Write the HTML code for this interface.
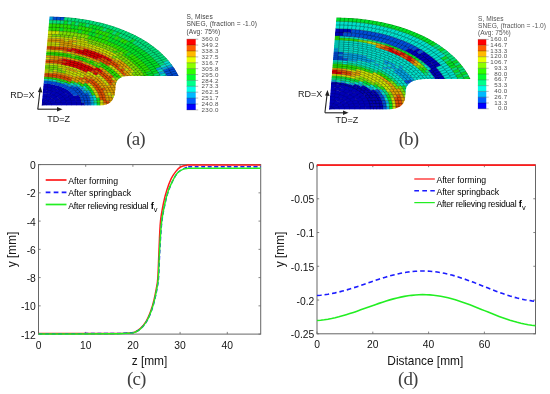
<!DOCTYPE html>
<html><head><meta charset="utf-8">
<style>
html,body{margin:0;padding:0;background:#fff;}
body{width:550px;height:394px;overflow:hidden;}
svg{display:block;}
text{font-family:"Liberation Sans",sans-serif;fill:#222;}
.lg{font-size:6.2px;fill:#505050;letter-spacing:0.35px;}
.hd{font-size:6.6px;fill:#444;letter-spacing:0.15px;}
.hd2{font-size:6.6px;fill:#555;letter-spacing:0.03px;}
.ax{font-size:10.3px;fill:#141414;}
.al{font-size:11.9px;fill:#141414;}
.le{font-size:8.7px;fill:#000;}
.cap{font-family:"Liberation Serif",serif;font-size:19px;fill:#404040;letter-spacing:-0.9px;}
.rd{font-size:9px;fill:#1a1a1a;}
</style></head><body>
<svg width="550" height="394" viewBox="0 0 550 394">
<defs>
<clipPath id="clA"><path d="M49.4 16.6L52.3 16.6L55.2 16.7L58.2 16.8L61.1 16.9L64.0 17.1L66.9 17.3L69.8 17.5L72.6 17.8L75.5 18.1L78.3 18.5L81.1 18.9L84.0 19.3L86.7 19.8L89.5 20.3L92.3 20.8L95.0 21.4L97.7 22.0L100.4 22.6L103.1 23.3L105.7 24.0L108.3 24.7L110.9 25.5L113.4 26.3L116.0 27.2L118.4 28.1L120.9 29.0L123.3 29.9L125.7 30.9L128.1 31.9L130.4 32.9L132.7 34.0L134.9 35.1L137.1 36.3L139.3 37.4L141.4 38.6L143.5 39.8L145.5 41.1L147.5 42.3L149.4 43.6L151.3 45.0L153.2 46.3L155.0 47.7L156.7 49.1L158.5 50.5L160.1 51.9L161.7 53.4L163.3 54.9L164.8 56.4L166.3 57.9L167.7 59.5L169.0 61.1L170.3 62.7L171.6 64.3L172.7 65.9L173.9 67.5L175.0 69.2L176.0 70.9L176.9 72.6L177.9 74.3L178.7 76.0L128.3 76.0Q116.5 76.0 115.6 85.9L115.1 91.3Q113.9 105.5 100.1 105.5L41.6 105.5Z"/></clipPath>
<clipPath id="clB"><path d="M336.3 17.6L339.3 17.6L342.4 17.7L345.4 17.8L348.4 17.9L351.4 18.1L354.4 18.3L357.4 18.5L360.3 18.8L363.3 19.2L366.2 19.5L369.2 19.9L372.1 20.4L375.0 20.9L377.8 21.4L380.7 21.9L383.5 22.5L386.3 23.2L389.1 23.8L391.9 24.5L394.6 25.3L397.3 26.0L400.0 26.8L402.6 27.7L405.2 28.6L407.8 29.5L410.4 30.4L412.9 31.4L415.4 32.4L417.8 33.5L420.2 34.5L422.6 35.6L424.9 36.8L427.2 37.9L429.4 39.1L431.6 40.4L433.8 41.6L435.9 42.9L438.0 44.2L440.0 45.6L442.0 47.0L443.9 48.4L445.8 49.8L447.6 51.2L449.4 52.7L451.1 54.2L452.8 55.7L454.4 57.3L456.0 58.8L457.5 60.4L459.0 62.0L460.4 63.6L461.7 65.3L463.0 67.0L464.3 68.6L465.5 70.3L466.6 72.1L467.7 73.8L468.7 75.5L469.6 77.3L470.5 79.1L425.8 79.1Q406.6 79.1 405.6 91.1L405.1 97.6Q404.2 109.5 386.5 109.5L329.0 109.5Z"/></clipPath>
<filter id="bl" x="-5%" y="-5%" width="110%" height="110%"><feGaussianBlur stdDeviation="0.5"/></filter>
<filter id="gb" x="0" y="0" width="100%" height="100%"><feGaussianBlur stdDeviation="0.3"/></filter>
</defs>
<rect width="550" height="394" fill="#fff"/>
<g filter="url(#gb)">
<!-- (a) -->
<g filter="url(#bl)"><g clip-path="url(#clA)"><path fill="#0000B7" stroke="#0000B7" stroke-width="0.25" d="M46.6 105.5L46.5 104.9L46.3 104.3L41.6 105.5L41.6 105.5L41.6 105.5ZM46.3 104.3L45.9 103.8L45.3 103.3L41.6 105.5L41.6 105.5L41.6 105.5ZM45.3 103.3L44.6 102.9L43.8 102.6L41.6 105.5L41.6 105.5L41.6 105.5ZM43.8 102.6L42.8 102.4L41.9 102.4L41.6 105.5L41.6 105.5L41.6 105.5ZM51.6 105.5L51.5 104.3L51.0 103.1L46.3 104.3L46.5 104.9L46.6 105.5ZM51.0 103.1L50.2 102.0L49.0 101.1L45.3 103.3L45.9 103.8L46.3 104.3ZM49.0 101.1L47.6 100.3L45.9 99.8L43.8 102.6L44.6 102.9L45.3 103.3ZM45.9 99.8L44.1 99.4L42.1 99.3L41.9 102.4L42.8 102.4L43.8 102.6ZM56.6 105.5L56.5 104.0L56.1 102.6L51.3 103.6L51.5 104.5L51.6 105.5ZM56.1 102.6L55.3 101.3L54.2 100.0L50.0 101.8L50.7 102.7L51.3 103.6ZM54.2 100.0L52.8 98.9L51.1 97.9L47.9 100.5L49.0 101.1L50.0 101.8ZM51.1 97.9L49.1 97.2L47.0 96.6L45.2 99.6L46.6 100.0L47.9 100.5ZM47.0 96.6L44.8 96.3L42.4 96.2L42.1 99.3L43.7 99.4L45.2 99.6ZM61.6 105.5L61.5 103.9L61.2 102.3L56.3 103.1L56.6 104.3L56.6 105.5ZM61.2 102.3L60.5 100.7L59.4 99.3L55.0 100.8L55.7 101.9L56.3 103.1ZM59.4 99.3L58.1 97.9L56.5 96.7L52.8 98.9L54.0 99.8L55.0 100.8ZM56.5 96.7L54.6 95.6L52.5 94.7L49.8 97.4L51.4 98.1L52.8 98.9ZM52.5 94.7L50.2 94.0L47.8 93.5L46.3 96.5L48.1 96.9L49.8 97.4ZM47.8 93.5L45.3 93.2L42.7 93.1L42.4 96.2L44.4 96.2L46.3 96.5ZM66.6 105.5L66.6 104.0L66.3 102.5L61.4 103.1L61.6 104.3L61.6 105.5ZM66.3 102.5L65.9 101.0L65.2 99.5L60.5 100.7L61.0 101.9L61.4 103.1ZM65.2 99.5L64.3 98.2L63.1 96.9L58.8 98.6L59.7 99.6L60.5 100.7ZM63.1 96.9L61.8 95.6L60.2 94.5L56.5 96.7L57.7 97.6L58.8 98.6ZM60.2 94.5L58.5 93.5L56.6 92.6L53.6 95.2L55.1 95.9L56.5 96.7ZM56.6 92.6L54.6 91.8L52.4 91.1L50.2 94.0L52.0 94.5L53.6 95.2ZM52.4 91.1L50.2 90.6L47.8 90.2L46.6 93.3L48.4 93.6L50.2 94.0ZM47.8 90.2L45.4 90.0L43.0 89.9L42.7 93.1L44.6 93.1L46.6 93.3ZM71.5 105.5L71.6 104.0L71.4 102.6L66.5 103.1L66.6 104.3L66.6 105.5ZM71.4 102.6L71.1 101.1L70.6 99.7L65.8 100.7L66.2 101.9L66.5 103.1ZM70.6 99.7L69.9 98.4L69.0 97.0L64.5 98.4L65.2 99.5L65.8 100.7ZM69.0 97.0L68.0 95.7L66.8 94.5L62.6 96.4L63.6 97.4L64.5 98.4ZM66.8 94.5L65.4 93.4L63.9 92.3L60.2 94.5L61.5 95.4L62.6 96.4ZM63.9 92.3L62.3 91.3L60.5 90.4L57.4 92.9L58.8 93.7L60.2 94.5ZM60.5 90.4L58.6 89.6L56.7 88.9L54.1 91.6L55.8 92.2L57.4 92.9ZM56.7 88.9L54.6 88.3L52.4 87.7L50.6 90.7L52.4 91.1L54.1 91.6ZM52.4 87.7L50.2 87.3L47.9 87.1L46.9 90.1L48.8 90.4L50.6 90.7ZM47.9 87.1L45.6 86.9L43.2 86.8L43.0 89.9L44.9 90.0L46.9 90.1ZM76.5 105.5L76.6 104.1L76.5 102.7L71.5 103.1L71.6 104.3L71.5 105.5ZM76.5 102.7L76.2 101.3L75.8 99.9L70.9 100.7L71.3 101.9L71.5 103.1ZM75.8 99.9L75.3 98.5L74.6 97.2L69.9 98.4L70.5 99.5L70.9 100.7ZM74.6 97.2L73.8 95.9L72.8 94.6L68.4 96.2L69.2 97.2L69.9 98.4ZM72.8 94.6L71.7 93.4L70.5 92.2L66.4 94.1L67.4 95.1L68.4 96.2ZM70.5 92.2L69.1 91.1L67.7 90.1L63.9 92.3L65.2 93.2L66.4 94.1ZM67.7 90.1L66.1 89.1L64.4 88.2L61.1 90.7L62.6 91.5L63.9 92.3ZM64.4 88.2L62.6 87.4L60.7 86.6L58.0 89.3L59.6 90.0L61.1 90.7ZM60.7 86.6L58.8 86.0L56.7 85.4L54.6 88.3L56.3 88.8L58.0 89.3ZM56.7 85.4L54.6 84.9L52.5 84.5L50.9 87.5L52.8 87.8L54.6 88.3ZM52.5 84.5L50.3 84.1L48.1 83.9L47.1 87.0L49.0 87.2L50.9 87.5ZM48.1 83.9L45.8 83.8L43.5 83.7L43.2 86.8L45.2 86.9L47.1 87.0ZM81.5 105.5L81.6 104.1L81.5 102.7L76.5 103.1L76.6 104.3L76.5 105.5ZM81.5 102.7L81.3 101.3L81.0 100.0L76.1 100.7L76.4 101.9L76.5 103.1ZM81.0 100.0L80.6 98.6L80.0 97.3L75.2 98.3L75.7 99.5L76.1 100.7ZM80.0 97.3L79.3 96.0L78.5 94.7L73.9 96.0L74.6 97.2L75.2 98.3ZM84.6 105.5L84.7 104.1L84.6 102.7L81.5 102.9L81.6 104.2L81.5 105.5Z"/><path fill="#004ED6" stroke="#004ED6" stroke-width="0.25" d="M78.5 94.7L77.6 93.5L76.6 92.3L72.2 93.9L73.1 95.0L73.9 96.0ZM76.6 92.3L75.4 91.1L74.2 90.0L70.1 91.9L71.2 92.9L72.2 93.9ZM74.2 90.0L72.8 88.9L71.4 87.9L67.7 90.1L68.9 91.0L70.1 91.9ZM71.4 87.9L69.8 86.9L68.2 86.0L64.9 88.5L66.3 89.3L67.7 90.1ZM68.2 86.0L66.5 85.2L64.7 84.4L61.8 87.1L63.4 87.7L64.9 88.5ZM64.7 84.4L62.8 83.7L60.9 83.1L58.5 85.9L60.2 86.4L61.8 87.1ZM60.9 83.1L58.9 82.5L56.8 82.0L54.9 84.9L56.7 85.4L58.5 85.9ZM56.8 82.0L54.8 81.6L52.6 81.2L51.2 84.3L53.1 84.6L54.9 84.9ZM52.6 81.2L50.4 81.0L48.2 80.8L47.4 83.9L49.3 84.0L51.2 84.3ZM48.2 80.8L46.0 80.6L43.8 80.6L43.5 83.7L45.5 83.8L47.4 83.9ZM84.6 102.7L84.5 101.3L84.2 99.9L81.1 100.3L81.4 101.6L81.5 102.9ZM84.2 99.9L83.8 98.6L83.2 97.2L80.2 97.8L80.7 99.1L81.1 100.3ZM83.2 97.2L82.6 95.9L81.9 94.6L79.0 95.4L79.7 96.6L80.2 97.8ZM81.9 94.6L81.0 93.3L80.0 92.1L77.3 93.1L78.2 94.2L79.0 95.4ZM80.0 92.1L79.0 90.9L77.8 89.7L75.2 90.9L76.3 91.9L77.3 93.1ZM77.8 89.7L76.5 88.6L75.1 87.6L72.7 88.8L74.0 89.8L75.2 90.9ZM75.1 87.6L73.7 86.5L72.1 85.6L69.9 87.0L71.4 87.9L72.7 88.8ZM87.7 105.5L87.8 104.2L87.7 102.8L84.7 103.0L84.7 104.3L84.6 105.5ZM87.7 102.8L87.6 101.5L87.4 100.2L84.3 100.6L84.5 101.8L84.7 103.0ZM87.4 100.2L87.1 98.9L86.6 97.6L83.6 98.2L84.0 99.4L84.3 100.6ZM86.6 97.6L86.1 96.4L85.5 95.1L82.6 95.8L83.1 97.0L83.6 98.2ZM85.5 95.1L84.8 93.9L84.0 92.7L81.2 93.5L81.9 94.7L82.6 95.8ZM84.0 92.7L83.1 91.5L82.1 90.4L79.4 91.4L80.3 92.5L81.2 93.5ZM82.1 90.4L81.1 89.3L79.9 88.2L77.3 89.3L78.4 90.3L79.4 91.4ZM79.9 88.2L78.7 87.1L77.4 86.1L75.0 87.4L76.2 88.4L77.3 89.3ZM90.8 105.5L90.9 104.2L90.8 102.8L87.8 103.0L87.8 104.2L87.7 105.5ZM90.8 102.8L90.7 101.5L90.5 100.2L87.4 100.5L87.6 101.7L87.8 103.0ZM90.5 100.2L90.2 98.9L89.8 97.6L86.8 98.1L87.2 99.3L87.4 100.5ZM89.8 97.6L89.3 96.3L88.8 95.0L85.8 95.7L86.3 96.9L86.8 98.1ZM88.8 95.0L88.1 93.8L87.3 92.5L84.5 93.4L85.2 94.5L85.8 95.7ZM178.5 105.5L178.6 104.3L178.7 103.1L172.9 103.2L172.9 104.4L172.8 105.5ZM178.7 103.1L178.7 101.9L178.7 100.7L173.0 100.9L173.0 102.1L172.9 103.2ZM178.7 100.7L178.7 99.5L178.6 98.3L172.9 98.6L173.0 99.8L173.0 100.9ZM178.6 98.3L178.6 97.1L178.5 95.9L172.8 96.3L172.9 97.5L172.9 98.6ZM178.5 95.9L178.3 94.8L178.2 93.6L172.5 94.1L172.7 95.2L172.8 96.3ZM178.2 93.6L178.0 92.4L177.8 91.2L172.1 91.8L172.3 92.9L172.5 94.1ZM177.8 91.2L177.6 90.0L177.3 88.9L171.7 89.5L171.9 90.7L172.1 91.8ZM177.3 88.9L177.0 87.7L176.7 86.5L171.1 87.3L171.4 88.4L171.7 89.5ZM176.7 86.5L176.4 85.3L176.0 84.2L170.4 85.1L170.8 86.2L171.1 87.3ZM176.0 84.2L175.6 83.0L175.2 81.9L169.7 82.9L170.1 84.0L170.4 85.1ZM175.2 81.9L174.8 80.7L174.3 79.6L168.8 80.7L169.2 81.8L169.7 82.9ZM174.3 79.6L173.8 78.4L173.3 77.3L167.8 78.5L168.3 79.6L168.8 80.7ZM173.3 77.3L172.7 76.2L172.2 75.1L166.7 76.3L167.3 77.4L167.8 78.5ZM172.2 75.1L171.6 73.9L170.9 72.8L165.6 74.2L166.2 75.3L166.7 76.3ZM170.9 72.8L170.3 71.7L169.6 70.6L164.3 72.1L164.9 73.1L165.6 74.2ZM169.6 70.6L168.9 69.6L168.2 68.5L162.9 70.0L163.6 71.1L164.3 72.1ZM184.2 105.5L184.3 104.3L184.4 103.1L178.6 103.2L178.6 104.4L178.5 105.5ZM184.4 103.1L184.4 102.0L184.4 100.8L178.7 101.0L178.7 102.1L178.6 103.2ZM184.4 100.8L184.4 99.6L184.4 98.4L178.7 98.7L178.7 99.8L178.7 101.0ZM184.4 98.4L184.3 97.2L184.2 96.1L178.5 96.4L178.6 97.6L178.7 98.7ZM184.2 96.1L184.1 94.9L184.0 93.7L178.3 94.2L178.4 95.3L178.5 96.4ZM184.0 93.7L183.8 92.5L183.6 91.4L177.9 91.9L178.1 93.0L178.3 94.2ZM183.6 91.4L183.4 90.2L183.2 89.0L177.5 89.7L177.7 90.8L177.9 91.9ZM183.2 89.0L182.9 87.9L182.6 86.7L177.0 87.5L177.3 88.6L177.5 89.7ZM182.6 86.7L182.3 85.6L182.0 84.4L176.4 85.2L176.7 86.4L177.0 87.5ZM182.0 84.4L181.6 83.3L181.2 82.1L175.6 83.0L176.0 84.1L176.4 85.2ZM181.2 82.1L180.8 81.0L180.4 79.8L174.8 80.9L175.2 82.0L175.6 83.0ZM180.4 79.8L179.9 78.7L179.4 77.6L173.9 78.7L174.4 79.8L174.8 80.9ZM179.4 77.6L178.9 76.5L178.4 75.3L172.9 76.5L173.4 77.6L173.9 78.7ZM178.4 75.3L177.8 74.2L177.2 73.1L171.8 74.4L172.4 75.5L172.9 76.5ZM177.2 73.1L176.6 72.0L176.0 70.9L170.6 72.3L171.2 73.4L171.8 74.4ZM176.0 70.9L175.4 69.8L174.7 68.8L169.4 70.2L170.0 71.3L170.6 72.3ZM174.7 68.8L174.0 67.7L173.3 66.6L168.0 68.2L168.7 69.2L169.4 70.2ZM64.5 17.1L62.6 17.0L60.8 16.9L60.0 20.4L61.8 20.5L63.6 20.6ZM60.8 16.9L58.9 16.8L57.0 16.7L56.4 20.3L58.2 20.3L60.0 20.4ZM57.0 16.7L55.1 16.7L53.2 16.6L52.7 20.2L54.5 20.2L56.4 20.3Z"/><path fill="#00A2E0" stroke="#00A2E0" stroke-width="0.25" d="M72.1 85.6L70.5 84.7L68.8 83.8L66.8 85.4L68.4 86.2L69.9 87.0ZM68.8 83.8L67.0 83.0L65.1 82.3L63.5 83.9L65.2 84.6L66.8 85.4ZM77.4 86.1L76.0 85.2L74.5 84.3L72.3 85.7L73.7 86.5L75.0 87.4ZM87.3 92.5L86.5 91.3L85.6 90.2L82.8 91.1L83.7 92.2L84.5 93.4ZM85.6 90.2L84.5 89.0L83.4 87.9L80.8 89.0L81.8 90.1L82.8 91.1ZM83.4 87.9L82.3 86.8L81.0 85.8L78.5 87.0L79.7 88.0L80.8 89.0ZM93.9 105.5L94.0 104.2L93.9 102.8L90.9 103.0L90.9 104.2L90.8 105.5ZM93.9 102.8L93.8 101.5L93.6 100.1L90.6 100.5L90.8 101.7L90.9 103.0ZM93.6 100.1L93.4 98.8L93.0 97.5L90.0 98.0L90.3 99.2L90.6 100.5ZM93.0 97.5L92.5 96.2L92.0 94.9L89.0 95.5L89.5 96.7L90.0 98.0ZM92.0 94.9L91.3 93.7L90.6 92.4L87.7 93.2L88.4 94.4L89.0 95.5ZM90.6 92.4L89.8 91.2L88.9 90.0L86.1 90.9L87.0 92.0L87.7 93.2ZM172.7 96.0L172.6 94.8L172.4 93.6L166.8 94.2L166.9 95.3L167.0 96.4ZM172.4 93.6L172.3 92.5L172.0 91.3L166.4 91.9L166.6 93.0L166.8 94.2ZM170.2 84.3L169.8 83.2L169.3 82.0L163.8 83.1L164.2 84.2L164.6 85.3ZM169.3 82.0L168.9 80.9L168.4 79.8L162.9 80.9L163.3 82.0L163.8 83.1ZM164.9 73.1L164.2 72.0L163.5 70.9L158.2 72.4L158.9 73.5L159.5 74.5ZM162.1 68.8L161.3 67.7L160.5 66.7L155.3 68.4L156.1 69.4L156.8 70.4ZM168.2 68.5L167.4 67.4L166.7 66.3L161.5 68.0L162.2 69.0L162.9 70.0ZM173.3 66.6L172.5 65.6L171.7 64.5L166.5 66.1L167.3 67.2L168.0 68.2ZM53.2 16.6L51.3 16.6L49.4 16.6L49.1 20.2L50.9 20.2L52.7 20.2Z"/><path fill="#00E07A" stroke="#00E07A" stroke-width="0.25" d="M65.1 82.3L63.2 81.6L61.2 81.0L59.8 82.8L61.7 83.3L63.5 83.9ZM61.2 81.0L59.2 80.5L57.1 80.0L56.0 81.8L57.9 82.3L59.8 82.8ZM78.3 83.8L76.8 82.9L75.3 82.0L73.2 83.5L74.6 84.3L76.0 85.2ZM88.9 90.0L88.0 88.8L86.9 87.7L84.3 88.7L85.2 89.8L86.1 90.9ZM97.0 102.8L96.9 101.4L96.8 100.1L93.7 100.4L93.9 101.7L93.9 102.9ZM167.1 105.5L167.2 104.3L167.2 103.1L161.5 103.2L161.5 104.4L161.4 105.5ZM167.2 103.1L167.3 101.9L167.3 100.7L161.6 100.9L161.6 102.1L161.5 103.2ZM167.3 100.7L167.2 99.5L167.2 98.3L161.5 98.6L161.5 99.8L161.6 100.9ZM167.2 98.3L167.1 97.1L167.0 95.9L161.3 96.3L161.4 97.5L161.5 98.6ZM167.0 95.9L166.8 94.7L166.7 93.5L161.0 94.0L161.1 95.2L161.3 96.3ZM166.7 93.5L166.4 92.3L166.2 91.1L160.5 91.8L160.8 92.9L161.0 94.0ZM166.2 91.1L165.9 89.9L165.7 88.8L160.0 89.5L160.3 90.6L160.5 91.8ZM165.7 88.8L165.3 87.6L165.0 86.4L159.4 87.3L159.7 88.4L160.0 89.5ZM165.0 86.4L164.6 85.3L164.2 84.1L158.6 85.1L159.0 86.2L159.4 87.3ZM164.2 84.1L163.7 82.9L163.3 81.8L157.7 82.9L158.2 84.0L158.6 85.1ZM163.3 81.8L162.8 80.6L162.2 79.5L156.8 80.7L157.3 81.8L157.7 82.9ZM162.2 79.5L161.7 78.4L161.1 77.2L155.7 78.5L156.2 79.6L156.8 80.7ZM161.1 77.2L160.5 76.1L159.8 75.0L154.5 76.4L155.1 77.5L155.7 78.5ZM159.8 75.0L159.2 73.9L158.5 72.8L153.2 74.3L153.8 75.3L154.5 76.4ZM165.0 64.2L164.2 63.2L163.3 62.1L158.2 63.9L159.1 64.9L159.9 65.9ZM163.3 62.1L162.4 61.1L161.5 60.1L156.5 62.0L157.4 63.0L158.2 63.9ZM161.5 60.1L160.6 59.1L159.6 58.1L154.7 60.1L155.6 61.0L156.5 62.0ZM159.6 58.1L158.6 57.1L157.6 56.1L152.7 58.2L153.7 59.1L154.7 60.1ZM157.6 56.1L156.5 55.1L155.5 54.2L150.7 56.3L151.8 57.2L152.7 58.2ZM155.5 54.2L154.4 53.2L153.3 52.3L148.6 54.5L149.7 55.4L150.7 56.3ZM153.3 52.3L152.2 51.4L151.0 50.4L146.5 52.7L147.6 53.6L148.6 54.5ZM151.0 50.4L149.9 49.5L148.7 48.6L144.2 51.0L145.3 51.9L146.5 52.7ZM148.7 48.6L147.5 47.7L146.2 46.9L141.9 49.3L143.0 50.2L144.2 51.0ZM146.2 46.9L145.0 46.0L143.7 45.2L139.4 47.7L140.7 48.5L141.9 49.3ZM143.7 45.2L142.4 44.3L141.1 43.5L136.9 46.1L138.2 46.9L139.4 47.7ZM141.1 43.5L139.8 42.7L138.4 41.9L134.4 44.5L135.7 45.3L136.9 46.1ZM138.4 41.9L137.0 41.1L135.6 40.3L131.7 43.0L133.1 43.8L134.4 44.5ZM132.8 38.8L131.4 38.0L129.9 37.3L126.2 40.2L127.6 40.8L129.0 41.6ZM129.9 37.3L128.4 36.6L126.9 35.9L123.4 38.8L124.8 39.5L126.2 40.2ZM126.9 35.9L125.4 35.2L123.9 34.5L120.5 37.5L121.9 38.1L123.4 38.8ZM123.9 34.5L122.3 33.9L120.8 33.2L117.5 36.2L119.0 36.9L120.5 37.5ZM117.6 32.0L116.0 31.4L114.4 30.8L111.3 33.9L112.9 34.5L114.4 35.1ZM107.7 28.6L106.1 28.1L104.3 27.6L101.7 30.8L103.4 31.3L105.0 31.8ZM90.3 24.2L88.5 23.8L86.7 23.5L84.8 26.9L86.6 27.2L88.3 27.6ZM79.4 22.3L77.5 22.0L75.7 21.8L74.2 25.3L76.0 25.5L77.8 25.8ZM71.9 21.4L70.0 21.2L68.2 21.0L67.0 24.5L68.9 24.7L70.7 24.9ZM64.4 20.7L62.5 20.6L60.6 20.5L59.8 24.0L61.6 24.1L63.4 24.2ZM60.6 20.5L58.7 20.4L56.8 20.3L56.1 23.8L58.0 23.9L59.8 24.0ZM56.8 20.3L54.8 20.2L52.9 20.2L52.5 23.7L54.3 23.8L56.1 23.8ZM52.9 20.2L51.0 20.2L49.1 20.2L48.8 23.7L50.6 23.7L52.5 23.7ZM168.4 60.4L167.5 59.4L166.6 58.3L161.6 60.2L162.5 61.2L163.3 62.2ZM166.6 58.3L165.7 57.3L164.7 56.4L159.8 58.3L160.7 59.3L161.6 60.2ZM164.7 56.4L163.8 55.4L162.8 54.4L157.9 56.4L158.9 57.4L159.8 58.3ZM162.8 54.4L161.8 53.4L160.7 52.5L156.0 54.6L157.0 55.5L157.9 56.4ZM160.7 52.5L159.7 51.5L158.6 50.6L153.9 52.8L154.9 53.7L156.0 54.6ZM158.6 50.6L157.5 49.7L156.4 48.8L151.8 51.0L152.8 51.9L153.9 52.8ZM156.4 48.8L155.2 47.9L154.1 47.0L149.6 49.3L150.7 50.2L151.8 51.0ZM154.1 47.0L152.9 46.1L151.7 45.2L147.3 47.6L148.4 48.5L149.6 49.3ZM151.7 45.2L150.4 44.3L149.2 43.5L144.9 46.0L146.1 46.8L147.3 47.6ZM149.2 43.5L147.9 42.6L146.7 41.8L142.5 44.4L143.7 45.2L144.9 46.0ZM146.7 41.8L145.4 41.0L144.1 40.2L140.0 42.8L141.2 43.6L142.5 44.4ZM144.1 40.2L142.7 39.4L141.4 38.6L137.4 41.3L138.7 42.0L140.0 42.8ZM141.4 38.6L140.0 37.8L138.6 37.1L134.7 39.8L136.1 40.5L137.4 41.3ZM138.6 37.1L137.2 36.3L135.8 35.6L132.0 38.4L133.4 39.1L134.7 39.8ZM135.8 35.6L134.4 34.9L132.9 34.1L129.3 37.0L130.6 37.7L132.0 38.4ZM132.9 34.1L131.4 33.4L129.9 32.8L126.4 35.7L127.8 36.3L129.3 37.0ZM129.9 32.8L128.4 32.1L126.9 31.4L123.5 34.4L125.0 35.0L126.4 35.7ZM126.9 31.4L125.4 30.8L123.9 30.1L120.6 33.2L122.0 33.8L123.5 34.4ZM123.9 30.1L122.3 29.5L120.7 28.9L117.5 32.0L119.1 32.6L120.6 33.2ZM120.7 28.9L119.1 28.3L117.5 27.7L114.5 30.8L116.0 31.4L117.5 32.0ZM117.5 27.7L115.9 27.2L114.3 26.6L111.4 29.8L112.9 30.3L114.5 30.8ZM114.3 26.6L112.6 26.1L111.0 25.6L108.2 28.7L109.8 29.3L111.4 29.8ZM111.0 25.6L109.3 25.0L107.6 24.5L105.0 27.8L106.6 28.3L108.2 28.7ZM107.6 24.5L105.9 24.1L104.2 23.6L101.7 26.9L103.4 27.3L105.0 27.8ZM104.2 23.6L102.5 23.1L100.8 22.7L98.4 26.0L100.1 26.4L101.7 26.9ZM100.8 22.7L99.1 22.3L97.3 21.9L95.1 25.2L96.8 25.6L98.4 26.0ZM97.3 21.9L95.6 21.5L93.8 21.1L91.7 24.5L93.4 24.8L95.1 25.2ZM93.8 21.1L92.0 20.7L90.2 20.4L88.3 23.8L90.0 24.1L91.7 24.5ZM90.2 20.4L88.4 20.1L86.6 19.7L84.8 23.2L86.6 23.5L88.3 23.8ZM86.6 19.7L84.8 19.4L83.0 19.1L81.4 22.6L83.1 22.9L84.8 23.2ZM83.0 19.1L81.2 18.9L79.4 18.6L77.9 22.1L79.6 22.3L81.4 22.6ZM79.4 18.6L77.5 18.4L75.7 18.1L74.3 21.6L76.1 21.9L77.9 22.1ZM75.7 18.1L73.8 17.9L72.0 17.7L70.8 21.2L72.5 21.4L74.3 21.6ZM72.0 17.7L70.1 17.6L68.3 17.4L67.2 20.9L69.0 21.1L70.8 21.2ZM68.3 17.4L66.4 17.2L64.5 17.1L63.6 20.6L65.4 20.8L67.2 20.9Z"/><path fill="#00E0CC" stroke="#00E0CC" stroke-width="0.25" d="M57.1 80.0L55.0 79.6L52.8 79.3L52.0 81.2L54.0 81.5L56.0 81.8ZM52.8 79.3L50.7 79.0L48.4 78.8L47.9 80.7L50.0 80.9L52.0 81.2ZM48.4 78.8L46.2 78.7L44.0 78.7L43.8 80.6L45.9 80.6L47.9 80.7ZM74.5 84.3L73.0 83.4L71.4 82.6L69.4 84.1L70.9 84.9L72.3 85.7ZM81.0 85.8L79.7 84.8L78.3 83.8L76.0 85.2L77.3 86.1L78.5 87.0ZM86.9 87.7L85.8 86.6L84.6 85.5L82.1 86.7L83.2 87.7L84.3 88.7ZM97.0 105.5L97.1 104.1L97.0 102.8L93.9 102.9L94.0 104.2L93.9 105.5ZM96.8 100.1L96.5 98.8L96.2 97.4L93.1 97.9L93.4 99.1L93.7 100.4ZM96.2 97.4L95.7 96.1L95.2 94.8L92.2 95.4L92.7 96.7L93.1 97.9ZM172.8 105.5L172.9 104.3L172.9 103.1L167.2 103.2L167.2 104.4L167.1 105.5ZM172.9 103.1L173.0 101.9L173.0 100.7L167.3 101.0L167.3 102.1L167.2 103.2ZM173.0 100.7L173.0 99.6L172.9 98.4L167.2 98.7L167.3 99.8L167.3 101.0ZM172.9 98.4L172.8 97.2L172.7 96.0L167.0 96.4L167.1 97.5L167.2 98.7ZM172.0 91.3L171.8 90.1L171.5 89.0L165.9 89.7L166.1 90.8L166.4 91.9ZM171.5 89.0L171.2 87.8L170.9 86.6L165.3 87.5L165.6 88.6L165.9 89.7ZM170.9 86.6L170.6 85.5L170.2 84.3L164.6 85.3L165.0 86.4L165.3 87.5ZM168.4 79.8L167.9 78.6L167.3 77.5L161.9 78.7L162.4 79.8L162.9 80.9ZM167.3 77.5L166.8 76.4L166.2 75.3L160.8 76.6L161.3 77.7L161.9 78.7ZM166.2 75.3L165.6 74.2L164.9 73.1L159.5 74.5L160.2 75.6L160.8 76.6ZM163.5 70.9L162.8 69.9L162.1 68.8L156.8 70.4L157.5 71.4L158.2 72.4ZM166.7 66.3L165.9 65.3L165.0 64.2L159.9 65.9L160.7 66.9L161.5 68.0ZM171.7 64.5L170.9 63.5L170.1 62.4L165.0 64.1L165.8 65.1L166.5 66.1ZM170.1 62.4L169.3 61.4L168.4 60.4L163.3 62.2L164.2 63.2L165.0 64.1Z"/><path fill="#28E000" stroke="#28E000" stroke-width="0.25" d="M71.4 82.6L69.7 81.8L68.0 81.1L66.2 82.7L67.9 83.4L69.4 84.1ZM68.0 81.1L66.2 80.4L64.4 79.8L62.9 81.5L64.6 82.1L66.2 82.7ZM64.4 79.8L62.5 79.2L60.6 78.7L59.3 80.5L61.1 81.0L62.9 81.5ZM60.6 78.7L58.6 78.2L56.6 77.9L55.6 79.7L57.5 80.1L59.3 80.5ZM56.6 77.9L54.6 77.5L52.6 77.2L51.8 79.1L53.7 79.4L55.6 79.7ZM52.6 77.2L50.5 77.0L48.4 76.9L47.9 78.8L49.9 78.9L51.8 79.1ZM48.4 76.9L46.2 76.8L44.1 76.8L44.0 78.7L45.9 78.7L47.9 78.8ZM75.3 82.0L73.7 81.2L72.0 80.4L70.1 82.0L71.7 82.7L73.2 83.5ZM84.6 85.5L83.3 84.4L82.0 83.4L79.6 84.7L80.9 85.7L82.1 86.7ZM82.0 83.4L80.6 82.5L79.1 81.5L76.9 82.9L78.3 83.8L79.6 84.7ZM95.2 94.8L94.6 93.6L93.9 92.3L91.0 93.0L91.6 94.2L92.2 95.4ZM100.1 102.8L100.1 101.4L99.9 100.1L96.8 100.4L97.0 101.6L97.0 102.9ZM100.6 67.0L99.1 66.1L97.5 65.2L95.4 66.7L96.9 67.5L98.4 68.4ZM97.5 65.2L95.8 64.4L94.2 63.5L92.2 65.1L93.8 65.9L95.4 66.7ZM94.2 63.5L92.5 62.8L90.7 62.0L88.9 63.6L90.6 64.3L92.2 65.1ZM90.7 62.0L88.9 61.3L87.1 60.6L85.4 62.3L87.2 62.9L88.9 63.6ZM87.1 60.6L85.3 59.9L83.4 59.3L81.9 61.0L83.7 61.6L85.4 62.3ZM83.4 59.3L81.5 58.7L79.6 58.1L78.2 59.9L80.0 60.4L81.9 61.0ZM79.6 58.1L77.6 57.6L75.7 57.1L74.4 58.9L76.3 59.4L78.2 59.9ZM75.7 57.1L73.7 56.6L71.6 56.2L70.5 58.0L72.5 58.4L74.4 58.9ZM71.6 56.2L69.6 55.8L67.5 55.4L66.6 57.3L68.5 57.6L70.5 58.0ZM67.5 55.4L65.4 55.1L63.3 54.8L62.5 56.7L64.6 56.9L66.6 57.3ZM63.3 54.8L61.2 54.5L59.1 54.3L58.5 56.2L60.5 56.4L62.5 56.7ZM59.1 54.3L57.0 54.1L54.8 53.9L54.3 55.8L56.4 56.0L58.5 56.2ZM54.8 53.9L52.7 53.8L50.5 53.7L50.2 55.6L52.3 55.7L54.3 55.8ZM50.5 53.7L48.3 53.7L46.2 53.6L46.0 55.6L48.1 55.6L50.2 55.6ZM117.3 77.0L116.2 75.9L115.1 74.8L112.5 75.9L113.6 77.0L114.6 78.1ZM115.1 74.8L113.9 73.7L112.7 72.6L110.2 73.8L111.3 74.8L112.5 75.9ZM112.7 72.6L111.4 71.5L110.1 70.5L107.7 71.7L108.9 72.7L110.2 73.8ZM110.1 70.5L108.8 69.4L107.4 68.4L105.0 69.8L106.4 70.7L107.7 71.7ZM107.4 68.4L105.9 67.5L104.5 66.5L102.2 67.9L103.6 68.8L105.0 69.8ZM104.5 66.5L102.9 65.6L101.4 64.7L99.2 66.2L100.7 67.0L102.2 67.9ZM94.8 61.4L93.0 60.6L91.2 59.9L89.5 61.5L91.2 62.2L92.9 62.9ZM87.6 58.5L85.7 57.8L83.8 57.2L82.3 58.9L84.1 59.5L85.9 60.2ZM83.8 57.2L81.9 56.6L80.0 56.1L78.6 57.8L80.5 58.4L82.3 58.9ZM80.0 56.1L78.0 55.6L76.0 55.1L74.8 56.9L76.7 57.3L78.6 57.8ZM71.9 54.2L69.9 53.8L67.8 53.4L66.9 55.3L68.9 55.6L70.8 56.0ZM67.8 53.4L65.7 53.1L63.6 52.8L62.8 54.7L64.8 55.0L66.9 55.3ZM63.6 52.8L61.5 52.6L59.3 52.3L58.7 54.2L60.8 54.5L62.8 54.7ZM59.3 52.3L57.2 52.1L55.0 52.0L54.5 53.9L56.6 54.1L58.7 54.2ZM55.0 52.0L52.9 51.9L50.7 51.8L50.4 53.7L52.5 53.8L54.5 53.9ZM50.7 51.8L48.5 51.7L46.3 51.7L46.2 53.6L48.3 53.7L50.4 53.7ZM123.3 80.0L122.4 78.8L121.4 77.6L118.7 78.6L119.6 79.7L120.4 80.9ZM121.4 77.6L120.4 76.5L119.4 75.4L116.7 76.4L117.7 77.5L118.7 78.6ZM119.4 75.4L118.3 74.3L117.2 73.2L114.6 74.3L115.7 75.4L116.7 76.4ZM117.2 73.2L116.1 72.1L114.9 71.1L112.3 72.3L113.5 73.3L114.6 74.3ZM114.9 71.1L113.6 70.0L112.3 69.0L109.9 70.3L111.1 71.3L112.3 72.3ZM112.3 69.0L111.0 68.0L109.6 67.1L107.3 68.4L108.6 69.3L109.9 70.3ZM109.6 67.1L108.2 66.1L106.8 65.2L104.6 66.6L105.9 67.5L107.3 68.4ZM106.8 65.2L105.3 64.3L103.8 63.4L101.7 64.9L103.1 65.7L104.6 66.6ZM103.8 63.4L102.3 62.5L100.7 61.7L98.6 63.2L100.2 64.0L101.7 64.9ZM152.6 105.5L152.7 104.2L152.7 102.8L149.6 102.9L149.6 104.2L149.5 105.5ZM152.7 102.8L152.8 101.5L152.7 100.2L149.6 100.4L149.7 101.6L149.6 102.9ZM152.7 100.2L152.7 98.9L152.6 97.6L149.5 97.8L149.6 99.1L149.6 100.4ZM152.6 97.6L152.4 96.2L152.2 94.9L149.1 95.2L149.3 96.5L149.5 97.8ZM152.2 94.9L152.0 93.6L151.7 92.3L148.7 92.7L148.9 94.0L149.1 95.2ZM151.7 92.3L151.4 91.0L151.1 89.7L148.0 90.2L148.3 91.4L148.7 92.7ZM151.1 89.7L150.7 88.4L150.2 87.2L147.2 87.7L147.6 88.9L148.0 90.2ZM150.2 87.2L149.8 85.9L149.2 84.6L146.3 85.2L146.7 86.4L147.2 87.7ZM149.2 84.6L148.7 83.4L148.1 82.1L145.1 82.8L145.7 84.0L146.3 85.2ZM148.1 82.1L147.5 80.9L146.8 79.6L143.9 80.4L144.5 81.6L145.1 82.8ZM146.8 79.6L146.1 78.4L145.4 77.2L142.5 78.0L143.2 79.2L143.9 80.4ZM145.4 77.2L144.6 76.0L143.8 74.8L140.9 75.7L141.7 76.8L142.5 78.0ZM116.9 52.1L115.3 51.3L113.7 50.5L111.7 52.0L113.3 52.8L114.8 53.6ZM155.7 105.5L155.8 104.2L155.8 102.8L152.7 102.9L152.7 104.2L152.6 105.5ZM155.8 102.8L155.9 101.5L155.8 100.2L152.7 100.3L152.8 101.6L152.7 102.9ZM155.8 100.2L155.8 98.9L155.7 97.5L152.6 97.8L152.7 99.0L152.7 100.3ZM155.7 97.5L155.5 96.2L155.3 94.9L152.3 95.2L152.4 96.5L152.6 97.8ZM155.3 94.9L155.1 93.6L154.9 92.3L151.8 92.6L152.0 93.9L152.3 95.2ZM154.9 92.3L154.5 91.0L154.2 89.7L151.2 90.1L151.5 91.4L151.8 92.6ZM154.2 89.7L153.8 88.4L153.4 87.1L150.4 87.6L150.8 88.8L151.2 90.1ZM153.4 87.1L152.9 85.8L152.5 84.5L149.4 85.1L149.9 86.3L150.4 87.6ZM152.5 84.5L151.9 83.3L151.3 82.0L148.4 82.6L148.9 83.9L149.4 85.1ZM151.3 82.0L150.7 80.8L150.1 79.5L147.1 80.2L147.8 81.4L148.4 82.6ZM150.1 79.5L149.4 78.3L148.7 77.1L145.8 77.8L146.5 79.0L147.1 80.2ZM148.7 77.1L147.9 75.8L147.1 74.6L144.2 75.5L145.0 76.6L145.8 77.8ZM147.1 74.6L146.3 73.4L145.4 72.3L142.6 73.2L143.4 74.3L144.2 75.5ZM145.4 72.3L144.5 71.1L143.5 69.9L140.8 70.9L141.7 72.0L142.6 73.2ZM143.5 69.9L142.5 68.8L141.5 67.7L138.8 68.7L139.8 69.8L140.8 70.9ZM141.5 67.7L140.5 66.5L139.4 65.4L136.7 66.5L137.8 67.6L138.8 68.7ZM139.4 65.4L138.3 64.3L137.1 63.3L134.5 64.4L135.6 65.5L136.7 66.5ZM137.1 63.3L135.9 62.2L134.7 61.2L132.2 62.4L133.4 63.4L134.5 64.4ZM134.7 61.2L133.4 60.1L132.1 59.1L129.7 60.4L130.9 61.4L132.2 62.4ZM132.1 59.1L130.8 58.1L129.5 57.1L127.1 58.4L128.4 59.4L129.7 60.4ZM129.5 57.1L128.1 56.2L126.7 55.2L124.4 56.6L125.7 57.5L127.1 58.4ZM126.7 55.2L125.2 54.3L123.8 53.4L121.5 54.8L123.0 55.7L124.4 56.6ZM120.7 51.6L119.2 50.7L117.6 49.9L115.5 51.4L117.1 52.2L118.6 53.1ZM150.8 71.0L150.0 69.9L149.2 68.9L144.1 70.6L144.9 71.6L145.6 72.6ZM149.2 68.9L148.3 67.8L147.4 66.8L142.4 68.6L143.2 69.6L144.1 70.6ZM147.4 66.8L146.5 65.8L145.6 64.8L140.6 66.7L141.5 67.7L142.4 68.6ZM145.6 64.8L144.6 63.8L143.6 62.8L138.7 64.8L139.7 65.8L140.6 66.7ZM143.6 62.8L142.6 61.8L141.5 60.8L136.8 63.0L137.8 63.9L138.7 64.8ZM141.5 60.8L140.4 59.9L139.3 58.9L134.7 61.2L135.7 62.1L136.8 63.0ZM139.3 58.9L138.2 58.0L137.1 57.1L132.5 59.4L133.6 60.3L134.7 61.2ZM137.1 57.1L135.9 56.2L134.7 55.3L130.2 57.7L131.4 58.5L132.5 59.4ZM134.7 55.3L133.5 54.4L132.2 53.5L127.9 56.0L129.1 56.8L130.2 57.7ZM129.6 51.9L128.3 51.0L127.0 50.2L122.9 52.9L124.2 53.6L125.4 54.4ZM127.0 50.2L125.6 49.4L124.2 48.6L120.3 51.3L121.6 52.1L122.9 52.9ZM124.2 48.6L122.8 47.9L121.4 47.1L117.6 49.9L119.0 50.6L120.3 51.3ZM121.4 47.1L120.0 46.4L118.5 45.7L114.8 48.5L116.2 49.2L117.6 49.9ZM118.5 45.7L117.0 44.9L115.5 44.3L112.0 47.2L113.4 47.8L114.8 48.5ZM115.5 44.3L114.0 43.6L112.4 42.9L109.1 45.9L110.5 46.5L112.0 47.2ZM112.4 42.9L110.9 42.3L109.3 41.6L106.1 44.7L107.6 45.3L109.1 45.9ZM109.3 41.6L107.7 41.0L106.1 40.4L103.0 43.5L104.6 44.1L106.1 44.7ZM106.1 40.4L104.5 39.9L102.8 39.3L99.9 42.4L101.5 43.0L103.0 43.5ZM102.8 39.3L101.2 38.7L99.5 38.2L96.7 41.4L98.3 41.9L99.9 42.4ZM99.5 38.2L97.8 37.7L96.1 37.2L93.5 40.5L95.1 40.9L96.7 41.4ZM96.1 37.2L94.4 36.7L92.6 36.3L90.2 39.6L91.8 40.0L93.5 40.5ZM92.6 36.3L90.9 35.8L89.1 35.4L86.9 38.8L88.5 39.2L90.2 39.6ZM110.3 37.7L108.7 37.2L107.0 36.6L104.0 39.7L105.6 40.3L107.2 40.8ZM107.0 36.6L105.4 36.0L103.7 35.5L100.9 38.7L102.5 39.2L104.0 39.7ZM100.3 34.4L98.6 33.9L96.8 33.5L94.3 36.7L96.0 37.2L97.6 37.7ZM89.8 31.7L88.0 31.3L86.2 30.9L84.2 34.3L85.9 34.7L87.6 35.1ZM86.2 30.9L84.4 30.6L82.5 30.3L80.7 33.7L82.4 34.0L84.2 34.3ZM78.9 29.6L77.0 29.3L75.2 29.1L73.6 32.6L75.4 32.8L77.2 33.1ZM75.2 29.1L73.3 28.8L71.4 28.6L70.1 32.1L71.8 32.3L73.6 32.6ZM71.4 28.6L69.5 28.4L67.6 28.2L66.4 31.7L68.3 31.9L70.1 32.1ZM67.6 28.2L65.7 28.0L63.8 27.9L62.8 31.4L64.6 31.5L66.4 31.7ZM60.0 27.6L58.1 27.5L56.2 27.4L55.5 31.0L57.3 31.0L59.2 31.1ZM56.2 27.4L54.3 27.4L52.3 27.3L51.8 30.9L53.7 30.9L55.5 31.0ZM52.3 27.3L50.4 27.3L48.5 27.3L48.2 30.8L50.0 30.8L51.8 30.9ZM128.6 41.3L127.2 40.6L125.7 39.9L122.0 42.7L123.4 43.4L124.8 44.1ZM125.7 39.9L124.2 39.2L122.7 38.5L119.2 41.4L120.6 42.1L122.0 42.7ZM119.7 37.2L118.1 36.5L116.6 35.9L113.3 38.9L114.8 39.5L116.3 40.1ZM110.2 33.5L108.5 33.0L106.9 32.4L104.1 35.6L105.6 36.1L107.2 36.6ZM106.9 32.4L105.2 31.9L103.5 31.4L100.9 34.6L102.5 35.1L104.1 35.6ZM103.5 31.4L101.9 30.9L100.2 30.4L97.6 33.7L99.2 34.1L100.9 34.6ZM100.2 30.4L98.4 29.9L96.7 29.5L94.3 32.8L96.0 33.2L97.6 33.7ZM93.2 28.6L91.5 28.2L89.7 27.9L87.6 31.2L89.3 31.6L91.0 32.0ZM89.7 27.9L87.9 27.5L86.1 27.1L84.2 30.6L85.9 30.9L87.6 31.2ZM86.1 27.1L84.3 26.8L82.5 26.5L80.7 29.9L82.4 30.2L84.2 30.6ZM82.5 26.5L80.7 26.2L78.8 25.9L77.2 29.4L79.0 29.6L80.7 29.9ZM71.4 25.0L69.6 24.8L67.7 24.6L66.6 28.1L68.4 28.3L70.2 28.5ZM67.7 24.6L65.8 24.4L64.0 24.3L63.0 27.8L64.8 27.9L66.6 28.1ZM64.0 24.3L62.1 24.1L60.2 24.0L59.4 27.6L61.2 27.7L63.0 27.8ZM60.2 24.0L58.3 23.9L56.4 23.9L55.7 27.4L57.6 27.5L59.4 27.6ZM56.4 23.9L54.5 23.8L52.6 23.7L52.1 27.3L53.9 27.3L55.7 27.4ZM52.6 23.7L50.7 23.7L48.8 23.7L48.5 27.3L50.3 27.3L52.1 27.3Z"/><path fill="#E05100" stroke="#E05100" stroke-width="0.25" d="M72.0 80.4L70.3 79.6L68.5 78.9L66.8 80.6L68.5 81.3L70.1 82.0ZM68.5 78.9L66.7 78.3L64.8 77.7L63.4 79.4L65.1 80.0L66.8 80.6ZM64.8 77.7L62.9 77.2L61.0 76.7L59.7 78.5L61.6 78.9L63.4 79.4ZM61.0 76.7L59.0 76.2L56.9 75.9L56.0 77.7L57.9 78.1L59.7 78.5ZM56.9 75.9L54.9 75.6L52.8 75.3L52.1 77.2L54.0 77.4L56.0 77.7ZM52.8 75.3L50.7 75.1L48.6 74.9L48.1 76.9L50.1 77.0L52.1 77.2ZM48.6 74.9L46.4 74.9L44.3 74.8L44.1 76.8L46.1 76.8L48.1 76.9ZM72.6 78.2L70.8 77.5L69.0 76.8L67.4 78.5L69.1 79.2L70.8 79.8ZM69.0 76.8L67.1 76.2L65.2 75.6L63.8 77.4L65.6 77.9L67.4 78.5ZM65.2 75.6L63.3 75.1L61.3 74.7L60.1 76.5L62.0 76.9L63.8 77.4ZM61.3 74.7L59.3 74.3L57.2 73.9L56.3 75.8L58.2 76.1L60.1 76.5ZM57.2 73.9L55.1 73.6L53.0 73.3L52.4 75.2L54.3 75.5L56.3 75.8ZM53.0 73.3L50.9 73.2L48.8 73.0L48.3 74.9L50.4 75.1L52.4 75.2ZM48.8 73.0L46.6 72.9L44.5 72.9L44.3 74.8L46.3 74.9L48.3 74.9ZM89.3 82.8L88.0 81.7L86.6 80.7L84.3 82.0L85.5 83.0L86.8 84.0ZM83.7 78.8L82.2 77.9L80.6 77.0L78.5 78.5L80.0 79.3L81.5 80.2ZM103.0 100.0L102.8 98.7L102.5 97.3L99.4 97.8L99.7 99.0L99.9 100.3ZM102.5 97.3L102.1 96.0L101.6 94.7L98.6 95.2L99.0 96.5L99.4 97.8ZM101.6 94.7L101.1 93.4L100.5 92.1L97.5 92.8L98.1 94.0L98.6 95.2ZM100.5 92.1L99.8 90.8L99.0 89.6L96.1 90.4L96.8 91.6L97.5 92.8ZM99.0 89.6L98.2 88.3L97.2 87.1L94.4 88.0L95.3 89.2L96.1 90.4ZM97.2 87.1L96.3 85.9L95.2 84.8L92.5 85.8L93.5 86.9L94.4 88.0ZM95.2 84.8L94.1 83.6L92.9 82.5L90.3 83.7L91.4 84.7L92.5 85.8ZM92.9 82.5L91.6 81.4L90.3 80.4L87.9 81.6L89.1 82.6L90.3 83.7ZM90.3 80.4L88.9 79.4L87.5 78.4L85.2 79.7L86.6 80.7L87.9 81.6ZM87.5 78.4L86.0 77.4L84.5 76.5L82.3 78.0L83.8 78.8L85.2 79.7ZM106.3 102.7L106.3 101.4L106.1 100.0L103.0 100.3L103.2 101.6L103.2 102.9ZM106.1 100.0L105.9 98.7L105.6 97.3L102.6 97.7L102.8 99.0L103.0 100.3ZM105.6 97.3L105.2 96.0L104.8 94.6L101.8 95.1L102.2 96.4L102.6 97.7ZM104.8 94.6L104.3 93.3L103.7 92.0L100.7 92.6L101.3 93.9L101.8 95.1ZM103.7 92.0L103.0 90.7L102.3 89.4L99.4 90.2L100.1 91.4L100.7 92.6ZM102.3 89.4L101.5 88.2L100.6 87.0L97.8 87.8L98.6 89.0L99.4 90.2ZM100.6 87.0L99.7 85.7L98.7 84.6L95.9 85.6L96.9 86.7L97.8 87.8ZM98.7 84.6L97.6 83.4L96.5 82.3L93.8 83.4L94.9 84.5L95.9 85.6ZM96.5 82.3L95.2 81.1L94.0 80.1L91.5 81.3L92.7 82.3L93.8 83.4ZM94.0 80.1L92.6 79.0L91.3 78.0L88.9 79.3L90.2 80.3L91.5 81.3ZM109.3 105.5L109.4 104.2L109.4 102.8L106.3 103.0L106.3 104.2L106.2 105.5ZM109.4 102.8L109.4 101.5L109.3 100.2L106.2 100.4L106.3 101.7L106.3 103.0ZM105.9 90.0L105.2 88.7L104.5 87.5L101.6 88.3L102.3 89.5L103.0 90.7ZM62.3 62.6L60.3 62.3L58.2 62.1L57.5 64.0L59.4 64.2L61.4 64.5ZM58.2 62.1L56.1 61.8L54.0 61.7L53.4 63.6L55.5 63.8L57.5 64.0ZM54.0 61.7L51.9 61.5L49.7 61.4L49.4 63.3L51.4 63.4L53.4 63.6ZM49.7 61.4L47.6 61.4L45.5 61.3L45.3 63.3L47.3 63.3L49.4 63.3ZM95.3 72.0L93.8 71.1L92.2 70.2L90.1 71.7L91.6 72.5L93.0 73.4ZM66.7 61.4L64.6 61.0L62.6 60.7L61.7 62.5L63.7 62.9L65.6 63.2ZM62.6 60.7L60.5 60.4L58.4 60.1L57.7 62.0L59.7 62.3L61.7 62.5ZM58.4 60.1L56.3 59.9L54.2 59.7L53.7 61.6L55.7 61.8L57.7 62.0ZM54.2 59.7L52.1 59.6L49.9 59.5L49.6 61.4L51.6 61.5L53.7 61.6ZM49.9 59.5L47.8 59.4L45.6 59.4L45.5 61.3L47.5 61.4L49.6 61.4ZM112.8 84.7L111.9 83.5L111.0 82.3L108.2 83.2L109.1 84.4L109.9 85.5ZM111.0 82.3L110.1 81.1L109.0 80.0L106.3 81.0L107.3 82.1L108.2 83.2ZM109.0 80.0L108.0 78.8L106.8 77.7L104.2 78.8L105.3 79.9L106.3 81.0ZM106.8 77.7L105.7 76.6L104.4 75.6L101.9 76.8L103.1 77.8L104.2 78.8ZM104.4 75.6L103.2 74.5L101.8 73.5L99.4 74.8L100.7 75.8L101.9 76.8ZM101.8 73.5L100.4 72.5L99.0 71.6L96.7 72.9L98.1 73.8L99.4 74.8ZM99.0 71.6L97.6 70.6L96.1 69.7L93.9 71.1L95.3 72.0L96.7 72.9ZM62.8 58.7L60.8 58.4L58.7 58.2L58.0 60.1L60.0 60.3L62.0 60.6ZM114.4 82.1L113.5 80.9L112.5 79.8L109.8 80.8L110.7 81.9L111.6 83.0ZM112.5 79.8L111.4 78.6L110.4 77.5L107.7 78.6L108.8 79.6L109.8 80.8ZM110.4 77.5L109.2 76.4L108.0 75.3L105.5 76.4L106.6 77.5L107.7 78.6ZM108.0 75.3L106.8 74.2L105.5 73.2L103.0 74.4L104.3 75.4L105.5 76.4ZM105.5 73.2L104.1 72.2L102.8 71.2L100.4 72.5L101.7 73.4L103.0 74.4ZM83.0 61.4L81.1 60.8L79.2 60.2L77.8 61.9L79.6 62.5L81.4 63.1ZM113.8 77.3L112.7 76.1L111.6 75.0L109.0 76.2L110.1 77.2L111.2 78.3ZM110.5 64.7L109.1 63.8L107.6 62.9L105.4 64.3L106.8 65.2L108.2 66.1ZM107.6 62.9L106.1 62.0L104.6 61.2L102.4 62.6L103.9 63.5L105.4 64.3ZM104.6 61.2L103.0 60.3L101.4 59.5L99.4 61.0L100.9 61.8L102.4 62.6ZM101.4 59.5L99.7 58.7L98.0 57.9L96.1 59.5L97.8 60.3L99.4 61.0ZM75.8 50.9L73.8 50.4L71.8 50.1L70.8 51.9L72.7 52.3L74.6 52.7ZM67.7 49.4L65.6 49.1L63.6 48.8L62.8 50.7L64.8 51.0L66.8 51.3ZM63.6 48.8L61.5 48.6L59.4 48.4L58.8 50.3L60.8 50.5L62.8 50.7ZM59.4 48.4L57.3 48.2L55.2 48.1L54.7 50.0L56.8 50.2L58.8 50.3ZM55.2 48.1L53.0 48.0L50.9 47.9L50.6 49.8L52.7 49.9L54.7 50.0ZM50.9 47.9L48.8 47.9L46.7 47.9L46.5 49.8L48.6 49.8L50.6 49.8ZM126.3 75.0L125.3 73.8L124.2 72.7L121.5 73.7L122.6 74.8L123.6 75.9ZM124.2 72.7L123.1 71.6L122.0 70.5L119.4 71.6L120.5 72.7L121.5 73.7ZM122.0 70.5L120.8 69.4L119.6 68.4L117.0 69.6L118.2 70.6L119.4 71.6ZM119.6 68.4L118.3 67.3L117.0 66.3L114.6 67.6L115.8 68.6L117.0 69.6ZM117.0 66.3L115.6 65.3L114.3 64.3L111.9 65.7L113.3 66.6L114.6 67.6ZM114.3 64.3L112.9 63.4L111.4 62.4L109.1 63.8L110.5 64.7L111.9 65.7ZM111.4 62.4L109.9 61.5L108.4 60.6L106.2 62.1L107.7 63.0L109.1 63.8ZM108.4 60.6L106.8 59.8L105.3 58.9L103.2 60.4L104.7 61.3L106.2 62.1ZM105.3 58.9L103.6 58.1L102.0 57.3L100.0 58.9L101.6 59.6L103.2 60.4ZM72.1 48.1L70.0 47.7L68.0 47.4L67.1 49.3L69.1 49.6L71.1 49.9ZM68.0 47.4L65.9 47.1L63.8 46.9L63.1 48.8L65.1 49.0L67.1 49.3ZM63.8 46.9L61.7 46.7L59.6 46.5L59.0 48.4L61.1 48.6L63.1 48.8ZM59.6 46.5L57.5 46.3L55.4 46.2L54.9 48.1L57.0 48.2L59.0 48.4ZM55.4 46.2L53.2 46.1L51.1 46.0L50.8 47.9L52.9 48.0L54.9 48.1ZM51.1 46.0L49.0 46.0L46.8 45.9L46.7 47.9L48.7 47.9L50.8 47.9ZM125.5 70.2L124.3 69.1L123.1 68.1L120.6 69.2L121.7 70.3L122.9 71.3ZM120.6 66.0L119.3 65.0L118.0 64.0L115.6 65.3L116.9 66.2L118.1 67.2ZM118.0 64.0L116.6 63.0L115.2 62.0L112.9 63.4L114.2 64.3L115.6 65.3ZM115.2 62.0L113.7 61.1L112.2 60.2L110.0 61.6L111.4 62.5L112.9 63.4Z"/><path fill="#E0A200" stroke="#E0A200" stroke-width="0.25" d="M79.1 81.5L77.6 80.6L76.0 79.8L73.9 81.3L75.4 82.1L76.9 82.9ZM76.0 79.8L74.3 79.0L72.6 78.2L70.8 79.8L72.4 80.5L73.9 81.3ZM85.7 83.1L84.3 82.1L82.9 81.1L80.6 82.5L81.9 83.4L83.2 84.3ZM82.9 81.1L81.4 80.1L79.9 79.2L77.7 80.7L79.2 81.6L80.6 82.5ZM79.9 79.2L78.3 78.4L76.6 77.6L74.6 79.1L76.2 79.9L77.7 80.7ZM76.6 77.6L74.9 76.8L73.1 76.1L71.4 77.7L73.0 78.4L74.6 79.1ZM73.1 76.1L71.3 75.4L69.4 74.7L67.9 76.5L69.6 77.1L71.4 77.7ZM69.4 74.7L67.5 74.1L65.6 73.6L64.3 75.4L66.1 75.9L67.9 76.5ZM65.6 73.6L63.6 73.1L61.6 72.7L60.5 74.5L62.4 74.9L64.3 75.4ZM61.6 72.7L59.5 72.3L57.5 71.9L56.6 73.8L58.5 74.1L60.5 74.5ZM57.5 71.9L55.4 71.6L53.3 71.4L52.6 73.3L54.6 73.5L56.6 73.8ZM86.6 80.7L85.2 79.7L83.7 78.8L81.5 80.2L82.9 81.1L84.3 82.0ZM80.6 77.0L78.9 76.2L77.2 75.4L75.3 77.0L76.9 77.7L78.5 78.5ZM106.2 105.5L106.3 104.1L106.3 102.7L103.2 102.9L103.2 104.2L103.2 105.5ZM91.3 78.0L89.8 77.0L88.3 76.0L86.1 77.5L87.5 78.4L88.9 79.3ZM88.3 76.0L86.8 75.1L85.1 74.2L83.1 75.7L84.6 76.6L86.1 77.5ZM78.2 71.1L76.4 70.4L74.5 69.7L72.9 71.4L74.7 72.0L76.5 72.7ZM74.5 69.7L72.6 69.1L70.6 68.5L69.2 70.3L71.1 70.8L72.9 71.4ZM70.6 68.5L68.6 68.0L66.6 67.5L65.4 69.3L67.3 69.8L69.2 70.3ZM109.3 100.2L109.1 98.9L108.8 97.6L105.8 97.9L106.0 99.2L106.2 100.4ZM108.8 97.6L108.5 96.3L108.1 95.0L105.1 95.5L105.5 96.7L105.8 97.9ZM108.1 95.0L107.7 93.7L107.2 92.5L104.2 93.0L104.7 94.3L105.1 95.5ZM107.2 92.5L106.6 91.2L105.9 90.0L103.0 90.7L103.6 91.8L104.2 93.0ZM104.5 87.5L103.6 86.3L102.7 85.2L100.0 86.1L100.8 87.2L101.6 88.3ZM102.7 85.2L101.8 84.0L100.8 82.9L98.1 83.9L99.0 85.0L100.0 86.1ZM100.8 82.9L99.7 81.8L98.6 80.7L96.0 81.8L97.1 82.8L98.1 83.9ZM98.6 80.7L97.4 79.6L96.2 78.6L93.7 79.8L94.8 80.8L96.0 81.8ZM96.2 78.6L94.9 77.6L93.5 76.6L91.1 77.9L92.4 78.8L93.7 79.8ZM93.5 76.6L92.1 75.6L90.7 74.7L88.4 76.1L89.8 77.0L91.1 77.9ZM87.6 73.0L86.0 72.1L84.4 71.3L82.5 72.9L84.0 73.7L85.5 74.4ZM84.4 71.3L82.7 70.6L81.0 69.8L79.2 71.5L80.9 72.2L82.5 72.9ZM112.4 105.5L112.5 104.2L112.5 102.8L109.4 103.0L109.4 104.2L109.3 105.5ZM112.5 102.8L112.5 101.5L112.4 100.2L109.3 100.4L109.4 101.7L109.4 103.0ZM112.4 100.2L112.2 98.9L112.0 97.5L108.9 97.9L109.1 99.1L109.3 100.4ZM112.0 97.5L111.7 96.2L111.3 94.9L108.3 95.4L108.6 96.6L108.9 97.9ZM110.4 92.4L109.8 91.1L109.2 89.8L106.2 90.5L106.8 91.7L107.4 92.9ZM109.2 89.8L108.5 88.6L107.8 87.4L104.9 88.2L105.6 89.3L106.2 90.5ZM107.8 87.4L107.0 86.2L106.1 85.0L103.3 85.9L104.1 87.0L104.9 88.2ZM106.1 85.0L105.2 83.8L104.2 82.7L101.5 83.7L102.4 84.8L103.3 85.9ZM104.2 82.7L103.2 81.5L102.1 80.4L99.4 81.5L100.5 82.6L101.5 83.7ZM102.1 80.4L100.9 79.3L99.7 78.3L97.2 79.5L98.4 80.5L99.4 81.5ZM99.7 78.3L98.5 77.2L97.2 76.2L94.8 77.5L96.0 78.5L97.2 79.5ZM115.5 105.5L115.6 104.2L115.6 102.8L112.5 102.9L112.5 104.2L112.4 105.5ZM115.5 100.2L115.3 98.8L115.1 97.5L112.0 97.8L112.2 99.1L112.4 100.4ZM114.5 94.9L114.0 93.6L113.6 92.3L110.6 92.8L111.0 94.1L111.4 95.3ZM113.6 92.3L113.0 91.0L112.4 89.7L109.5 90.4L110.0 91.6L110.6 92.8ZM112.4 89.7L111.8 88.5L111.1 87.2L108.2 88.0L108.9 89.2L109.5 90.4ZM111.1 87.2L110.3 86.0L109.5 84.8L106.6 85.7L107.4 86.8L108.2 88.0ZM118.6 105.5L118.7 104.2L118.7 102.8L115.6 102.9L115.6 104.2L115.5 105.5ZM118.7 102.8L118.7 101.5L118.6 100.1L115.5 100.3L115.6 101.6L115.6 102.9ZM118.6 100.1L118.4 98.8L118.2 97.5L115.1 97.8L115.4 99.1L115.5 100.3ZM118.2 97.5L117.9 96.1L117.6 94.8L114.6 95.2L114.9 96.5L115.1 97.8ZM117.6 94.8L117.2 93.5L116.8 92.2L113.7 92.7L114.2 94.0L114.6 95.2ZM116.8 92.2L116.2 90.9L115.7 89.6L112.7 90.3L113.3 91.5L113.7 92.7ZM115.7 89.6L115.0 88.4L114.4 87.1L111.4 87.9L112.1 89.1L112.7 90.3ZM114.4 87.1L113.6 85.9L112.8 84.7L109.9 85.5L110.7 86.7L111.4 87.9ZM58.7 58.2L56.5 58.0L54.4 57.8L53.9 59.7L55.9 59.9L58.0 60.1ZM54.4 57.8L52.3 57.7L50.1 57.6L49.8 59.5L51.8 59.6L53.9 59.7ZM121.7 105.5L121.8 104.1L121.8 102.8L118.7 102.9L118.7 104.2L118.6 105.5ZM121.8 102.8L121.8 101.4L121.7 100.1L118.6 100.3L118.7 101.6L118.7 102.9ZM121.7 100.1L121.6 98.8L121.3 97.4L118.3 97.7L118.5 99.0L118.6 100.3ZM118.9 89.6L118.3 88.3L117.6 87.0L114.7 87.7L115.3 88.9L115.9 90.2ZM117.6 87.0L116.9 85.8L116.1 84.5L113.3 85.3L114.0 86.5L114.7 87.7ZM116.1 84.5L115.3 83.3L114.4 82.1L111.6 83.0L112.5 84.2L113.3 85.3ZM96.8 67.4L95.2 66.6L93.6 65.7L91.6 67.3L93.1 68.1L94.7 68.9ZM93.6 65.7L91.9 64.9L90.2 64.2L88.3 65.8L89.9 66.5L91.6 67.3ZM90.2 64.2L88.4 63.4L86.6 62.7L84.9 64.4L86.6 65.1L88.3 65.8ZM86.6 62.7L84.8 62.0L83.0 61.4L81.4 63.1L83.2 63.7L84.9 64.4ZM79.2 60.2L77.3 59.6L75.3 59.1L74.0 60.9L75.9 61.4L77.8 61.9ZM75.3 59.1L73.3 58.6L71.3 58.2L70.2 60.0L72.1 60.4L74.0 60.9ZM71.3 58.2L69.3 57.8L67.2 57.4L66.3 59.2L68.2 59.6L70.2 60.0ZM67.2 57.4L65.2 57.0L63.1 56.7L62.3 58.6L64.3 58.9L66.3 59.2ZM63.1 56.7L61.0 56.5L58.9 56.2L58.2 58.1L60.2 58.4L62.3 58.6ZM58.9 56.2L56.8 56.0L54.6 55.9L54.1 57.8L56.2 57.9L58.2 58.1ZM54.6 55.9L52.5 55.7L50.3 55.6L50.0 57.6L52.0 57.7L54.1 57.8ZM50.3 55.6L48.1 55.6L46.0 55.6L45.8 57.5L47.9 57.5L50.0 57.6ZM117.8 82.0L116.9 80.8L115.9 79.6L113.2 80.5L114.1 81.7L115.0 82.8ZM111.6 75.0L110.4 73.9L109.1 72.9L106.6 74.1L107.8 75.1L109.0 76.2ZM109.1 72.9L107.8 71.8L106.5 70.8L104.1 72.1L105.3 73.1L106.6 74.1ZM106.5 70.8L105.1 69.8L103.6 68.8L101.3 70.2L102.7 71.1L104.1 72.1ZM103.6 68.8L102.2 67.9L100.6 67.0L98.4 68.4L99.9 69.3L101.3 70.2ZM100.7 61.7L99.1 60.9L97.4 60.1L95.5 61.7L97.1 62.4L98.6 63.2ZM97.4 60.1L95.7 59.4L94.0 58.6L92.2 60.3L93.9 61.0L95.5 61.7ZM94.0 58.6L92.3 57.9L90.5 57.3L88.8 58.9L90.5 59.6L92.2 60.3ZM90.5 57.3L88.7 56.6L86.9 56.0L85.3 57.7L87.1 58.3L88.8 58.9ZM86.9 56.0L85.0 55.4L83.2 54.8L81.7 56.6L83.5 57.1L85.3 57.7ZM83.2 54.8L81.3 54.3L79.4 53.8L78.0 55.6L79.9 56.1L81.7 56.6ZM79.4 53.8L77.4 53.3L75.4 52.9L74.3 54.7L76.2 55.1L78.0 55.6ZM75.4 52.9L73.5 52.4L71.5 52.0L70.4 53.9L72.4 54.3L74.3 54.7ZM67.4 51.4L65.4 51.1L63.3 50.8L62.6 52.7L64.5 52.9L66.5 53.2ZM137.1 105.5L137.2 104.2L137.3 102.8L134.2 102.9L134.1 104.2L134.1 105.5ZM137.2 100.2L137.1 98.8L137.0 97.5L133.9 97.8L134.0 99.0L134.1 100.3ZM137.0 97.5L136.8 96.2L136.5 94.9L133.5 95.2L133.7 96.5L133.9 97.8ZM136.5 94.9L136.2 93.6L135.9 92.2L132.9 92.7L133.2 93.9L133.5 95.2ZM134.1 87.1L133.5 85.8L132.9 84.6L129.9 85.2L130.5 86.5L131.1 87.7ZM132.9 84.6L132.2 83.3L131.5 82.1L128.6 82.8L129.3 84.0L129.9 85.2ZM131.5 82.1L130.8 80.9L129.9 79.7L127.1 80.5L127.9 81.7L128.6 82.8ZM129.9 79.7L129.1 78.5L128.2 77.3L125.4 78.2L126.3 79.3L127.1 80.5ZM128.2 77.3L127.3 76.1L126.3 75.0L123.6 75.9L124.5 77.1L125.4 78.2ZM134.8 82.0L134.1 80.7L133.3 79.5L130.4 80.3L131.2 81.5L131.9 82.7ZM133.3 79.5L132.4 78.3L131.6 77.1L128.8 78.0L129.6 79.2L130.4 80.3ZM131.6 77.1L130.7 75.9L129.7 74.8L127.0 75.7L127.9 76.9L128.8 78.0ZM129.7 74.8L128.7 73.6L127.7 72.5L125.0 73.5L126.0 74.6L127.0 75.7ZM127.7 72.5L126.6 71.3L125.5 70.2L122.9 71.3L123.9 72.4L125.0 73.5ZM123.1 68.1L121.9 67.0L120.6 66.0L118.1 67.2L119.4 68.2L120.6 69.2ZM84.3 48.7L82.4 48.2L80.4 47.7L79.2 49.5L81.1 50.0L83.0 50.5ZM80.4 47.7L78.4 47.3L76.4 46.9L75.3 48.7L77.3 49.1L79.2 49.5ZM76.4 46.9L74.4 46.5L72.3 46.1L71.4 48.0L73.4 48.3L75.3 48.7ZM72.3 46.1L70.3 45.8L68.2 45.5L67.4 47.3L69.4 47.6L71.4 48.0ZM68.2 45.5L66.1 45.2L64.0 44.9L63.3 46.8L65.4 47.1L67.4 47.3ZM64.0 44.9L61.9 44.7L59.8 44.5L59.3 46.4L61.3 46.6L63.3 46.8ZM131.1 72.3L130.1 71.1L129.0 70.0L126.3 71.1L127.4 72.2L128.4 73.3ZM126.7 67.8L125.5 66.7L124.2 65.7L121.7 66.9L122.9 67.9L124.1 68.9ZM124.2 65.7L123.0 64.6L121.6 63.6L119.2 64.9L120.5 65.9L121.7 66.9ZM121.6 63.6L120.3 62.6L118.9 61.6L116.5 63.0L117.9 63.9L119.2 64.9ZM118.9 61.6L117.5 60.7L116.0 59.7L113.7 61.1L115.2 62.0L116.5 63.0ZM116.0 59.7L114.5 58.8L113.0 57.9L110.8 59.3L112.3 60.2L113.7 61.1ZM113.0 57.9L111.4 57.0L109.8 56.2L107.8 57.7L109.3 58.5L110.8 59.3ZM109.8 56.2L108.2 55.3L106.6 54.5L104.6 56.1L106.2 56.9L107.8 57.7ZM106.6 54.5L104.9 53.7L103.2 53.0L101.3 54.6L103.0 55.3L104.6 56.1ZM103.2 53.0L101.4 52.2L99.7 51.5L97.9 53.1L99.6 53.8L101.3 54.6ZM99.7 51.5L97.9 50.8L96.1 50.1L94.4 51.8L96.2 52.5L97.9 53.1ZM96.1 50.1L94.2 49.5L92.4 48.9L90.8 50.6L92.6 51.2L94.4 51.8ZM92.4 48.9L90.5 48.3L88.6 47.7L87.1 49.5L89.0 50.0L90.8 50.6ZM88.6 47.7L86.6 47.2L84.7 46.7L83.4 48.4L85.3 48.9L87.1 49.5ZM84.7 46.7L82.7 46.2L80.7 45.7L79.5 47.5L81.5 48.0L83.4 48.4ZM80.7 45.7L78.7 45.3L76.7 44.9L75.6 46.7L77.6 47.1L79.5 47.5ZM76.7 44.9L74.7 44.5L72.6 44.1L71.7 46.0L73.7 46.3L75.6 46.7ZM72.6 44.1L70.5 43.8L68.5 43.5L67.7 45.4L69.7 45.7L71.7 46.0ZM68.5 43.5L66.4 43.2L64.3 43.0L63.6 44.9L65.6 45.1L67.7 45.4ZM64.3 43.0L62.2 42.8L60.0 42.6L59.5 44.5L61.5 44.7L63.6 44.9ZM132.5 69.8L131.4 68.6L130.2 67.5L127.6 68.7L128.7 69.7L129.8 70.8ZM130.2 67.5L129.1 66.4L127.8 65.4L125.3 66.5L126.5 67.6L127.6 68.7ZM127.8 65.4L126.6 64.3L125.3 63.3L122.8 64.5L124.1 65.5L125.3 66.5ZM125.3 63.3L124.0 62.2L122.6 61.2L120.2 62.5L121.5 63.5L122.8 64.5ZM122.6 61.2L121.2 60.3L119.8 59.3L117.5 60.7L118.9 61.6L120.2 62.5ZM72.9 42.2L70.8 41.8L68.7 41.5L67.9 43.4L69.9 43.7L72.0 44.0ZM68.7 41.5L66.6 41.3L64.5 41.0L63.8 42.9L65.9 43.2L67.9 43.4ZM64.5 41.0L62.4 40.8L60.3 40.7L59.7 42.6L61.8 42.7L63.8 42.9ZM60.3 40.7L58.1 40.5L56.0 40.4L55.5 42.3L57.6 42.4L59.7 42.6ZM56.0 40.4L53.8 40.3L51.7 40.2L51.4 42.1L53.5 42.2L55.5 42.3ZM51.7 40.2L49.5 40.2L47.3 40.2L47.2 42.1L49.3 42.1L51.4 42.1ZM77.3 40.9L75.2 40.5L73.2 40.2L72.2 42.1L74.3 42.4L76.3 42.7ZM73.2 40.2L71.1 39.9L69.0 39.6L68.2 41.5L70.2 41.8L72.2 42.1ZM64.7 39.1L62.6 38.9L60.5 38.7L59.9 40.6L62.0 40.8L64.1 41.0ZM60.5 38.7L58.3 38.6L56.2 38.5L55.7 40.4L57.8 40.5L59.9 40.6ZM56.2 38.5L54.0 38.4L51.8 38.3L51.5 40.2L53.7 40.3L55.7 40.4ZM51.8 38.3L49.7 38.2L47.5 38.2L47.3 40.2L49.4 40.2L51.5 40.2Z"/><path fill="#00E028" stroke="#00E028" stroke-width="0.25" d="M93.9 92.3L93.2 91.0L92.3 89.8L89.5 90.7L90.3 91.9L91.0 93.0ZM92.3 89.8L91.4 88.6L90.4 87.5L87.7 88.5L88.6 89.6L89.5 90.7ZM90.4 87.5L89.3 86.3L88.2 85.2L85.6 86.3L86.7 87.4L87.7 88.5ZM88.2 85.2L87.0 84.1L85.7 83.1L83.2 84.3L84.4 85.3L85.6 86.3ZM100.1 105.5L100.1 104.1L100.1 102.8L97.0 102.9L97.1 104.2L97.0 105.5ZM99.9 100.1L99.6 98.7L99.3 97.4L96.3 97.8L96.6 99.1L96.8 100.4ZM161.4 105.5L161.5 104.3L161.5 103.1L155.8 103.2L155.8 104.4L155.7 105.5ZM161.5 103.1L161.6 101.9L161.6 100.7L155.8 100.9L155.8 102.1L155.8 103.2ZM161.6 100.7L161.5 99.5L161.5 98.3L155.8 98.7L155.8 99.8L155.8 100.9ZM161.5 98.3L161.4 97.1L161.2 96.0L155.5 96.4L155.7 97.5L155.8 98.7ZM161.2 96.0L161.1 94.8L160.9 93.6L155.2 94.1L155.4 95.3L155.5 96.4ZM160.9 93.6L160.7 92.4L160.4 91.2L154.8 91.9L155.0 93.0L155.2 94.1ZM160.4 91.2L160.1 90.1L159.8 88.9L154.2 89.7L154.5 90.8L154.8 91.9ZM159.8 88.9L159.5 87.7L159.1 86.6L153.5 87.5L153.9 88.6L154.2 89.7ZM159.1 86.6L158.7 85.4L158.3 84.3L152.7 85.3L153.2 86.4L153.5 87.5ZM158.3 84.3L157.8 83.1L157.3 82.0L151.8 83.1L152.3 84.2L152.7 85.3ZM157.3 82.0L156.8 80.8L156.3 79.7L150.8 80.9L151.3 82.0L151.8 83.1ZM156.3 79.7L155.7 78.6L155.1 77.5L149.7 78.8L150.3 79.9L150.8 80.9ZM155.1 77.5L154.5 76.4L153.8 75.3L148.4 76.7L149.1 77.8L149.7 78.8ZM153.8 75.3L153.1 74.2L152.4 73.1L147.1 74.6L147.8 75.7L148.4 76.7ZM152.4 73.1L151.6 72.0L150.8 71.0L145.6 72.6L146.4 73.6L147.1 74.6ZM132.2 53.5L130.9 52.7L129.6 51.9L125.4 54.4L126.7 55.2L127.9 56.0ZM158.5 72.8L157.7 71.7L157.0 70.6L151.7 72.2L152.5 73.2L153.2 74.3ZM157.0 70.6L156.2 69.6L155.4 68.5L150.2 70.2L151.0 71.2L151.7 72.2ZM155.4 68.5L154.6 67.4L153.7 66.4L148.6 68.2L149.4 69.2L150.2 70.2ZM153.7 66.4L152.8 65.3L151.9 64.3L146.9 66.2L147.8 67.2L148.6 68.2ZM151.9 64.3L151.0 63.3L150.0 62.3L145.1 64.3L146.0 65.2L146.9 66.2ZM150.0 62.3L149.0 61.3L148.0 60.3L143.2 62.4L144.1 63.3L145.1 64.3ZM148.0 60.3L146.9 59.3L145.9 58.4L141.1 60.5L142.2 61.4L143.2 62.4ZM145.9 58.4L144.8 57.4L143.7 56.5L139.0 58.7L140.1 59.6L141.1 60.5ZM143.7 56.5L142.5 55.5L141.4 54.6L136.8 56.9L137.9 57.8L139.0 58.7ZM141.4 54.6L140.2 53.7L139.0 52.8L134.5 55.2L135.7 56.0L136.8 56.9ZM139.0 52.8L137.7 51.9L136.5 51.0L132.2 53.5L133.4 54.3L134.5 55.2ZM136.5 51.0L135.2 50.2L133.9 49.3L129.7 51.9L130.9 52.7L132.2 53.5ZM133.9 49.3L132.6 48.5L131.2 47.7L127.1 50.3L128.4 51.1L129.7 51.9ZM131.2 47.7L129.8 46.9L128.5 46.1L124.5 48.8L125.8 49.5L127.1 50.3ZM128.5 46.1L127.0 45.3L125.6 44.6L121.8 47.3L123.2 48.0L124.5 48.8ZM125.6 44.6L124.2 43.8L122.7 43.1L119.0 45.9L120.4 46.6L121.8 47.3ZM122.7 43.1L121.2 42.4L119.7 41.6L116.2 44.5L117.6 45.2L119.0 45.9ZM119.7 41.6L118.2 41.0L116.6 40.3L113.2 43.2L114.7 43.9L116.2 44.5ZM116.6 40.3L115.1 39.6L113.5 39.0L110.2 42.0L111.7 42.6L113.2 43.2ZM113.5 39.0L111.9 38.4L110.3 37.7L107.2 40.8L108.7 41.4L110.2 42.0ZM103.7 35.5L102.0 34.9L100.3 34.4L97.6 37.7L99.2 38.1L100.9 38.7ZM96.8 33.5L95.1 33.0L93.3 32.6L91.0 35.9L92.7 36.3L94.3 36.7ZM93.3 32.6L91.6 32.1L89.8 31.7L87.6 35.1L89.3 35.5L91.0 35.9ZM82.5 30.3L80.7 29.9L78.9 29.6L77.2 33.1L78.9 33.4L80.7 33.7ZM63.8 27.9L61.9 27.7L60.0 27.6L59.2 31.1L61.0 31.3L62.8 31.4ZM160.5 66.7L159.7 65.6L158.8 64.6L153.7 66.4L154.5 67.4L155.3 68.4ZM158.8 64.6L157.9 63.6L157.0 62.6L152.0 64.4L152.9 65.4L153.7 66.4ZM157.0 62.6L156.1 61.6L155.2 60.6L150.2 62.5L151.1 63.5L152.0 64.4ZM155.2 60.6L154.2 59.6L153.2 58.6L148.3 60.6L149.3 61.6L150.2 62.5ZM153.2 58.6L152.2 57.6L151.1 56.7L146.4 58.8L147.4 59.7L148.3 60.6ZM151.1 56.7L150.1 55.7L149.0 54.8L144.3 57.0L145.3 57.9L146.4 58.8ZM149.0 54.8L147.8 53.8L146.7 52.9L142.1 55.2L143.2 56.1L144.3 57.0ZM146.7 52.9L145.6 52.0L144.4 51.1L139.9 53.5L141.0 54.3L142.1 55.2ZM144.4 51.1L143.2 50.2L142.0 49.4L137.6 51.8L138.8 52.6L139.9 53.5ZM142.0 49.4L140.7 48.5L139.4 47.7L135.2 50.2L136.4 51.0L137.6 51.8ZM139.4 47.7L138.2 46.8L136.8 46.0L132.7 48.6L134.0 49.4L135.2 50.2ZM136.8 46.0L135.5 45.2L134.2 44.4L130.2 47.1L131.4 47.8L132.7 48.6ZM134.2 44.4L132.8 43.6L131.4 42.8L127.5 45.6L128.8 46.3L130.2 47.1ZM131.4 42.8L130.0 42.1L128.6 41.3L124.8 44.1L126.2 44.8L127.5 45.6ZM122.7 38.5L121.2 37.8L119.7 37.2L116.3 40.1L117.8 40.8L119.2 41.4ZM116.6 35.9L115.0 35.3L113.4 34.7L110.3 37.7L111.8 38.3L113.3 38.9ZM113.4 34.7L111.8 34.1L110.2 33.5L107.2 36.6L108.8 37.2L110.3 37.7ZM96.7 29.5L95.0 29.1L93.2 28.6L91.0 32.0L92.6 32.4L94.3 32.8ZM78.8 25.9L77.0 25.7L75.2 25.4L73.7 28.9L75.5 29.1L77.2 29.4ZM75.2 25.4L73.3 25.2L71.4 25.0L70.2 28.5L71.9 28.7L73.7 28.9ZM135.6 40.3L134.2 39.5L132.8 38.8L129.0 41.6L130.4 42.3L131.7 43.0ZM120.8 33.2L119.2 32.6L117.6 32.0L114.4 35.1L116.0 35.6L117.5 36.2ZM114.4 30.8L112.7 30.2L111.1 29.7L108.2 32.8L109.8 33.4L111.3 33.9ZM111.1 29.7L109.4 29.1L107.7 28.6L105.0 31.8L106.6 32.3L108.2 32.8ZM104.3 27.6L102.6 27.1L100.9 26.7L98.4 29.9L100.1 30.4L101.7 30.8ZM100.9 26.7L99.2 26.2L97.4 25.8L95.1 29.1L96.8 29.5L98.4 29.9ZM97.4 25.8L95.7 25.3L93.9 24.9L91.7 28.3L93.4 28.7L95.1 29.1ZM93.9 24.9L92.1 24.6L90.3 24.2L88.3 27.6L90.0 27.9L91.7 28.3ZM86.7 23.5L84.9 23.2L83.0 22.9L81.3 26.3L83.1 26.6L84.8 26.9ZM83.0 22.9L81.2 22.6L79.4 22.3L77.8 25.8L79.6 26.0L81.3 26.3ZM75.7 21.8L73.8 21.6L71.9 21.4L70.7 24.9L72.4 25.1L74.2 25.3ZM68.2 21.0L66.3 20.8L64.4 20.7L63.4 24.2L65.2 24.4L67.0 24.5Z"/><path fill="#CCE000" stroke="#CCE000" stroke-width="0.25" d="M53.3 71.4L51.1 71.2L49.0 71.1L48.6 73.0L50.6 73.1L52.6 73.3ZM49.0 71.1L46.8 71.0L44.6 71.0L44.5 72.9L46.5 72.9L48.6 73.0ZM99.3 97.4L98.9 96.1L98.4 94.8L95.4 95.3L95.9 96.6L96.3 97.8ZM98.4 94.8L97.8 93.5L97.2 92.2L94.3 92.9L94.9 94.1L95.4 95.3ZM97.2 92.2L96.5 90.9L95.7 89.7L92.8 90.5L93.6 91.7L94.3 92.9ZM95.7 89.7L94.8 88.5L93.8 87.3L91.1 88.2L92.0 89.4L92.8 90.5ZM93.8 87.3L92.8 86.1L91.7 85.0L89.1 86.1L90.1 87.1L91.1 88.2ZM91.7 85.0L90.5 83.9L89.3 82.8L86.8 84.0L88.0 85.0L89.1 86.1ZM77.2 75.4L75.4 74.6L73.6 73.9L71.9 75.6L73.6 76.3L75.3 77.0ZM73.6 73.9L71.7 73.3L69.8 72.7L68.4 74.4L70.2 75.0L71.9 75.6ZM69.8 72.7L67.9 72.1L65.9 71.6L64.7 73.4L66.5 73.9L68.4 74.4ZM57.7 70.0L55.6 69.7L53.5 69.5L52.8 71.4L54.9 71.6L56.9 71.8ZM49.2 69.2L47.0 69.1L44.8 69.1L44.6 71.0L46.7 71.0L48.8 71.1ZM103.2 105.5L103.2 104.1L103.2 102.8L100.1 102.9L100.1 104.2L100.1 105.5ZM103.2 102.8L103.2 101.4L103.0 100.0L99.9 100.3L100.1 101.6L100.1 102.9ZM84.5 76.5L82.8 75.6L81.2 74.8L79.2 76.3L80.8 77.1L82.3 78.0ZM81.2 74.8L79.5 74.0L77.7 73.2L75.9 74.8L77.6 75.6L79.2 76.3ZM77.7 73.2L75.9 72.5L74.1 71.8L72.4 73.5L74.2 74.2L75.9 74.8ZM74.1 71.8L72.2 71.2L70.2 70.6L68.8 72.3L70.6 72.9L72.4 73.5ZM70.2 70.6L68.3 70.0L66.3 69.5L65.0 71.3L66.9 71.8L68.8 72.3ZM66.3 69.5L64.2 69.1L62.2 68.7L61.1 70.5L63.1 70.9L65.0 71.3ZM85.1 74.2L83.5 73.4L81.8 72.6L79.8 74.1L81.5 74.9L83.1 75.7ZM81.8 72.6L80.0 71.8L78.2 71.1L76.5 72.7L78.2 73.4L79.8 74.1ZM66.6 67.5L64.5 67.1L62.4 66.7L61.4 68.5L63.4 68.9L65.4 69.3ZM62.4 66.7L60.3 66.3L58.2 66.0L57.4 67.9L59.4 68.2L61.4 68.5ZM90.7 74.7L89.2 73.8L87.6 73.0L85.5 74.4L87.0 75.3L88.4 76.1ZM81.0 69.8L79.3 69.2L77.5 68.5L75.8 70.2L77.6 70.8L79.2 71.5ZM77.5 68.5L75.7 67.9L73.8 67.3L72.3 69.0L74.1 69.6L75.8 70.2ZM73.8 67.3L71.9 66.7L70.0 66.2L68.7 68.0L70.5 68.5L72.3 69.0ZM70.0 66.2L68.0 65.8L66.1 65.3L64.9 67.2L66.8 67.6L68.7 68.0ZM66.1 65.3L64.1 64.9L62.0 64.6L61.1 66.5L63.0 66.8L64.9 67.2ZM62.0 64.6L60.0 64.3L57.9 64.0L57.2 65.9L59.2 66.2L61.1 66.5ZM57.9 64.0L55.9 63.8L53.8 63.6L53.2 65.5L55.2 65.7L57.2 65.9ZM53.8 63.6L51.7 63.5L49.6 63.4L49.2 65.3L51.2 65.4L53.2 65.5ZM49.6 63.4L47.4 63.3L45.3 63.3L45.1 65.2L47.2 65.2L49.2 65.3ZM111.3 94.9L110.9 93.6L110.4 92.4L107.4 92.9L107.8 94.2L108.3 95.4ZM97.2 76.2L95.8 75.2L94.4 74.3L92.1 75.6L93.5 76.6L94.8 77.5ZM94.4 74.3L93.0 73.3L91.5 72.5L89.3 73.9L90.7 74.8L92.1 75.6ZM91.5 72.5L89.9 71.6L88.3 70.7L86.3 72.3L87.8 73.1L89.3 73.9ZM115.6 102.8L115.6 101.5L115.5 100.2L112.4 100.4L112.5 101.7L112.5 102.9ZM115.1 97.5L114.8 96.2L114.5 94.9L111.4 95.3L111.7 96.6L112.0 97.8ZM109.5 84.8L108.6 83.6L107.6 82.5L104.9 83.4L105.8 84.5L106.6 85.7ZM107.6 82.5L106.6 81.3L105.6 80.2L102.9 81.2L103.9 82.3L104.9 83.4ZM105.6 80.2L104.5 79.1L103.3 78.0L100.7 79.1L101.8 80.2L102.9 81.2ZM103.3 78.0L102.1 76.9L100.8 75.9L98.3 77.1L99.6 78.1L100.7 79.1ZM100.8 75.9L99.5 74.9L98.1 73.9L95.8 75.2L97.1 76.1L98.3 77.1ZM50.1 57.6L48.0 57.5L45.8 57.5L45.6 59.4L47.7 59.4L49.8 59.5ZM121.3 97.4L121.1 96.1L120.8 94.8L117.7 95.2L118.0 96.5L118.3 97.7ZM120.8 94.8L120.4 93.4L119.9 92.1L116.9 92.7L117.3 93.9L117.7 95.2ZM119.9 92.1L119.5 90.8L118.9 89.6L115.9 90.2L116.4 91.4L116.9 92.7ZM124.8 105.5L124.9 104.1L124.9 102.8L121.8 102.9L121.8 104.2L121.7 105.5ZM124.9 102.8L124.9 101.4L124.8 100.1L121.7 100.3L121.8 101.6L121.8 102.9ZM124.8 100.1L124.7 98.7L124.5 97.4L121.4 97.7L121.6 99.0L121.7 100.3ZM124.5 97.4L124.2 96.0L123.9 94.7L120.9 95.1L121.2 96.4L121.4 97.7ZM123.9 94.7L123.5 93.4L123.1 92.1L120.1 92.6L120.5 93.8L120.9 95.1ZM123.1 92.1L122.7 90.8L122.1 89.5L119.1 90.1L119.6 91.3L120.1 92.6ZM115.9 79.6L114.9 78.4L113.8 77.3L111.2 78.3L112.2 79.4L113.2 80.5ZM127.9 105.5L128.0 104.1L128.0 102.8L124.9 102.9L124.9 104.2L124.8 105.5ZM128.0 102.8L128.0 101.4L127.9 100.1L124.8 100.3L124.9 101.6L124.9 102.9ZM127.9 100.1L127.8 98.7L127.6 97.4L124.5 97.6L124.7 98.9L124.8 100.3ZM127.6 97.4L127.4 96.0L127.1 94.7L124.0 95.1L124.3 96.4L124.5 97.6ZM127.1 94.7L126.7 93.3L126.3 92.0L123.3 92.5L123.7 93.8L124.0 95.1ZM126.3 92.0L125.8 90.7L125.3 89.4L122.3 90.0L122.8 91.2L123.3 92.5ZM125.3 89.4L124.8 88.1L124.1 86.8L121.2 87.5L121.8 88.7L122.3 90.0ZM131.0 105.5L131.1 104.2L131.1 102.8L128.0 102.9L128.0 104.2L127.9 105.5ZM131.1 102.8L131.1 101.5L131.0 100.2L127.9 100.4L128.0 101.7L128.0 102.9ZM131.0 100.2L130.9 98.9L130.7 97.6L127.7 97.8L127.8 99.1L127.9 100.4ZM130.7 97.6L130.5 96.3L130.3 95.0L127.2 95.3L127.5 96.6L127.7 97.8ZM130.3 95.0L130.0 93.7L129.6 92.4L126.6 92.8L126.9 94.1L127.2 95.3ZM129.6 92.4L129.2 91.1L128.7 89.8L125.7 90.3L126.2 91.6L126.6 92.8ZM128.7 89.8L128.2 88.5L127.6 87.3L124.7 87.9L125.2 89.1L125.7 90.3ZM127.6 87.3L127.0 86.0L126.4 84.8L123.4 85.5L124.1 86.7L124.7 87.9ZM126.4 84.8L125.7 83.6L124.9 82.4L122.0 83.2L122.8 84.3L123.4 85.5ZM71.5 52.0L69.5 51.7L67.4 51.4L66.5 53.2L68.5 53.5L70.4 53.9ZM63.3 50.8L61.2 50.6L59.2 50.4L58.5 52.3L60.6 52.5L62.6 52.7ZM59.2 50.4L57.1 50.2L55.0 50.0L54.5 52.0L56.5 52.1L58.5 52.3ZM55.0 50.0L52.9 49.9L50.7 49.9L50.4 51.8L52.5 51.9L54.5 52.0ZM50.7 49.9L48.6 49.8L46.5 49.8L46.3 51.7L48.4 51.7L50.4 51.8ZM134.1 105.5L134.1 104.2L134.2 102.8L131.1 102.9L131.1 104.2L131.0 105.5ZM134.2 102.8L134.2 101.5L134.1 100.2L131.0 100.4L131.1 101.6L131.1 102.9ZM134.1 100.2L134.0 98.9L133.9 97.5L130.8 97.8L130.9 99.1L131.0 100.4ZM133.9 97.5L133.7 96.2L133.4 94.9L130.3 95.3L130.6 96.5L130.8 97.8ZM133.4 94.9L133.1 93.6L132.8 92.3L129.7 92.7L130.0 94.0L130.3 95.3ZM132.8 92.3L132.4 91.0L131.9 89.7L128.9 90.3L129.3 91.5L129.7 92.7ZM131.9 89.7L131.4 88.5L130.9 87.2L127.9 87.8L128.4 89.0L128.9 90.3ZM130.9 87.2L130.3 85.9L129.6 84.7L126.7 85.4L127.3 86.6L127.9 87.8ZM129.6 84.7L129.0 83.4L128.2 82.2L125.3 83.0L126.0 84.2L126.7 85.4ZM128.2 82.2L127.4 81.0L126.6 79.8L123.8 80.7L124.6 81.8L125.3 83.0ZM126.6 79.8L125.7 78.6L124.8 77.5L122.0 78.4L122.9 79.5L123.8 80.7ZM124.8 77.5L123.9 76.3L122.9 75.2L120.2 76.2L121.1 77.3L122.0 78.4ZM122.9 75.2L121.8 74.0L120.7 72.9L118.1 74.0L119.1 75.1L120.2 76.2ZM120.7 72.9L119.6 71.8L118.4 70.8L115.9 71.9L117.0 73.0L118.1 74.0ZM118.4 70.8L117.2 69.7L116.0 68.7L113.5 69.9L114.7 70.9L115.9 71.9ZM116.0 68.7L114.7 67.7L113.3 66.7L110.9 68.0L112.2 68.9L113.5 69.9ZM113.3 66.7L112.0 65.7L110.5 64.7L108.2 66.1L109.6 67.0L110.9 68.0ZM137.3 102.8L137.3 101.5L137.2 100.2L134.1 100.3L134.2 101.6L134.2 102.9ZM135.9 92.2L135.5 90.9L135.1 89.7L132.1 90.2L132.5 91.4L132.9 92.7ZM135.1 89.7L134.6 88.4L134.1 87.1L131.1 87.7L131.6 88.9L132.1 90.2ZM140.2 105.5L140.3 104.2L140.4 102.8L137.3 102.9L137.2 104.2L137.1 105.5ZM140.4 102.8L140.4 101.5L140.3 100.1L137.2 100.3L137.3 101.6L137.3 102.9ZM140.3 100.1L140.2 98.8L140.1 97.5L137.0 97.7L137.1 99.0L137.2 100.3ZM140.1 97.5L139.9 96.1L139.7 94.8L136.6 95.2L136.8 96.4L137.0 97.7ZM139.7 94.8L139.4 93.5L139.1 92.2L136.0 92.6L136.3 93.9L136.6 95.2ZM139.1 92.2L138.7 90.9L138.3 89.6L135.2 90.1L135.6 91.3L136.0 92.6ZM138.3 89.6L137.8 88.3L137.3 87.0L134.3 87.6L134.8 88.8L135.2 90.1ZM137.3 87.0L136.7 85.7L136.1 84.5L133.2 85.1L133.8 86.4L134.3 87.6ZM136.1 84.5L135.5 83.2L134.8 82.0L131.9 82.7L132.5 83.9L133.2 85.1ZM59.8 44.5L57.7 44.4L55.6 44.2L55.1 46.2L57.2 46.3L59.3 46.4ZM55.6 44.2L53.4 44.1L51.3 44.1L51.0 46.0L53.1 46.1L55.1 46.2ZM51.3 44.1L49.1 44.0L47.0 44.0L46.8 45.9L48.9 46.0L51.0 46.0ZM140.5 86.9L140.0 85.6L139.4 84.4L136.4 85.0L137.0 86.3L137.5 87.5ZM139.4 84.4L138.7 83.1L138.1 81.9L135.1 82.6L135.8 83.8L136.4 85.0ZM138.1 81.9L137.3 80.6L136.6 79.4L133.7 80.2L134.4 81.4L135.1 82.6ZM136.6 79.4L135.8 78.2L134.9 77.0L132.1 77.8L132.9 79.0L133.7 80.2ZM134.9 77.0L134.0 75.8L133.1 74.6L130.3 75.5L131.2 76.7L132.1 77.8ZM133.1 74.6L132.1 73.4L131.1 72.3L128.4 73.3L129.4 74.4L130.3 75.5ZM129.0 70.0L127.9 68.9L126.7 67.8L124.1 68.9L125.2 70.0L126.3 71.1ZM60.0 42.6L57.9 42.4L55.8 42.3L55.3 44.2L57.4 44.4L59.5 44.5ZM55.8 42.3L53.6 42.2L51.5 42.1L51.2 44.1L53.3 44.1L55.3 44.2ZM51.5 42.1L49.3 42.1L47.2 42.1L47.0 44.0L49.1 44.0L51.2 44.1ZM134.6 72.1L133.5 70.9L132.5 69.8L129.8 70.8L130.8 71.9L131.8 73.0ZM119.8 59.3L118.3 58.4L116.8 57.4L114.6 58.8L116.0 59.7L117.5 60.7ZM113.7 55.6L112.1 54.8L110.5 53.9L108.5 55.5L110.0 56.3L111.6 57.1ZM110.5 53.9L108.8 53.1L107.2 52.3L105.2 53.9L106.9 54.7L108.5 55.5ZM107.2 52.3L105.5 51.5L103.7 50.8L101.9 52.4L103.6 53.1L105.2 53.9ZM103.7 50.8L102.0 50.1L100.2 49.4L98.4 51.0L100.2 51.7L101.9 52.4ZM100.2 49.4L98.4 48.7L96.5 48.0L94.9 49.7L96.7 50.4L98.4 51.0ZM96.5 48.0L94.7 47.4L92.8 46.8L91.3 48.5L93.1 49.1L94.9 49.7ZM92.8 46.8L90.9 46.2L89.0 45.7L87.6 47.4L89.4 48.0L91.3 48.5ZM89.0 45.7L87.0 45.1L85.0 44.6L83.8 46.4L85.7 46.9L87.6 47.4ZM85.0 44.6L83.1 44.2L81.1 43.7L79.9 45.5L81.8 46.0L83.8 46.4ZM81.1 43.7L79.0 43.3L77.0 42.9L76.0 44.7L77.9 45.1L79.9 45.5ZM77.0 42.9L75.0 42.5L72.9 42.2L72.0 44.0L74.0 44.4L76.0 44.7ZM117.6 55.1L116.0 54.3L114.4 53.4L112.3 54.9L113.9 55.7L115.4 56.6ZM114.4 53.4L112.8 52.5L111.1 51.7L109.1 53.3L110.8 54.1L112.3 54.9ZM111.1 51.7L109.5 50.9L107.8 50.1L105.9 51.7L107.5 52.5L109.1 53.3ZM107.8 50.1L106.0 49.4L104.3 48.6L102.5 50.3L104.2 51.0L105.9 51.7ZM104.3 48.6L102.5 47.9L100.7 47.2L99.0 48.9L100.7 49.6L102.5 50.3ZM100.7 47.2L98.8 46.6L97.0 45.9L95.4 47.6L97.2 48.3L99.0 48.9ZM97.0 45.9L95.1 45.3L93.2 44.7L91.7 46.5L93.6 47.0L95.4 47.6ZM93.2 44.7L91.3 44.2L89.3 43.6L88.0 45.4L89.8 45.9L91.7 46.5ZM89.3 43.6L87.4 43.1L85.4 42.6L84.1 44.4L86.1 44.9L88.0 45.4ZM85.4 42.6L83.4 42.1L81.4 41.7L80.2 43.5L82.2 44.0L84.1 44.4ZM81.4 41.7L79.3 41.3L77.3 40.9L76.3 42.7L78.3 43.1L80.2 43.5ZM69.0 39.6L66.9 39.3L64.7 39.1L64.1 41.0L66.1 41.2L68.2 41.5ZM88.7 41.3L86.8 40.8L84.8 40.4L83.6 42.2L85.5 42.6L87.4 43.1ZM84.8 40.4L82.9 39.9L80.9 39.5L79.8 41.4L81.7 41.8L83.6 42.2ZM80.9 39.5L78.9 39.1L76.9 38.8L75.9 40.6L77.8 41.0L79.8 41.4ZM76.9 38.8L74.8 38.4L72.8 38.1L71.9 40.0L73.9 40.3L75.9 40.6ZM72.8 38.1L70.8 37.8L68.7 37.6L67.9 39.5L69.9 39.7L71.9 40.0ZM68.7 37.6L66.6 37.3L64.5 37.1L63.9 39.0L65.9 39.2L67.9 39.5ZM64.5 37.1L62.5 36.9L60.4 36.8L59.8 38.7L61.9 38.8L63.9 39.0ZM60.4 36.8L58.3 36.6L56.1 36.5L55.7 38.4L57.8 38.5L59.8 38.7ZM56.1 36.5L54.0 36.4L51.9 36.4L51.6 38.3L53.7 38.3L55.7 38.4ZM51.9 36.4L49.8 36.3L47.7 36.3L47.5 38.2L49.6 38.2L51.6 38.3ZM85.2 38.4L83.2 37.9L81.2 37.5L80.1 39.4L82.1 39.8L84.0 40.2ZM77.2 36.8L75.1 36.5L73.1 36.2L72.2 38.0L74.2 38.3L76.2 38.7ZM52.1 34.4L50.0 34.4L47.8 34.4L47.7 36.3L49.7 36.3L51.8 36.4ZM59.6 31.2L57.7 31.1L55.8 31.0L55.1 34.5L57.0 34.6L58.8 34.7ZM55.8 31.0L53.9 30.9L52.0 30.9L51.5 34.4L53.3 34.5L55.1 34.5ZM52.0 30.9L50.1 30.8L48.2 30.8L47.8 34.4L49.7 34.4L51.5 34.4Z"/><path fill="#7AE000" stroke="#7AE000" stroke-width="0.25" d="M65.9 71.6L63.9 71.1L61.9 70.7L60.8 72.5L62.7 72.9L64.7 73.4ZM61.9 70.7L59.8 70.3L57.7 70.0L56.9 71.8L58.9 72.2L60.8 72.5ZM53.5 69.5L51.3 69.3L49.2 69.2L48.8 71.1L50.8 71.2L52.8 71.4ZM62.2 68.7L60.1 68.3L58.0 68.0L57.2 69.9L59.2 70.2L61.1 70.5ZM58.0 68.0L55.8 67.7L53.7 67.5L53.1 69.4L55.1 69.6L57.2 69.9ZM53.7 67.5L51.5 67.3L49.3 67.2L49.0 69.1L51.0 69.3L53.1 69.4ZM49.3 67.2L47.2 67.1L45.0 67.1L44.8 69.1L46.9 69.1L49.0 69.1ZM58.2 66.0L56.1 65.8L53.9 65.6L53.3 67.5L55.4 67.7L57.4 67.9ZM53.9 65.6L51.7 65.4L49.5 65.3L49.2 67.2L51.2 67.3L53.3 67.5ZM49.5 65.3L47.3 65.2L45.1 65.2L45.0 67.1L47.1 67.1L49.2 67.2ZM122.1 89.5L121.5 88.2L120.9 86.9L117.9 87.6L118.6 88.8L119.1 90.1ZM120.9 86.9L120.2 85.7L119.4 84.4L116.6 85.2L117.3 86.4L117.9 87.6ZM119.4 84.4L118.6 83.2L117.8 82.0L115.0 82.8L115.8 84.0L116.6 85.2ZM124.1 86.8L123.5 85.5L122.7 84.3L119.8 85.0L120.5 86.3L121.2 87.5ZM122.7 84.3L122.0 83.0L121.1 81.8L118.3 82.7L119.1 83.8L119.8 85.0ZM121.1 81.8L120.3 80.6L119.3 79.4L116.5 80.3L117.4 81.5L118.3 82.7ZM119.3 79.4L118.3 78.2L117.3 77.0L114.6 78.1L115.6 79.2L116.5 80.3ZM101.4 64.7L99.8 63.8L98.1 63.0L96.1 64.5L97.7 65.3L99.2 66.2ZM98.1 63.0L96.5 62.1L94.8 61.4L92.9 62.9L94.5 63.7L96.1 64.5ZM91.2 59.9L89.4 59.2L87.6 58.5L85.9 60.2L87.7 60.8L89.5 61.5ZM76.0 55.1L74.0 54.6L71.9 54.2L70.8 56.0L72.8 56.4L74.8 56.9ZM124.9 82.4L124.1 81.2L123.3 80.0L120.4 80.9L121.3 82.0L122.0 83.2ZM143.3 105.5L143.4 104.2L143.5 102.8L140.4 102.9L140.3 104.2L140.2 105.5ZM143.5 102.8L143.5 101.5L143.4 100.1L140.3 100.3L140.4 101.6L140.4 102.9ZM143.4 100.1L143.3 98.8L143.2 97.4L140.1 97.7L140.2 99.0L140.3 100.3ZM143.2 97.4L143.0 96.1L142.8 94.8L139.7 95.1L139.9 96.4L140.1 97.7ZM142.8 94.8L142.5 93.5L142.2 92.1L139.2 92.5L139.5 93.8L139.7 95.1ZM142.2 92.1L141.8 90.8L141.4 89.5L138.4 90.0L138.8 91.3L139.2 92.5ZM141.4 89.5L141.0 88.2L140.5 86.9L137.5 87.5L138.0 88.7L138.4 90.0ZM146.4 105.5L146.5 104.1L146.6 102.8L143.5 102.9L143.4 104.2L143.3 105.5ZM146.6 102.8L146.6 101.5L146.5 100.1L143.4 100.3L143.5 101.6L143.5 102.9ZM146.5 100.1L146.4 98.8L146.3 97.4L143.2 97.7L143.4 99.0L143.4 100.3ZM146.3 97.4L146.1 96.1L145.9 94.7L142.8 95.1L143.1 96.4L143.2 97.7ZM145.9 94.7L145.7 93.4L145.4 92.1L142.3 92.5L142.6 93.8L142.8 95.1ZM145.4 92.1L145.0 90.8L144.6 89.5L141.6 89.9L142.0 91.2L142.3 92.5ZM144.6 89.5L144.2 88.2L143.7 86.9L140.7 87.4L141.1 88.7L141.6 89.9ZM143.7 86.9L143.2 85.6L142.6 84.3L139.6 84.9L140.2 86.2L140.7 87.4ZM142.6 84.3L142.0 83.0L141.3 81.7L138.4 82.4L139.0 83.7L139.6 84.9ZM141.3 81.7L140.6 80.5L139.9 79.3L137.0 80.0L137.7 81.2L138.4 82.4ZM139.9 79.3L139.1 78.0L138.3 76.8L135.4 77.6L136.2 78.8L137.0 80.0ZM138.3 76.8L137.4 75.6L136.5 74.4L133.7 75.3L134.6 76.5L135.4 77.6ZM136.5 74.4L135.6 73.2L134.6 72.1L131.8 73.0L132.8 74.2L133.7 75.3ZM116.8 57.4L115.3 56.5L113.7 55.6L111.6 57.1L113.1 58.0L114.6 58.8ZM149.5 105.5L149.6 104.1L149.7 102.8L146.6 102.9L146.5 104.2L146.4 105.5ZM149.7 102.8L149.7 101.4L149.6 100.1L146.5 100.2L146.6 101.6L146.6 102.9ZM149.6 100.1L149.5 98.7L149.4 97.4L146.3 97.6L146.5 98.9L146.5 100.2ZM149.4 97.4L149.3 96.0L149.1 94.7L146.0 95.0L146.2 96.3L146.3 97.6ZM149.1 94.7L148.8 93.4L148.5 92.0L145.4 92.4L145.7 93.7L146.0 95.0ZM148.5 92.0L148.2 90.7L147.8 89.4L144.7 89.9L145.1 91.1L145.4 92.4ZM147.8 89.4L147.4 88.1L146.9 86.8L143.9 87.3L144.3 88.6L144.7 89.9ZM146.9 86.8L146.4 85.5L145.8 84.2L142.8 84.8L143.4 86.1L143.9 87.3ZM145.8 84.2L145.2 82.9L144.6 81.6L141.6 82.3L142.3 83.6L142.8 84.8ZM144.6 81.6L143.9 80.4L143.2 79.1L140.3 79.9L141.0 81.1L141.6 82.3ZM143.2 79.1L142.4 77.9L141.6 76.7L138.7 77.5L139.5 78.7L140.3 79.9ZM141.6 76.7L140.8 75.4L139.9 74.2L137.1 75.1L137.9 76.3L138.7 77.5ZM139.9 74.2L139.0 73.0L138.0 71.9L135.2 72.8L136.2 74.0L137.1 75.1ZM138.0 71.9L137.0 70.7L136.0 69.5L133.2 70.6L134.3 71.7L135.2 72.8ZM136.0 69.5L134.9 68.4L133.8 67.3L131.1 68.4L132.2 69.5L133.2 70.6ZM133.8 67.3L132.6 66.2L131.4 65.1L128.8 66.2L130.0 67.3L131.1 68.4ZM131.4 65.1L130.2 64.0L128.9 63.0L126.4 64.2L127.6 65.2L128.8 66.2ZM128.9 63.0L127.6 61.9L126.3 60.9L123.9 62.2L125.2 63.2L126.4 64.2ZM126.3 60.9L124.9 59.9L123.5 58.9L121.2 60.2L122.5 61.2L123.9 62.2ZM123.5 58.9L122.1 57.9L120.6 57.0L118.3 58.4L119.8 59.3L121.2 60.2ZM120.6 57.0L119.1 56.1L117.6 55.1L115.4 56.6L116.9 57.5L118.3 58.4ZM143.8 74.8L142.9 73.6L142.0 72.4L139.2 73.4L140.1 74.5L140.9 75.7ZM142.0 72.4L141.1 71.3L140.1 70.1L137.4 71.1L138.3 72.2L139.2 73.4ZM140.1 70.1L139.1 69.0L138.1 67.9L135.4 68.9L136.4 70.0L137.4 71.1ZM138.1 67.9L137.0 66.8L135.9 65.7L133.3 66.8L134.3 67.9L135.4 68.9ZM135.9 65.7L134.7 64.6L133.6 63.6L131.0 64.7L132.1 65.8L133.3 66.8ZM133.6 63.6L132.3 62.5L131.1 61.5L128.6 62.7L129.8 63.7L131.0 64.7ZM131.1 61.5L129.8 60.5L128.5 59.5L126.1 60.7L127.4 61.7L128.6 62.7ZM128.5 59.5L127.2 58.5L125.8 57.5L123.4 58.9L124.8 59.8L126.1 60.7ZM125.8 57.5L124.4 56.6L122.9 55.6L120.7 57.0L122.1 57.9L123.4 58.9ZM122.9 55.6L121.5 54.7L120.0 53.8L117.8 55.3L119.2 56.1L120.7 57.0ZM120.0 53.8L118.5 53.0L116.9 52.1L114.8 53.6L116.3 54.4L117.8 55.3ZM113.7 50.5L112.1 49.7L110.4 48.9L108.5 50.5L110.1 51.2L111.7 52.0ZM110.4 48.9L108.7 48.2L107.0 47.4L105.2 49.0L106.9 49.7L108.5 50.5ZM107.0 47.4L105.3 46.7L103.5 46.0L101.8 47.7L103.5 48.3L105.2 49.0ZM103.5 46.0L101.8 45.4L100.0 44.7L98.3 46.4L100.1 47.0L101.8 47.7ZM100.0 44.7L98.1 44.1L96.3 43.5L94.8 45.2L96.6 45.8L98.3 46.4ZM96.3 43.5L94.4 42.9L92.5 42.4L91.1 44.1L93.0 44.7L94.8 45.2ZM92.5 42.4L90.6 41.8L88.7 41.3L87.4 43.1L89.3 43.6L91.1 44.1ZM123.8 53.4L122.3 52.5L120.7 51.6L118.6 53.1L120.1 53.9L121.5 54.8ZM117.6 49.9L116.0 49.1L114.4 48.3L112.4 49.8L114.0 50.6L115.5 51.4ZM114.4 48.3L112.7 47.5L111.0 46.7L109.1 48.3L110.8 49.1L112.4 49.8ZM111.0 46.7L109.3 46.0L107.6 45.3L105.8 46.9L107.5 47.6L109.1 48.3ZM107.6 45.3L105.8 44.6L104.0 43.9L102.4 45.6L104.1 46.2L105.8 46.9ZM104.0 43.9L102.2 43.3L100.4 42.6L98.8 44.3L100.6 44.9L102.4 45.6ZM100.4 42.6L98.6 42.0L96.7 41.4L95.2 43.2L97.0 43.7L98.8 44.3ZM96.7 41.4L94.8 40.9L92.9 40.3L91.5 42.1L93.4 42.6L95.2 43.2ZM92.9 40.3L91.0 39.8L89.1 39.3L87.8 41.1L89.7 41.6L91.5 42.1ZM89.1 39.3L87.1 38.8L85.2 38.4L84.0 40.2L85.9 40.6L87.8 41.1ZM81.2 37.5L79.2 37.2L77.2 36.8L76.2 38.7L78.2 39.0L80.1 39.4ZM73.1 36.2L71.0 35.9L68.9 35.6L68.2 37.5L70.2 37.8L72.2 38.0ZM68.9 35.6L66.9 35.4L64.8 35.2L64.1 37.1L66.2 37.3L68.2 37.5ZM64.8 35.2L62.7 35.0L60.6 34.8L60.1 36.7L62.1 36.9L64.1 37.1ZM60.6 34.8L58.5 34.7L56.3 34.6L55.9 36.5L58.0 36.6L60.1 36.7ZM56.3 34.6L54.2 34.5L52.1 34.4L51.8 36.4L53.9 36.4L55.9 36.5ZM89.1 35.4L87.3 35.0L85.6 34.6L83.5 38.0L85.2 38.4L86.9 38.8ZM85.6 34.6L83.8 34.3L82.0 33.9L80.0 37.3L81.8 37.7L83.5 38.0ZM82.0 33.9L80.1 33.6L78.3 33.3L76.6 36.7L78.3 37.0L80.0 37.3ZM78.3 33.3L76.5 33.0L74.6 32.7L73.1 36.2L74.8 36.4L76.6 36.7ZM74.6 32.7L72.8 32.4L70.9 32.2L69.5 35.7L71.3 35.9L73.1 36.2ZM70.9 32.2L69.1 32.0L67.2 31.8L66.0 35.3L67.8 35.5L69.5 35.7ZM67.2 31.8L65.3 31.6L63.4 31.4L62.4 35.0L64.2 35.1L66.0 35.3ZM63.4 31.4L61.5 31.3L59.6 31.2L58.8 34.7L60.6 34.8L62.4 35.0Z"/><path fill="#E00000" stroke="#E00000" stroke-width="0.25" d="M88.3 70.7L86.7 69.9L85.0 69.2L83.1 70.7L84.7 71.5L86.3 72.3ZM85.0 69.2L83.3 68.4L81.6 67.7L79.8 69.4L81.5 70.0L83.1 70.7ZM81.6 67.7L79.8 67.0L77.9 66.4L76.4 68.1L78.1 68.7L79.8 69.4ZM77.9 66.4L76.1 65.8L74.2 65.2L72.8 67.0L74.6 67.5L76.4 68.1ZM74.2 65.2L72.3 64.7L70.3 64.2L69.1 66.0L70.9 66.5L72.8 67.0ZM70.3 64.2L68.4 63.8L66.4 63.3L65.3 65.2L67.2 65.6L69.1 66.0ZM66.4 63.3L64.4 63.0L62.3 62.6L61.4 64.5L63.4 64.8L65.3 65.2ZM98.1 73.9L96.7 72.9L95.3 72.0L93.0 73.4L94.4 74.3L95.8 75.2ZM92.2 70.2L90.6 69.4L89.0 68.5L87.0 70.1L88.6 70.9L90.1 71.7ZM89.0 68.5L87.3 67.8L85.6 67.0L83.8 68.6L85.4 69.3L87.0 70.1ZM85.6 67.0L83.8 66.3L82.1 65.6L80.4 67.3L82.1 67.9L83.8 68.6ZM82.1 65.6L80.2 64.9L78.4 64.3L76.8 66.0L78.6 66.6L80.4 67.3ZM78.4 64.3L76.5 63.7L74.6 63.2L73.2 65.0L75.0 65.5L76.8 66.0ZM74.6 63.2L72.6 62.7L70.7 62.2L69.5 64.0L71.3 64.5L73.2 65.0ZM70.7 62.2L68.7 61.8L66.7 61.4L65.6 63.2L67.6 63.6L69.5 64.0ZM96.1 69.7L94.5 68.8L92.9 68.0L90.8 69.5L92.4 70.3L93.9 71.1ZM92.9 68.0L91.3 67.1L89.6 66.3L87.7 67.9L89.3 68.7L90.8 69.5ZM89.6 66.3L87.9 65.6L86.1 64.9L84.3 66.5L86.0 67.2L87.7 67.9ZM86.1 64.9L84.4 64.2L82.5 63.5L80.9 65.2L82.6 65.8L84.3 66.5ZM82.5 63.5L80.7 62.8L78.8 62.2L77.3 64.0L79.1 64.6L80.9 65.2ZM78.8 62.2L76.9 61.7L75.0 61.1L73.6 62.9L75.5 63.4L77.3 64.0ZM75.0 61.1L73.0 60.7L71.0 60.2L69.8 62.0L71.7 62.4L73.6 62.9ZM71.0 60.2L69.0 59.8L67.0 59.4L65.9 61.2L67.9 61.6L69.8 62.0ZM67.0 59.4L64.9 59.0L62.8 58.7L62.0 60.6L64.0 60.9L65.9 61.2ZM102.8 71.2L101.3 70.2L99.9 69.2L97.6 70.6L99.0 71.6L100.4 72.5ZM99.9 69.2L98.3 68.3L96.8 67.4L94.7 68.9L96.2 69.8L97.6 70.6ZM98.0 57.9L96.3 57.2L94.6 56.5L92.8 58.1L94.5 58.8L96.1 59.5ZM94.6 56.5L92.8 55.8L91.0 55.1L89.4 56.8L91.1 57.5L92.8 58.1ZM91.0 55.1L89.2 54.5L87.3 53.9L85.8 55.6L87.6 56.2L89.4 56.8ZM87.3 53.9L85.5 53.3L83.6 52.8L82.2 54.5L84.0 55.1L85.8 55.6ZM83.6 52.8L81.7 52.3L79.7 51.8L78.4 53.6L80.3 54.0L82.2 54.5ZM79.7 51.8L77.8 51.3L75.8 50.9L74.6 52.7L76.5 53.1L78.4 53.6ZM71.8 50.1L69.7 49.7L67.7 49.4L66.8 51.3L68.8 51.6L70.8 51.9ZM102.0 57.3L100.3 56.5L98.6 55.8L96.8 57.4L98.4 58.1L100.0 58.9ZM98.6 55.8L96.9 55.1L95.1 54.4L93.4 56.0L95.1 56.7L96.8 57.4ZM95.1 54.4L93.3 53.7L91.5 53.0L89.9 54.7L91.6 55.4L93.4 56.0ZM91.5 53.0L89.6 52.4L87.8 51.8L86.3 53.6L88.1 54.1L89.9 54.7ZM87.8 51.8L85.9 51.3L84.0 50.7L82.6 52.5L84.4 53.0L86.3 53.6ZM84.0 50.7L82.0 50.2L80.1 49.7L78.8 51.5L80.7 52.0L82.6 52.5ZM80.1 49.7L78.1 49.3L76.1 48.9L75.0 50.7L76.9 51.1L78.8 51.5ZM76.1 48.9L74.1 48.5L72.1 48.1L71.1 49.9L73.0 50.3L75.0 50.7ZM112.2 60.2L110.7 59.3L109.1 58.4L107.0 59.9L108.5 60.7L110.0 61.6ZM109.1 58.4L107.5 57.5L105.9 56.7L103.9 58.2L105.5 59.0L107.0 59.9ZM105.9 56.7L104.3 55.9L102.6 55.1L100.7 56.7L102.3 57.5L103.9 58.2ZM102.6 55.1L100.9 54.4L99.1 53.6L97.3 55.3L99.0 56.0L100.7 56.7ZM99.1 53.6L97.4 52.9L95.6 52.2L93.9 53.9L95.6 54.6L97.3 55.3ZM95.6 52.2L93.8 51.6L91.9 51.0L90.4 52.7L92.1 53.3L93.9 53.9ZM91.9 51.0L90.1 50.4L88.2 49.8L86.7 51.5L88.5 52.1L90.4 52.7ZM88.2 49.8L86.3 49.2L84.3 48.7L83.0 50.5L84.9 51.0L86.7 51.5Z"/><path fill="none" stroke="#000" stroke-opacity="0.55" stroke-width="0.55" d="M81.5 102.9L84.6 102.7M81.1 100.3L84.2 99.9M80.2 97.8L83.2 97.2M79.0 95.4L81.9 94.6M77.3 93.1L80.0 92.1M75.2 90.9L77.8 89.7M72.7 88.8L75.1 87.6M69.9 87.0L72.1 85.6M66.8 85.4L68.8 83.8M63.5 83.9L65.1 82.3M59.8 82.8L61.2 81.0M56.0 81.8L57.1 80.0M52.0 81.2L52.8 79.3M47.9 80.7L48.4 78.8M84.7 103.0L87.7 102.8M84.3 100.6L87.4 100.2M83.6 98.2L86.6 97.6M82.6 95.8L85.5 95.1M81.2 93.5L84.0 92.7M79.4 91.4L82.1 90.4M77.3 89.3L79.9 88.2M75.0 87.4L77.4 86.1M72.3 85.7L74.5 84.3M69.4 84.1L71.4 82.6M66.2 82.7L68.0 81.1M62.9 81.5L64.4 79.8M59.3 80.5L60.6 78.7M55.6 79.7L56.6 77.9M51.8 79.1L52.6 77.2M47.9 78.8L48.4 76.9M87.8 103.0L90.8 102.8M87.4 100.5L90.5 100.2M86.8 98.1L89.8 97.6M85.8 95.7L88.8 95.0M84.5 93.4L87.3 92.5M82.8 91.1L85.6 90.2M80.8 89.0L83.4 87.9M78.5 87.0L81.0 85.8M76.0 85.2L78.3 83.8M73.2 83.5L75.3 82.0M70.1 82.0L72.0 80.4M66.8 80.6L68.5 78.9M63.4 79.4L64.8 77.7M59.7 78.5L61.0 76.7M56.0 77.7L56.9 75.9M52.1 77.2L52.8 75.3M48.1 76.9L48.6 74.9M90.9 103.0L93.9 102.8M90.6 100.5L93.6 100.1M90.0 98.0L93.0 97.5M89.0 95.5L92.0 94.9M87.7 93.2L90.6 92.4M86.1 90.9L88.9 90.0M84.3 88.7L86.9 87.7M82.1 86.7L84.6 85.5M79.6 84.7L82.0 83.4M76.9 82.9L79.1 81.5M73.9 81.3L76.0 79.8M70.8 79.8L72.6 78.2M67.4 78.5L69.0 76.8M63.8 77.4L65.2 75.6M60.1 76.5L61.3 74.7M56.3 75.8L57.2 73.9M52.4 75.2L53.0 73.3M48.3 74.9L48.8 73.0M93.9 102.9L97.0 102.8M93.7 100.4L96.8 100.1M93.1 97.9L96.2 97.4M92.2 95.4L95.2 94.8M91.0 93.0L93.9 92.3M89.5 90.7L92.3 89.8M87.7 88.5L90.4 87.5M85.6 86.3L88.2 85.2M83.2 84.3L85.7 83.1M80.6 82.5L82.9 81.1M77.7 80.7L79.9 79.2M74.6 79.1L76.6 77.6M71.4 77.7L73.1 76.1M67.9 76.5L69.4 74.7M64.3 75.4L65.6 73.6M60.5 74.5L61.6 72.7M56.6 73.8L57.5 71.9M52.6 73.3L53.3 71.4M48.6 73.0L49.0 71.1M97.0 102.9L100.1 102.8M96.8 100.4L99.9 100.1M96.3 97.8L99.3 97.4M95.4 95.3L98.4 94.8M94.3 92.9L97.2 92.2M92.8 90.5L95.7 89.7M91.1 88.2L93.8 87.3M89.1 86.1L91.7 85.0M86.8 84.0L89.3 82.8M84.3 82.0L86.6 80.7M81.5 80.2L83.7 78.8M78.5 78.5L80.6 77.0M75.3 77.0L77.2 75.4M71.9 75.6L73.6 73.9M68.4 74.4L69.8 72.7M64.7 73.4L65.9 71.6M60.8 72.5L61.9 70.7M56.9 71.8L57.7 70.0M52.8 71.4L53.5 69.5M48.8 71.1L49.2 69.2M100.1 102.9L103.2 102.8M99.9 100.3L103.0 100.0M99.4 97.8L102.5 97.3M98.6 95.2L101.6 94.7M97.5 92.8L100.5 92.1M96.1 90.4L99.0 89.6M94.4 88.0L97.2 87.1M92.5 85.8L95.2 84.8M90.3 83.7L92.9 82.5M87.9 81.6L90.3 80.4M85.2 79.7L87.5 78.4M82.3 78.0L84.5 76.5M79.2 76.3L81.2 74.8M75.9 74.8L77.7 73.2M72.4 73.5L74.1 71.8M68.8 72.3L70.2 70.6M65.0 71.3L66.3 69.5M61.1 70.5L62.2 68.7M57.2 69.9L58.0 68.0M53.1 69.4L53.7 67.5M49.0 69.1L49.3 67.2M103.2 102.9L106.3 102.7M103.0 100.3L106.1 100.0M102.6 97.7L105.6 97.3M101.8 95.1L104.8 94.6M100.7 92.6L103.7 92.0M99.4 90.2L102.3 89.4M97.8 87.8L100.6 87.0M95.9 85.6L98.7 84.6M93.8 83.4L96.5 82.3M91.5 81.3L94.0 80.1M88.9 79.3L91.3 78.0M86.1 77.5L88.3 76.0M83.1 75.7L85.1 74.2M79.8 74.1L81.8 72.6M76.5 72.7L78.2 71.1M72.9 71.4L74.5 69.7M69.2 70.3L70.6 68.5M65.4 69.3L66.6 67.5M61.4 68.5L62.4 66.7M57.4 67.9L58.2 66.0M53.3 67.5L53.9 65.6M49.2 67.2L49.5 65.3M106.3 103.0L109.4 102.8M106.2 100.4L109.3 100.2M105.8 97.9L108.8 97.6M105.1 95.5L108.1 95.0M104.2 93.0L107.2 92.5M103.0 90.7L105.9 90.0M101.6 88.3L104.5 87.5M100.0 86.1L102.7 85.2M98.1 83.9L100.8 82.9M96.0 81.8L98.6 80.7M93.7 79.8L96.2 78.6M91.1 77.9L93.5 76.6M88.4 76.1L90.7 74.7M85.5 74.4L87.6 73.0M82.5 72.9L84.4 71.3M79.2 71.5L81.0 69.8M75.8 70.2L77.5 68.5M72.3 69.0L73.8 67.3M68.7 68.0L70.0 66.2M64.9 67.2L66.1 65.3M61.1 66.5L62.0 64.6M57.2 65.9L57.9 64.0M53.2 65.5L53.8 63.6M49.2 65.3L49.6 63.4M109.4 103.0L112.5 102.8M109.3 100.4L112.4 100.2M108.9 97.9L112.0 97.5M108.3 95.4L111.3 94.9M107.4 92.9L110.4 92.4M106.2 90.5L109.2 89.8M104.9 88.2L107.8 87.4M103.3 85.9L106.1 85.0M101.5 83.7L104.2 82.7M99.4 81.5L102.1 80.4M97.2 79.5L99.7 78.3M94.8 77.5L97.2 76.2M92.1 75.6L94.4 74.3M89.3 73.9L91.5 72.5M86.3 72.3L88.3 70.7M83.1 70.7L85.0 69.2M79.8 69.4L81.6 67.7M76.4 68.1L77.9 66.4M72.8 67.0L74.2 65.2M69.1 66.0L70.3 64.2M65.3 65.2L66.4 63.3M61.4 64.5L62.3 62.6M57.5 64.0L58.2 62.1M53.4 63.6L54.0 61.7M49.4 63.3L49.7 61.4M112.5 102.9L115.6 102.8M112.4 100.4L115.5 100.2M112.0 97.8L115.1 97.5M111.4 95.3L114.5 94.9M110.6 92.8L113.6 92.3M109.5 90.4L112.4 89.7M108.2 88.0L111.1 87.2M106.6 85.7L109.5 84.8M104.9 83.4L107.6 82.5M102.9 81.2L105.6 80.2M100.7 79.1L103.3 78.0M98.3 77.1L100.8 75.9M95.8 75.2L98.1 73.9M93.0 73.4L95.3 72.0M90.1 71.7L92.2 70.2M87.0 70.1L89.0 68.5M83.8 68.6L85.6 67.0M80.4 67.3L82.1 65.6M76.8 66.0L78.4 64.3M73.2 65.0L74.6 63.2M69.5 64.0L70.7 62.2M65.6 63.2L66.7 61.4M61.7 62.5L62.6 60.7M57.7 62.0L58.4 60.1M53.7 61.6L54.2 59.7M49.6 61.4L49.9 59.5M115.6 102.9L118.7 102.8M115.5 100.3L118.6 100.1M115.1 97.8L118.2 97.5M114.6 95.2L117.6 94.8M113.7 92.7L116.8 92.2M112.7 90.3L115.7 89.6M111.4 87.9L114.4 87.1M109.9 85.5L112.8 84.7M108.2 83.2L111.0 82.3M106.3 81.0L109.0 80.0M104.2 78.8L106.8 77.7M101.9 76.8L104.4 75.6M99.4 74.8L101.8 73.5M96.7 72.9L99.0 71.6M93.9 71.1L96.1 69.7M90.8 69.5L92.9 68.0M87.7 67.9L89.6 66.3M84.3 66.5L86.1 64.9M80.9 65.2L82.5 63.5M77.3 64.0L78.8 62.2M73.6 62.9L75.0 61.1M69.8 62.0L71.0 60.2M65.9 61.2L67.0 59.4M62.0 60.6L62.8 58.7M58.0 60.1L58.7 58.2M53.9 59.7L54.4 57.8M49.8 59.5L50.1 57.6M118.7 102.9L121.8 102.8M118.6 100.3L121.7 100.1M118.3 97.7L121.3 97.4M117.7 95.2L120.8 94.8M116.9 92.7L119.9 92.1M115.9 90.2L118.9 89.6M114.7 87.7L117.6 87.0M113.3 85.3L116.1 84.5M111.6 83.0L114.4 82.1M109.8 80.8L112.5 79.8M107.7 78.6L110.4 77.5M105.5 76.4L108.0 75.3M103.0 74.4L105.5 73.2M100.4 72.5L102.8 71.2M97.6 70.6L99.9 69.2M94.7 68.9L96.8 67.4M91.6 67.3L93.6 65.7M88.3 65.8L90.2 64.2M84.9 64.4L86.6 62.7M81.4 63.1L83.0 61.4M77.8 61.9L79.2 60.2M74.0 60.9L75.3 59.1M70.2 60.0L71.3 58.2M66.3 59.2L67.2 57.4M62.3 58.6L63.1 56.7M58.2 58.1L58.9 56.2M54.1 57.8L54.6 55.9M50.0 57.6L50.3 55.6M121.8 102.9L124.9 102.8M121.7 100.3L124.8 100.1M121.4 97.7L124.5 97.4M120.9 95.1L123.9 94.7M120.1 92.6L123.1 92.1M119.1 90.1L122.1 89.5M117.9 87.6L120.9 86.9M116.6 85.2L119.4 84.4M115.0 82.8L117.8 82.0M113.2 80.5L115.9 79.6M111.2 78.3L113.8 77.3M109.0 76.2L111.6 75.0M106.6 74.1L109.1 72.9M104.1 72.1L106.5 70.8M101.3 70.2L103.6 68.8M98.4 68.4L100.6 67.0M95.4 66.7L97.5 65.2M92.2 65.1L94.2 63.5M88.9 63.6L90.7 62.0M85.4 62.3L87.1 60.6M81.9 61.0L83.4 59.3M78.2 59.9L79.6 58.1M74.4 58.9L75.7 57.1M70.5 58.0L71.6 56.2M66.6 57.3L67.5 55.4M62.5 56.7L63.3 54.8M58.5 56.2L59.1 54.3M54.3 55.8L54.8 53.9M50.2 55.6L50.5 53.7M124.9 102.9L128.0 102.8M124.8 100.3L127.9 100.1M124.5 97.6L127.6 97.4M124.0 95.1L127.1 94.7M123.3 92.5L126.3 92.0M122.3 90.0L125.3 89.4M121.2 87.5L124.1 86.8M119.8 85.0L122.7 84.3M118.3 82.7L121.1 81.8M116.5 80.3L119.3 79.4M114.6 78.1L117.3 77.0M112.5 75.9L115.1 74.8M110.2 73.8L112.7 72.6M107.7 71.7L110.1 70.5M105.0 69.8L107.4 68.4M102.2 67.9L104.5 66.5M99.2 66.2L101.4 64.7M96.1 64.5L98.1 63.0M92.9 62.9L94.8 61.4M89.5 61.5L91.2 59.9M85.9 60.2L87.6 58.5M82.3 58.9L83.8 57.2M78.6 57.8L80.0 56.1M74.8 56.9L76.0 55.1M70.8 56.0L71.9 54.2M66.9 55.3L67.8 53.4M62.8 54.7L63.6 52.8M58.7 54.2L59.3 52.3M54.5 53.9L55.0 52.0M50.4 53.7L50.7 51.8M128.0 102.9L131.1 102.8M127.9 100.4L131.0 100.2M127.7 97.8L130.7 97.6M127.2 95.3L130.3 95.0M126.6 92.8L129.6 92.4M125.7 90.3L128.7 89.8M124.7 87.9L127.6 87.3M123.4 85.5L126.4 84.8M122.0 83.2L124.9 82.4M120.4 80.9L123.3 80.0M118.7 78.6L121.4 77.6M116.7 76.4L119.4 75.4M114.6 74.3L117.2 73.2M112.3 72.3L114.9 71.1M109.9 70.3L112.3 69.0M107.3 68.4L109.6 67.1M104.6 66.6L106.8 65.2M101.7 64.9L103.8 63.4M98.6 63.2L100.7 61.7M95.5 61.7L97.4 60.1M92.2 60.3L94.0 58.6M88.8 58.9L90.5 57.3M85.3 57.7L86.9 56.0M81.7 56.6L83.2 54.8M78.0 55.6L79.4 53.8M74.3 54.7L75.4 52.9M70.4 53.9L71.5 52.0M66.5 53.2L67.4 51.4M62.6 52.7L63.3 50.8M58.5 52.3L59.2 50.4M54.5 52.0L55.0 50.0M50.4 51.8L50.7 49.9M131.1 102.9L134.2 102.8M131.0 100.4L134.1 100.2M130.8 97.8L133.9 97.5M130.3 95.3L133.4 94.9M129.7 92.7L132.8 92.3M128.9 90.3L131.9 89.7M127.9 87.8L130.9 87.2M126.7 85.4L129.6 84.7M125.3 83.0L128.2 82.2M123.8 80.7L126.6 79.8M122.0 78.4L124.8 77.5M120.2 76.2L122.9 75.2M118.1 74.0L120.7 72.9M115.9 71.9L118.4 70.8M113.5 69.9L116.0 68.7M110.9 68.0L113.3 66.7M108.2 66.1L110.5 64.7M105.4 64.3L107.6 62.9M102.4 62.6L104.6 61.2M99.4 61.0L101.4 59.5M96.1 59.5L98.0 57.9M92.8 58.1L94.6 56.5M89.4 56.8L91.0 55.1M85.8 55.6L87.3 53.9M82.2 54.5L83.6 52.8M78.4 53.6L79.7 51.8M74.6 52.7L75.8 50.9M70.8 51.9L71.8 50.1M66.8 51.3L67.7 49.4M62.8 50.7L63.6 48.8M58.8 50.3L59.4 48.4M54.7 50.0L55.2 48.1M50.6 49.8L50.9 47.9M134.2 102.9L137.3 102.8M134.1 100.3L137.2 100.2M133.9 97.8L137.0 97.5M133.5 95.2L136.5 94.9M132.9 92.7L135.9 92.2M132.1 90.2L135.1 89.7M131.1 87.7L134.1 87.1M129.9 85.2L132.9 84.6M128.6 82.8L131.5 82.1M127.1 80.5L129.9 79.7M125.4 78.2L128.2 77.3M123.6 75.9L126.3 75.0M121.5 73.7L124.2 72.7M119.4 71.6L122.0 70.5M117.0 69.6L119.6 68.4M114.6 67.6L117.0 66.3M111.9 65.7L114.3 64.3M109.1 63.8L111.4 62.4M106.2 62.1L108.4 60.6M103.2 60.4L105.3 58.9M100.0 58.9L102.0 57.3M96.8 57.4L98.6 55.8M93.4 56.0L95.1 54.4M89.9 54.7L91.5 53.0M86.3 53.6L87.8 51.8M82.6 52.5L84.0 50.7M78.8 51.5L80.1 49.7M75.0 50.7L76.1 48.9M71.1 49.9L72.1 48.1M67.1 49.3L68.0 47.4M63.1 48.8L63.8 46.9M59.0 48.4L59.6 46.5M54.9 48.1L55.4 46.2M50.8 47.9L51.1 46.0M137.3 102.9L140.4 102.8M137.2 100.3L140.3 100.1M137.0 97.7L140.1 97.5M136.6 95.2L139.7 94.8M136.0 92.6L139.1 92.2M135.2 90.1L138.3 89.6M134.3 87.6L137.3 87.0M133.2 85.1L136.1 84.5M131.9 82.7L134.8 82.0M130.4 80.3L133.3 79.5M128.8 78.0L131.6 77.1M127.0 75.7L129.7 74.8M125.0 73.5L127.7 72.5M122.9 71.3L125.5 70.2M120.6 69.2L123.1 68.1M118.1 67.2L120.6 66.0M115.6 65.3L118.0 64.0M112.9 63.4L115.2 62.0M110.0 61.6L112.2 60.2M107.0 59.9L109.1 58.4M103.9 58.2L105.9 56.7M100.7 56.7L102.6 55.1M97.3 55.3L99.1 53.6M93.9 53.9L95.6 52.2M90.4 52.7L91.9 51.0M86.7 51.5L88.2 49.8M83.0 50.5L84.3 48.7M79.2 49.5L80.4 47.7M75.3 48.7L76.4 46.9M71.4 48.0L72.3 46.1M67.4 47.3L68.2 45.5M63.3 46.8L64.0 44.9M59.3 46.4L59.8 44.5M55.1 46.2L55.6 44.2M51.0 46.0L51.3 44.1M140.4 102.9L143.5 102.8M140.3 100.3L143.4 100.1M140.1 97.7L143.2 97.4M139.7 95.1L142.8 94.8M139.2 92.5L142.2 92.1M138.4 90.0L141.4 89.5M137.5 87.5L140.5 86.9M136.4 85.0L139.4 84.4M135.1 82.6L138.1 81.9M133.7 80.2L136.6 79.4M132.1 77.8L134.9 77.0M130.3 75.5L133.1 74.6M128.4 73.3L131.1 72.3M126.3 71.1L129.0 70.0M124.1 68.9L126.7 67.8M121.7 66.9L124.2 65.7M119.2 64.9L121.6 63.6M116.5 63.0L118.9 61.6M113.7 61.1L116.0 59.7M110.8 59.3L113.0 57.9M107.8 57.7L109.8 56.2M104.6 56.1L106.6 54.5M101.3 54.6L103.2 53.0M97.9 53.1L99.7 51.5M94.4 51.8L96.1 50.1M90.8 50.6L92.4 48.9M87.1 49.5L88.6 47.7M83.4 48.4L84.7 46.7M79.5 47.5L80.7 45.7M75.6 46.7L76.7 44.9M71.7 46.0L72.6 44.1M67.7 45.4L68.5 43.5M63.6 44.9L64.3 43.0M59.5 44.5L60.0 42.6M55.3 44.2L55.8 42.3M51.2 44.1L51.5 42.1M143.5 102.9L146.6 102.8M143.4 100.3L146.5 100.1M143.2 97.7L146.3 97.4M142.8 95.1L145.9 94.7M142.3 92.5L145.4 92.1M141.6 89.9L144.6 89.5M140.7 87.4L143.7 86.9M139.6 84.9L142.6 84.3M138.4 82.4L141.3 81.7M137.0 80.0L139.9 79.3M135.4 77.6L138.3 76.8M133.7 75.3L136.5 74.4M131.8 73.0L134.6 72.1M129.8 70.8L132.5 69.8M127.6 68.7L130.2 67.5M125.3 66.5L127.8 65.4M122.8 64.5L125.3 63.3M120.2 62.5L122.6 61.2M117.5 60.7L119.8 59.3M114.6 58.8L116.8 57.4M111.6 57.1L113.7 55.6M108.5 55.5L110.5 53.9M105.2 53.9L107.2 52.3M101.9 52.4L103.7 50.8M98.4 51.0L100.2 49.4M94.9 49.7L96.5 48.0M91.3 48.5L92.8 46.8M87.6 47.4L89.0 45.7M83.8 46.4L85.0 44.6M79.9 45.5L81.1 43.7M76.0 44.7L77.0 42.9M72.0 44.0L72.9 42.2M67.9 43.4L68.7 41.5M63.8 42.9L64.5 41.0M59.7 42.6L60.3 40.7M55.5 42.3L56.0 40.4M51.4 42.1L51.7 40.2M146.6 102.9L149.7 102.8M146.5 100.2L149.6 100.1M146.3 97.6L149.4 97.4M146.0 95.0L149.1 94.7M145.4 92.4L148.5 92.0M144.7 89.9L147.8 89.4M143.9 87.3L146.9 86.8M142.8 84.8L145.8 84.2M141.6 82.3L144.6 81.6M140.3 79.9L143.2 79.1M138.7 77.5L141.6 76.7M137.1 75.1L139.9 74.2M135.2 72.8L138.0 71.9M133.2 70.6L136.0 69.5M131.1 68.4L133.8 67.3M128.8 66.2L131.4 65.1M126.4 64.2L128.9 63.0M123.9 62.2L126.3 60.9M121.2 60.2L123.5 58.9M118.3 58.4L120.6 57.0M115.4 56.6L117.6 55.1M112.3 54.9L114.4 53.4M109.1 53.3L111.1 51.7M105.9 51.7L107.8 50.1M102.5 50.3L104.3 48.6M99.0 48.9L100.7 47.2M95.4 47.6L97.0 45.9M91.7 46.5L93.2 44.7M88.0 45.4L89.3 43.6M84.1 44.4L85.4 42.6M80.2 43.5L81.4 41.7M76.3 42.7L77.3 40.9M72.2 42.1L73.2 40.2M68.2 41.5L69.0 39.6M64.1 41.0L64.7 39.1M59.9 40.6L60.5 38.7M55.7 40.4L56.2 38.5M51.5 40.2L51.8 38.3M149.6 102.9L152.7 102.8M149.6 100.4L152.7 100.2M149.5 97.8L152.6 97.6M149.1 95.2L152.2 94.9M148.7 92.7L151.7 92.3M148.0 90.2L151.1 89.7M147.2 87.7L150.2 87.2M146.3 85.2L149.2 84.6M145.1 82.8L148.1 82.1M143.9 80.4L146.8 79.6M142.5 78.0L145.4 77.2M140.9 75.7L143.8 74.8M139.2 73.4L142.0 72.4M137.4 71.1L140.1 70.1M135.4 68.9L138.1 67.9M133.3 66.8L135.9 65.7M131.0 64.7L133.6 63.6M128.6 62.7L131.1 61.5M126.1 60.7L128.5 59.5M123.4 58.9L125.8 57.5M120.7 57.0L122.9 55.6M117.8 55.3L120.0 53.8M114.8 53.6L116.9 52.1M111.7 52.0L113.7 50.5M108.5 50.5L110.4 48.9M105.2 49.0L107.0 47.4M101.8 47.7L103.5 46.0M98.3 46.4L100.0 44.7M94.8 45.2L96.3 43.5M91.1 44.1L92.5 42.4M87.4 43.1L88.7 41.3M83.6 42.2L84.8 40.4M79.8 41.4L80.9 39.5M75.9 40.6L76.9 38.8M71.9 40.0L72.8 38.1M67.9 39.5L68.7 37.6M63.9 39.0L64.5 37.1M59.8 38.7L60.4 36.8M55.7 38.4L56.1 36.5M51.6 38.3L51.9 36.4M152.7 102.9L155.8 102.8M152.7 100.3L155.8 100.2M152.6 97.8L155.7 97.5M152.3 95.2L155.3 94.9M151.8 92.6L154.9 92.3M151.2 90.1L154.2 89.7M150.4 87.6L153.4 87.1M149.4 85.1L152.5 84.5M148.4 82.6L151.3 82.0M147.1 80.2L150.1 79.5M145.8 77.8L148.7 77.1M144.2 75.5L147.1 74.6M142.6 73.2L145.4 72.3M140.8 70.9L143.5 69.9M138.8 68.7L141.5 67.7M136.7 66.5L139.4 65.4M134.5 64.4L137.1 63.3M132.2 62.4L134.7 61.2M129.7 60.4L132.1 59.1M127.1 58.4L129.5 57.1M124.4 56.6L126.7 55.2M121.5 54.8L123.8 53.4M118.6 53.1L120.7 51.6M115.5 51.4L117.6 49.9M112.4 49.8L114.4 48.3M109.1 48.3L111.0 46.7M105.8 46.9L107.6 45.3M102.4 45.6L104.0 43.9M98.8 44.3L100.4 42.6M95.2 43.2L96.7 41.4M91.5 42.1L92.9 40.3M87.8 41.1L89.1 39.3M84.0 40.2L85.2 38.4M80.1 39.4L81.2 37.5M76.2 38.7L77.2 36.8M72.2 38.0L73.1 36.2M68.2 37.5L68.9 35.6M64.1 37.1L64.8 35.2M60.1 36.7L60.6 34.8M55.9 36.5L56.3 34.6M51.8 36.4L52.1 34.4M155.8 103.2L161.5 103.1M155.8 100.9L161.6 100.7M155.8 98.7L161.5 98.3M155.5 96.4L161.2 96.0M155.2 94.1L160.9 93.6M154.8 91.9L160.4 91.2M154.2 89.7L159.8 88.9M153.5 87.5L159.1 86.6M152.7 85.3L158.3 84.3M151.8 83.1L157.3 82.0M150.8 80.9L156.3 79.7M149.7 78.8L155.1 77.5M148.4 76.7L153.8 75.3M147.1 74.6L152.4 73.1M145.6 72.6L150.8 71.0M144.1 70.6L149.2 68.9M142.4 68.6L147.4 66.8M140.6 66.7L145.6 64.8M138.7 64.8L143.6 62.8M136.8 63.0L141.5 60.8M134.7 61.2L139.3 58.9M132.5 59.4L137.1 57.1M130.2 57.7L134.7 55.3M127.9 56.0L132.2 53.5M125.4 54.4L129.6 51.9M122.9 52.9L127.0 50.2M120.3 51.3L124.2 48.6M117.6 49.9L121.4 47.1M114.8 48.5L118.5 45.7M112.0 47.2L115.5 44.3M109.1 45.9L112.4 42.9M106.1 44.7L109.3 41.6M103.0 43.5L106.1 40.4M99.9 42.4L102.8 39.3M96.7 41.4L99.5 38.2M93.5 40.5L96.1 37.2M90.2 39.6L92.6 36.3M86.9 38.8L89.1 35.4M83.5 38.0L85.6 34.6M80.0 37.3L82.0 33.9M76.6 36.7L78.3 33.3M73.1 36.2L74.6 32.7M69.5 35.7L70.9 32.2M66.0 35.3L67.2 31.8M62.4 35.0L63.4 31.4M58.8 34.7L59.6 31.2M55.1 34.5L55.8 31.0M51.5 34.4L52.0 30.9M161.5 103.2L167.2 103.1M161.6 100.9L167.3 100.7M161.5 98.6L167.2 98.3M161.3 96.3L167.0 95.9M161.0 94.0L166.7 93.5M160.5 91.8L166.2 91.1M160.0 89.5L165.7 88.8M159.4 87.3L165.0 86.4M158.6 85.1L164.2 84.1M157.7 82.9L163.3 81.8M156.8 80.7L162.2 79.5M155.7 78.5L161.1 77.2M154.5 76.4L159.8 75.0M153.2 74.3L158.5 72.8M151.7 72.2L157.0 70.6M150.2 70.2L155.4 68.5M148.6 68.2L153.7 66.4M146.9 66.2L151.9 64.3M145.1 64.3L150.0 62.3M143.2 62.4L148.0 60.3M141.1 60.5L145.9 58.4M139.0 58.7L143.7 56.5M136.8 56.9L141.4 54.6M134.5 55.2L139.0 52.8M132.2 53.5L136.5 51.0M129.7 51.9L133.9 49.3M127.1 50.3L131.2 47.7M124.5 48.8L128.5 46.1M121.8 47.3L125.6 44.6M119.0 45.9L122.7 43.1M116.2 44.5L119.7 41.6M113.2 43.2L116.6 40.3M110.2 42.0L113.5 39.0M107.2 40.8L110.3 37.7M104.0 39.7L107.0 36.6M100.9 38.7L103.7 35.5M97.6 37.7L100.3 34.4M94.3 36.7L96.8 33.5M91.0 35.9L93.3 32.6M87.6 35.1L89.8 31.7M84.2 34.3L86.2 30.9M80.7 33.7L82.5 30.3M77.2 33.1L78.9 29.6M73.6 32.6L75.2 29.1M70.1 32.1L71.4 28.6M66.4 31.7L67.6 28.2M62.8 31.4L63.8 27.9M59.2 31.1L60.0 27.6M55.5 31.0L56.2 27.4M51.8 30.9L52.3 27.3M167.2 103.2L172.9 103.1M167.3 101.0L173.0 100.7M167.2 98.7L172.9 98.4M167.0 96.4L172.7 96.0M166.8 94.2L172.4 93.6M166.4 91.9L172.0 91.3M165.9 89.7L171.5 89.0M165.3 87.5L170.9 86.6M164.6 85.3L170.2 84.3M163.8 83.1L169.3 82.0M162.9 80.9L168.4 79.8M161.9 78.7L167.3 77.5M160.8 76.6L166.2 75.3M159.5 74.5L164.9 73.1M158.2 72.4L163.5 70.9M156.8 70.4L162.1 68.8M155.3 68.4L160.5 66.7M153.7 66.4L158.8 64.6M152.0 64.4L157.0 62.6M150.2 62.5L155.2 60.6M148.3 60.6L153.2 58.6M146.4 58.8L151.1 56.7M144.3 57.0L149.0 54.8M142.1 55.2L146.7 52.9M139.9 53.5L144.4 51.1M137.6 51.8L142.0 49.4M135.2 50.2L139.4 47.7M132.7 48.6L136.8 46.0M130.2 47.1L134.2 44.4M127.5 45.6L131.4 42.8M124.8 44.1L128.6 41.3M122.0 42.7L125.7 39.9M119.2 41.4L122.7 38.5M116.3 40.1L119.7 37.2M113.3 38.9L116.6 35.9M110.3 37.7L113.4 34.7M107.2 36.6L110.2 33.5M104.1 35.6L106.9 32.4M100.9 34.6L103.5 31.4M97.6 33.7L100.2 30.4M94.3 32.8L96.7 29.5M91.0 32.0L93.2 28.6M87.6 31.2L89.7 27.9M84.2 30.6L86.1 27.1M80.7 29.9L82.5 26.5M77.2 29.4L78.8 25.9M73.7 28.9L75.2 25.4M70.2 28.5L71.4 25.0M66.6 28.1L67.7 24.6M63.0 27.8L64.0 24.3M59.4 27.6L60.2 24.0M55.7 27.4L56.4 23.9M52.1 27.3L52.6 23.7M172.9 103.2L178.7 103.1M173.0 100.9L178.7 100.7M172.9 98.6L178.6 98.3M172.8 96.3L178.5 95.9M172.5 94.1L178.2 93.6M172.1 91.8L177.8 91.2M171.7 89.5L177.3 88.9M171.1 87.3L176.7 86.5M170.4 85.1L176.0 84.2M169.7 82.9L175.2 81.9M168.8 80.7L174.3 79.6M167.8 78.5L173.3 77.3M166.7 76.3L172.2 75.1M165.6 74.2L170.9 72.8M164.3 72.1L169.6 70.6M162.9 70.0L168.2 68.5M161.5 68.0L166.7 66.3M159.9 65.9L165.0 64.2M158.2 63.9L163.3 62.1M156.5 62.0L161.5 60.1M154.7 60.1L159.6 58.1M152.7 58.2L157.6 56.1M150.7 56.3L155.5 54.2M148.6 54.5L153.3 52.3M146.5 52.7L151.0 50.4M144.2 51.0L148.7 48.6M141.9 49.3L146.2 46.9M139.4 47.7L143.7 45.2M136.9 46.1L141.1 43.5M134.4 44.5L138.4 41.9M131.7 43.0L135.6 40.3M129.0 41.6L132.8 38.8M126.2 40.2L129.9 37.3M123.4 38.8L126.9 35.9M120.5 37.5L123.9 34.5M117.5 36.2L120.8 33.2M114.4 35.1L117.6 32.0M111.3 33.9L114.4 30.8M108.2 32.8L111.1 29.7M105.0 31.8L107.7 28.6M101.7 30.8L104.3 27.6M98.4 29.9L100.9 26.7M95.1 29.1L97.4 25.8M91.7 28.3L93.9 24.9M88.3 27.6L90.3 24.2M84.8 26.9L86.7 23.5M81.3 26.3L83.0 22.9M77.8 25.8L79.4 22.3M74.2 25.3L75.7 21.8M70.7 24.9L71.9 21.4M67.0 24.5L68.2 21.0M63.4 24.2L64.4 20.7M59.8 24.0L60.6 20.5M56.1 23.8L56.8 20.3M52.5 23.7L52.9 20.2M178.6 103.2L184.4 103.1M178.7 101.0L184.4 100.8M178.7 98.7L184.4 98.4M178.5 96.4L184.2 96.1M178.3 94.2L184.0 93.7M177.9 91.9L183.6 91.4M177.5 89.7L183.2 89.0M177.0 87.5L182.6 86.7M176.4 85.2L182.0 84.4M175.6 83.0L181.2 82.1M174.8 80.9L180.4 79.8M173.9 78.7L179.4 77.6M172.9 76.5L178.4 75.3M171.8 74.4L177.2 73.1M170.6 72.3L176.0 70.9M169.4 70.2L174.7 68.8M168.0 68.2L173.3 66.6M166.5 66.1L171.7 64.5M165.0 64.1L170.1 62.4M163.3 62.2L168.4 60.4M161.6 60.2L166.6 58.3M159.8 58.3L164.7 56.4M157.9 56.4L162.8 54.4M156.0 54.6L160.7 52.5M153.9 52.8L158.6 50.6M151.8 51.0L156.4 48.8M149.6 49.3L154.1 47.0M147.3 47.6L151.7 45.2M144.9 46.0L149.2 43.5M142.5 44.4L146.7 41.8M140.0 42.8L144.1 40.2M137.4 41.3L141.4 38.6M134.7 39.8L138.6 37.1M132.0 38.4L135.8 35.6M129.3 37.0L132.9 34.1M126.4 35.7L129.9 32.8M123.5 34.4L126.9 31.4M120.6 33.2L123.9 30.1M117.5 32.0L120.7 28.9M114.5 30.8L117.5 27.7M111.4 29.8L114.3 26.6M108.2 28.7L111.0 25.6M105.0 27.8L107.6 24.5M101.7 26.9L104.2 23.6M98.4 26.0L100.8 22.7M95.1 25.2L97.3 21.9M91.7 24.5L93.8 21.1M88.3 23.8L90.2 20.4M84.8 23.2L86.6 19.7M81.4 22.6L83.0 19.1M77.9 22.1L79.4 18.6M74.3 21.6L75.7 18.1M70.8 21.2L72.0 17.7M67.2 20.9L68.3 17.4M63.6 20.6L64.5 17.1M60.0 20.4L60.8 16.9M56.4 20.3L57.0 16.7M52.7 20.2L53.2 16.6M81.5 105.5L81.6 104.2L81.5 102.9L81.4 101.6L81.1 100.3L80.7 99.1L80.2 97.8L79.7 96.6L79.0 95.4L78.2 94.2L77.3 93.1L76.3 91.9L75.2 90.9L74.0 89.8L72.7 88.8L71.4 87.9L69.9 87.0L68.4 86.2L66.8 85.4L65.2 84.6L63.5 83.9L61.7 83.3L59.8 82.8L57.9 82.3L56.0 81.8L54.0 81.5L52.0 81.2L50.0 80.9L47.9 80.7L45.9 80.6L43.8 80.6M84.6 105.5L84.7 104.3L84.7 103.0L84.5 101.8L84.3 100.6L84.0 99.4L83.6 98.2L83.1 97.0L82.6 95.8L81.9 94.7L81.2 93.5L80.3 92.5L79.4 91.4L78.4 90.3L77.3 89.3L76.2 88.4L75.0 87.4L73.7 86.5L72.3 85.7L70.9 84.9L69.4 84.1L67.9 83.4L66.2 82.7L64.6 82.1L62.9 81.5L61.1 81.0L59.3 80.5L57.5 80.1L55.6 79.7L53.7 79.4L51.8 79.1L49.9 78.9L47.9 78.8L45.9 78.7L44.0 78.7M87.7 105.5L87.8 104.2L87.8 103.0L87.6 101.7L87.4 100.5L87.2 99.3L86.8 98.1L86.3 96.9L85.8 95.7L85.2 94.5L84.5 93.4L83.7 92.2L82.8 91.1L81.8 90.1L80.8 89.0L79.7 88.0L78.5 87.0L77.3 86.1L76.0 85.2L74.6 84.3L73.2 83.5L71.7 82.7L70.1 82.0L68.5 81.3L66.8 80.6L65.1 80.0L63.4 79.4L61.6 78.9L59.7 78.5L57.9 78.1L56.0 77.7L54.0 77.4L52.1 77.2L50.1 77.0L48.1 76.9L46.1 76.8L44.1 76.8M90.8 105.5L90.9 104.2L90.9 103.0L90.8 101.7L90.6 100.5L90.3 99.2L90.0 98.0L89.5 96.7L89.0 95.5L88.4 94.4L87.7 93.2L87.0 92.0L86.1 90.9L85.2 89.8L84.3 88.7L83.2 87.7L82.1 86.7L80.9 85.7L79.6 84.7L78.3 83.8L76.9 82.9L75.4 82.1L73.9 81.3L72.4 80.5L70.8 79.8L69.1 79.2L67.4 78.5L65.6 77.9L63.8 77.4L62.0 76.9L60.1 76.5L58.2 76.1L56.3 75.8L54.3 75.5L52.4 75.2L50.4 75.1L48.3 74.9L46.3 74.9L44.3 74.8M93.9 105.5L94.0 104.2L93.9 102.9L93.9 101.7L93.7 100.4L93.4 99.1L93.1 97.9L92.7 96.7L92.2 95.4L91.6 94.2L91.0 93.0L90.3 91.9L89.5 90.7L88.6 89.6L87.7 88.5L86.7 87.4L85.6 86.3L84.4 85.3L83.2 84.3L81.9 83.4L80.6 82.5L79.2 81.6L77.7 80.7L76.2 79.9L74.6 79.1L73.0 78.4L71.4 77.7L69.6 77.1L67.9 76.5L66.1 75.9L64.3 75.4L62.4 74.9L60.5 74.5L58.5 74.1L56.6 73.8L54.6 73.5L52.6 73.3L50.6 73.1L48.6 73.0L46.5 72.9L44.5 72.9M97.0 105.5L97.1 104.2L97.0 102.9L97.0 101.6L96.8 100.4L96.6 99.1L96.3 97.8L95.9 96.6L95.4 95.3L94.9 94.1L94.3 92.9L93.6 91.7L92.8 90.5L92.0 89.4L91.1 88.2L90.1 87.1L89.1 86.1L88.0 85.0L86.8 84.0L85.5 83.0L84.3 82.0L82.9 81.1L81.5 80.2L80.0 79.3L78.5 78.5L76.9 77.7L75.3 77.0L73.6 76.3L71.9 75.6L70.2 75.0L68.4 74.4L66.5 73.9L64.7 73.4L62.7 72.9L60.8 72.5L58.9 72.2L56.9 71.8L54.9 71.6L52.8 71.4L50.8 71.2L48.8 71.1L46.7 71.0L44.6 71.0M100.1 105.5L100.1 104.2L100.1 102.9L100.1 101.6L99.9 100.3L99.7 99.0L99.4 97.8L99.0 96.5L98.6 95.2L98.1 94.0L97.5 92.8L96.8 91.6L96.1 90.4L95.3 89.2L94.4 88.0L93.5 86.9L92.5 85.8L91.4 84.7L90.3 83.7L89.1 82.6L87.9 81.6L86.6 80.7L85.2 79.7L83.8 78.8L82.3 78.0L80.8 77.1L79.2 76.3L77.6 75.6L75.9 74.8L74.2 74.2L72.4 73.5L70.6 72.9L68.8 72.3L66.9 71.8L65.0 71.3L63.1 70.9L61.1 70.5L59.2 70.2L57.2 69.9L55.1 69.6L53.1 69.4L51.0 69.3L49.0 69.1L46.9 69.1L44.8 69.1M103.2 105.5L103.2 104.2L103.2 102.9L103.2 101.6L103.0 100.3L102.8 99.0L102.6 97.7L102.2 96.4L101.8 95.1L101.3 93.9L100.7 92.6L100.1 91.4L99.4 90.2L98.6 89.0L97.8 87.8L96.9 86.7L95.9 85.6L94.9 84.5L93.8 83.4L92.7 82.3L91.5 81.3L90.2 80.3L88.9 79.3L87.5 78.4L86.1 77.5L84.6 76.6L83.1 75.7L81.5 74.9L79.8 74.1L78.2 73.4L76.5 72.7L74.7 72.0L72.9 71.4L71.1 70.8L69.2 70.3L67.3 69.8L65.4 69.3L63.4 68.9L61.4 68.5L59.4 68.2L57.4 67.9L55.4 67.7L53.3 67.5L51.2 67.3L49.2 67.2L47.1 67.1L45.0 67.1M106.2 105.5L106.3 104.2L106.3 103.0L106.3 101.7L106.2 100.4L106.0 99.2L105.8 97.9L105.5 96.7L105.1 95.5L104.7 94.3L104.2 93.0L103.6 91.8L103.0 90.7L102.3 89.5L101.6 88.3L100.8 87.2L100.0 86.1L99.0 85.0L98.1 83.9L97.1 82.8L96.0 81.8L94.8 80.8L93.7 79.8L92.4 78.8L91.1 77.9L89.8 77.0L88.4 76.1L87.0 75.3L85.5 74.4L84.0 73.7L82.5 72.9L80.9 72.2L79.2 71.5L77.6 70.8L75.8 70.2L74.1 69.6L72.3 69.0L70.5 68.5L68.7 68.0L66.8 67.6L64.9 67.2L63.0 66.8L61.1 66.5L59.2 66.2L57.2 65.9L55.2 65.7L53.2 65.5L51.2 65.4L49.2 65.3L47.2 65.2L45.1 65.2M109.3 105.5L109.4 104.2L109.4 103.0L109.4 101.7L109.3 100.4L109.1 99.1L108.9 97.9L108.6 96.6L108.3 95.4L107.8 94.2L107.4 92.9L106.8 91.7L106.2 90.5L105.6 89.3L104.9 88.2L104.1 87.0L103.3 85.9L102.4 84.8L101.5 83.7L100.5 82.6L99.4 81.5L98.4 80.5L97.2 79.5L96.0 78.5L94.8 77.5L93.5 76.6L92.1 75.6L90.7 74.8L89.3 73.9L87.8 73.1L86.3 72.3L84.7 71.5L83.1 70.7L81.5 70.0L79.8 69.4L78.1 68.7L76.4 68.1L74.6 67.5L72.8 67.0L70.9 66.5L69.1 66.0L67.2 65.6L65.3 65.2L63.4 64.8L61.4 64.5L59.4 64.2L57.5 64.0L55.5 63.8L53.4 63.6L51.4 63.4L49.4 63.3L47.3 63.3L45.3 63.3M112.4 105.5L112.5 104.2L112.5 102.9L112.5 101.7L112.4 100.4L112.2 99.1L112.0 97.8L111.7 96.6L111.4 95.3L111.0 94.1L110.6 92.8L110.0 91.6L109.5 90.4L108.9 89.2L108.2 88.0L107.4 86.8L106.6 85.7L105.8 84.5L104.9 83.4L103.9 82.3L102.9 81.2L101.8 80.2L100.7 79.1L99.6 78.1L98.3 77.1L97.1 76.1L95.8 75.2L94.4 74.3L93.0 73.4L91.6 72.5L90.1 71.7L88.6 70.9L87.0 70.1L85.4 69.3L83.8 68.6L82.1 67.9L80.4 67.3L78.6 66.6L76.8 66.0L75.0 65.5L73.2 65.0L71.3 64.5L69.5 64.0L67.6 63.6L65.6 63.2L63.7 62.9L61.7 62.5L59.7 62.3L57.7 62.0L55.7 61.8L53.7 61.6L51.6 61.5L49.6 61.4L47.5 61.4L45.5 61.3M115.5 105.5L115.6 104.2L115.6 102.9L115.6 101.6L115.5 100.3L115.4 99.1L115.1 97.8L114.9 96.5L114.6 95.2L114.2 94.0L113.7 92.7L113.3 91.5L112.7 90.3L112.1 89.1L111.4 87.9L110.7 86.7L109.9 85.5L109.1 84.4L108.2 83.2L107.3 82.1L106.3 81.0L105.3 79.9L104.2 78.8L103.1 77.8L101.9 76.8L100.7 75.8L99.4 74.8L98.1 73.8L96.7 72.9L95.3 72.0L93.9 71.1L92.4 70.3L90.8 69.5L89.3 68.7L87.7 67.9L86.0 67.2L84.3 66.5L82.6 65.8L80.9 65.2L79.1 64.6L77.3 64.0L75.5 63.4L73.6 62.9L71.7 62.4L69.8 62.0L67.9 61.6L65.9 61.2L64.0 60.9L62.0 60.6L60.0 60.3L58.0 60.1L55.9 59.9L53.9 59.7L51.8 59.6L49.8 59.5L47.7 59.4L45.6 59.4M118.6 105.5L118.7 104.2L118.7 102.9L118.7 101.6L118.6 100.3L118.5 99.0L118.3 97.7L118.0 96.5L117.7 95.2L117.3 93.9L116.9 92.7L116.4 91.4L115.9 90.2L115.3 88.9L114.7 87.7L114.0 86.5L113.3 85.3L112.5 84.2L111.6 83.0L110.7 81.9L109.8 80.8L108.8 79.6L107.7 78.6L106.6 77.5L105.5 76.4L104.3 75.4L103.0 74.4L101.7 73.4L100.4 72.5L99.0 71.6L97.6 70.6L96.2 69.8L94.7 68.9L93.1 68.1L91.6 67.3L89.9 66.5L88.3 65.8L86.6 65.1L84.9 64.4L83.2 63.7L81.4 63.1L79.6 62.5L77.8 61.9L75.9 61.4L74.0 60.9L72.1 60.4L70.2 60.0L68.2 59.6L66.3 59.2L64.3 58.9L62.3 58.6L60.2 58.4L58.2 58.1L56.2 57.9L54.1 57.8L52.0 57.7L50.0 57.6L47.9 57.5L45.8 57.5M121.7 105.5L121.8 104.2L121.8 102.9L121.8 101.6L121.7 100.3L121.6 99.0L121.4 97.7L121.2 96.4L120.9 95.1L120.5 93.8L120.1 92.6L119.6 91.3L119.1 90.1L118.6 88.8L117.9 87.6L117.3 86.4L116.6 85.2L115.8 84.0L115.0 82.8L114.1 81.7L113.2 80.5L112.2 79.4L111.2 78.3L110.1 77.2L109.0 76.2L107.8 75.1L106.6 74.1L105.3 73.1L104.1 72.1L102.7 71.1L101.3 70.2L99.9 69.3L98.4 68.4L96.9 67.5L95.4 66.7L93.8 65.9L92.2 65.1L90.6 64.3L88.9 63.6L87.2 62.9L85.4 62.3L83.7 61.6L81.9 61.0L80.0 60.4L78.2 59.9L76.3 59.4L74.4 58.9L72.5 58.4L70.5 58.0L68.5 57.6L66.6 57.3L64.6 56.9L62.5 56.7L60.5 56.4L58.5 56.2L56.4 56.0L54.3 55.8L52.3 55.7L50.2 55.6L48.1 55.6L46.0 55.6M124.8 105.5L124.9 104.2L124.9 102.9L124.9 101.6L124.8 100.3L124.7 98.9L124.5 97.6L124.3 96.4L124.0 95.1L123.7 93.8L123.3 92.5L122.8 91.2L122.3 90.0L121.8 88.7L121.2 87.5L120.5 86.3L119.8 85.0L119.1 83.8L118.3 82.7L117.4 81.5L116.5 80.3L115.6 79.2L114.6 78.1L113.6 77.0L112.5 75.9L111.3 74.8L110.2 73.8L108.9 72.7L107.7 71.7L106.4 70.7L105.0 69.8L103.6 68.8L102.2 67.9L100.7 67.0L99.2 66.2L97.7 65.3L96.1 64.5L94.5 63.7L92.9 62.9L91.2 62.2L89.5 61.5L87.7 60.8L85.9 60.2L84.1 59.5L82.3 58.9L80.5 58.4L78.6 57.8L76.7 57.3L74.8 56.9L72.8 56.4L70.8 56.0L68.9 55.6L66.9 55.3L64.8 55.0L62.8 54.7L60.8 54.5L58.7 54.2L56.6 54.1L54.5 53.9L52.5 53.8L50.4 53.7L48.3 53.7L46.2 53.6M127.9 105.5L128.0 104.2L128.0 102.9L128.0 101.7L127.9 100.4L127.8 99.1L127.7 97.8L127.5 96.6L127.2 95.3L126.9 94.1L126.6 92.8L126.2 91.6L125.7 90.3L125.2 89.1L124.7 87.9L124.1 86.7L123.4 85.5L122.8 84.3L122.0 83.2L121.3 82.0L120.4 80.9L119.6 79.7L118.7 78.6L117.7 77.5L116.7 76.4L115.7 75.4L114.6 74.3L113.5 73.3L112.3 72.3L111.1 71.3L109.9 70.3L108.6 69.3L107.3 68.4L105.9 67.5L104.6 66.6L103.1 65.7L101.7 64.9L100.2 64.0L98.6 63.2L97.1 62.4L95.5 61.7L93.9 61.0L92.2 60.3L90.5 59.6L88.8 58.9L87.1 58.3L85.3 57.7L83.5 57.1L81.7 56.6L79.9 56.1L78.0 55.6L76.2 55.1L74.3 54.7L72.4 54.3L70.4 53.9L68.5 53.5L66.5 53.2L64.5 52.9L62.6 52.7L60.6 52.5L58.5 52.3L56.5 52.1L54.5 52.0L52.5 51.9L50.4 51.8L48.4 51.7L46.3 51.7M131.0 105.5L131.1 104.2L131.1 102.9L131.1 101.6L131.0 100.4L130.9 99.1L130.8 97.8L130.6 96.5L130.3 95.3L130.0 94.0L129.7 92.7L129.3 91.5L128.9 90.3L128.4 89.0L127.9 87.8L127.3 86.6L126.7 85.4L126.0 84.2L125.3 83.0L124.6 81.8L123.8 80.7L122.9 79.5L122.0 78.4L121.1 77.3L120.2 76.2L119.1 75.1L118.1 74.0L117.0 73.0L115.9 71.9L114.7 70.9L113.5 69.9L112.2 68.9L110.9 68.0L109.6 67.0L108.2 66.1L106.8 65.2L105.4 64.3L103.9 63.5L102.4 62.6L100.9 61.8L99.4 61.0L97.8 60.3L96.1 59.5L94.5 58.8L92.8 58.1L91.1 57.5L89.4 56.8L87.6 56.2L85.8 55.6L84.0 55.1L82.2 54.5L80.3 54.0L78.4 53.6L76.5 53.1L74.6 52.7L72.7 52.3L70.8 51.9L68.8 51.6L66.8 51.3L64.8 51.0L62.8 50.7L60.8 50.5L58.8 50.3L56.8 50.2L54.7 50.0L52.7 49.9L50.6 49.8L48.6 49.8L46.5 49.8M134.1 105.5L134.1 104.2L134.2 102.9L134.2 101.6L134.1 100.3L134.0 99.0L133.9 97.8L133.7 96.5L133.5 95.2L133.2 93.9L132.9 92.7L132.5 91.4L132.1 90.2L131.6 88.9L131.1 87.7L130.5 86.5L129.9 85.2L129.3 84.0L128.6 82.8L127.9 81.7L127.1 80.5L126.3 79.3L125.4 78.2L124.5 77.1L123.6 75.9L122.6 74.8L121.5 73.7L120.5 72.7L119.4 71.6L118.2 70.6L117.0 69.6L115.8 68.6L114.6 67.6L113.3 66.6L111.9 65.7L110.5 64.7L109.1 63.8L107.7 63.0L106.2 62.1L104.7 61.3L103.2 60.4L101.6 59.6L100.0 58.9L98.4 58.1L96.8 57.4L95.1 56.7L93.4 56.0L91.6 55.4L89.9 54.7L88.1 54.1L86.3 53.6L84.4 53.0L82.6 52.5L80.7 52.0L78.8 51.5L76.9 51.1L75.0 50.7L73.0 50.3L71.1 49.9L69.1 49.6L67.1 49.3L65.1 49.0L63.1 48.8L61.1 48.6L59.0 48.4L57.0 48.2L54.9 48.1L52.9 48.0L50.8 47.9L48.7 47.9L46.7 47.9M137.1 105.5L137.2 104.2L137.3 102.9L137.3 101.6L137.2 100.3L137.1 99.0L137.0 97.7L136.8 96.4L136.6 95.2L136.3 93.9L136.0 92.6L135.6 91.3L135.2 90.1L134.8 88.8L134.3 87.6L133.8 86.4L133.2 85.1L132.5 83.9L131.9 82.7L131.2 81.5L130.4 80.3L129.6 79.2L128.8 78.0L127.9 76.9L127.0 75.7L126.0 74.6L125.0 73.5L123.9 72.4L122.9 71.3L121.7 70.3L120.6 69.2L119.4 68.2L118.1 67.2L116.9 66.2L115.6 65.3L114.2 64.3L112.9 63.4L111.4 62.5L110.0 61.6L108.5 60.7L107.0 59.9L105.5 59.0L103.9 58.2L102.3 57.5L100.7 56.7L99.0 56.0L97.3 55.3L95.6 54.6L93.9 53.9L92.1 53.3L90.4 52.7L88.5 52.1L86.7 51.5L84.9 51.0L83.0 50.5L81.1 50.0L79.2 49.5L77.3 49.1L75.3 48.7L73.4 48.3L71.4 48.0L69.4 47.6L67.4 47.3L65.4 47.1L63.3 46.8L61.3 46.6L59.3 46.4L57.2 46.3L55.1 46.2L53.1 46.1L51.0 46.0L48.9 46.0L46.8 45.9M140.2 105.5L140.3 104.2L140.4 102.9L140.4 101.6L140.3 100.3L140.2 99.0L140.1 97.7L139.9 96.4L139.7 95.1L139.5 93.8L139.2 92.5L138.8 91.3L138.4 90.0L138.0 88.7L137.5 87.5L137.0 86.3L136.4 85.0L135.8 83.8L135.1 82.6L134.4 81.4L133.7 80.2L132.9 79.0L132.1 77.8L131.2 76.7L130.3 75.5L129.4 74.4L128.4 73.3L127.4 72.2L126.3 71.1L125.2 70.0L124.1 68.9L122.9 67.9L121.7 66.9L120.5 65.9L119.2 64.9L117.9 63.9L116.5 63.0L115.2 62.0L113.7 61.1L112.3 60.2L110.8 59.3L109.3 58.5L107.8 57.7L106.2 56.9L104.6 56.1L103.0 55.3L101.3 54.6L99.6 53.8L97.9 53.1L96.2 52.5L94.4 51.8L92.6 51.2L90.8 50.6L89.0 50.0L87.1 49.5L85.3 48.9L83.4 48.4L81.5 48.0L79.5 47.5L77.6 47.1L75.6 46.7L73.7 46.3L71.7 46.0L69.7 45.7L67.7 45.4L65.6 45.1L63.6 44.9L61.5 44.7L59.5 44.5L57.4 44.4L55.3 44.2L53.3 44.1L51.2 44.1L49.1 44.0L47.0 44.0M143.3 105.5L143.4 104.2L143.5 102.9L143.5 101.6L143.4 100.3L143.4 99.0L143.2 97.7L143.1 96.4L142.8 95.1L142.6 93.8L142.3 92.5L142.0 91.2L141.6 89.9L141.1 88.7L140.7 87.4L140.2 86.2L139.6 84.9L139.0 83.7L138.4 82.4L137.7 81.2L137.0 80.0L136.2 78.8L135.4 77.6L134.6 76.5L133.7 75.3L132.8 74.2L131.8 73.0L130.8 71.9L129.8 70.8L128.7 69.7L127.6 68.7L126.5 67.6L125.3 66.5L124.1 65.5L122.8 64.5L121.5 63.5L120.2 62.5L118.9 61.6L117.5 60.7L116.0 59.7L114.6 58.8L113.1 58.0L111.6 57.1L110.0 56.3L108.5 55.5L106.9 54.7L105.2 53.9L103.6 53.1L101.9 52.4L100.2 51.7L98.4 51.0L96.7 50.4L94.9 49.7L93.1 49.1L91.3 48.5L89.4 48.0L87.6 47.4L85.7 46.9L83.8 46.4L81.8 46.0L79.9 45.5L77.9 45.1L76.0 44.7L74.0 44.4L72.0 44.0L69.9 43.7L67.9 43.4L65.9 43.2L63.8 42.9L61.8 42.7L59.7 42.6L57.6 42.4L55.5 42.3L53.5 42.2L51.4 42.1L49.3 42.1L47.2 42.1M146.4 105.5L146.5 104.2L146.6 102.9L146.6 101.6L146.5 100.2L146.5 98.9L146.3 97.6L146.2 96.3L146.0 95.0L145.7 93.7L145.4 92.4L145.1 91.1L144.7 89.9L144.3 88.6L143.9 87.3L143.4 86.1L142.8 84.8L142.3 83.6L141.6 82.3L141.0 81.1L140.3 79.9L139.5 78.7L138.7 77.5L137.9 76.3L137.1 75.1L136.2 74.0L135.2 72.8L134.3 71.7L133.2 70.6L132.2 69.5L131.1 68.4L130.0 67.3L128.8 66.2L127.6 65.2L126.4 64.2L125.2 63.2L123.9 62.2L122.5 61.2L121.2 60.2L119.8 59.3L118.3 58.4L116.9 57.5L115.4 56.6L113.9 55.7L112.3 54.9L110.8 54.1L109.1 53.3L107.5 52.5L105.9 51.7L104.2 51.0L102.5 50.3L100.7 49.6L99.0 48.9L97.2 48.3L95.4 47.6L93.6 47.0L91.7 46.5L89.8 45.9L88.0 45.4L86.1 44.9L84.1 44.4L82.2 44.0L80.2 43.5L78.3 43.1L76.3 42.7L74.3 42.4L72.2 42.1L70.2 41.8L68.2 41.5L66.1 41.2L64.1 41.0L62.0 40.8L59.9 40.6L57.8 40.5L55.7 40.4L53.7 40.3L51.5 40.2L49.4 40.2L47.3 40.2M149.5 105.5L149.6 104.2L149.6 102.9L149.7 101.6L149.6 100.4L149.6 99.1L149.5 97.8L149.3 96.5L149.1 95.2L148.9 94.0L148.7 92.7L148.3 91.4L148.0 90.2L147.6 88.9L147.2 87.7L146.7 86.4L146.3 85.2L145.7 84.0L145.1 82.8L144.5 81.6L143.9 80.4L143.2 79.2L142.5 78.0L141.7 76.8L140.9 75.7L140.1 74.5L139.2 73.4L138.3 72.2L137.4 71.1L136.4 70.0L135.4 68.9L134.3 67.9L133.3 66.8L132.1 65.8L131.0 64.7L129.8 63.7L128.6 62.7L127.4 61.7L126.1 60.7L124.8 59.8L123.4 58.9L122.1 57.9L120.7 57.0L119.2 56.1L117.8 55.3L116.3 54.4L114.8 53.6L113.3 52.8L111.7 52.0L110.1 51.2L108.5 50.5L106.9 49.7L105.2 49.0L103.5 48.3L101.8 47.7L100.1 47.0L98.3 46.4L96.6 45.8L94.8 45.2L93.0 44.7L91.1 44.1L89.3 43.6L87.4 43.1L85.5 42.6L83.6 42.2L81.7 41.8L79.8 41.4L77.8 41.0L75.9 40.6L73.9 40.3L71.9 40.0L69.9 39.7L67.9 39.5L65.9 39.2L63.9 39.0L61.9 38.8L59.8 38.7L57.8 38.5L55.7 38.4L53.7 38.3L51.6 38.3L49.6 38.2L47.5 38.2M152.6 105.5L152.7 104.2L152.7 102.9L152.8 101.6L152.7 100.3L152.7 99.0L152.6 97.8L152.4 96.5L152.3 95.2L152.0 93.9L151.8 92.6L151.5 91.4L151.2 90.1L150.8 88.8L150.4 87.6L149.9 86.3L149.4 85.1L148.9 83.9L148.4 82.6L147.8 81.4L147.1 80.2L146.5 79.0L145.8 77.8L145.0 76.6L144.2 75.5L143.4 74.3L142.6 73.2L141.7 72.0L140.8 70.9L139.8 69.8L138.8 68.7L137.8 67.6L136.7 66.5L135.6 65.5L134.5 64.4L133.4 63.4L132.2 62.4L130.9 61.4L129.7 60.4L128.4 59.4L127.1 58.4L125.7 57.5L124.4 56.6L123.0 55.7L121.5 54.8L120.1 53.9L118.6 53.1L117.1 52.2L115.5 51.4L114.0 50.6L112.4 49.8L110.8 49.1L109.1 48.3L107.5 47.6L105.8 46.9L104.1 46.2L102.4 45.6L100.6 44.9L98.8 44.3L97.0 43.7L95.2 43.2L93.4 42.6L91.5 42.1L89.7 41.6L87.8 41.1L85.9 40.6L84.0 40.2L82.1 39.8L80.1 39.4L78.2 39.0L76.2 38.7L74.2 38.3L72.2 38.0L70.2 37.8L68.2 37.5L66.2 37.3L64.1 37.1L62.1 36.9L60.1 36.7L58.0 36.6L55.9 36.5L53.9 36.4L51.8 36.4L49.7 36.3L47.7 36.3M155.7 105.5L155.8 104.4L155.8 103.2L155.8 102.1L155.8 100.9L155.8 99.8L155.8 98.7L155.7 97.5L155.5 96.4L155.4 95.3L155.2 94.1L155.0 93.0L154.8 91.9L154.5 90.8L154.2 89.7L153.9 88.6L153.5 87.5L153.2 86.4L152.7 85.3L152.3 84.2L151.8 83.1L151.3 82.0L150.8 80.9L150.3 79.9L149.7 78.8L149.1 77.8L148.4 76.7L147.8 75.7L147.1 74.6L146.4 73.6L145.6 72.6L144.9 71.6L144.1 70.6L143.2 69.6L142.4 68.6L141.5 67.7L140.6 66.7L139.7 65.8L138.7 64.8L137.8 63.9L136.8 63.0L135.7 62.1L134.7 61.2L133.6 60.3L132.5 59.4L131.4 58.5L130.2 57.7L129.1 56.8L127.9 56.0L126.7 55.2L125.4 54.4L124.2 53.6L122.9 52.9L121.6 52.1L120.3 51.3L119.0 50.6L117.6 49.9L116.2 49.2L114.8 48.5L113.4 47.8L112.0 47.2L110.5 46.5L109.1 45.9L107.6 45.3L106.1 44.7L104.6 44.1L103.0 43.5L101.5 43.0L99.9 42.4L98.3 41.9L96.7 41.4L95.1 40.9L93.5 40.5L91.8 40.0L90.2 39.6L88.5 39.2L86.9 38.8L85.2 38.4L83.5 38.0L81.8 37.7L80.0 37.3L78.3 37.0L76.6 36.7L74.8 36.4L73.1 36.2L71.3 35.9L69.5 35.7L67.8 35.5L66.0 35.3L64.2 35.1L62.4 35.0L60.6 34.8L58.8 34.7L57.0 34.6L55.1 34.5L53.3 34.5L51.5 34.4L49.7 34.4L47.8 34.4M161.4 105.5L161.5 104.4L161.5 103.2L161.6 102.1L161.6 100.9L161.5 99.8L161.5 98.6L161.4 97.5L161.3 96.3L161.1 95.2L161.0 94.0L160.8 92.9L160.5 91.8L160.3 90.6L160.0 89.5L159.7 88.4L159.4 87.3L159.0 86.2L158.6 85.1L158.2 84.0L157.7 82.9L157.3 81.8L156.8 80.7L156.2 79.6L155.7 78.5L155.1 77.5L154.5 76.4L153.8 75.3L153.2 74.3L152.5 73.2L151.7 72.2L151.0 71.2L150.2 70.2L149.4 69.2L148.6 68.2L147.8 67.2L146.9 66.2L146.0 65.2L145.1 64.3L144.1 63.3L143.2 62.4L142.2 61.4L141.1 60.5L140.1 59.6L139.0 58.7L137.9 57.8L136.8 56.9L135.7 56.0L134.5 55.2L133.4 54.3L132.2 53.5L130.9 52.7L129.7 51.9L128.4 51.1L127.1 50.3L125.8 49.5L124.5 48.8L123.2 48.0L121.8 47.3L120.4 46.6L119.0 45.9L117.6 45.2L116.2 44.5L114.7 43.9L113.2 43.2L111.7 42.6L110.2 42.0L108.7 41.4L107.2 40.8L105.6 40.3L104.0 39.7L102.5 39.2L100.9 38.7L99.2 38.1L97.6 37.7L96.0 37.2L94.3 36.7L92.7 36.3L91.0 35.9L89.3 35.5L87.6 35.1L85.9 34.7L84.2 34.3L82.4 34.0L80.7 33.7L78.9 33.4L77.2 33.1L75.4 32.8L73.6 32.6L71.8 32.3L70.1 32.1L68.3 31.9L66.4 31.7L64.6 31.5L62.8 31.4L61.0 31.3L59.2 31.1L57.3 31.0L55.5 31.0L53.7 30.9L51.8 30.9L50.0 30.8L48.2 30.8M167.1 105.5L167.2 104.4L167.2 103.2L167.3 102.1L167.3 101.0L167.3 99.8L167.2 98.7L167.1 97.5L167.0 96.4L166.9 95.3L166.8 94.2L166.6 93.0L166.4 91.9L166.1 90.8L165.9 89.7L165.6 88.6L165.3 87.5L165.0 86.4L164.6 85.3L164.2 84.2L163.8 83.1L163.3 82.0L162.9 80.9L162.4 79.8L161.9 78.7L161.3 77.7L160.8 76.6L160.2 75.6L159.5 74.5L158.9 73.5L158.2 72.4L157.5 71.4L156.8 70.4L156.1 69.4L155.3 68.4L154.5 67.4L153.7 66.4L152.9 65.4L152.0 64.4L151.1 63.5L150.2 62.5L149.3 61.6L148.3 60.6L147.4 59.7L146.4 58.8L145.3 57.9L144.3 57.0L143.2 56.1L142.1 55.2L141.0 54.3L139.9 53.5L138.8 52.6L137.6 51.8L136.4 51.0L135.2 50.2L134.0 49.4L132.7 48.6L131.4 47.8L130.2 47.1L128.8 46.3L127.5 45.6L126.2 44.8L124.8 44.1L123.4 43.4L122.0 42.7L120.6 42.1L119.2 41.4L117.8 40.8L116.3 40.1L114.8 39.5L113.3 38.9L111.8 38.3L110.3 37.7L108.8 37.2L107.2 36.6L105.6 36.1L104.1 35.6L102.5 35.1L100.9 34.6L99.2 34.1L97.6 33.7L96.0 33.2L94.3 32.8L92.6 32.4L91.0 32.0L89.3 31.6L87.6 31.2L85.9 30.9L84.2 30.6L82.4 30.2L80.7 29.9L79.0 29.6L77.2 29.4L75.5 29.1L73.7 28.9L71.9 28.7L70.2 28.5L68.4 28.3L66.6 28.1L64.8 27.9L63.0 27.8L61.2 27.7L59.4 27.6L57.6 27.5L55.7 27.4L53.9 27.3L52.1 27.3L50.3 27.3L48.5 27.3M172.8 105.5L172.9 104.4L172.9 103.2L173.0 102.1L173.0 100.9L173.0 99.8L172.9 98.6L172.9 97.5L172.8 96.3L172.7 95.2L172.5 94.1L172.3 92.9L172.1 91.8L171.9 90.7L171.7 89.5L171.4 88.4L171.1 87.3L170.8 86.2L170.4 85.1L170.1 84.0L169.7 82.9L169.2 81.8L168.8 80.7L168.3 79.6L167.8 78.5L167.3 77.4L166.7 76.3L166.2 75.3L165.6 74.2L164.9 73.1L164.3 72.1L163.6 71.1L162.9 70.0L162.2 69.0L161.5 68.0L160.7 66.9L159.9 65.9L159.1 64.9L158.2 63.9L157.4 63.0L156.5 62.0L155.6 61.0L154.7 60.1L153.7 59.1L152.7 58.2L151.8 57.2L150.7 56.3L149.7 55.4L148.6 54.5L147.6 53.6L146.5 52.7L145.3 51.9L144.2 51.0L143.0 50.2L141.9 49.3L140.7 48.5L139.4 47.7L138.2 46.9L136.9 46.1L135.7 45.3L134.4 44.5L133.1 43.8L131.7 43.0L130.4 42.3L129.0 41.6L127.6 40.8L126.2 40.2L124.8 39.5L123.4 38.8L121.9 38.1L120.5 37.5L119.0 36.9L117.5 36.2L116.0 35.6L114.4 35.1L112.9 34.5L111.3 33.9L109.8 33.4L108.2 32.8L106.6 32.3L105.0 31.8L103.4 31.3L101.7 30.8L100.1 30.4L98.4 29.9L96.8 29.5L95.1 29.1L93.4 28.7L91.7 28.3L90.0 27.9L88.3 27.6L86.6 27.2L84.8 26.9L83.1 26.6L81.3 26.3L79.6 26.0L77.8 25.8L76.0 25.5L74.2 25.3L72.4 25.1L70.7 24.9L68.9 24.7L67.0 24.5L65.2 24.4L63.4 24.2L61.6 24.1L59.8 24.0L58.0 23.9L56.1 23.8L54.3 23.8L52.5 23.7L50.6 23.7L48.8 23.7M178.5 105.5L178.6 104.4L178.6 103.2L178.7 102.1L178.7 101.0L178.7 99.8L178.7 98.7L178.6 97.6L178.5 96.4L178.4 95.3L178.3 94.2L178.1 93.0L177.9 91.9L177.7 90.8L177.5 89.7L177.3 88.6L177.0 87.5L176.7 86.4L176.4 85.2L176.0 84.1L175.6 83.0L175.2 82.0L174.8 80.9L174.4 79.8L173.9 78.7L173.4 77.6L172.9 76.5L172.4 75.5L171.8 74.4L171.2 73.4L170.6 72.3L170.0 71.3L169.4 70.2L168.7 69.2L168.0 68.2L167.3 67.2L166.5 66.1L165.8 65.1L165.0 64.1L164.2 63.2L163.3 62.2L162.5 61.2L161.6 60.2L160.7 59.3L159.8 58.3L158.9 57.4L157.9 56.4L157.0 55.5L156.0 54.6L154.9 53.7L153.9 52.8L152.8 51.9L151.8 51.0L150.7 50.2L149.6 49.3L148.4 48.5L147.3 47.6L146.1 46.8L144.9 46.0L143.7 45.2L142.5 44.4L141.2 43.6L140.0 42.8L138.7 42.0L137.4 41.3L136.1 40.5L134.7 39.8L133.4 39.1L132.0 38.4L130.6 37.7L129.3 37.0L127.8 36.3L126.4 35.7L125.0 35.0L123.5 34.4L122.0 33.8L120.6 33.2L119.1 32.6L117.5 32.0L116.0 31.4L114.5 30.8L112.9 30.3L111.4 29.8L109.8 29.3L108.2 28.7L106.6 28.3L105.0 27.8L103.4 27.3L101.7 26.9L100.1 26.4L98.4 26.0L96.8 25.6L95.1 25.2L93.4 24.8L91.7 24.5L90.0 24.1L88.3 23.8L86.6 23.5L84.8 23.2L83.1 22.9L81.4 22.6L79.6 22.3L77.9 22.1L76.1 21.9L74.3 21.6L72.5 21.4L70.8 21.2L69.0 21.1L67.2 20.9L65.4 20.8L63.6 20.6L61.8 20.5L60.0 20.4L58.2 20.3L56.4 20.3L54.5 20.2L52.7 20.2L50.9 20.2L49.1 20.2M184.2 105.5L184.3 104.3L184.4 103.1L184.4 102.0L184.4 100.8L184.4 99.6L184.4 98.4L184.3 97.2L184.2 96.1L184.1 94.9L184.0 93.7L183.8 92.5L183.6 91.4L183.4 90.2L183.2 89.0L182.9 87.9L182.6 86.7L182.3 85.6L182.0 84.4L181.6 83.3L181.2 82.1L180.8 81.0L180.4 79.8L179.9 78.7L179.4 77.6L178.9 76.5L178.4 75.3L177.8 74.2L177.2 73.1L176.6 72.0L176.0 70.9L175.4 69.8L174.7 68.8L174.0 67.7L173.3 66.6L172.5 65.6L171.7 64.5L170.9 63.5L170.1 62.4L169.3 61.4L168.4 60.4L167.5 59.4L166.6 58.3L165.7 57.3L164.7 56.4L163.8 55.4L162.8 54.4L161.8 53.4L160.7 52.5L159.7 51.5L158.6 50.6L157.5 49.7L156.4 48.8L155.2 47.9L154.1 47.0L152.9 46.1L151.7 45.2L150.4 44.3L149.2 43.5L147.9 42.6L146.7 41.8L145.4 41.0L144.1 40.2L142.7 39.4L141.4 38.6L140.0 37.8L138.6 37.1L137.2 36.3L135.8 35.6L134.4 34.9L132.9 34.1L131.4 33.4L129.9 32.8L128.4 32.1L126.9 31.4L125.4 30.8L123.9 30.1L122.3 29.5L120.7 28.9L119.1 28.3L117.5 27.7L115.9 27.2L114.3 26.6L112.6 26.1L111.0 25.6L109.3 25.0L107.6 24.5L105.9 24.1L104.2 23.6L102.5 23.1L100.8 22.7L99.1 22.3L97.3 21.9L95.6 21.5L93.8 21.1L92.0 20.7L90.2 20.4L88.4 20.1L86.6 19.7L84.8 19.4L83.0 19.1L81.2 18.9L79.4 18.6L77.5 18.4L75.7 18.1L73.8 17.9L72.0 17.7L70.1 17.6L68.3 17.4L66.4 17.2L64.5 17.1L62.6 17.0L60.8 16.9L58.9 16.8L57.0 16.7L55.1 16.7L53.2 16.6L51.3 16.6L49.4 16.6"/><path fill="none" stroke="#000" stroke-opacity="0.25" stroke-width="0.55" d="M41.6 105.5L46.3 104.3M41.6 105.5L45.3 103.3M41.6 105.5L43.8 102.6M46.3 104.3L51.0 103.1M45.3 103.3L49.0 101.1M43.8 102.6L45.9 99.8M51.3 103.6L56.1 102.6M50.0 101.8L54.2 100.0M47.9 100.5L51.1 97.9M45.2 99.6L47.0 96.6M56.3 103.1L61.2 102.3M55.0 100.8L59.4 99.3M52.8 98.9L56.5 96.7M49.8 97.4L52.5 94.7M46.3 96.5L47.8 93.5M61.4 103.1L66.3 102.5M60.5 100.7L65.2 99.5M58.8 98.6L63.1 96.9M56.5 96.7L60.2 94.5M53.6 95.2L56.6 92.6M50.2 94.0L52.4 91.1M46.6 93.3L47.8 90.2M66.5 103.1L71.4 102.6M65.8 100.7L70.6 99.7M64.5 98.4L69.0 97.0M62.6 96.4L66.8 94.5M60.2 94.5L63.9 92.3M57.4 92.9L60.5 90.4M54.1 91.6L56.7 88.9M50.6 90.7L52.4 87.7M46.9 90.1L47.9 87.1M71.5 103.1L76.5 102.7M70.9 100.7L75.8 99.9M69.9 98.4L74.6 97.2M68.4 96.2L72.8 94.6M66.4 94.1L70.5 92.2M63.9 92.3L67.7 90.1M61.1 90.7L64.4 88.2M58.0 89.3L60.7 86.6M54.6 88.3L56.7 85.4M50.9 87.5L52.5 84.5M47.1 87.0L48.1 83.9M76.5 103.1L81.5 102.7M76.1 100.7L81.0 100.0M75.2 98.3L80.0 97.3M73.9 96.0L78.5 94.7M72.2 93.9L76.6 92.3M70.1 91.9L74.2 90.0M67.7 90.1L71.4 87.9M64.9 88.5L68.2 86.0M61.8 87.1L64.7 84.4M58.5 85.9L60.9 83.1M54.9 84.9L56.8 82.0M51.2 84.3L52.6 81.2M47.4 83.9L48.2 80.8M46.6 105.5L46.5 104.9L46.3 104.3L45.9 103.8L45.3 103.3L44.6 102.9L43.8 102.6L42.8 102.4L41.9 102.4M51.6 105.5L51.5 104.5L51.3 103.6L50.7 102.7L50.0 101.8L49.0 101.1L47.9 100.5L46.6 100.0L45.2 99.6L43.7 99.4L42.1 99.3M56.6 105.5L56.6 104.3L56.3 103.1L55.7 101.9L55.0 100.8L54.0 99.8L52.8 98.9L51.4 98.1L49.8 97.4L48.1 96.9L46.3 96.5L44.4 96.2L42.4 96.2M61.6 105.5L61.6 104.3L61.4 103.1L61.0 101.9L60.5 100.7L59.7 99.6L58.8 98.6L57.7 97.6L56.5 96.7L55.1 95.9L53.6 95.2L52.0 94.5L50.2 94.0L48.4 93.6L46.6 93.3L44.6 93.1L42.7 93.1M66.6 105.5L66.6 104.3L66.5 103.1L66.2 101.9L65.8 100.7L65.2 99.5L64.5 98.4L63.6 97.4L62.6 96.4L61.5 95.4L60.2 94.5L58.8 93.7L57.4 92.9L55.8 92.2L54.1 91.6L52.4 91.1L50.6 90.7L48.8 90.4L46.9 90.1L44.9 90.0L43.0 89.9M71.5 105.5L71.6 104.3L71.5 103.1L71.3 101.9L70.9 100.7L70.5 99.5L69.9 98.4L69.2 97.2L68.4 96.2L67.4 95.1L66.4 94.1L65.2 93.2L63.9 92.3L62.6 91.5L61.1 90.7L59.6 90.0L58.0 89.3L56.3 88.8L54.6 88.3L52.8 87.8L50.9 87.5L49.0 87.2L47.1 87.0L45.2 86.9L43.2 86.8M76.5 105.5L76.6 104.3L76.5 103.1L76.4 101.9L76.1 100.7L75.7 99.5L75.2 98.3L74.6 97.2L73.9 96.0L73.1 95.0L72.2 93.9L71.2 92.9L70.1 91.9L68.9 91.0L67.7 90.1L66.3 89.3L64.9 88.5L63.4 87.7L61.8 87.1L60.2 86.4L58.5 85.9L56.7 85.4L54.9 84.9L53.1 84.6L51.2 84.3L49.3 84.0L47.4 83.9L45.5 83.8L43.5 83.7"/></g></g>
<text class="hd" x="186.4" y="19">S, Mises</text>
<text class="hd" x="186.4" y="26.1">SNEG, (fraction = -1.0)</text>
<text class="hd" x="186.4" y="33.8">(Avg: 75%)</text>
<rect x="186.70" y="39.20" width="9.00" height="5.94" fill="#FF0000"/><rect x="186.70" y="45.09" width="9.00" height="5.94" fill="#FF5D00"/><rect x="186.70" y="50.98" width="9.00" height="5.94" fill="#FFB900"/><rect x="186.70" y="56.87" width="9.00" height="5.94" fill="#E8FF00"/><rect x="186.70" y="62.76" width="9.00" height="5.94" fill="#8BFF00"/><rect x="186.70" y="68.65" width="9.00" height="5.94" fill="#2EFF00"/><rect x="186.70" y="74.54" width="9.00" height="5.94" fill="#00FF2E"/><rect x="186.70" y="80.43" width="9.00" height="5.94" fill="#00FF8B"/><rect x="186.70" y="86.32" width="9.00" height="5.94" fill="#00FFE8"/><rect x="186.70" y="92.21" width="9.00" height="5.94" fill="#00B9FF"/><rect x="186.70" y="98.10" width="9.00" height="5.94" fill="#005DFF"/><rect x="186.70" y="103.99" width="9.00" height="5.94" fill="#0000FF"/><line x1="186.70" y1="39.20" x2="198.20" y2="39.20" stroke="#222" stroke-opacity="0.5" stroke-width="0.6"/><text x="218.80" y="41.30" class="lg" text-anchor="end">360.0</text><line x1="186.70" y1="45.09" x2="198.20" y2="45.09" stroke="#222" stroke-opacity="0.5" stroke-width="0.6"/><text x="218.80" y="47.19" class="lg" text-anchor="end">349.2</text><line x1="186.70" y1="50.98" x2="198.20" y2="50.98" stroke="#222" stroke-opacity="0.5" stroke-width="0.6"/><text x="218.80" y="53.08" class="lg" text-anchor="end">338.3</text><line x1="186.70" y1="56.87" x2="198.20" y2="56.87" stroke="#222" stroke-opacity="0.5" stroke-width="0.6"/><text x="218.80" y="58.97" class="lg" text-anchor="end">327.5</text><line x1="186.70" y1="62.76" x2="198.20" y2="62.76" stroke="#222" stroke-opacity="0.5" stroke-width="0.6"/><text x="218.80" y="64.86" class="lg" text-anchor="end">316.7</text><line x1="186.70" y1="68.65" x2="198.20" y2="68.65" stroke="#222" stroke-opacity="0.5" stroke-width="0.6"/><text x="218.80" y="70.75" class="lg" text-anchor="end">305.8</text><line x1="186.70" y1="74.54" x2="198.20" y2="74.54" stroke="#222" stroke-opacity="0.5" stroke-width="0.6"/><text x="218.80" y="76.64" class="lg" text-anchor="end">295.0</text><line x1="186.70" y1="80.43" x2="198.20" y2="80.43" stroke="#222" stroke-opacity="0.5" stroke-width="0.6"/><text x="218.80" y="82.53" class="lg" text-anchor="end">284.2</text><line x1="186.70" y1="86.32" x2="198.20" y2="86.32" stroke="#222" stroke-opacity="0.5" stroke-width="0.6"/><text x="218.80" y="88.42" class="lg" text-anchor="end">273.3</text><line x1="186.70" y1="92.21" x2="198.20" y2="92.21" stroke="#222" stroke-opacity="0.5" stroke-width="0.6"/><text x="218.80" y="94.31" class="lg" text-anchor="end">262.5</text><line x1="186.70" y1="98.10" x2="198.20" y2="98.10" stroke="#222" stroke-opacity="0.5" stroke-width="0.6"/><text x="218.80" y="100.20" class="lg" text-anchor="end">251.7</text><line x1="186.70" y1="103.99" x2="198.20" y2="103.99" stroke="#222" stroke-opacity="0.5" stroke-width="0.6"/><text x="218.80" y="106.09" class="lg" text-anchor="end">240.8</text><line x1="186.70" y1="109.88" x2="198.20" y2="109.88" stroke="#222" stroke-opacity="0.5" stroke-width="0.6"/><text x="218.80" y="111.98" class="lg" text-anchor="end">230.0</text>
<text class="rd" x="10.2" y="97.5">RD=X</text>
<text class="rd" x="47.3" y="122.2">TD=Z</text>
<path d="M37.8 109.2L40.0 90.5" stroke="#222" stroke-width="1.1" fill="none"/>
<path d="M40.4 86.6L42.4 92.4L37.9 92.0Z" fill="#222"/>
<path d="M37.6 109.2L58.5 109.2" stroke="#222" stroke-width="1.1" fill="none"/>
<path d="M62.5 109.2L57 111.5L57 106.9Z" fill="#222"/>
<text class="cap" x="126.3" y="145.3">(a)</text>
<!-- (b) -->
<g filter="url(#bl)"><g clip-path="url(#clB)"><path fill="#0000B7" stroke="#0000B7" stroke-width="0.25" d="M334.2 109.5L334.1 108.9L333.9 108.3L329.0 109.5L329.0 109.5L329.0 109.5ZM333.9 108.3L333.4 107.7L332.8 107.2L329.0 109.5L329.0 109.5L329.0 109.5ZM332.8 107.2L332.1 106.8L331.2 106.5L329.0 109.5L329.0 109.5L329.0 109.5ZM331.2 106.5L330.3 106.3L329.3 106.3L329.0 109.5L329.0 109.5L329.0 109.5ZM339.3 109.5L339.2 108.2L338.7 107.0L333.9 108.3L334.1 108.9L334.2 109.5ZM338.7 107.0L337.9 105.9L336.7 105.0L332.8 107.2L333.4 107.7L333.9 108.3ZM336.7 105.0L335.2 104.2L333.4 103.6L331.2 106.5L332.1 106.8L332.8 107.2ZM333.4 103.6L331.5 103.2L329.5 103.1L329.3 106.3L330.3 106.3L331.2 106.5ZM344.5 109.5L344.3 107.6L343.6 105.8L338.7 107.0L339.2 108.2L339.3 109.5ZM343.6 105.8L342.3 104.1L340.5 102.7L336.7 105.0L337.9 105.9L338.7 107.0ZM340.5 102.7L338.2 101.5L335.6 100.6L333.4 103.6L335.2 104.2L336.7 105.0ZM335.6 100.6L332.8 100.0L329.8 99.9L329.5 103.1L331.5 103.2L333.4 103.6ZM349.6 109.5L349.6 107.8L349.2 106.2L344.1 107.0L344.4 108.2L344.5 109.5ZM349.2 106.2L348.5 104.6L347.4 103.1L342.8 104.7L343.6 105.8L344.1 107.0ZM347.4 103.1L346.0 101.7L344.3 100.4L340.5 102.7L341.7 103.6L342.8 104.7ZM344.3 100.4L342.4 99.3L340.2 98.4L337.4 101.1L339.0 101.8L340.5 102.7ZM340.2 98.4L337.8 97.6L335.3 97.1L333.7 100.2L335.6 100.6L337.4 101.1ZM335.3 97.1L332.7 96.7L330.0 96.6L329.8 99.9L331.8 99.9L333.7 100.2ZM354.8 109.5L354.8 107.9L354.5 106.4L349.4 107.0L349.6 108.2L349.6 109.5ZM354.5 106.4L354.1 104.8L353.3 103.3L348.5 104.6L349.0 105.8L349.4 107.0ZM353.3 103.3L352.4 101.9L351.2 100.6L346.7 102.4L347.7 103.4L348.5 104.6ZM351.2 100.6L349.8 99.3L348.1 98.1L344.3 100.4L345.6 101.3L346.7 102.4ZM348.1 98.1L346.4 97.1L344.4 96.1L341.3 98.8L342.9 99.6L344.3 100.4ZM344.4 96.1L342.3 95.3L340.1 94.6L337.8 97.6L339.6 98.2L341.3 98.8ZM340.1 94.6L337.7 94.1L335.3 93.7L334.0 96.9L336.0 97.2L337.8 97.6ZM335.3 93.7L332.8 93.5L330.3 93.4L330.0 96.6L332.0 96.7L334.0 96.9ZM360.0 109.5L360.0 107.8L359.7 106.1L354.6 106.7L354.8 108.1L354.8 109.5ZM359.7 106.1L359.3 104.5L358.6 102.9L353.7 104.0L354.2 105.3L354.6 106.7ZM358.6 102.9L357.7 101.3L356.6 99.9L352.0 101.5L352.9 102.7L353.7 104.0ZM356.6 99.9L355.2 98.4L353.7 97.1L349.6 99.2L350.9 100.3L352.0 101.5ZM353.7 97.1L352.0 95.9L350.1 94.7L346.6 97.2L348.1 98.1L349.6 99.2ZM350.1 94.7L348.0 93.7L345.8 92.8L343.0 95.6L344.8 96.3L346.6 97.2ZM345.8 92.8L343.5 92.0L341.0 91.4L339.0 94.4L341.1 94.9L343.0 95.6ZM341.0 91.4L338.5 90.9L335.9 90.5L334.7 93.7L336.9 94.0L339.0 94.4ZM335.9 90.5L333.2 90.3L330.5 90.2L330.3 93.4L332.5 93.5L334.7 93.7ZM365.1 109.5L365.1 107.9L365.0 106.3L359.9 106.8L360.0 108.1L360.0 109.5ZM365.0 106.3L364.7 104.7L364.2 103.2L359.1 104.1L359.6 105.4L359.9 106.8ZM364.2 103.2L363.5 101.6L362.6 100.1L357.8 101.5L358.5 102.8L359.1 104.1ZM362.6 100.1L361.6 98.7L360.3 97.3L355.9 99.1L356.9 100.3L357.8 101.5ZM360.3 97.3L359.0 96.0L357.5 94.8L353.4 96.9L354.7 97.9L355.9 99.1ZM357.5 94.8L355.8 93.6L354.0 92.5L350.4 94.9L352.0 95.9L353.4 96.9ZM354.0 92.5L352.1 91.5L350.0 90.6L347.0 93.3L348.8 94.1L350.4 94.9ZM350.0 90.6L347.9 89.7L345.6 89.0L343.3 91.9L345.2 92.6L347.0 93.3ZM345.6 89.0L343.3 88.4L340.9 87.9L339.2 91.0L341.3 91.4L343.3 91.9ZM340.9 87.9L338.4 87.5L335.9 87.2L334.9 90.4L337.1 90.6L339.2 91.0ZM335.9 87.2L333.4 87.0L330.8 87.0L330.5 90.2L332.7 90.3L334.9 90.4ZM370.3 109.5L370.3 107.9L370.2 106.4L365.1 106.8L365.2 108.1L365.1 109.5ZM370.2 106.4L370.0 104.9L369.6 103.3L364.5 104.1L364.8 105.4L365.1 106.8ZM369.6 103.3L369.0 101.8L368.3 100.4L363.4 101.5L364.0 102.8L364.5 104.1ZM368.3 100.4L367.5 98.9L366.5 97.5L361.8 99.0L362.7 100.3L363.4 101.5ZM366.5 97.5L365.4 96.2L364.1 94.9L359.7 96.7L360.8 97.9L361.8 99.0ZM364.1 94.9L362.7 93.6L361.2 92.4L357.2 94.6L358.5 95.6L359.7 96.7ZM361.2 92.4L359.6 91.3L357.9 90.2L354.3 92.6L355.8 93.6L357.2 94.6ZM357.9 90.2L356.1 89.2L354.1 88.3L351.0 91.0L352.7 91.8L354.3 92.6ZM354.1 88.3L352.1 87.5L350.0 86.7L347.4 89.6L349.2 90.2L351.0 91.0ZM350.0 86.7L347.8 86.0L345.5 85.4L343.5 88.4L345.5 89.0L347.4 89.6ZM345.5 85.4L343.2 84.9L340.9 84.5L339.4 87.6L341.5 88.0L343.5 88.4ZM340.9 84.5L338.5 84.2L336.0 84.0L335.1 87.1L337.3 87.4L339.4 87.6ZM336.0 84.0L333.5 83.8L331.0 83.8L330.8 87.0L333.0 87.0L335.1 87.1ZM373.5 109.5L373.5 107.9L373.4 106.4L370.2 106.6L370.3 108.1L370.3 109.5ZM373.4 106.4L373.2 104.9L372.8 103.3L369.7 103.8L370.0 105.2L370.2 106.6ZM372.8 103.3L372.3 101.8L371.7 100.3L368.6 101.0L369.2 102.4L369.7 103.8ZM371.7 100.3L370.9 98.9L370.0 97.5L367.1 98.3L367.9 99.7L368.6 101.0ZM370.0 97.5L369.0 96.1L367.8 94.8L365.0 95.8L366.1 97.1L367.1 98.3ZM367.8 94.8L366.5 93.5L365.1 92.2L362.5 93.5L363.8 94.6L365.0 95.8ZM365.1 92.2L363.6 91.0L362.0 89.9L359.6 91.3L361.1 92.4L362.5 93.5ZM362.0 89.9L360.3 88.8L358.4 87.8L356.3 89.4L358.0 90.3L359.6 91.3ZM358.4 87.8L356.5 86.9L354.5 86.0L352.7 87.7L354.5 88.5L356.3 89.4ZM354.5 86.0L352.4 85.2L350.3 84.5L348.7 86.3L350.8 87.0L352.7 87.7ZM350.3 84.5L348.1 83.9L345.8 83.3L344.6 85.2L346.7 85.7L348.7 86.3ZM345.8 83.3L343.4 82.9L341.0 82.5L340.2 84.4L342.4 84.8L344.6 85.2ZM341.0 82.5L338.6 82.2L336.2 82.0L335.7 83.9L337.9 84.1L340.2 84.4ZM336.2 82.0L333.7 81.8L331.2 81.8L331.0 83.8L333.4 83.8L335.7 83.9ZM376.7 109.5L376.7 107.9L376.6 106.4L373.5 106.6L373.5 108.0L373.5 109.5ZM376.6 106.4L376.4 104.9L376.1 103.3L373.0 103.7L373.3 105.2L373.5 106.6ZM376.1 103.3L375.6 101.8L375.1 100.3L372.0 100.9L372.5 102.3L373.0 103.7ZM375.1 100.3L374.3 98.9L373.5 97.4L370.5 98.2L371.3 99.6L372.0 100.9ZM373.5 97.4L372.5 96.0L371.5 94.6L368.6 95.6L369.6 96.9L370.5 98.2ZM371.5 94.6L370.3 93.3L368.9 92.0L366.3 93.2L367.5 94.4L368.6 95.6ZM368.9 92.0L367.5 90.8L366.0 89.6L363.5 90.9L364.9 92.1L366.3 93.2ZM366.0 89.6L364.4 88.5L362.6 87.4L360.4 88.9L362.0 89.9L363.5 90.9ZM362.6 87.4L360.8 86.4L358.9 85.5L356.9 87.1L358.7 88.0L360.4 88.9ZM358.9 85.5L356.9 84.6L354.9 83.8L353.1 85.5L355.1 86.2L356.9 87.1ZM379.9 109.5L379.9 107.9L379.9 106.4L376.7 106.6L376.7 108.0L376.7 109.5ZM379.9 106.4L379.7 104.8L379.4 103.3L376.2 103.7L376.5 105.1L376.7 106.6ZM379.4 103.3L378.9 101.8L378.4 100.3L375.3 100.9L375.8 102.3L376.2 103.7ZM378.4 100.3L377.7 98.8L376.9 97.4L373.9 98.1L374.7 99.5L375.3 100.9ZM376.9 97.4L376.0 95.9L375.0 94.6L372.1 95.5L373.1 96.8L373.9 98.1ZM375.0 94.6L373.9 93.2L372.7 91.9L369.9 93.0L371.1 94.2L372.1 95.5ZM372.7 91.9L371.3 90.6L369.9 89.4L367.3 90.6L368.7 91.8L369.9 93.0ZM369.9 89.4L368.4 88.2L366.7 87.1L364.4 88.5L365.9 89.5L367.3 90.6ZM366.7 87.1L365.0 86.0L363.2 85.0L361.1 86.5L362.8 87.5L364.4 88.5ZM383.0 109.5L383.1 107.9L383.1 106.4L379.9 106.6L379.9 108.0L379.9 109.5ZM383.1 106.4L382.9 104.8L382.6 103.3L379.4 103.7L379.7 105.1L379.9 106.6ZM382.6 103.3L382.2 101.8L381.7 100.3L378.6 100.8L379.1 102.2L379.4 103.7ZM381.7 100.3L381.1 98.8L380.4 97.3L377.3 98.0L378.0 99.4L378.6 100.8ZM380.4 97.3L379.5 95.9L378.6 94.5L375.6 95.4L376.5 96.7L377.3 98.0ZM378.6 94.5L377.5 93.1L376.4 91.8L373.6 92.8L374.7 94.1L375.6 95.4ZM376.4 91.8L375.1 90.5L373.7 89.2L371.1 90.4L372.4 91.6L373.6 92.8ZM446.9 109.5L447.0 108.0L447.1 106.5L443.9 106.5L443.8 108.0L443.7 109.5ZM447.1 106.5L447.1 104.9L447.0 103.4L443.8 103.6L443.9 105.1L443.9 106.5ZM447.0 103.4L446.9 101.9L446.7 100.4L443.5 100.7L443.7 102.1L443.8 103.6ZM446.7 100.4L446.5 98.9L446.3 97.4L443.1 97.7L443.3 99.2L443.5 100.7ZM446.3 97.4L446.0 95.9L445.6 94.4L442.5 94.8L442.8 96.3L443.1 97.7ZM445.6 94.4L445.2 92.9L444.7 91.5L441.6 91.9L442.1 93.4L442.5 94.8ZM444.7 91.5L444.2 90.0L443.7 88.5L440.6 89.1L441.1 90.5L441.6 91.9ZM443.7 88.5L443.1 87.1L442.4 85.6L439.4 86.3L440.0 87.7L440.6 89.1ZM442.4 85.6L441.7 84.2L441.0 82.8L437.9 83.5L438.7 84.9L439.4 86.3ZM441.0 82.8L440.2 81.4L439.3 80.0L436.3 80.8L437.2 82.1L437.9 83.5ZM439.3 80.0L438.4 78.6L437.5 77.2L434.6 78.1L435.5 79.4L436.3 80.8ZM437.5 77.2L436.5 75.9L435.5 74.5L432.6 75.5L433.6 76.8L434.6 78.1ZM435.5 74.5L434.4 73.2L433.3 71.9L430.5 72.9L431.6 74.2L432.6 75.5ZM433.3 71.9L432.1 70.6L430.9 69.3L428.2 70.4L429.3 71.6L430.5 72.9ZM452.8 109.5L452.9 108.2L453.0 106.9L447.1 107.0L447.0 108.2L446.9 109.5ZM453.0 106.9L453.0 105.5L452.9 104.2L447.0 104.5L447.1 105.7L447.1 107.0ZM452.9 104.2L452.9 102.9L452.8 101.6L446.9 102.0L447.0 103.2L447.0 104.5ZM452.8 101.6L452.7 100.3L452.5 99.0L446.6 99.5L446.8 100.7L446.9 102.0ZM452.5 99.0L452.3 97.7L452.1 96.4L446.2 97.0L446.4 98.2L446.6 99.5ZM452.1 96.4L451.8 95.1L451.5 93.8L445.6 94.5L445.9 95.8L446.2 97.0ZM451.5 93.8L451.1 92.5L450.7 91.2L444.9 92.1L445.3 93.3L445.6 94.5ZM450.7 91.2L450.3 89.9L449.9 88.7L444.1 89.7L444.6 90.9L444.9 92.1ZM449.9 88.7L449.4 87.4L448.9 86.1L443.2 87.3L443.7 88.5L444.1 89.7ZM448.9 86.1L448.3 84.9L447.7 83.6L442.1 84.9L442.6 86.1L443.2 87.3ZM447.7 83.6L447.1 82.4L446.4 81.2L440.8 82.5L441.5 83.7L442.1 84.9ZM446.4 81.2L445.7 80.0L445.0 78.7L439.5 80.2L440.2 81.4L440.8 82.5ZM445.0 78.7L444.2 77.5L443.4 76.3L438.0 77.9L438.8 79.1L439.5 80.2ZM443.4 76.3L442.6 75.2L441.8 74.0L436.4 75.7L437.2 76.8L438.0 77.9ZM441.8 74.0L440.9 72.8L439.9 71.7L434.6 73.5L435.5 74.6L436.4 75.7ZM439.9 71.7L439.0 70.5L438.0 69.4L432.8 71.3L433.7 72.4L434.6 73.5ZM438.0 69.4L437.0 68.3L435.9 67.2L430.8 69.2L431.8 70.2L432.8 71.3ZM435.9 67.2L434.8 66.1L433.7 65.0L428.7 67.1L429.8 68.1L430.8 69.2ZM433.7 65.0L432.5 63.9L431.4 62.9L426.5 65.1L427.6 66.1L428.7 67.1ZM431.4 62.9L430.2 61.8L428.9 60.8L424.2 63.1L425.3 64.1L426.5 65.1ZM428.9 60.8L427.6 59.8L426.4 58.8L421.7 61.2L423.0 62.1L424.2 63.1ZM426.4 58.8L425.0 57.8L423.7 56.8L419.2 59.3L420.5 60.2L421.7 61.2ZM423.7 56.8L422.3 55.9L420.9 54.9L416.5 57.5L417.9 58.4L419.2 59.3ZM420.9 54.9L419.5 54.0L418.0 53.1L413.8 55.8L415.1 56.6L416.5 57.5ZM418.0 53.1L416.5 52.2L415.0 51.3L410.9 54.1L412.3 54.9L413.8 55.8ZM415.0 51.3L413.5 50.5L411.9 49.6L407.9 52.5L409.4 53.3L410.9 54.1ZM411.9 49.6L410.3 48.8L408.7 48.0L404.9 50.9L406.4 51.7L407.9 52.5ZM343.6 32.5L341.5 32.4L339.4 32.3L338.9 36.0L340.9 36.1L342.9 36.2ZM339.4 32.3L337.2 32.3L335.1 32.3L334.8 36.0L336.9 36.0L338.9 36.0ZM441.2 65.4L440.2 64.3L439.1 63.2L434.1 65.3L435.1 66.4L436.1 67.4ZM439.1 63.2L437.9 62.2L436.8 61.1L431.9 63.3L433.0 64.3L434.1 65.3ZM436.8 61.1L435.6 60.1L434.4 59.1L429.6 61.4L430.8 62.3L431.9 63.3ZM434.4 59.1L433.2 58.1L431.9 57.1L427.3 59.5L428.5 60.4L429.6 61.4ZM431.9 57.1L430.7 56.1L429.3 55.1L424.8 57.6L426.0 58.5L427.3 59.5ZM429.3 55.1L428.0 54.2L426.6 53.2L422.2 55.8L423.5 56.7L424.8 57.6ZM426.6 53.2L425.3 52.3L423.9 51.4L419.5 54.0L420.9 54.9L422.2 55.8ZM421.0 49.6L419.5 48.8L418.0 47.9L413.9 50.7L415.4 51.5L416.8 52.4ZM352.0 29.3L349.9 29.1L347.8 29.0L347.0 32.7L349.0 32.8L350.9 32.9ZM347.8 29.0L345.8 28.9L343.7 28.8L343.1 32.5L345.0 32.6L347.0 32.7ZM343.7 28.8L341.7 28.7L339.6 28.7L339.1 32.3L341.1 32.4L343.1 32.5ZM339.6 28.7L337.5 28.6L335.4 28.6L335.1 32.3L337.1 32.3L339.1 32.3Z"/><path fill="#00A2E0" stroke="#00A2E0" stroke-width="0.25" d="M354.9 83.8L352.7 83.0L350.5 82.4L349.1 84.2L351.1 84.8L353.1 85.5ZM346.0 81.2L343.6 80.8L341.2 80.4L340.4 82.4L342.6 82.7L344.8 83.1ZM336.3 79.9L333.9 79.8L331.4 79.8L331.2 81.8L333.5 81.8L335.8 81.9ZM363.2 85.0L361.3 84.0L359.3 83.1L357.4 84.8L359.3 85.6L361.1 86.5ZM373.7 89.2L372.3 88.0L370.7 86.8L368.3 88.1L369.7 89.2L371.1 90.4ZM389.4 109.5L389.5 107.9L389.5 106.4L386.3 106.6L386.3 108.0L386.2 109.5ZM389.1 103.3L388.8 101.8L388.3 100.3L385.2 100.7L385.6 102.2L385.9 103.6ZM387.1 97.3L386.4 95.8L385.5 94.4L382.6 95.2L383.4 96.5L384.1 97.9ZM383.6 91.6L382.4 90.2L381.2 88.9L378.5 90.0L379.6 91.2L380.7 92.5ZM357.5 60.2L355.2 59.8L352.8 59.4L351.9 61.3L354.2 61.7L356.4 62.1ZM352.8 59.4L350.4 59.0L348.0 58.7L347.2 60.7L349.6 61.0L351.9 61.3ZM387.5 68.4L385.7 67.4L383.8 66.5L381.7 68.1L383.6 69.0L385.4 70.0ZM379.8 64.7L377.8 63.9L375.7 63.1L373.9 64.8L376.0 65.6L377.9 66.4ZM371.4 61.6L369.2 60.9L367.0 60.3L365.6 62.1L367.7 62.7L369.8 63.4ZM367.0 60.3L364.7 59.7L362.4 59.1L361.2 61.0L363.4 61.5L365.6 62.1ZM362.4 59.1L360.1 58.6L357.7 58.1L356.7 60.1L358.9 60.5L361.2 61.0ZM357.7 58.1L355.4 57.7L353.0 57.3L352.1 59.3L354.4 59.6L356.7 60.1ZM353.0 57.3L350.6 57.0L348.1 56.7L347.4 58.7L349.8 58.9L352.1 59.3ZM348.1 56.7L345.7 56.5L343.2 56.3L342.7 58.2L345.1 58.4L347.4 58.7ZM418.2 109.5L418.3 107.9L418.3 106.4L415.1 106.5L415.1 108.0L415.0 109.5ZM418.3 106.4L418.2 104.8L418.1 103.3L414.9 103.5L415.0 105.0L415.1 106.5ZM418.1 103.3L417.9 101.7L417.7 100.2L414.5 100.5L414.7 102.0L414.9 103.5ZM417.7 100.2L417.3 98.7L416.9 97.1L413.8 97.6L414.2 99.0L414.5 100.5ZM416.9 97.1L416.5 95.6L415.9 94.1L412.8 94.7L413.3 96.1L413.8 97.6ZM415.9 94.1L415.3 92.6L414.6 91.1L411.6 91.8L412.2 93.2L412.8 94.7ZM414.6 91.1L413.9 89.7L413.1 88.2L410.1 89.0L410.8 90.4L411.6 91.8ZM411.3 85.4L410.3 84.0L409.2 82.6L406.3 83.6L407.3 84.9L408.3 86.2ZM406.9 79.9L405.6 78.6L404.3 77.3L401.6 78.5L402.9 79.7L404.1 81.0ZM404.3 77.3L402.9 76.1L401.5 74.8L398.9 76.1L400.3 77.3L401.6 78.5ZM401.5 74.8L400.0 73.6L398.4 72.5L396.0 73.8L397.4 74.9L398.9 76.1ZM398.4 72.5L396.8 71.3L395.2 70.2L392.8 71.6L394.4 72.7L396.0 73.8ZM391.7 68.0L389.9 67.0L388.1 66.0L385.9 67.6L387.7 68.5L389.5 69.5ZM376.0 60.8L373.9 60.1L371.7 59.4L370.1 61.2L372.2 61.9L374.3 62.6ZM371.7 59.4L369.5 58.7L367.2 58.1L365.8 60.0L368.0 60.6L370.1 61.2ZM367.2 58.1L364.9 57.6L362.6 57.0L361.4 58.9L363.6 59.4L365.8 60.0ZM362.6 57.0L360.3 56.5L357.9 56.1L356.9 58.0L359.2 58.4L361.4 58.9ZM357.9 56.1L355.6 55.7L353.1 55.3L352.3 57.2L354.6 57.6L356.9 58.0ZM353.1 55.3L350.7 55.0L348.3 54.7L347.6 56.6L350.0 56.9L352.3 57.2ZM348.3 54.7L345.8 54.4L343.4 54.3L342.9 56.2L345.2 56.4L347.6 56.6ZM343.4 54.3L340.9 54.1L338.4 54.0L338.1 56.0L340.5 56.1L342.9 56.2ZM421.4 109.5L421.5 107.9L421.5 106.4L418.3 106.5L418.3 108.0L418.2 109.5ZM421.5 106.4L421.4 104.8L421.3 103.3L418.1 103.5L418.2 105.0L418.3 106.5ZM421.3 103.3L421.1 101.7L420.9 100.2L417.7 100.5L418.0 102.0L418.1 103.5ZM420.9 100.2L420.6 98.6L420.2 97.1L417.0 97.5L417.4 99.0L417.7 100.5ZM420.2 97.1L419.7 95.6L419.2 94.1L416.1 94.6L416.6 96.1L417.0 97.5ZM419.2 94.1L418.6 92.6L418.0 91.1L414.9 91.7L415.5 93.2L416.1 94.6ZM418.0 91.1L417.3 89.6L416.5 88.2L413.5 88.9L414.2 90.3L414.9 91.7ZM416.5 88.2L415.7 86.7L414.8 85.3L411.8 86.2L412.7 87.5L413.5 88.9ZM414.8 85.3L413.8 83.9L412.8 82.5L409.9 83.5L410.9 84.8L411.8 86.2ZM410.5 79.8L409.3 78.5L408.0 77.2L405.3 78.3L406.5 79.6L407.7 80.8ZM408.0 77.2L406.7 75.9L405.3 74.6L402.7 75.9L404.0 77.1L405.3 78.3ZM405.3 74.6L403.9 73.4L402.4 72.2L399.8 73.5L401.3 74.7L402.7 75.9ZM402.4 72.2L400.8 71.0L399.2 69.9L396.8 71.3L398.3 72.4L399.8 73.5ZM399.2 69.9L397.6 68.8L395.8 67.7L393.5 69.1L395.2 70.2L396.8 71.3ZM395.8 67.7L394.1 66.6L392.3 65.6L390.1 67.1L391.8 68.1L393.5 69.1ZM388.5 63.7L386.6 62.7L384.6 61.8L382.7 63.5L384.6 64.3L386.5 65.2ZM367.4 56.0L365.1 55.4L362.8 54.9L361.7 56.8L363.9 57.3L366.1 57.8ZM362.8 54.9L360.5 54.4L358.1 54.0L357.1 55.9L359.4 56.3L361.7 56.8ZM358.1 54.0L355.7 53.6L353.3 53.3L352.5 55.2L354.8 55.5L357.1 55.9ZM353.3 53.3L350.9 52.9L348.5 52.7L347.8 54.6L350.1 54.9L352.5 55.2ZM348.5 52.7L346.0 52.4L343.5 52.2L343.0 54.2L345.4 54.4L347.8 54.6ZM424.6 109.5L424.7 107.9L424.7 106.4L421.5 106.5L421.5 108.0L421.4 109.5ZM424.5 103.3L424.4 101.7L424.1 100.2L420.9 100.5L421.2 102.0L421.3 103.5ZM424.1 100.2L423.8 98.6L423.5 97.1L420.3 97.5L420.7 99.0L420.9 100.5ZM423.5 97.1L423.0 95.6L422.5 94.1L419.4 94.6L419.9 96.1L420.3 97.5ZM422.5 94.1L422.0 92.6L421.3 91.1L418.3 91.7L418.9 93.1L419.4 94.6ZM419.9 88.1L419.1 86.7L418.2 85.3L415.2 86.1L416.1 87.5L416.9 88.9ZM416.3 82.5L415.2 81.1L414.1 79.7L411.3 80.7L412.4 82.0L413.4 83.4ZM414.1 79.7L413.0 78.4L411.7 77.0L409.0 78.1L410.1 79.4L411.3 80.7ZM411.7 77.0L410.4 75.8L409.1 74.5L406.4 75.6L407.7 76.9L409.0 78.1ZM409.1 74.5L407.7 73.2L406.2 72.0L403.7 73.3L405.1 74.4L406.4 75.6ZM406.2 72.0L404.7 70.8L403.2 69.6L400.7 71.0L402.2 72.1L403.7 73.3ZM403.2 69.6L401.6 68.5L399.9 67.4L397.6 68.8L399.2 69.9L400.7 71.0ZM396.5 65.2L394.7 64.2L392.8 63.2L390.7 64.7L392.5 65.7L394.2 66.7ZM392.8 63.2L390.9 62.2L389.0 61.3L387.0 62.9L388.9 63.8L390.7 64.7ZM389.0 61.3L387.0 60.4L385.0 59.5L383.1 61.2L385.1 62.0L387.0 62.9ZM338.7 50.0L336.2 49.9L333.7 49.9L333.6 51.9L336.0 51.9L338.4 52.0ZM403.9 67.1L402.3 66.0L400.6 64.9L398.3 66.3L399.9 67.4L401.5 68.5ZM338.9 48.0L336.4 47.9L333.9 47.9L333.7 49.9L336.2 49.9L338.6 50.0ZM443.9 106.5L443.9 104.9L443.8 103.4L440.6 103.6L440.7 105.1L440.7 106.5ZM442.3 94.4L441.9 92.9L441.5 91.5L438.3 92.0L438.8 93.4L439.2 94.8ZM441.5 91.5L440.9 90.0L440.4 88.6L437.3 89.1L437.8 90.6L438.3 92.0ZM440.4 88.6L439.7 87.1L439.1 85.7L436.0 86.3L436.7 87.7L437.3 89.1ZM435.9 80.0L435.0 78.7L434.0 77.3L431.1 78.2L432.0 79.5L432.9 80.9Z"/><path fill="#00E0CC" stroke="#00E0CC" stroke-width="0.25" d="M350.5 82.4L348.3 81.8L346.0 81.2L344.8 83.1L347.0 83.6L349.1 84.2ZM341.2 80.4L338.8 80.2L336.3 79.9L335.8 81.9L338.1 82.1L340.4 82.4ZM359.3 83.1L357.3 82.3L355.2 81.5L353.5 83.3L355.5 84.0L357.4 84.8ZM370.7 86.8L369.1 85.7L367.4 84.6L365.1 86.1L366.7 87.1L368.3 88.1ZM363.7 82.6L361.8 81.7L359.7 80.9L357.9 82.5L359.8 83.3L361.7 84.2ZM377.5 89.0L376.1 87.8L374.7 86.6L372.1 87.8L373.5 89.0L374.8 90.2ZM374.7 86.6L373.1 85.4L371.5 84.3L369.1 85.7L370.7 86.7L372.1 87.8ZM389.5 106.4L389.3 104.8L389.1 103.3L385.9 103.6L386.2 105.1L386.3 106.6ZM388.3 100.3L387.8 98.7L387.1 97.3L384.1 97.9L384.7 99.3L385.2 100.7ZM385.5 94.4L384.6 93.0L383.6 91.6L380.7 92.5L381.7 93.8L382.6 95.2ZM347.6 62.8L345.2 62.5L342.7 62.3L342.2 64.2L344.5 64.5L346.8 64.7ZM379.0 69.4L377.0 68.5L375.0 67.6L373.1 69.3L375.1 70.1L377.0 71.0ZM375.0 67.6L372.9 66.8L370.8 66.0L369.1 67.8L371.1 68.5L373.1 69.3ZM370.8 66.0L368.6 65.3L366.5 64.6L365.0 66.4L367.1 67.1L369.1 67.8ZM366.5 64.6L364.2 64.0L362.0 63.4L360.6 65.2L362.8 65.8L365.0 66.4ZM362.0 63.4L359.7 62.8L357.3 62.3L356.2 64.2L358.4 64.7L360.6 65.2ZM357.3 62.3L355.0 61.8L352.6 61.4L351.7 63.4L353.9 63.8L356.2 64.2ZM352.6 61.4L350.2 61.1L347.8 60.8L347.0 62.7L349.4 63.0L351.7 63.4ZM347.8 60.8L345.3 60.5L342.9 60.3L342.3 62.2L344.7 62.5L347.0 62.7ZM342.9 60.3L340.4 60.1L337.9 60.0L337.6 62.0L340.0 62.1L342.3 62.2ZM337.9 60.0L335.4 59.9L332.9 59.9L332.8 61.9L335.2 61.9L337.6 62.0ZM404.2 85.5L403.1 84.1L402.0 82.8L399.2 83.8L400.3 85.1L401.3 86.4ZM402.0 82.8L400.8 81.5L399.5 80.2L396.7 81.3L398.0 82.6L399.2 83.8ZM399.5 80.2L398.1 78.9L396.7 77.7L394.1 78.9L395.4 80.1L396.7 81.3ZM396.7 77.7L395.2 76.5L393.7 75.3L391.2 76.6L392.7 77.7L394.1 78.9ZM393.7 75.3L392.1 74.1L390.4 73.0L388.1 74.4L389.7 75.5L391.2 76.6ZM390.4 73.0L388.7 71.9L387.0 70.9L384.7 72.4L386.4 73.4L388.1 74.4ZM387.0 70.9L385.2 69.8L383.3 68.9L381.2 70.4L383.0 71.4L384.7 72.4ZM383.3 68.9L381.4 67.9L379.4 67.0L377.5 68.7L379.3 69.5L381.2 70.4ZM379.4 67.0L377.4 66.2L375.3 65.3L373.6 67.0L375.5 67.8L377.5 68.7ZM375.3 65.3L373.2 64.5L371.1 63.8L369.5 65.6L371.5 66.3L373.6 67.0ZM371.1 63.8L368.9 63.1L366.7 62.4L365.3 64.2L367.4 64.9L369.5 65.6ZM366.7 62.4L364.5 61.8L362.2 61.2L360.9 63.1L363.1 63.7L365.3 64.2ZM362.2 61.2L359.9 60.7L357.5 60.2L356.4 62.1L358.7 62.6L360.9 63.1ZM415.0 109.5L415.1 107.9L415.1 106.4L411.9 106.5L411.9 108.0L411.8 109.5ZM415.1 106.4L415.0 104.8L414.9 103.3L411.7 103.5L411.8 105.0L411.9 106.5ZM414.9 103.3L414.7 101.7L414.4 100.2L411.2 100.5L411.5 102.0L411.7 103.5ZM414.4 100.2L414.1 98.7L413.6 97.1L410.5 97.6L410.9 99.1L411.2 100.5ZM413.6 97.1L413.2 95.6L412.6 94.1L409.5 94.7L410.0 96.1L410.5 97.6ZM412.6 94.1L412.0 92.6L411.3 91.2L408.2 91.8L408.9 93.3L409.5 94.7ZM411.3 91.2L410.5 89.7L409.6 88.3L406.6 89.1L407.5 90.4L408.2 91.8ZM409.6 88.3L408.7 86.8L407.7 85.4L404.8 86.3L405.8 87.7L406.6 89.1ZM407.7 85.4L406.7 84.1L405.6 82.7L402.7 83.7L403.8 85.0L404.8 86.3ZM405.6 82.7L404.4 81.4L403.2 80.0L400.4 81.1L401.6 82.4L402.7 83.7ZM403.2 80.0L401.9 78.8L400.5 77.5L397.9 78.7L399.2 79.9L400.4 81.1ZM400.5 77.5L399.1 76.3L397.6 75.0L395.1 76.3L396.5 77.5L397.9 78.7ZM397.6 75.0L396.1 73.9L394.5 72.7L392.0 74.1L393.6 75.2L395.1 76.3ZM394.5 72.7L392.8 71.6L391.1 70.5L388.8 72.0L390.4 73.0L392.0 74.1ZM391.1 70.5L389.3 69.5L387.5 68.4L385.4 70.0L387.1 70.9L388.8 72.0ZM383.8 66.5L381.8 65.6L379.8 64.7L377.9 66.4L379.8 67.2L381.7 68.1ZM375.7 63.1L373.6 62.3L371.4 61.6L369.8 63.4L371.9 64.1L373.9 64.8ZM395.2 70.2L393.5 69.1L391.7 68.0L389.5 69.5L391.2 70.5L392.8 71.6ZM388.1 66.0L386.2 65.1L384.2 64.2L382.2 65.8L384.1 66.7L385.9 67.6ZM384.2 64.2L382.2 63.3L380.2 62.4L378.4 64.1L380.3 64.9L382.2 65.8ZM380.2 62.4L378.1 61.6L376.0 60.8L374.3 62.6L376.4 63.3L378.4 64.1ZM392.3 65.6L390.4 64.6L388.5 63.7L386.5 65.2L388.3 66.2L390.1 67.1ZM384.6 61.8L382.6 61.0L380.5 60.2L378.8 61.9L380.7 62.7L382.7 63.5ZM380.5 60.2L378.4 59.4L376.3 58.6L374.7 60.4L376.7 61.1L378.8 61.9ZM376.3 58.6L374.1 57.9L371.9 57.2L370.5 59.0L372.6 59.7L374.7 60.4ZM371.9 57.2L369.7 56.6L367.4 56.0L366.1 57.8L368.3 58.4L370.5 59.0ZM399.9 67.4L398.2 66.3L396.5 65.2L394.2 66.7L395.9 67.7L397.6 68.8ZM385.0 59.5L383.0 58.7L380.9 57.9L379.1 59.6L381.2 60.4L383.1 61.2ZM380.9 57.9L378.8 57.1L376.6 56.4L375.0 58.2L377.1 58.9L379.1 59.6ZM376.6 56.4L374.4 55.7L372.2 55.1L370.7 56.9L372.9 57.5L375.0 58.2ZM372.2 55.1L369.9 54.5L367.7 53.9L366.4 55.7L368.6 56.3L370.7 56.9ZM367.7 53.9L365.4 53.3L363.0 52.8L361.9 54.7L364.1 55.2L366.4 55.7ZM363.0 52.8L360.7 52.4L358.3 51.9L357.3 53.9L359.6 54.3L361.9 54.7ZM358.3 51.9L355.9 51.6L353.5 51.2L352.7 53.2L355.0 53.5L357.3 53.9ZM353.5 51.2L351.1 50.9L348.6 50.7L348.0 52.6L350.3 52.9L352.7 53.2ZM348.6 50.7L346.2 50.4L343.7 50.2L343.2 52.2L345.6 52.4L348.0 52.6ZM343.7 50.2L341.2 50.1L338.7 50.0L338.4 52.0L340.8 52.1L343.2 52.2ZM427.8 109.5L427.9 107.9L427.9 106.4L424.7 106.5L424.7 108.0L424.6 109.5ZM427.9 106.4L427.8 104.8L427.7 103.3L424.6 103.5L424.6 105.0L424.7 106.5ZM427.7 103.3L427.6 101.7L427.4 100.2L424.2 100.5L424.4 102.0L424.6 103.5ZM427.4 100.2L427.1 98.6L426.7 97.1L423.6 97.5L423.9 99.0L424.2 100.5ZM426.7 97.1L426.3 95.6L425.8 94.1L422.7 94.6L423.2 96.0L423.6 97.5ZM425.8 94.1L425.3 92.6L424.7 91.1L421.6 91.7L422.2 93.1L422.7 94.6ZM424.7 91.1L424.0 89.6L423.3 88.1L420.3 88.8L421.0 90.2L421.6 91.7ZM423.3 88.1L422.5 86.7L421.7 85.2L418.7 86.0L419.5 87.4L420.3 88.8ZM421.7 85.2L420.8 83.8L419.8 82.4L416.9 83.3L417.8 84.6L418.7 86.0ZM419.8 82.4L418.8 81.0L417.7 79.6L414.9 80.6L415.9 81.9L416.9 83.3ZM417.7 79.6L416.6 78.3L415.4 76.9L412.6 78.0L413.8 79.3L414.9 80.6ZM415.4 76.9L414.2 75.6L412.9 74.3L410.1 75.5L411.4 76.7L412.6 78.0ZM412.9 74.3L411.5 73.1L410.1 71.8L407.5 73.0L408.8 74.2L410.1 75.5ZM410.1 71.8L408.6 70.6L407.1 69.4L404.6 70.7L406.1 71.8L407.5 73.0ZM407.1 69.4L405.6 68.2L403.9 67.1L401.5 68.5L403.1 69.6L404.6 70.7ZM400.6 64.9L398.8 63.8L397.0 62.8L394.8 64.3L396.6 65.3L398.3 66.3ZM397.0 62.8L395.2 61.8L393.3 60.8L391.2 62.4L393.1 63.3L394.8 64.3ZM393.3 60.8L391.4 59.9L389.4 59.0L387.5 60.6L389.4 61.5L391.2 62.4ZM389.4 59.0L387.4 58.1L385.4 57.2L383.6 58.9L385.5 59.8L387.5 60.6ZM385.4 57.2L383.3 56.4L381.2 55.7L379.5 57.4L381.6 58.2L383.6 58.9ZM381.2 55.7L379.1 54.9L376.9 54.2L375.3 56.0L377.4 56.7L379.5 57.4ZM376.9 54.2L374.7 53.6L372.4 52.9L371.0 54.7L373.2 55.4L375.3 56.0ZM372.4 52.9L370.2 52.3L367.9 51.8L366.6 53.6L368.8 54.2L371.0 54.7ZM367.9 51.8L365.6 51.2L363.2 50.8L362.1 52.7L364.4 53.1L366.6 53.6ZM363.2 50.8L360.9 50.3L358.5 49.9L357.5 51.8L359.8 52.2L362.1 52.7ZM358.5 49.9L356.1 49.5L353.7 49.2L352.9 51.1L355.2 51.5L357.5 51.8ZM353.7 49.2L351.2 48.9L348.8 48.6L348.1 50.6L350.5 50.9L352.9 51.1ZM348.8 48.6L346.3 48.4L343.9 48.2L343.4 50.2L345.8 50.4L348.1 50.6ZM343.9 48.2L341.4 48.1L338.9 48.0L338.6 50.0L341.0 50.1L343.4 50.2ZM431.0 109.5L431.0 107.9L431.1 106.4L427.9 106.5L427.8 108.0L427.8 109.5ZM431.1 106.4L431.0 104.8L431.0 103.3L427.8 103.5L427.9 105.0L427.9 106.5ZM431.0 103.3L430.8 101.7L430.6 100.2L427.4 100.5L427.6 102.0L427.8 103.5ZM430.6 100.2L430.3 98.6L430.0 97.1L426.8 97.5L427.1 99.0L427.4 100.5ZM430.0 97.1L429.6 95.6L429.1 94.1L426.0 94.5L426.4 96.0L426.8 97.5ZM429.1 94.1L428.6 92.5L428.0 91.0L424.9 91.6L425.5 93.1L426.0 94.5ZM428.0 91.0L427.4 89.6L426.7 88.1L423.6 88.8L424.3 90.2L424.9 91.6ZM426.7 88.1L425.9 86.6L425.1 85.2L422.1 85.9L422.9 87.3L423.6 88.8ZM425.1 85.2L424.3 83.7L423.3 82.3L420.4 83.2L421.3 84.5L422.1 85.9ZM423.3 82.3L422.3 80.9L421.3 79.5L418.4 80.5L419.4 81.8L420.4 83.2ZM421.3 79.5L420.2 78.2L419.0 76.8L416.2 77.8L417.3 79.2L418.4 80.5ZM419.0 76.8L417.8 75.5L416.6 74.2L413.8 75.3L415.1 76.6L416.2 77.8ZM416.6 74.2L415.3 72.9L413.9 71.6L411.2 72.8L412.6 74.0L413.8 75.3ZM413.9 71.6L412.5 70.4L411.0 69.2L408.4 70.4L409.9 71.6L411.2 72.8ZM411.0 69.2L409.5 68.0L407.9 66.8L405.5 68.2L407.0 69.3L408.4 70.4ZM407.9 66.8L406.3 65.7L404.7 64.6L402.3 66.0L403.9 67.0L405.5 68.2ZM404.7 64.6L403.0 63.5L401.2 62.4L398.9 63.9L400.6 64.9L402.3 66.0ZM401.2 62.4L399.4 61.4L397.6 60.4L395.4 61.9L397.2 62.9L398.9 63.9ZM397.6 60.4L395.7 59.4L393.8 58.4L391.8 60.0L393.6 61.0L395.4 61.9ZM393.8 58.4L391.8 57.5L389.8 56.6L387.9 58.3L389.9 59.2L391.8 60.0ZM389.8 56.6L387.8 55.8L385.7 55.0L384.0 56.7L386.0 57.5L387.9 58.3ZM385.7 55.0L383.6 54.2L381.5 53.4L379.9 55.2L381.9 55.9L384.0 56.7ZM381.5 53.4L379.3 52.7L377.2 52.0L375.6 53.8L377.8 54.5L379.9 55.2ZM377.2 52.0L374.9 51.4L372.7 50.8L371.3 52.6L373.5 53.2L375.6 53.8ZM372.7 50.8L370.4 50.2L368.1 49.7L366.9 51.5L369.1 52.1L371.3 52.6ZM368.1 49.7L365.8 49.1L363.4 48.7L362.3 50.6L364.6 51.0L366.9 51.5ZM363.4 48.7L361.1 48.2L358.7 47.8L357.7 49.8L360.1 50.2L362.3 50.6ZM358.7 47.8L356.3 47.5L353.8 47.2L353.1 49.1L355.4 49.4L357.7 49.8ZM353.8 47.2L351.4 46.9L349.0 46.6L348.3 48.6L350.7 48.8L353.1 49.1ZM349.0 46.6L346.5 46.4L344.0 46.2L343.5 48.2L345.9 48.4L348.3 48.6ZM344.0 46.2L341.5 46.1L339.0 46.0L338.7 48.0L341.1 48.1L343.5 48.2ZM339.0 46.0L336.5 46.0L334.0 45.9L333.9 47.9L336.3 47.9L338.7 48.0ZM434.1 109.5L434.2 108.0L434.3 106.5L431.1 106.6L431.0 108.0L431.0 109.5ZM434.3 106.5L434.3 105.0L434.2 103.5L431.0 103.6L431.1 105.1L431.1 106.6ZM434.2 103.5L434.0 101.9L433.9 100.4L430.7 100.7L430.9 102.2L431.0 103.6ZM433.9 100.4L433.6 98.9L433.3 97.5L430.1 97.8L430.4 99.3L430.7 100.7ZM433.3 97.5L433.0 96.0L432.5 94.5L429.4 94.9L429.8 96.4L430.1 97.8ZM432.5 94.5L432.1 93.0L431.6 91.6L428.4 92.1L428.9 93.5L429.4 94.9ZM431.6 91.6L431.0 90.1L430.3 88.7L427.3 89.3L427.9 90.7L428.4 92.1ZM430.3 88.7L429.7 87.2L428.9 85.8L425.9 86.5L426.6 87.9L427.3 89.3ZM428.9 85.8L428.1 84.4L427.3 83.0L424.3 83.8L425.1 85.2L425.9 86.5ZM427.3 83.0L426.4 81.6L425.4 80.3L422.5 81.2L423.4 82.5L424.3 83.8ZM425.4 80.3L424.4 78.9L423.4 77.6L420.5 78.6L421.5 79.9L422.5 81.2ZM423.4 77.6L422.3 76.3L421.1 75.0L418.3 76.0L419.5 77.3L420.5 78.6ZM421.1 75.0L419.9 73.7L418.7 72.5L416.0 73.6L417.2 74.8L418.3 76.0ZM418.7 72.5L417.4 71.2L416.0 70.0L413.4 71.2L414.7 72.4L416.0 73.6ZM416.0 70.0L414.7 68.8L413.2 67.6L410.7 68.9L412.1 70.0L413.4 71.2ZM413.2 67.6L411.7 66.5L410.2 65.3L407.7 66.7L409.2 67.8L410.7 68.9ZM410.2 65.3L408.6 64.2L407.0 63.1L404.7 64.6L406.2 65.6L407.7 66.7ZM407.0 63.1L405.4 62.1L403.7 61.1L401.4 62.5L403.1 63.5L404.7 64.6ZM403.7 61.1L402.0 60.0L400.2 59.1L398.0 60.6L399.7 61.5L401.4 62.5ZM400.2 59.1L398.4 58.1L396.5 57.2L394.5 58.8L396.3 59.7L398.0 60.6ZM396.5 57.2L394.6 56.3L392.7 55.4L390.8 57.1L392.6 57.9L394.5 58.8ZM392.7 55.4L390.8 54.6L388.8 53.8L387.0 55.5L388.9 56.2L390.8 57.1ZM388.8 53.8L386.8 53.0L384.7 52.2L383.0 54.0L385.0 54.7L387.0 55.5ZM384.7 52.2L382.6 51.5L380.5 50.8L379.0 52.6L381.0 53.3L383.0 54.0ZM380.5 50.8L378.4 50.2L376.2 49.5L374.8 51.4L376.9 52.0L379.0 52.6ZM376.2 49.5L374.0 48.9L371.8 48.4L370.5 50.2L372.7 50.8L374.8 51.4ZM371.8 48.4L369.6 47.8L367.4 47.3L366.2 49.2L368.4 49.7L370.5 50.2ZM367.4 47.3L365.1 46.9L362.8 46.4L361.8 48.4L364.0 48.8L366.2 49.2ZM362.8 46.4L360.5 46.0L358.1 45.7L357.3 47.6L359.5 48.0L361.8 48.4ZM358.1 45.7L355.8 45.4L353.4 45.1L352.7 47.0L355.0 47.3L357.3 47.6ZM353.4 45.1L351.1 44.8L348.7 44.6L348.1 46.5L350.4 46.8L352.7 47.0ZM348.7 44.6L346.3 44.4L343.9 44.2L343.4 46.2L345.8 46.4L348.1 46.5ZM343.9 44.2L341.5 44.1L339.1 44.0L338.8 46.0L341.1 46.1L343.4 46.2ZM339.1 44.0L336.6 44.0L334.2 43.9L334.0 45.9L336.4 46.0L338.8 46.0ZM437.3 109.5L437.4 108.0L437.5 106.5L434.3 106.6L434.2 108.0L434.1 109.5ZM437.5 106.5L437.5 105.0L437.4 103.4L434.2 103.6L434.3 105.1L434.3 106.6ZM437.4 103.4L437.3 101.9L437.1 100.4L433.9 100.7L434.1 102.2L434.2 103.6ZM437.1 100.4L436.8 98.9L436.6 97.4L433.4 97.8L433.7 99.2L433.9 100.7ZM436.6 97.4L436.2 96.0L435.8 94.5L432.7 94.9L433.1 96.4L433.4 97.8ZM435.8 94.5L435.4 93.0L434.9 91.5L431.7 92.1L432.2 93.5L432.7 94.9ZM434.9 91.5L434.3 90.1L433.7 88.6L430.6 89.2L431.2 90.6L431.7 92.1ZM433.7 88.6L433.0 87.2L432.3 85.8L429.3 86.5L430.0 87.8L430.6 89.2ZM432.3 85.8L431.5 84.4L430.7 83.0L427.7 83.7L428.5 85.1L429.3 86.5ZM430.7 83.0L429.9 81.6L428.9 80.2L426.0 81.1L426.9 82.4L427.7 83.7ZM428.9 80.2L428.0 78.8L426.9 77.5L424.1 78.4L425.0 79.7L426.0 81.1ZM426.9 77.5L425.9 76.2L424.8 74.9L421.9 75.9L423.0 77.1L424.1 78.4ZM424.8 74.9L423.6 73.6L422.4 72.3L419.6 73.4L420.8 74.6L421.9 75.9ZM422.4 72.3L421.1 71.0L419.8 69.8L417.1 71.0L418.4 72.2L419.6 73.4ZM419.8 69.8L418.4 68.6L417.0 67.4L414.5 68.6L415.8 69.8L417.1 71.0ZM417.0 67.4L415.6 66.2L414.1 65.1L411.6 66.4L413.1 67.5L414.5 68.6ZM414.1 65.1L412.6 63.9L411.0 62.8L408.6 64.2L410.1 65.3L411.6 66.4ZM411.0 62.8L409.4 61.7L407.7 60.7L405.4 62.1L407.0 63.1L408.6 64.2ZM407.7 60.7L406.1 59.6L404.3 58.6L402.1 60.1L403.8 61.1L405.4 62.1ZM404.3 58.6L402.6 57.6L400.7 56.7L398.6 58.2L400.4 59.2L402.1 60.1ZM400.7 56.7L398.9 55.8L397.0 54.9L395.0 56.5L396.8 57.3L398.6 58.2ZM397.0 54.9L395.1 54.0L393.2 53.1L391.3 54.8L393.2 55.6L395.0 56.5ZM393.2 53.1L391.2 52.3L389.2 51.5L387.4 53.2L389.3 54.0L391.3 54.8ZM389.2 51.5L387.1 50.8L385.1 50.0L383.4 51.8L385.4 52.5L387.4 53.2ZM385.1 50.0L383.0 49.3L380.8 48.6L379.3 50.4L381.4 51.1L383.4 51.8ZM380.8 48.6L378.7 48.0L376.5 47.4L375.1 49.2L377.2 49.8L379.3 50.4ZM376.5 47.4L374.3 46.8L372.1 46.3L370.8 48.1L373.0 48.7L375.1 49.2ZM372.1 46.3L369.8 45.7L367.6 45.3L366.4 47.2L368.6 47.6L370.8 48.1ZM367.6 45.3L365.3 44.8L363.0 44.4L362.0 46.3L364.2 46.7L366.4 47.2ZM363.0 44.4L360.7 44.0L358.3 43.6L357.5 45.6L359.7 45.9L362.0 46.3ZM358.3 43.6L356.0 43.3L353.6 43.0L352.9 45.0L355.2 45.3L357.5 45.6ZM353.6 43.0L351.2 42.8L348.9 42.6L348.3 44.5L350.6 44.8L352.9 45.0ZM348.9 42.6L346.5 42.4L344.1 42.2L343.6 44.2L345.9 44.4L348.3 44.5ZM344.1 42.2L341.6 42.1L339.2 42.0L338.9 44.0L341.3 44.1L343.6 44.2ZM339.2 42.0L336.8 42.0L334.4 42.0L334.2 43.9L336.6 44.0L338.9 44.0ZM440.5 109.5L440.6 108.0L440.7 106.5L437.5 106.6L437.4 108.0L437.3 109.5ZM440.7 106.5L440.7 105.0L440.6 103.4L437.4 103.6L437.5 105.1L437.5 106.6ZM440.6 103.4L440.5 101.9L440.3 100.4L437.1 100.7L437.3 102.1L437.4 103.6ZM440.3 100.4L440.1 98.9L439.8 97.4L436.6 97.8L436.9 99.2L437.1 100.7ZM439.8 97.4L439.5 95.9L439.1 94.4L435.9 94.9L436.3 96.3L436.6 97.8ZM439.1 94.4L438.6 93.0L438.2 91.5L435.0 92.0L435.5 93.4L435.9 94.9ZM438.2 91.5L437.6 90.0L437.0 88.6L433.9 89.2L434.5 90.6L435.0 92.0ZM437.0 88.6L436.4 87.1L435.7 85.7L432.6 86.4L433.3 87.8L433.9 89.2ZM435.7 85.7L435.0 84.3L434.2 82.9L431.1 83.7L431.9 85.0L432.6 86.4ZM434.2 82.9L433.3 81.5L432.4 80.1L429.5 81.0L430.3 82.3L431.1 83.7ZM432.4 80.1L431.5 78.7L430.5 77.4L427.6 78.3L428.5 79.6L429.5 81.0ZM430.5 77.4L429.4 76.1L428.4 74.7L425.5 75.7L426.6 77.0L427.6 78.3ZM376.8 45.3L374.6 44.7L372.3 44.2L371.1 46.0L373.3 46.5L375.4 47.1ZM372.3 44.2L370.1 43.7L367.8 43.2L366.7 45.1L368.9 45.5L371.1 46.0ZM367.8 43.2L365.5 42.7L363.2 42.3L362.2 44.3L364.5 44.7L366.7 45.1ZM363.2 42.3L360.9 42.0L358.5 41.6L357.7 43.6L360.0 43.9L362.2 44.3ZM358.5 41.6L356.2 41.3L353.8 41.0L353.1 43.0L355.4 43.3L357.7 43.6ZM353.8 41.0L351.4 40.8L349.0 40.6L348.5 42.5L350.8 42.7L353.1 43.0ZM349.0 40.6L346.6 40.4L344.2 40.2L343.8 42.2L346.1 42.4L348.5 42.5ZM344.2 40.2L341.8 40.1L339.4 40.0L339.1 42.0L341.4 42.1L343.8 42.2ZM339.4 40.0L337.0 40.0L334.5 40.0L334.4 42.0L336.7 42.0L339.1 42.0ZM443.7 109.5L443.8 108.0L443.9 106.5L440.7 106.5L440.6 108.0L440.5 109.5ZM443.8 103.4L443.7 101.9L443.5 100.4L440.3 100.7L440.5 102.1L440.6 103.6ZM443.5 100.4L443.3 98.9L443.0 97.4L439.9 97.7L440.1 99.2L440.3 100.7ZM443.0 97.4L442.7 95.9L442.3 94.4L439.2 94.8L439.6 96.3L439.9 97.7ZM439.1 85.7L438.3 84.2L437.6 82.8L434.5 83.6L435.3 84.9L436.0 86.3ZM437.6 82.8L436.8 81.4L435.9 80.0L432.9 80.9L433.8 82.2L434.5 83.6ZM434.0 77.3L433.0 75.9L431.9 74.6L429.1 75.6L430.1 76.9L431.1 78.2ZM431.9 74.6L430.8 73.3L429.7 72.0L426.9 73.0L428.0 74.3L429.1 75.6ZM430.9 69.3L429.7 68.0L428.4 66.8L425.7 67.9L426.9 69.1L428.2 70.4ZM428.4 66.8L427.0 65.6L425.6 64.3L423.0 65.6L424.4 66.7L425.7 67.9ZM368.2 39.0L365.9 38.6L363.6 38.2L362.7 40.2L364.9 40.5L367.2 40.9ZM363.6 38.2L361.3 37.9L358.9 37.5L358.1 39.5L360.4 39.8L362.7 40.2ZM358.9 37.5L356.5 37.2L354.2 37.0L353.5 38.9L355.8 39.2L358.1 39.5ZM354.2 37.0L351.8 36.7L349.4 36.5L348.8 38.5L351.2 38.7L353.5 38.9ZM349.4 36.5L347.0 36.4L344.6 36.2L344.1 38.2L346.5 38.4L348.8 38.5ZM344.6 36.2L342.1 36.1L339.7 36.0L339.4 38.0L341.8 38.1L344.1 38.2ZM458.7 109.5L458.8 108.2L458.9 106.9L452.9 107.0L452.9 108.3L452.8 109.5ZM458.9 106.9L458.9 105.6L458.9 104.3L453.0 104.6L453.0 105.8L452.9 107.0ZM458.9 104.3L458.8 103.0L458.7 101.7L452.8 102.1L452.9 103.3L453.0 104.6ZM458.7 101.7L458.6 100.4L458.5 99.2L452.6 99.6L452.7 100.9L452.8 102.1ZM458.5 99.2L458.3 97.9L458.1 96.6L452.2 97.2L452.4 98.4L452.6 99.6ZM458.1 96.6L457.8 95.3L457.5 94.0L451.7 94.7L452.0 96.0L452.2 97.2ZM457.5 94.0L457.2 92.8L456.9 91.5L451.1 92.3L451.4 93.5L451.7 94.7ZM456.9 91.5L456.5 90.2L456.1 89.0L450.3 89.9L450.7 91.1L451.1 92.3ZM456.1 89.0L455.7 87.7L455.2 86.5L449.4 87.5L449.9 88.7L450.3 89.9ZM455.2 86.5L454.7 85.3L454.1 84.0L448.4 85.2L449.0 86.4L449.4 87.5ZM454.1 84.0L453.6 82.8L452.9 81.6L447.3 82.8L447.9 84.0L448.4 85.2ZM452.9 81.6L452.3 80.4L451.6 79.2L446.1 80.5L446.7 81.7L447.3 82.8ZM451.6 79.2L450.9 78.0L450.2 76.8L444.7 78.3L445.4 79.4L446.1 80.5ZM450.2 76.8L449.4 75.6L448.7 74.4L443.2 76.0L444.0 77.1L444.7 78.3ZM448.7 74.4L447.8 73.2L447.0 72.1L441.6 73.8L442.4 74.9L443.2 76.0ZM447.0 72.1L446.1 70.9L445.2 69.8L439.9 71.6L440.8 72.7L441.6 73.8ZM445.2 69.8L444.2 68.7L443.3 67.6L438.1 69.5L439.0 70.5L439.9 71.6ZM443.3 67.6L442.2 66.5L441.2 65.4L436.1 67.4L437.1 68.4L438.1 69.5ZM464.6 109.5L464.7 108.2L464.8 106.9L458.8 107.0L458.8 108.3L458.7 109.5ZM464.8 106.9L464.8 105.6L464.8 104.3L458.9 104.5L458.9 105.8L458.8 107.0ZM464.8 104.3L464.7 103.0L464.6 101.7L458.8 102.0L458.8 103.3L458.9 104.5ZM464.6 101.7L464.5 100.4L464.4 99.1L458.5 99.6L458.7 100.8L458.8 102.0ZM464.4 99.1L464.2 97.8L464.0 96.5L458.2 97.1L458.4 98.3L458.5 99.6ZM464.0 96.5L463.8 95.2L463.5 94.0L457.7 94.6L457.9 95.9L458.2 97.1ZM463.5 94.0L463.2 92.7L462.9 91.4L457.1 92.2L457.4 93.4L457.7 94.6ZM462.9 91.4L462.5 90.1L462.2 88.9L456.4 89.8L456.7 91.0L457.1 92.2ZM462.2 88.9L461.7 87.6L461.3 86.4L455.5 87.4L456.0 88.6L456.4 89.8ZM461.3 86.4L460.8 85.1L460.3 83.9L454.6 85.0L455.1 86.2L455.5 87.4ZM460.3 83.9L459.7 82.6L459.1 81.4L453.5 82.6L454.0 83.8L454.6 85.0ZM459.1 81.4L458.5 80.2L457.9 79.0L452.3 80.3L452.9 81.5L453.5 82.6ZM457.9 79.0L457.2 77.7L456.5 76.5L451.0 78.0L451.6 79.1L452.3 80.3ZM456.5 76.5L455.8 75.3L455.0 74.2L449.5 75.7L450.3 76.8L451.0 78.0ZM455.0 74.2L454.2 73.0L453.4 71.8L448.0 73.5L448.8 74.6L449.5 75.7ZM453.4 71.8L452.5 70.7L451.6 69.5L446.3 71.2L447.2 72.3L448.0 73.5ZM451.6 69.5L450.7 68.4L449.8 67.2L444.5 69.1L445.4 70.1L446.3 71.2ZM449.8 67.2L448.8 66.1L447.8 65.0L442.7 66.9L443.6 68.0L444.5 69.1ZM447.8 65.0L446.8 63.9L445.8 62.8L440.7 64.8L441.7 65.9L442.7 66.9ZM445.8 62.8L444.7 61.7L443.6 60.7L438.6 62.8L439.6 63.8L440.7 64.8ZM443.6 60.7L442.4 59.6L441.3 58.5L436.4 60.8L437.5 61.8L438.6 62.8ZM441.3 58.5L440.1 57.5L438.9 56.5L434.1 58.8L435.2 59.8L436.4 60.8ZM438.9 56.5L437.6 55.5L436.4 54.5L431.7 56.9L432.9 57.8L434.1 58.8ZM436.4 54.5L435.1 53.5L433.7 52.5L429.2 55.0L430.4 55.9L431.7 56.9ZM433.7 52.5L432.4 51.6L431.0 50.6L426.6 53.2L427.9 54.1L429.2 55.0ZM431.0 50.6L429.6 49.7L428.2 48.8L423.9 51.4L425.3 52.3L426.6 53.2ZM428.2 48.8L426.8 47.9L425.3 47.0L421.1 49.7L422.5 50.6L423.9 51.4ZM425.3 47.0L423.8 46.1L422.3 45.3L418.3 48.1L419.7 48.9L421.1 49.7ZM422.3 45.3L420.8 44.5L419.2 43.6L415.3 46.5L416.8 47.3L418.3 48.1ZM419.2 43.6L417.7 42.8L416.1 42.0L412.3 45.0L413.8 45.7L415.3 46.5ZM416.1 42.0L414.5 41.3L412.8 40.5L409.2 43.5L410.8 44.2L412.3 45.0ZM412.8 40.5L411.2 39.7L409.5 39.0L406.0 42.1L407.6 42.8L409.2 43.5ZM409.5 39.0L407.8 38.3L406.1 37.6L402.7 40.7L404.4 41.4L406.0 42.1ZM406.1 37.6L404.4 36.9L402.6 36.3L399.4 39.5L401.1 40.1L402.7 40.7ZM402.6 36.3L400.9 35.6L399.1 35.0L396.0 38.3L397.7 38.8L399.4 39.5ZM399.1 35.0L397.3 34.4L395.5 33.8L392.6 37.1L394.3 37.7L396.0 38.3ZM395.5 33.8L393.6 33.2L391.8 32.7L389.1 36.0L390.8 36.6L392.6 37.1ZM391.8 32.7L389.9 32.2L388.0 31.6L385.5 35.0L387.3 35.5L389.1 36.0ZM388.0 31.6L386.2 31.1L384.2 30.7L381.8 34.1L383.7 34.5L385.5 35.0ZM384.2 30.7L382.3 30.2L380.4 29.8L378.2 33.2L380.0 33.6L381.8 34.1ZM380.4 29.8L378.5 29.3L376.5 28.9L374.4 32.4L376.3 32.8L378.2 33.2ZM376.5 28.9L374.5 28.5L372.6 28.2L370.7 31.7L372.6 32.1L374.4 32.4ZM372.6 28.2L370.6 27.8L368.6 27.5L366.9 31.1L368.8 31.4L370.7 31.7ZM368.6 27.5L366.6 27.2L364.6 26.9L363.0 30.5L365.0 30.8L366.9 31.1ZM364.6 26.9L362.5 26.6L360.5 26.4L359.1 30.0L361.1 30.2L363.0 30.5ZM360.5 26.4L358.5 26.2L356.4 26.0L355.2 29.6L357.2 29.8L359.1 30.0ZM356.4 26.0L354.4 25.8L352.3 25.6L351.3 29.2L353.3 29.4L355.2 29.6ZM352.3 25.6L350.3 25.4L348.2 25.3L347.4 29.0L349.3 29.1L351.3 29.2ZM348.2 25.3L346.1 25.2L344.1 25.1L343.4 28.8L345.4 28.9L347.4 29.0ZM344.1 25.1L342.0 25.0L339.9 25.0L339.4 28.7L341.4 28.7L343.4 28.8ZM339.9 25.0L337.8 25.0L335.7 25.0L335.4 28.6L337.4 28.6L339.4 28.7ZM445.7 56.0L444.5 54.9L443.3 53.9L438.5 56.2L439.7 57.2L440.9 58.2ZM443.3 53.9L442.0 52.9L440.8 51.9L436.1 54.3L437.3 55.3L438.5 56.2ZM440.8 51.9L439.5 50.9L438.1 50.0L433.6 52.4L434.9 53.4L436.1 54.3ZM438.1 50.0L436.8 49.0L435.4 48.0L431.0 50.6L432.3 51.5L433.6 52.4ZM435.4 48.0L434.0 47.1L432.6 46.2L428.3 48.8L429.6 49.7L431.0 50.6ZM432.6 46.2L431.1 45.3L429.7 44.4L425.5 47.1L426.9 48.0L428.3 48.8ZM429.7 44.4L428.2 43.5L426.7 42.7L422.6 45.5L424.1 46.3L425.5 47.1ZM426.7 42.7L425.2 41.8L423.6 41.0L419.7 43.8L421.1 44.6L422.6 45.5ZM423.6 41.0L422.0 40.2L420.4 39.4L416.6 42.3L418.2 43.1L419.7 43.8ZM420.4 39.4L418.8 38.6L417.2 37.8L413.5 40.8L415.1 41.5L416.6 42.3ZM417.2 37.8L415.5 37.1L413.9 36.3L410.3 39.4L411.9 40.1L413.5 40.8ZM413.9 36.3L412.2 35.6L410.5 34.9L407.1 38.0L408.7 38.7L410.3 39.4ZM410.5 34.9L408.7 34.2L407.0 33.5L403.7 36.7L405.4 37.3L407.1 38.0ZM407.0 33.5L405.2 32.9L403.5 32.2L400.4 35.5L402.1 36.1L403.7 36.7ZM403.5 32.2L401.7 31.6L399.8 31.0L396.9 34.3L398.6 34.9L400.4 35.5ZM399.8 31.0L398.0 30.4L396.2 29.9L393.4 33.2L395.1 33.7L396.9 34.3ZM396.2 29.9L394.3 29.3L392.5 28.8L389.8 32.1L391.6 32.6L393.4 33.2ZM392.5 28.8L390.6 28.2L388.7 27.7L386.2 31.2L388.0 31.6L389.8 32.1ZM388.7 27.7L386.8 27.3L384.8 26.8L382.5 30.2L384.4 30.7L386.2 31.2ZM384.8 26.8L382.9 26.4L381.0 25.9L378.8 29.4L380.7 29.8L382.5 30.2ZM381.0 25.9L379.0 25.5L377.0 25.1L375.0 28.6L376.9 29.0L378.8 29.4ZM377.0 25.1L375.0 24.7L373.1 24.4L371.2 27.9L373.1 28.3L375.0 28.6ZM373.1 24.4L371.1 24.1L369.0 23.7L367.4 27.3L369.3 27.6L371.2 27.9ZM369.0 23.7L367.0 23.4L365.0 23.2L363.5 26.8L365.4 27.0L367.4 27.3ZM365.0 23.2L363.0 22.9L360.9 22.7L359.6 26.3L361.6 26.5L363.5 26.8ZM360.9 22.7L358.9 22.4L356.8 22.2L355.7 25.9L357.6 26.1L359.6 26.3ZM356.8 22.2L354.8 22.1L352.7 21.9L351.7 25.5L353.7 25.7L355.7 25.9ZM352.7 21.9L350.6 21.8L348.5 21.6L347.7 25.3L349.7 25.4L351.7 25.5ZM348.5 21.6L346.5 21.5L344.4 21.4L343.7 25.1L345.7 25.2L347.7 25.3ZM344.4 21.4L342.3 21.4L340.2 21.3L339.7 25.0L341.7 25.0L343.7 25.1ZM340.2 21.3L338.1 21.3L336.0 21.3L335.7 25.0L337.7 25.0L339.7 25.0Z"/><path fill="#00E07A" stroke="#00E07A" stroke-width="0.25" d="M355.2 81.5L353.0 80.8L350.8 80.2L349.4 82.0L351.5 82.6L353.5 83.3ZM350.8 80.2L348.5 79.6L346.2 79.2L345.1 81.1L347.3 81.5L349.4 82.0ZM346.2 79.2L343.8 78.7L341.4 78.4L340.6 80.4L342.9 80.7L345.1 81.1ZM341.4 78.4L339.0 78.1L336.5 77.9L336.0 79.9L338.3 80.1L340.6 80.4ZM336.5 77.9L334.0 77.8L331.5 77.8L331.4 79.8L333.7 79.8L336.0 79.9ZM367.4 84.6L365.6 83.6L363.7 82.6L361.7 84.2L363.4 85.1L365.1 86.1ZM381.2 88.9L379.9 87.6L378.5 86.4L375.9 87.6L377.2 88.8L378.5 90.0ZM389.0 94.3L388.1 92.9L387.1 91.5L384.2 92.4L385.1 93.7L386.0 95.1ZM387.1 91.5L386.1 90.1L384.9 88.8L382.1 89.8L383.2 91.1L384.2 92.4ZM378.5 71.7L376.6 70.8L374.6 69.9L372.7 71.5L374.6 72.4L376.4 73.3ZM374.6 69.9L372.6 69.0L370.5 68.2L368.7 70.0L370.7 70.7L372.7 71.5ZM370.5 68.2L368.4 67.5L366.2 66.8L364.6 68.6L366.7 69.2L368.7 70.0ZM366.2 66.8L364.0 66.1L361.7 65.5L360.4 67.3L362.5 67.9L364.6 68.6ZM361.7 65.5L359.5 64.9L357.1 64.4L356.0 66.3L358.2 66.8L360.4 67.3ZM357.1 64.4L354.8 63.9L352.4 63.5L351.4 65.4L353.7 65.8L356.0 66.3ZM352.4 63.5L350.0 63.1L347.6 62.8L346.8 64.7L349.2 65.0L351.4 65.4ZM342.7 62.3L340.3 62.1L337.8 62.0L337.4 64.0L339.8 64.1L342.2 64.2ZM337.8 62.0L335.3 61.9L332.8 61.9L332.6 63.9L335.0 63.9L337.4 64.0ZM400.6 85.6L399.5 84.2L398.3 82.9L395.5 84.0L396.7 85.3L397.8 86.6ZM398.3 82.9L397.0 81.6L395.7 80.3L393.0 81.5L394.3 82.7L395.5 84.0ZM395.7 80.3L394.3 79.1L392.8 77.9L390.3 79.1L391.7 80.3L393.0 81.5ZM392.8 77.9L391.3 76.7L389.7 75.5L387.3 76.9L388.8 78.0L390.3 79.1ZM389.7 75.5L388.1 74.4L386.4 73.3L384.1 74.8L385.7 75.8L387.3 76.9ZM386.4 73.3L384.6 72.3L382.8 71.3L380.6 72.8L382.4 73.8L384.1 74.8ZM382.8 71.3L380.9 70.3L379.0 69.4L377.0 71.0L378.8 71.9L380.6 72.8ZM411.8 109.5L411.9 107.9L411.9 106.4L408.7 106.5L408.7 108.0L408.6 109.5ZM411.2 100.2L410.8 98.7L410.4 97.1L407.2 97.6L407.7 99.1L408.0 100.6ZM409.3 94.1L408.6 92.7L407.9 91.2L404.8 91.9L405.5 93.3L406.2 94.7ZM407.9 91.2L407.1 89.7L406.2 88.3L403.2 89.1L404.0 90.5L404.8 91.9ZM428.4 74.7L427.2 73.4L426.0 72.1L423.3 73.2L424.4 74.5L425.5 75.7ZM429.7 72.0L428.5 70.7L427.2 69.4L424.5 70.6L425.7 71.8L426.9 73.0ZM425.6 64.3L424.2 63.2L422.8 62.0L420.2 63.3L421.6 64.4L423.0 65.6ZM422.8 62.0L421.3 60.8L419.7 59.7L417.3 61.1L418.8 62.2L420.2 63.3ZM386.0 43.5L383.9 42.8L381.7 42.2L380.3 44.0L382.4 44.6L384.5 45.2ZM381.7 42.2L379.5 41.6L377.3 41.0L376.0 42.9L378.2 43.4L380.3 44.0ZM377.3 41.0L375.1 40.5L372.8 40.0L371.6 41.8L373.8 42.3L376.0 42.9ZM372.8 40.0L370.5 39.5L368.2 39.0L367.2 40.9L369.4 41.4L371.6 41.8ZM470.5 109.5L470.6 108.2L470.6 106.9L464.7 107.0L464.7 108.2L464.6 109.5ZM470.0 96.5L469.8 95.2L469.5 93.9L463.7 94.5L463.9 95.8L464.1 97.0ZM469.5 93.9L469.2 92.6L468.9 91.3L463.1 92.1L463.4 93.3L463.7 94.5ZM464.1 78.8L463.4 77.6L462.8 76.3L457.2 77.7L457.8 78.9L458.5 80.1ZM461.3 73.9L460.6 72.7L459.8 71.6L454.3 73.1L455.1 74.3L455.8 75.4ZM458.1 69.2L457.2 68.1L456.3 66.9L451.0 68.7L451.9 69.8L452.7 70.9ZM450.3 60.2L449.2 59.1L448.1 58.1L443.1 60.2L444.2 61.2L445.2 62.3ZM475.9 96.4L475.7 95.1L475.5 93.8L469.6 94.5L469.9 95.7L470.1 96.9ZM475.5 93.8L475.2 92.5L474.9 91.2L469.1 92.0L469.4 93.2L469.6 94.5ZM474.9 91.2L474.6 90.0L474.2 88.7L468.4 89.5L468.8 90.7L469.1 92.0ZM474.2 88.7L473.8 87.4L473.4 86.1L467.6 87.1L468.0 88.3L468.4 89.5ZM472.5 83.6L472.0 82.4L471.4 81.1L465.7 82.2L466.3 83.4L466.7 84.6ZM469.0 76.2L468.3 74.9L467.6 73.7L462.1 75.2L462.8 76.3L463.4 77.5ZM466.1 71.3L465.3 70.1L464.5 69.0L459.1 70.6L459.9 71.7L460.6 72.9ZM464.5 69.0L463.6 67.8L462.8 66.6L457.4 68.3L458.3 69.4L459.1 70.6ZM460.9 64.3L460.0 63.2L459.0 62.0L453.8 63.9L454.7 65.0L455.7 66.1ZM456.9 59.8L455.9 58.7L454.8 57.6L449.8 59.7L450.8 60.7L451.8 61.8ZM454.8 57.6L453.7 56.5L452.5 55.5L447.6 57.6L448.7 58.7L449.8 59.7ZM452.5 55.5L451.4 54.4L450.2 53.4L445.3 55.6L446.5 56.6L447.6 57.6ZM450.2 53.4L449.0 52.3L447.7 51.3L443.0 53.7L444.2 54.6L445.3 55.6ZM447.7 51.3L446.5 50.3L445.2 49.3L440.5 51.7L441.8 52.7L443.0 53.7ZM442.5 47.4L441.2 46.4L439.8 45.5L435.4 48.0L436.7 48.9L438.0 49.8ZM439.8 45.5L438.4 44.5L437.0 43.6L432.6 46.2L434.0 47.1L435.4 48.0Z"/><path fill="#00E028" stroke="#00E028" stroke-width="0.25" d="M359.7 80.9L357.6 80.1L355.5 79.3L353.9 81.1L355.9 81.8L357.9 82.5ZM355.5 79.3L353.3 78.7L351.0 78.1L349.7 79.9L351.8 80.5L353.9 81.1ZM351.0 78.1L348.7 77.6L346.4 77.1L345.3 79.0L347.5 79.4L349.7 79.9ZM346.4 77.1L344.0 76.7L341.6 76.4L340.8 78.3L343.1 78.6L345.3 79.0ZM341.6 76.4L339.1 76.1L336.7 75.9L336.2 77.9L338.5 78.1L340.8 78.3ZM336.7 75.9L334.2 75.8L331.7 75.8L331.5 77.8L333.9 77.8L336.2 77.9ZM371.5 84.3L369.8 83.2L368.0 82.2L365.8 83.7L367.5 84.7L369.1 85.7ZM368.0 82.2L366.1 81.2L364.2 80.3L362.2 81.9L364.0 82.8L365.8 83.7ZM378.5 86.4L377.1 85.1L375.5 84.0L373.0 85.3L374.5 86.4L375.9 87.6ZM392.6 109.5L392.7 107.9L392.7 106.4L389.5 106.5L389.5 108.0L389.4 109.5ZM392.7 106.4L392.6 104.8L392.3 103.3L389.2 103.6L389.4 105.1L389.5 106.5ZM392.3 103.3L392.0 101.8L391.6 100.2L388.5 100.7L388.9 102.1L389.2 103.6ZM391.6 100.2L391.1 98.7L390.5 97.2L387.4 97.9L388.0 99.3L388.5 100.7ZM390.5 97.2L389.8 95.8L389.0 94.3L386.0 95.1L386.7 96.5L387.4 97.9ZM374.2 72.2L372.2 71.3L370.1 70.5L368.3 72.2L370.3 73.0L372.2 73.8ZM411.9 106.4L411.8 104.8L411.7 103.3L408.5 103.5L408.6 105.0L408.7 106.5ZM411.7 103.3L411.5 101.7L411.2 100.2L408.0 100.6L408.3 102.0L408.5 103.5ZM410.4 97.1L409.8 95.6L409.3 94.1L406.2 94.7L406.7 96.2L407.2 97.6ZM406.2 88.3L405.2 86.9L404.2 85.5L401.3 86.4L402.3 87.8L403.2 89.1ZM426.0 72.1L424.8 70.9L423.5 69.6L420.8 70.8L422.1 72.0L423.3 73.2ZM419.7 59.7L418.1 58.6L416.5 57.5L414.1 58.9L415.7 60.0L417.3 61.1ZM416.5 57.5L414.9 56.5L413.2 55.4L410.9 56.9L412.5 57.9L414.1 58.9ZM413.2 55.4L411.4 54.4L409.7 53.4L407.5 54.9L409.2 55.9L410.9 56.9ZM409.7 53.4L407.9 52.4L406.0 51.5L404.0 53.1L405.7 54.0L407.5 54.9ZM406.0 51.5L404.2 50.6L402.3 49.7L400.3 51.3L402.1 52.2L404.0 53.1ZM402.3 49.7L400.3 48.8L398.4 48.0L396.5 49.6L398.4 50.4L400.3 51.3ZM398.4 48.0L396.4 47.1L394.4 46.3L392.6 48.1L394.6 48.8L396.5 49.6ZM394.4 46.3L392.3 45.6L390.3 44.8L388.6 46.6L390.6 47.3L392.6 48.1ZM390.3 44.8L388.2 44.1L386.0 43.5L384.5 45.2L386.6 45.9L388.6 46.6ZM470.6 106.9L470.7 105.6L470.7 104.3L464.8 104.5L464.8 105.7L464.7 107.0ZM470.7 104.3L470.6 103.0L470.6 101.7L464.7 102.0L464.7 103.2L464.8 104.5ZM470.6 101.7L470.5 100.4L470.3 99.1L464.5 99.5L464.6 100.7L464.7 102.0ZM470.3 99.1L470.2 97.8L470.0 96.5L464.1 97.0L464.3 98.3L464.5 99.5ZM468.9 91.3L468.6 90.1L468.2 88.8L462.4 89.6L462.8 90.9L463.1 92.1ZM468.2 88.8L467.8 87.5L467.3 86.2L461.6 87.2L462.0 88.4L462.4 89.6ZM467.3 86.2L466.9 85.0L466.4 83.7L460.7 84.8L461.1 86.0L461.6 87.2ZM466.4 83.7L465.9 82.5L465.3 81.2L459.6 82.4L460.2 83.6L460.7 84.8ZM465.3 81.2L464.7 80.0L464.1 78.8L458.5 80.1L459.1 81.2L459.6 82.4ZM462.8 76.3L462.1 75.1L461.3 73.9L455.8 75.4L456.5 76.6L457.2 77.7ZM459.8 71.6L458.9 70.4L458.1 69.2L452.7 70.9L453.5 72.0L454.3 73.1ZM456.3 66.9L455.4 65.8L454.4 64.6L449.2 66.5L450.1 67.6L451.0 68.7ZM454.4 64.6L453.4 63.5L452.4 62.4L447.3 64.4L448.2 65.4L449.2 66.5ZM452.4 62.4L451.4 61.3L450.3 60.2L445.2 62.3L446.3 63.3L447.3 64.4ZM448.1 58.1L446.9 57.0L445.7 56.0L440.9 58.2L442.0 59.2L443.1 60.2ZM476.4 109.5L476.5 108.2L476.5 106.9L470.6 107.0L470.6 108.2L470.5 109.5ZM476.5 106.9L476.6 105.6L476.6 104.3L470.7 104.5L470.7 105.7L470.6 107.0ZM476.6 104.3L476.5 102.9L476.5 101.6L470.6 102.0L470.6 103.2L470.7 104.5ZM476.5 101.6L476.4 100.3L476.3 99.0L470.4 99.4L470.5 100.7L470.6 102.0ZM476.3 99.0L476.1 97.7L475.9 96.4L470.1 96.9L470.2 98.2L470.4 99.4ZM473.4 86.1L473.0 84.9L472.5 83.6L466.7 84.6L467.2 85.9L467.6 87.1ZM471.4 81.1L470.9 79.9L470.3 78.6L464.6 79.9L465.2 81.0L465.7 82.2ZM470.3 78.6L469.7 77.4L469.0 76.2L463.4 77.5L464.0 78.7L464.6 79.9ZM467.6 73.7L466.9 72.5L466.1 71.3L460.6 72.9L461.4 74.0L462.1 75.2ZM462.8 66.6L461.9 65.5L460.9 64.3L455.7 66.1L456.6 67.2L457.4 68.3ZM459.0 62.0L458.0 60.9L456.9 59.8L451.8 61.8L452.8 62.9L453.8 63.9ZM445.2 49.3L443.9 48.3L442.5 47.4L438.0 49.8L439.3 50.8L440.5 51.7ZM437.0 43.6L435.5 42.7L434.0 41.8L429.8 44.5L431.3 45.4L432.6 46.2ZM434.0 41.8L432.6 40.9L431.0 40.0L427.0 42.8L428.4 43.7L429.8 44.5ZM431.0 40.0L429.5 39.2L428.0 38.4L424.0 41.2L425.5 42.0L427.0 42.8ZM428.0 38.4L426.4 37.5L424.8 36.7L421.0 39.6L422.5 40.4L424.0 41.2ZM424.8 36.7L423.2 35.9L421.5 35.2L417.8 38.1L419.4 38.9L421.0 39.6ZM421.5 35.2L419.9 34.4L418.2 33.6L414.7 36.7L416.3 37.4L417.8 38.1ZM418.2 33.6L416.5 32.9L414.8 32.2L411.4 35.3L413.0 36.0L414.7 36.7ZM414.8 32.2L413.1 31.5L411.4 30.8L408.1 33.9L409.7 34.6L411.4 35.3ZM411.4 30.8L409.6 30.1L407.8 29.5L404.7 32.7L406.4 33.3L408.1 33.9ZM407.8 29.5L406.0 28.8L404.2 28.2L401.2 31.5L403.0 32.1L404.7 32.7ZM404.2 28.2L402.4 27.6L400.6 27.0L397.7 30.3L399.5 30.9L401.2 31.5ZM400.6 27.0L398.7 26.5L396.9 25.9L394.2 29.2L395.9 29.8L397.7 30.3ZM396.9 25.9L395.0 25.4L393.1 24.8L390.5 28.2L392.4 28.7L394.2 29.2ZM393.1 24.8L391.2 24.3L389.3 23.9L386.9 27.3L388.7 27.8L390.5 28.2ZM389.3 23.9L387.4 23.4L385.4 22.9L383.2 26.4L385.0 26.8L386.9 27.3ZM385.4 22.9L383.5 22.5L381.5 22.1L379.4 25.6L381.3 26.0L383.2 26.4ZM381.5 22.1L379.5 21.7L377.5 21.3L375.6 24.8L377.5 25.2L379.4 25.6ZM377.5 21.3L375.5 21.0L373.5 20.6L371.8 24.2L373.7 24.5L375.6 24.8ZM373.5 20.6L371.5 20.3L369.5 20.0L367.9 23.6L369.8 23.9L371.8 24.2ZM369.5 20.0L367.5 19.7L365.4 19.4L364.0 23.0L365.9 23.3L367.9 23.6ZM365.4 19.4L363.4 19.2L361.3 18.9L360.0 22.6L362.0 22.8L364.0 23.0ZM361.3 18.9L359.3 18.7L357.2 18.5L356.1 22.2L358.1 22.4L360.0 22.6ZM357.2 18.5L355.1 18.4L353.1 18.2L352.1 21.9L354.1 22.0L356.1 22.2ZM353.1 18.2L351.0 18.1L348.9 17.9L348.1 21.6L350.1 21.7L352.1 21.9ZM348.9 17.9L346.8 17.8L344.7 17.7L344.1 21.4L346.1 21.5L348.1 21.6ZM344.7 17.7L342.6 17.7L340.5 17.6L340.0 21.3L342.1 21.4L344.1 21.4ZM340.5 17.6L338.4 17.6L336.3 17.6L336.0 21.3L338.0 21.3L340.0 21.3Z"/><path fill="#004ED6" stroke="#004ED6" stroke-width="0.25" d="M386.2 109.5L386.3 107.9L386.3 106.4L383.1 106.6L383.1 108.0L383.0 109.5ZM386.3 106.4L386.1 104.8L385.9 103.3L382.7 103.6L382.9 105.1L383.1 106.6ZM385.9 103.3L385.5 101.8L385.0 100.3L381.9 100.8L382.3 102.2L382.7 103.6ZM385.0 100.3L384.4 98.8L383.8 97.3L380.7 98.0L381.4 99.4L381.9 100.8ZM383.8 97.3L383.0 95.8L382.1 94.4L379.1 95.3L380.0 96.6L380.7 98.0ZM382.1 94.4L381.1 93.0L380.0 91.7L377.1 92.7L378.2 93.9L379.1 95.3ZM380.0 91.7L378.8 90.3L377.5 89.0L374.8 90.2L376.0 91.4L377.1 92.7ZM348.0 58.7L345.5 58.5L343.0 58.3L342.5 60.2L344.9 60.4L347.2 60.7ZM343.0 58.3L340.6 58.1L338.1 58.0L337.7 60.0L340.1 60.1L342.5 60.2ZM338.1 58.0L335.6 57.9L333.1 57.9L332.9 59.9L335.3 59.9L337.7 60.0ZM343.2 56.3L340.7 56.1L338.3 56.0L337.9 58.0L340.3 58.1L342.7 58.2ZM338.3 56.0L335.8 55.9L333.3 55.9L333.1 57.9L335.5 57.9L337.9 58.0ZM413.1 88.2L412.2 86.8L411.3 85.4L408.3 86.2L409.2 87.6L410.1 89.0ZM409.2 82.6L408.1 81.3L406.9 79.9L404.1 81.0L405.2 82.3L406.3 83.6ZM338.4 54.0L335.9 53.9L333.4 53.9L333.3 55.9L335.7 55.9L338.1 56.0ZM412.8 82.5L411.7 81.2L410.5 79.8L407.7 80.8L408.8 82.1L409.9 83.5ZM343.5 52.2L341.1 52.1L338.6 52.0L338.2 54.0L340.6 54.1L343.0 54.2ZM338.6 52.0L336.1 51.9L333.6 51.9L333.4 53.9L335.8 53.9L338.2 54.0ZM424.7 106.4L424.6 104.8L424.5 103.3L421.3 103.5L421.4 105.0L421.5 106.5ZM421.3 91.1L420.7 89.6L419.9 88.1L416.9 88.9L417.6 90.3L418.3 91.7ZM418.2 85.3L417.3 83.8L416.3 82.5L413.4 83.4L414.3 84.7L415.2 86.1ZM408.7 48.0L407.1 47.2L405.4 46.4L401.8 49.4L403.3 50.2L404.9 50.9ZM405.4 46.4L403.7 45.7L402.0 45.0L398.6 48.0L400.2 48.7L401.8 49.4ZM402.0 45.0L400.3 44.2L398.6 43.5L395.3 46.7L396.9 47.3L398.6 48.0ZM398.6 43.5L396.8 42.9L395.0 42.2L391.9 45.4L393.6 46.0L395.3 46.7ZM395.0 42.2L393.2 41.6L391.4 41.0L388.4 44.2L390.2 44.8L391.9 45.4ZM391.4 41.0L389.6 40.4L387.7 39.8L384.9 43.1L386.7 43.7L388.4 44.2ZM387.7 39.8L385.8 39.2L384.0 38.7L381.3 42.1L383.1 42.6L384.9 43.1ZM384.0 38.7L382.0 38.2L380.1 37.7L377.7 41.1L379.5 41.6L381.3 42.1ZM380.1 37.7L378.2 37.2L376.2 36.8L374.0 40.2L375.8 40.7L377.7 41.1ZM376.2 36.8L374.3 36.3L372.3 35.9L370.2 39.4L372.1 39.8L374.0 40.2ZM372.3 35.9L370.3 35.5L368.3 35.2L366.4 38.7L368.3 39.1L370.2 39.4ZM368.3 35.2L366.3 34.8L364.3 34.5L362.6 38.1L364.5 38.4L366.4 38.7ZM364.3 34.5L362.2 34.2L360.2 33.9L358.7 37.5L360.7 37.8L362.6 38.1ZM360.2 33.9L358.1 33.7L356.1 33.4L354.8 37.0L356.8 37.3L358.7 37.5ZM356.1 33.4L354.0 33.2L351.9 33.0L350.8 36.7L352.8 36.8L354.8 37.0ZM351.9 33.0L349.9 32.9L347.8 32.7L346.9 36.4L348.9 36.5L350.8 36.7ZM347.8 32.7L345.7 32.6L343.6 32.5L342.9 36.2L344.9 36.2L346.9 36.4ZM423.9 51.4L422.4 50.5L421.0 49.6L416.8 52.4L418.2 53.2L419.5 54.0ZM418.0 47.9L416.4 47.1L414.9 46.3L411.0 49.1L412.5 49.9L413.9 50.7ZM414.9 46.3L413.3 45.5L411.7 44.7L408.0 47.6L409.5 48.4L411.0 49.1ZM411.7 44.7L410.1 43.9L408.5 43.2L404.9 46.2L406.4 46.9L408.0 47.6ZM408.5 43.2L406.8 42.4L405.1 41.7L401.7 44.8L403.3 45.5L404.9 46.2ZM405.1 41.7L403.5 41.0L401.7 40.3L398.4 43.5L400.1 44.1L401.7 44.8ZM401.7 40.3L400.0 39.7L398.2 39.0L395.1 42.2L396.8 42.9L398.4 43.5ZM398.2 39.0L396.5 38.4L394.7 37.8L391.7 41.1L393.4 41.6L395.1 42.2ZM394.7 37.8L392.9 37.2L391.1 36.6L388.2 39.9L390.0 40.5L391.7 41.1ZM391.1 36.6L389.2 36.1L387.4 35.5L384.7 38.9L386.5 39.4L388.2 39.9ZM387.4 35.5L385.5 35.0L383.6 34.5L381.1 37.9L382.9 38.4L384.7 38.9ZM383.6 34.5L381.7 34.1L379.8 33.6L377.5 37.1L379.3 37.5L381.1 37.9ZM379.8 33.6L377.9 33.2L376.0 32.7L373.8 36.2L375.7 36.6L377.5 37.1ZM376.0 32.7L374.0 32.3L372.1 32.0L370.1 35.5L372.0 35.9L373.8 36.2ZM372.1 32.0L370.1 31.6L368.1 31.3L366.3 34.8L368.2 35.2L370.1 35.5ZM368.1 31.3L366.1 31.0L364.1 30.7L362.5 34.2L364.4 34.5L366.3 34.8ZM364.1 30.7L362.1 30.4L360.1 30.1L358.7 33.7L360.6 34.0L362.5 34.2ZM360.1 30.1L358.1 29.9L356.0 29.7L354.8 33.3L356.8 33.5L358.7 33.7ZM356.0 29.7L354.0 29.5L352.0 29.3L350.9 32.9L352.9 33.1L354.8 33.3Z"/><path fill="#7AE000" stroke="#7AE000" stroke-width="0.25" d="M364.2 80.3L362.1 79.4L360.1 78.6L358.3 80.3L360.3 81.1L362.2 81.9ZM360.1 78.6L357.9 77.8L355.8 77.2L354.3 79.0L356.3 79.6L358.3 80.3ZM375.5 84.0L373.8 82.9L372.1 81.8L369.9 83.2L371.5 84.3L373.0 85.3ZM372.1 81.8L370.3 80.7L368.5 79.8L366.4 81.3L368.2 82.3L369.9 83.2ZM368.5 79.8L366.6 78.8L364.6 78.0L362.7 79.6L364.6 80.5L366.4 81.3ZM364.6 78.0L362.5 77.1L360.4 76.4L358.7 78.1L360.7 78.8L362.7 79.6ZM382.3 86.2L380.9 84.9L379.4 83.7L376.9 85.0L378.3 86.2L379.7 87.4ZM379.4 83.7L377.9 82.6L376.2 81.4L373.8 82.9L375.4 83.9L376.9 85.0ZM393.8 97.2L393.2 95.7L392.4 94.3L389.4 95.0L390.1 96.4L390.7 97.8ZM392.4 94.3L391.6 92.8L390.6 91.4L387.7 92.3L388.6 93.6L389.4 95.0ZM399.2 88.4L398.2 87.0L397.1 85.7L394.2 86.7L395.3 88.0L396.3 89.3ZM397.1 85.7L395.9 84.3L394.6 83.0L391.9 84.1L393.1 85.4L394.2 86.7ZM394.6 83.0L393.3 81.8L391.9 80.5L389.3 81.7L390.6 82.9L391.9 84.1ZM407.1 97.2L406.5 95.7L405.9 94.2L402.8 94.8L403.4 96.2L403.9 97.7ZM405.9 94.2L405.2 92.7L404.5 91.2L401.4 92.0L402.2 93.4L402.8 94.8ZM404.5 91.2L403.6 89.8L402.7 88.4L399.7 89.2L400.6 90.6L401.4 92.0ZM402.7 88.4L401.7 87.0L400.6 85.6L397.8 86.6L398.8 87.9L399.7 89.2ZM420.8 67.2L419.4 66.0L418.0 64.8L415.4 66.1L416.9 67.2L418.2 68.4ZM424.6 67.0L423.2 65.8L421.8 64.6L419.2 65.8L420.6 67.0L422.0 68.2ZM368.0 41.1L365.7 40.7L363.4 40.3L362.4 42.2L364.7 42.6L366.9 43.0ZM363.4 40.3L361.1 39.9L358.7 39.6L357.9 41.5L360.2 41.8L362.4 42.2Z"/><path fill="#CCE000" stroke="#CCE000" stroke-width="0.25" d="M355.8 77.2L353.5 76.5L351.2 76.0L350.0 77.8L352.2 78.4L354.3 79.0ZM351.2 76.0L348.9 75.5L346.6 75.0L345.6 77.0L347.8 77.4L350.0 77.8ZM346.6 75.0L344.2 74.7L341.7 74.4L341.0 76.3L343.3 76.6L345.6 77.0ZM341.7 74.4L339.3 74.1L336.8 73.9L336.4 75.9L338.7 76.1L341.0 76.3ZM336.8 73.9L334.3 73.8L331.8 73.8L331.7 75.8L334.0 75.8L336.4 75.9ZM360.4 76.4L358.2 75.6L356.0 75.0L354.6 76.8L356.7 77.4L358.7 78.1ZM376.2 81.4L374.5 80.4L372.7 79.3L370.5 80.8L372.2 81.8L373.8 82.9ZM372.7 79.3L370.9 78.3L368.9 77.4L366.9 79.0L368.8 79.9L370.5 80.8ZM368.9 77.4L367.0 76.5L364.9 75.7L363.1 77.4L365.1 78.2L366.9 79.0ZM364.9 75.7L362.8 74.9L360.7 74.2L359.1 75.9L361.1 76.6L363.1 77.4ZM395.8 109.5L395.9 107.9L395.9 106.4L392.7 106.5L392.7 108.0L392.6 109.5ZM395.9 106.4L395.8 104.8L395.6 103.3L392.4 103.6L392.6 105.1L392.7 106.5ZM395.6 103.3L395.3 101.8L394.9 100.2L391.7 100.7L392.1 102.1L392.4 103.6ZM394.9 100.2L394.4 98.7L393.8 97.2L390.7 97.8L391.3 99.2L391.7 100.7ZM390.6 91.4L389.6 90.0L388.5 88.7L385.7 89.7L386.7 91.0L387.7 92.3ZM388.5 88.7L387.3 87.3L386.1 86.0L383.3 87.2L384.6 88.4L385.7 89.7ZM386.1 86.0L384.7 84.8L383.3 83.5L380.7 84.8L382.1 85.9L383.3 87.2ZM383.3 83.5L381.8 82.3L380.2 81.2L377.8 82.5L379.3 83.6L380.7 84.8ZM380.2 81.2L378.6 80.0L376.9 79.0L374.6 80.4L376.2 81.4L377.8 82.5ZM376.9 79.0L375.1 77.9L373.2 76.9L371.1 78.5L372.9 79.4L374.6 80.4ZM373.2 76.9L371.3 76.0L369.4 75.1L367.4 76.7L369.3 77.6L371.1 78.5ZM369.4 75.1L367.4 74.2L365.3 73.4L363.5 75.1L365.5 75.9L367.4 76.7ZM365.3 73.4L363.1 72.7L361.0 72.0L359.4 73.8L361.5 74.4L363.5 75.1ZM356.5 70.7L354.2 70.2L351.9 69.7L350.8 71.6L353.0 72.1L355.2 72.6ZM351.9 69.7L349.5 69.3L347.1 68.9L346.2 70.8L348.5 71.2L350.8 71.6ZM392.1 88.6L391.0 87.2L389.8 85.9L387.0 87.0L388.2 88.2L389.2 89.5ZM389.8 85.9L388.5 84.6L387.1 83.3L384.5 84.5L385.8 85.7L387.0 87.0ZM387.1 83.3L385.7 82.1L384.2 80.9L381.7 82.2L383.1 83.4L384.5 84.5ZM384.2 80.9L382.6 79.8L381.0 78.6L378.6 80.0L380.2 81.1L381.7 82.2ZM381.0 78.6L379.2 77.6L377.5 76.5L375.3 78.0L377.0 79.0L378.6 80.0ZM377.5 76.5L375.6 75.5L373.7 74.6L371.7 76.1L373.5 77.1L375.3 78.0ZM373.7 74.6L371.8 73.6L369.8 72.8L367.9 74.5L369.8 75.3L371.7 76.1ZM369.8 72.8L367.7 72.0L365.6 71.2L363.9 72.9L365.9 73.7L367.9 74.5ZM365.6 71.2L363.4 70.5L361.2 69.8L359.8 71.6L361.9 72.2L363.9 72.9ZM361.2 69.8L359.0 69.2L356.7 68.6L355.5 70.5L357.6 71.0L359.8 71.6ZM381.6 76.1L379.8 75.1L378.0 74.1L375.9 75.6L377.6 76.6L379.3 77.6ZM378.0 74.1L376.1 73.1L374.2 72.2L372.2 73.8L374.1 74.7L375.9 75.6ZM421.8 64.6L420.4 63.4L418.9 62.2L416.4 63.6L417.8 64.7L419.2 65.8ZM377.0 43.1L374.8 42.6L372.6 42.1L371.4 43.9L373.5 44.4L375.7 45.0ZM372.6 42.1L370.3 41.6L368.0 41.1L366.9 43.0L369.2 43.5L371.4 43.9Z"/><path fill="#E0A200" stroke="#E0A200" stroke-width="0.25" d="M356.0 75.0L353.8 74.4L351.5 73.9L350.3 75.7L352.4 76.3L354.6 76.8ZM360.7 74.2L358.5 73.5L356.3 72.8L354.9 74.7L357.0 75.3L359.1 75.9ZM356.3 72.8L354.0 72.3L351.7 71.8L350.5 73.7L352.7 74.1L354.9 74.7ZM361.0 72.0L358.8 71.3L356.5 70.7L355.2 72.6L357.3 73.1L359.4 73.8ZM347.1 68.9L344.7 68.6L342.2 68.3L341.6 70.3L343.9 70.5L346.2 70.8ZM342.2 68.3L339.8 68.1L337.3 68.0L336.9 69.9L339.3 70.1L341.6 70.3ZM337.3 68.0L334.8 67.9L332.3 67.8L332.2 69.8L334.5 69.9L336.9 69.9ZM397.2 97.2L396.5 95.7L395.8 94.2L392.8 94.9L393.4 96.3L394.0 97.8ZM395.8 94.2L395.0 92.8L394.1 91.4L391.2 92.2L392.0 93.6L392.8 94.9ZM394.1 91.4L393.2 90.0L392.1 88.6L389.2 89.5L390.2 90.9L391.2 92.2ZM399.2 94.2L398.4 92.8L397.6 91.3L394.6 92.1L395.4 93.5L396.1 94.9ZM397.6 91.3L396.7 89.9L395.7 88.5L392.8 89.4L393.7 90.8L394.6 92.1ZM395.7 88.5L394.6 87.1L393.4 85.8L390.6 86.8L391.7 88.1L392.8 89.4ZM393.4 85.8L392.2 84.5L390.9 83.2L388.2 84.3L389.4 85.6L390.6 86.8ZM390.9 83.2L389.5 81.9L388.1 80.7L385.5 82.0L386.9 83.1L388.2 84.3ZM388.1 80.7L386.6 79.5L385.0 78.3L382.5 79.7L384.1 80.8L385.5 82.0ZM385.0 78.3L383.3 77.2L381.6 76.1L379.3 77.6L381.0 78.6L382.5 79.7ZM405.4 109.5L405.5 107.9L405.5 106.4L402.3 106.5L402.3 108.0L402.2 109.5ZM405.5 106.4L405.4 104.8L405.2 103.3L402.1 103.5L402.2 105.0L402.3 106.5ZM405.2 103.3L405.0 101.7L404.7 100.2L401.5 100.6L401.8 102.1L402.1 103.5ZM404.7 100.2L404.3 98.7L403.8 97.2L400.7 97.7L401.1 99.1L401.5 100.6ZM403.8 97.2L403.2 95.7L402.6 94.2L399.5 94.8L400.1 96.3L400.7 97.7ZM402.6 94.2L401.8 92.7L401.0 91.3L398.0 92.0L398.8 93.4L399.5 94.8ZM401.0 91.3L400.2 89.8L399.2 88.4L396.3 89.3L397.2 90.7L398.0 92.0ZM408.6 109.5L408.7 107.9L408.7 106.4L405.5 106.5L405.5 108.0L405.4 109.5ZM408.7 106.4L408.6 104.8L408.5 103.3L405.3 103.5L405.4 105.0L405.5 106.5ZM408.5 103.3L408.2 101.7L407.9 100.2L404.8 100.6L405.1 102.0L405.3 103.5ZM407.9 100.2L407.5 98.7L407.1 97.2L403.9 97.7L404.4 99.1L404.8 100.6ZM418.0 64.8L416.5 63.7L415.0 62.5L412.5 63.9L414.0 65.0L415.4 66.1ZM381.1 46.5L379.0 45.9L376.8 45.3L375.4 47.1L377.5 47.7L379.6 48.3ZM418.9 62.2L417.3 61.1L415.8 60.0L413.3 61.4L414.9 62.5L416.4 63.6ZM385.7 45.6L383.6 45.0L381.4 44.3L380.0 46.1L382.1 46.8L384.1 47.4ZM381.4 44.3L379.3 43.7L377.0 43.1L375.7 45.0L377.9 45.5L380.0 46.1Z"/><path fill="#E05100" stroke="#E05100" stroke-width="0.25" d="M351.5 73.9L349.1 73.4L346.7 73.0L345.8 74.9L348.0 75.3L350.3 75.7ZM346.7 73.0L344.3 72.6L341.9 72.3L341.2 74.3L343.5 74.6L345.8 74.9ZM351.7 71.8L349.3 71.3L346.9 70.9L346.0 72.9L348.3 73.2L350.5 73.7ZM346.9 70.9L344.5 70.6L342.1 70.3L341.4 72.3L343.7 72.5L346.0 72.9ZM342.1 70.3L339.6 70.1L337.1 70.0L336.7 71.9L339.1 72.1L341.4 72.3ZM399.0 109.5L399.1 107.9L399.1 106.4L395.9 106.5L395.9 108.0L395.8 109.5ZM399.1 106.4L399.0 104.8L398.8 103.3L395.6 103.6L395.8 105.0L395.9 106.5ZM398.8 103.3L398.5 101.7L398.2 100.2L395.0 100.6L395.3 102.1L395.6 103.6ZM398.2 100.2L397.7 98.7L397.2 97.2L394.0 97.8L394.6 99.2L395.0 100.6ZM402.2 109.5L402.3 107.9L402.3 106.4L399.1 106.5L399.1 108.0L399.0 109.5ZM402.3 106.4L402.2 104.8L402.0 103.3L398.8 103.6L399.0 105.0L399.1 106.5ZM402.0 103.3L401.8 101.7L401.4 100.2L398.3 100.6L398.6 102.1L398.8 103.6ZM401.4 100.2L401.0 98.7L400.5 97.2L397.4 97.7L397.8 99.2L398.3 100.6ZM400.5 97.2L399.9 95.7L399.2 94.2L396.1 94.9L396.8 96.3L397.4 97.7ZM415.0 62.5L413.4 61.4L411.8 60.3L409.4 61.7L411.0 62.8L412.5 63.9ZM408.4 58.2L406.7 57.2L404.9 56.2L402.7 57.8L404.5 58.7L406.1 59.7ZM404.9 56.2L403.1 55.3L401.3 54.3L399.2 55.9L401.0 56.8L402.7 57.8ZM389.5 49.3L387.5 48.5L385.4 47.8L383.8 49.6L385.8 50.3L387.8 51.0ZM385.4 47.8L383.3 47.1L381.1 46.5L379.6 48.3L381.7 48.9L383.8 49.6ZM415.8 60.0L414.1 58.9L412.5 57.9L410.2 59.3L411.8 60.3L413.3 61.4ZM409.1 55.8L407.3 54.8L405.5 53.8L403.4 55.4L405.1 56.3L406.8 57.3ZM401.8 52.0L399.9 51.1L398.0 50.2L396.0 51.9L397.9 52.7L399.8 53.6ZM398.0 50.2L396.0 49.4L394.0 48.6L392.2 50.3L394.1 51.1L396.0 51.9ZM389.9 47.1L387.8 46.3L385.7 45.6L384.1 47.4L386.2 48.1L388.2 48.8Z"/><path fill="#E00000" stroke="#E00000" stroke-width="0.25" d="M341.9 72.3L339.4 72.1L337.0 71.9L336.6 73.9L338.9 74.1L341.2 74.3ZM337.0 71.9L334.5 71.9L332.0 71.8L331.8 73.8L334.2 73.8L336.6 73.9ZM337.1 70.0L334.6 69.9L332.2 69.8L332.0 71.8L334.4 71.9L336.7 71.9ZM411.8 60.3L410.1 59.3L408.4 58.2L406.1 59.7L407.8 60.7L409.4 61.7ZM401.3 54.3L399.4 53.4L397.5 52.5L395.5 54.2L397.4 55.0L399.2 55.9ZM397.5 52.5L395.6 51.7L393.6 50.9L391.7 52.5L393.7 53.3L395.5 54.2ZM393.6 50.9L391.6 50.1L389.5 49.3L387.8 51.0L389.8 51.8L391.7 52.5ZM412.5 57.9L410.8 56.8L409.1 55.8L406.8 57.3L408.5 58.3L410.2 59.3ZM405.5 53.8L403.7 52.9L401.8 52.0L399.8 53.6L401.6 54.5L403.4 55.4ZM394.0 48.6L392.0 47.8L389.9 47.1L388.2 48.8L390.2 49.5L392.2 50.3Z"/><path fill="#28E000" stroke="#28E000" stroke-width="0.25" d="M384.9 88.8L383.7 87.5L382.3 86.2L379.7 87.4L380.9 88.6L382.1 89.8ZM356.7 68.6L354.4 68.1L352.1 67.6L351.0 69.5L353.2 70.0L355.5 70.5ZM352.1 67.6L349.7 67.2L347.3 66.8L346.4 68.8L348.7 69.1L351.0 69.5ZM347.3 66.8L344.8 66.5L342.4 66.3L341.8 68.3L344.1 68.5L346.4 68.8ZM342.4 66.3L339.9 66.1L337.5 66.0L337.1 67.9L339.4 68.1L341.8 68.3ZM337.5 66.0L335.0 65.9L332.5 65.8L332.3 67.8L334.7 67.9L337.1 67.9ZM370.1 70.5L368.0 69.7L365.9 69.0L364.3 70.7L366.3 71.4L368.3 72.2ZM365.9 69.0L363.7 68.3L361.5 67.6L360.1 69.5L362.2 70.1L364.3 70.7ZM361.5 67.6L359.2 67.0L356.9 66.5L355.7 68.4L357.9 68.9L360.1 69.5ZM356.9 66.5L354.6 66.0L352.2 65.5L351.2 67.5L353.5 67.9L355.7 68.4ZM352.2 65.5L349.9 65.2L347.4 64.8L346.6 66.8L348.9 67.1L351.2 67.5ZM347.4 64.8L345.0 64.5L342.6 64.3L342.0 66.3L344.3 66.5L346.6 66.8ZM342.6 64.3L340.1 64.1L337.6 64.0L337.2 65.9L339.6 66.1L342.0 66.3ZM337.6 64.0L335.1 63.9L332.6 63.9L332.5 65.8L334.9 65.9L337.2 65.9ZM391.9 80.5L390.5 79.3L388.9 78.1L386.4 79.4L387.9 80.5L389.3 81.7ZM388.9 78.1L387.3 76.9L385.7 75.8L383.3 77.2L384.9 78.3L386.4 79.4ZM385.7 75.8L384.0 74.7L382.2 73.7L380.0 75.2L381.7 76.2L383.3 77.2ZM382.2 73.7L380.4 72.7L378.5 71.7L376.4 73.3L378.2 74.2L380.0 75.2ZM423.5 69.6L422.2 68.4L420.8 67.2L418.2 68.4L419.5 69.6L420.8 70.8ZM427.2 69.4L425.9 68.2L424.6 67.0L422.0 68.2L423.2 69.3L424.5 70.6ZM358.7 39.6L356.4 39.3L354.0 39.0L353.3 41.0L355.6 41.2L357.9 41.5ZM354.0 39.0L351.6 38.8L349.2 38.6L348.6 40.5L351.0 40.7L353.3 41.0ZM349.2 38.6L346.8 38.4L344.4 38.2L344.0 40.2L346.3 40.4L348.6 40.5ZM344.4 38.2L342.0 38.1L339.5 38.0L339.3 40.0L341.6 40.1L344.0 40.2ZM339.5 38.0L337.1 38.0L334.7 38.0L334.5 40.0L336.9 40.0L339.3 40.0ZM339.7 36.0L337.3 36.0L334.8 36.0L334.7 38.0L337.1 38.0L339.4 38.0Z"/><path fill="none" stroke="#000" stroke-opacity="0.55" stroke-width="0.55" d="M370.2 106.6L373.4 106.4M369.7 103.8L372.8 103.3M368.6 101.0L371.7 100.3M367.1 98.3L370.0 97.5M365.0 95.8L367.8 94.8M362.5 93.5L365.1 92.2M359.6 91.3L362.0 89.9M356.3 89.4L358.4 87.8M352.7 87.7L354.5 86.0M348.7 86.3L350.3 84.5M344.6 85.2L345.8 83.3M340.2 84.4L341.0 82.5M335.7 83.9L336.2 82.0M373.5 106.6L376.6 106.4M373.0 103.7L376.1 103.3M372.0 100.9L375.1 100.3M370.5 98.2L373.5 97.4M368.6 95.6L371.5 94.6M366.3 93.2L368.9 92.0M363.5 90.9L366.0 89.6M360.4 88.9L362.6 87.4M356.9 87.1L358.9 85.5M353.1 85.5L354.9 83.8M349.1 84.2L350.5 82.4M344.8 83.1L346.0 81.2M340.4 82.4L341.2 80.4M335.8 81.9L336.3 79.9M376.7 106.6L379.9 106.4M376.2 103.7L379.4 103.3M375.3 100.9L378.4 100.3M373.9 98.1L376.9 97.4M372.1 95.5L375.0 94.6M369.9 93.0L372.7 91.9M367.3 90.6L369.9 89.4M364.4 88.5L366.7 87.1M361.1 86.5L363.2 85.0M357.4 84.8L359.3 83.1M353.5 83.3L355.2 81.5M349.4 82.0L350.8 80.2M345.1 81.1L346.2 79.2M340.6 80.4L341.4 78.4M336.0 79.9L336.5 77.9M379.9 106.6L383.1 106.4M379.4 103.7L382.6 103.3M378.6 100.8L381.7 100.3M377.3 98.0L380.4 97.3M375.6 95.4L378.6 94.5M373.6 92.8L376.4 91.8M371.1 90.4L373.7 89.2M368.3 88.1L370.7 86.8M365.1 86.1L367.4 84.6M361.7 84.2L363.7 82.6M357.9 82.5L359.7 80.9M353.9 81.1L355.5 79.3M349.7 79.9L351.0 78.1M345.3 79.0L346.4 77.1M340.8 78.3L341.6 76.4M336.2 77.9L336.7 75.9M383.1 106.6L386.3 106.4M382.7 103.6L385.9 103.3M381.9 100.8L385.0 100.3M380.7 98.0L383.8 97.3M379.1 95.3L382.1 94.4M377.1 92.7L380.0 91.7M374.8 90.2L377.5 89.0M372.1 87.8L374.7 86.6M369.1 85.7L371.5 84.3M365.8 83.7L368.0 82.2M362.2 81.9L364.2 80.3M358.3 80.3L360.1 78.6M354.3 79.0L355.8 77.2M350.0 77.8L351.2 76.0M345.6 77.0L346.6 75.0M341.0 76.3L341.7 74.4M336.4 75.9L336.8 73.9M386.3 106.6L389.5 106.4M385.9 103.6L389.1 103.3M385.2 100.7L388.3 100.3M384.1 97.9L387.1 97.3M382.6 95.2L385.5 94.4M380.7 92.5L383.6 91.6M378.5 90.0L381.2 88.9M375.9 87.6L378.5 86.4M373.0 85.3L375.5 84.0M369.9 83.2L372.1 81.8M366.4 81.3L368.5 79.8M362.7 79.6L364.6 78.0M358.7 78.1L360.4 76.4M354.6 76.8L356.0 75.0M350.3 75.7L351.5 73.9M345.8 74.9L346.7 73.0M341.2 74.3L341.9 72.3M336.6 73.9L337.0 71.9M389.5 106.5L392.7 106.4M389.2 103.6L392.3 103.3M388.5 100.7L391.6 100.2M387.4 97.9L390.5 97.2M386.0 95.1L389.0 94.3M384.2 92.4L387.1 91.5M382.1 89.8L384.9 88.8M379.7 87.4L382.3 86.2M376.9 85.0L379.4 83.7M373.8 82.9L376.2 81.4M370.5 80.8L372.7 79.3M366.9 79.0L368.9 77.4M363.1 77.4L364.9 75.7M359.1 75.9L360.7 74.2M354.9 74.7L356.3 72.8M350.5 73.7L351.7 71.8M346.0 72.9L346.9 70.9M341.4 72.3L342.1 70.3M336.7 71.9L337.1 70.0M392.7 106.5L395.9 106.4M392.4 103.6L395.6 103.3M391.7 100.7L394.9 100.2M390.7 97.8L393.8 97.2M389.4 95.0L392.4 94.3M387.7 92.3L390.6 91.4M385.7 89.7L388.5 88.7M383.3 87.2L386.1 86.0M380.7 84.8L383.3 83.5M377.8 82.5L380.2 81.2M374.6 80.4L376.9 79.0M371.1 78.5L373.2 76.9M367.4 76.7L369.4 75.1M363.5 75.1L365.3 73.4M359.4 73.8L361.0 72.0M355.2 72.6L356.5 70.7M350.8 71.6L351.9 69.7M346.2 70.8L347.1 68.9M341.6 70.3L342.2 68.3M336.9 69.9L337.3 68.0M395.9 106.5L399.1 106.4M395.6 103.6L398.8 103.3M395.0 100.6L398.2 100.2M394.0 97.8L397.2 97.2M392.8 94.9L395.8 94.2M391.2 92.2L394.1 91.4M389.2 89.5L392.1 88.6M387.0 87.0L389.8 85.9M384.5 84.5L387.1 83.3M381.7 82.2L384.2 80.9M378.6 80.0L381.0 78.6M375.3 78.0L377.5 76.5M371.7 76.1L373.7 74.6M367.9 74.5L369.8 72.8M363.9 72.9L365.6 71.2M359.8 71.6L361.2 69.8M355.5 70.5L356.7 68.6M351.0 69.5L352.1 67.6M346.4 68.8L347.3 66.8M341.8 68.3L342.4 66.3M337.1 67.9L337.5 66.0M399.1 106.5L402.3 106.4M398.8 103.6L402.0 103.3M398.3 100.6L401.4 100.2M397.4 97.7L400.5 97.2M396.1 94.9L399.2 94.2M394.6 92.1L397.6 91.3M392.8 89.4L395.7 88.5M390.6 86.8L393.4 85.8M388.2 84.3L390.9 83.2M385.5 82.0L388.1 80.7M382.5 79.7L385.0 78.3M379.3 77.6L381.6 76.1M375.9 75.6L378.0 74.1M372.2 73.8L374.2 72.2M368.3 72.2L370.1 70.5M364.3 70.7L365.9 69.0M360.1 69.5L361.5 67.6M355.7 68.4L356.9 66.5M351.2 67.5L352.2 65.5M346.6 66.8L347.4 64.8M342.0 66.3L342.6 64.3M337.2 65.9L337.6 64.0M402.3 106.5L405.5 106.4M402.1 103.5L405.2 103.3M401.5 100.6L404.7 100.2M400.7 97.7L403.8 97.2M399.5 94.8L402.6 94.2M398.0 92.0L401.0 91.3M396.3 89.3L399.2 88.4M394.2 86.7L397.1 85.7M391.9 84.1L394.6 83.0M389.3 81.7L391.9 80.5M386.4 79.4L388.9 78.1M383.3 77.2L385.7 75.8M380.0 75.2L382.2 73.7M376.4 73.3L378.5 71.7M372.7 71.5L374.6 69.9M368.7 70.0L370.5 68.2M364.6 68.6L366.2 66.8M360.4 67.3L361.7 65.5M356.0 66.3L357.1 64.4M351.4 65.4L352.4 63.5M346.8 64.7L347.6 62.8M342.2 64.2L342.7 62.3M337.4 64.0L337.8 62.0M405.5 106.5L408.7 106.4M405.3 103.5L408.5 103.3M404.8 100.6L407.9 100.2M403.9 97.7L407.1 97.2M402.8 94.8L405.9 94.2M401.4 92.0L404.5 91.2M399.7 89.2L402.7 88.4M397.8 86.6L400.6 85.6M395.5 84.0L398.3 82.9M393.0 81.5L395.7 80.3M390.3 79.1L392.8 77.9M387.3 76.9L389.7 75.5M384.1 74.8L386.4 73.3M380.6 72.8L382.8 71.3M377.0 71.0L379.0 69.4M373.1 69.3L375.0 67.6M369.1 67.8L370.8 66.0M365.0 66.4L366.5 64.6M360.6 65.2L362.0 63.4M356.2 64.2L357.3 62.3M351.7 63.4L352.6 61.4M347.0 62.7L347.8 60.8M342.3 62.2L342.9 60.3M337.6 62.0L337.9 60.0M408.7 106.5L411.9 106.4M408.5 103.5L411.7 103.3M408.0 100.6L411.2 100.2M407.2 97.6L410.4 97.1M406.2 94.7L409.3 94.1M404.8 91.9L407.9 91.2M403.2 89.1L406.2 88.3M401.3 86.4L404.2 85.5M399.2 83.8L402.0 82.8M396.7 81.3L399.5 80.2M394.1 78.9L396.7 77.7M391.2 76.6L393.7 75.3M388.1 74.4L390.4 73.0M384.7 72.4L387.0 70.9M381.2 70.4L383.3 68.9M377.5 68.7L379.4 67.0M373.6 67.0L375.3 65.3M369.5 65.6L371.1 63.8M365.3 64.2L366.7 62.4M360.9 63.1L362.2 61.2M356.4 62.1L357.5 60.2M351.9 61.3L352.8 59.4M347.2 60.7L348.0 58.7M342.5 60.2L343.0 58.3M337.7 60.0L338.1 58.0M411.9 106.5L415.1 106.4M411.7 103.5L414.9 103.3M411.2 100.5L414.4 100.2M410.5 97.6L413.6 97.1M409.5 94.7L412.6 94.1M408.2 91.8L411.3 91.2M406.6 89.1L409.6 88.3M404.8 86.3L407.7 85.4M402.7 83.7L405.6 82.7M400.4 81.1L403.2 80.0M397.9 78.7L400.5 77.5M395.1 76.3L397.6 75.0M392.0 74.1L394.5 72.7M388.8 72.0L391.1 70.5M385.4 70.0L387.5 68.4M381.7 68.1L383.8 66.5M377.9 66.4L379.8 64.7M373.9 64.8L375.7 63.1M369.8 63.4L371.4 61.6M365.6 62.1L367.0 60.3M361.2 61.0L362.4 59.1M356.7 60.1L357.7 58.1M352.1 59.3L353.0 57.3M347.4 58.7L348.1 56.7M342.7 58.2L343.2 56.3M337.9 58.0L338.3 56.0M415.1 106.5L418.3 106.4M414.9 103.5L418.1 103.3M414.5 100.5L417.7 100.2M413.8 97.6L416.9 97.1M412.8 94.7L415.9 94.1M411.6 91.8L414.6 91.1M410.1 89.0L413.1 88.2M408.3 86.2L411.3 85.4M406.3 83.6L409.2 82.6M404.1 81.0L406.9 79.9M401.6 78.5L404.3 77.3M398.9 76.1L401.5 74.8M396.0 73.8L398.4 72.5M392.8 71.6L395.2 70.2M389.5 69.5L391.7 68.0M385.9 67.6L388.1 66.0M382.2 65.8L384.2 64.2M378.4 64.1L380.2 62.4M374.3 62.6L376.0 60.8M370.1 61.2L371.7 59.4M365.8 60.0L367.2 58.1M361.4 58.9L362.6 57.0M356.9 58.0L357.9 56.1M352.3 57.2L353.1 55.3M347.6 56.6L348.3 54.7M342.9 56.2L343.4 54.3M338.1 56.0L338.4 54.0M418.3 106.5L421.5 106.4M418.1 103.5L421.3 103.3M417.7 100.5L420.9 100.2M417.0 97.5L420.2 97.1M416.1 94.6L419.2 94.1M414.9 91.7L418.0 91.1M413.5 88.9L416.5 88.2M411.8 86.2L414.8 85.3M409.9 83.5L412.8 82.5M407.7 80.8L410.5 79.8M405.3 78.3L408.0 77.2M402.7 75.9L405.3 74.6M399.8 73.5L402.4 72.2M396.8 71.3L399.2 69.9M393.5 69.1L395.8 67.7M390.1 67.1L392.3 65.6M386.5 65.2L388.5 63.7M382.7 63.5L384.6 61.8M378.8 61.9L380.5 60.2M374.7 60.4L376.3 58.6M370.5 59.0L371.9 57.2M366.1 57.8L367.4 56.0M361.7 56.8L362.8 54.9M357.1 55.9L358.1 54.0M352.5 55.2L353.3 53.3M347.8 54.6L348.5 52.7M343.0 54.2L343.5 52.2M338.2 54.0L338.6 52.0M421.5 106.5L424.7 106.4M421.3 103.5L424.5 103.3M420.9 100.5L424.1 100.2M420.3 97.5L423.5 97.1M419.4 94.6L422.5 94.1M418.3 91.7L421.3 91.1M416.9 88.9L419.9 88.1M415.2 86.1L418.2 85.3M413.4 83.4L416.3 82.5M411.3 80.7L414.1 79.7M409.0 78.1L411.7 77.0M406.4 75.6L409.1 74.5M403.7 73.3L406.2 72.0M400.7 71.0L403.2 69.6M397.6 68.8L399.9 67.4M394.2 66.7L396.5 65.2M390.7 64.7L392.8 63.2M387.0 62.9L389.0 61.3M383.1 61.2L385.0 59.5M379.1 59.6L380.9 57.9M375.0 58.2L376.6 56.4M370.7 56.9L372.2 55.1M366.4 55.7L367.7 53.9M361.9 54.7L363.0 52.8M357.3 53.9L358.3 51.9M352.7 53.2L353.5 51.2M348.0 52.6L348.6 50.7M343.2 52.2L343.7 50.2M338.4 52.0L338.7 50.0M424.7 106.5L427.9 106.4M424.6 103.5L427.7 103.3M424.2 100.5L427.4 100.2M423.6 97.5L426.7 97.1M422.7 94.6L425.8 94.1M421.6 91.7L424.7 91.1M420.3 88.8L423.3 88.1M418.7 86.0L421.7 85.2M416.9 83.3L419.8 82.4M414.9 80.6L417.7 79.6M412.6 78.0L415.4 76.9M410.1 75.5L412.9 74.3M407.5 73.0L410.1 71.8M404.6 70.7L407.1 69.4M401.5 68.5L403.9 67.1M398.3 66.3L400.6 64.9M394.8 64.3L397.0 62.8M391.2 62.4L393.3 60.8M387.5 60.6L389.4 59.0M383.6 58.9L385.4 57.2M379.5 57.4L381.2 55.7M375.3 56.0L376.9 54.2M371.0 54.7L372.4 52.9M366.6 53.6L367.9 51.8M362.1 52.7L363.2 50.8M357.5 51.8L358.5 49.9M352.9 51.1L353.7 49.2M348.1 50.6L348.8 48.6M343.4 50.2L343.9 48.2M338.6 50.0L338.9 48.0M427.9 106.5L431.1 106.4M427.8 103.5L431.0 103.3M427.4 100.5L430.6 100.2M426.8 97.5L430.0 97.1M426.0 94.5L429.1 94.1M424.9 91.6L428.0 91.0M423.6 88.8L426.7 88.1M422.1 85.9L425.1 85.2M420.4 83.2L423.3 82.3M418.4 80.5L421.3 79.5M416.2 77.8L419.0 76.8M413.8 75.3L416.6 74.2M411.2 72.8L413.9 71.6M408.4 70.4L411.0 69.2M405.5 68.2L407.9 66.8M402.3 66.0L404.7 64.6M398.9 63.9L401.2 62.4M395.4 61.9L397.6 60.4M391.8 60.0L393.8 58.4M387.9 58.3L389.8 56.6M384.0 56.7L385.7 55.0M379.9 55.2L381.5 53.4M375.6 53.8L377.2 52.0M371.3 52.6L372.7 50.8M366.9 51.5L368.1 49.7M362.3 50.6L363.4 48.7M357.7 49.8L358.7 47.8M353.1 49.1L353.8 47.2M348.3 48.6L349.0 46.6M343.5 48.2L344.0 46.2M338.7 48.0L339.0 46.0M431.1 106.6L434.3 106.5M431.0 103.6L434.2 103.5M430.7 100.7L433.9 100.4M430.1 97.8L433.3 97.5M429.4 94.9L432.5 94.5M428.4 92.1L431.6 91.6M427.3 89.3L430.3 88.7M425.9 86.5L428.9 85.8M424.3 83.8L427.3 83.0M422.5 81.2L425.4 80.3M420.5 78.6L423.4 77.6M418.3 76.0L421.1 75.0M416.0 73.6L418.7 72.5M413.4 71.2L416.0 70.0M410.7 68.9L413.2 67.6M407.7 66.7L410.2 65.3M404.7 64.6L407.0 63.1M401.4 62.5L403.7 61.1M398.0 60.6L400.2 59.1M394.5 58.8L396.5 57.2M390.8 57.1L392.7 55.4M387.0 55.5L388.8 53.8M383.0 54.0L384.7 52.2M379.0 52.6L380.5 50.8M374.8 51.4L376.2 49.5M370.5 50.2L371.8 48.4M366.2 49.2L367.4 47.3M361.8 48.4L362.8 46.4M357.3 47.6L358.1 45.7M352.7 47.0L353.4 45.1M348.1 46.5L348.7 44.6M343.4 46.2L343.9 44.2M338.8 46.0L339.1 44.0M434.3 106.6L437.5 106.5M434.2 103.6L437.4 103.4M433.9 100.7L437.1 100.4M433.4 97.8L436.6 97.4M432.7 94.9L435.8 94.5M431.7 92.1L434.9 91.5M430.6 89.2L433.7 88.6M429.3 86.5L432.3 85.8M427.7 83.7L430.7 83.0M426.0 81.1L428.9 80.2M424.1 78.4L426.9 77.5M421.9 75.9L424.8 74.9M419.6 73.4L422.4 72.3M417.1 71.0L419.8 69.8M414.5 68.6L417.0 67.4M411.6 66.4L414.1 65.1M408.6 64.2L411.0 62.8M405.4 62.1L407.7 60.7M402.1 60.1L404.3 58.6M398.6 58.2L400.7 56.7M395.0 56.5L397.0 54.9M391.3 54.8L393.2 53.1M387.4 53.2L389.2 51.5M383.4 51.8L385.1 50.0M379.3 50.4L380.8 48.6M375.1 49.2L376.5 47.4M370.8 48.1L372.1 46.3M366.4 47.2L367.6 45.3M362.0 46.3L363.0 44.4M357.5 45.6L358.3 43.6M352.9 45.0L353.6 43.0M348.3 44.5L348.9 42.6M343.6 44.2L344.1 42.2M338.9 44.0L339.2 42.0M437.5 106.6L440.7 106.5M437.4 103.6L440.6 103.4M437.1 100.7L440.3 100.4M436.6 97.8L439.8 97.4M435.9 94.9L439.1 94.4M435.0 92.0L438.2 91.5M433.9 89.2L437.0 88.6M432.6 86.4L435.7 85.7M431.1 83.7L434.2 82.9M429.5 81.0L432.4 80.1M427.6 78.3L430.5 77.4M425.5 75.7L428.4 74.7M423.3 73.2L426.0 72.1M420.8 70.8L423.5 69.6M418.2 68.4L420.8 67.2M415.4 66.1L418.0 64.8M412.5 63.9L415.0 62.5M409.4 61.7L411.8 60.3M406.1 59.7L408.4 58.2M402.7 57.8L404.9 56.2M399.2 55.9L401.3 54.3M395.5 54.2L397.5 52.5M391.7 52.5L393.6 50.9M387.8 51.0L389.5 49.3M383.8 49.6L385.4 47.8M379.6 48.3L381.1 46.5M375.4 47.1L376.8 45.3M371.1 46.0L372.3 44.2M366.7 45.1L367.8 43.2M362.2 44.3L363.2 42.3M357.7 43.6L358.5 41.6M353.1 43.0L353.8 41.0M348.5 42.5L349.0 40.6M343.8 42.2L344.2 40.2M339.1 42.0L339.4 40.0M440.7 106.5L443.9 106.5M440.6 103.6L443.8 103.4M440.3 100.7L443.5 100.4M439.9 97.7L443.0 97.4M439.2 94.8L442.3 94.4M438.3 92.0L441.5 91.5M437.3 89.1L440.4 88.6M436.0 86.3L439.1 85.7M434.5 83.6L437.6 82.8M432.9 80.9L435.9 80.0M431.1 78.2L434.0 77.3M429.1 75.6L431.9 74.6M426.9 73.0L429.7 72.0M424.5 70.6L427.2 69.4M422.0 68.2L424.6 67.0M419.2 65.8L421.8 64.6M416.4 63.6L418.9 62.2M413.3 61.4L415.8 60.0M410.2 59.3L412.5 57.9M406.8 57.3L409.1 55.8M403.4 55.4L405.5 53.8M399.8 53.6L401.8 52.0M396.0 51.9L398.0 50.2M392.2 50.3L394.0 48.6M388.2 48.8L389.9 47.1M384.1 47.4L385.7 45.6M380.0 46.1L381.4 44.3M375.7 45.0L377.0 43.1M371.4 43.9L372.6 42.1M366.9 43.0L368.0 41.1M362.4 42.2L363.4 40.3M357.9 41.5L358.7 39.6M353.3 41.0L354.0 39.0M348.6 40.5L349.2 38.6M344.0 40.2L344.4 38.2M339.3 40.0L339.5 38.0M443.9 106.5L447.1 106.5M443.8 103.6L447.0 103.4M443.5 100.7L446.7 100.4M443.1 97.7L446.3 97.4M442.5 94.8L445.6 94.4M441.6 91.9L444.7 91.5M440.6 89.1L443.7 88.5M439.4 86.3L442.4 85.6M437.9 83.5L441.0 82.8M436.3 80.8L439.3 80.0M434.6 78.1L437.5 77.2M432.6 75.5L435.5 74.5M430.5 72.9L433.3 71.9M428.2 70.4L430.9 69.3M425.7 67.9L428.4 66.8M423.0 65.6L425.6 64.3M420.2 63.3L422.8 62.0M417.3 61.1L419.7 59.7M414.1 58.9L416.5 57.5M410.9 56.9L413.2 55.4M407.5 54.9L409.7 53.4M404.0 53.1L406.0 51.5M400.3 51.3L402.3 49.7M396.5 49.6L398.4 48.0M392.6 48.1L394.4 46.3M388.6 46.6L390.3 44.8M384.5 45.2L386.0 43.5M380.3 44.0L381.7 42.2M376.0 42.9L377.3 41.0M371.6 41.8L372.8 40.0M367.2 40.9L368.2 39.0M362.7 40.2L363.6 38.2M358.1 39.5L358.9 37.5M353.5 38.9L354.2 37.0M348.8 38.5L349.4 36.5M344.1 38.2L344.6 36.2M339.4 38.0L339.7 36.0M447.1 107.0L453.0 106.9M447.0 104.5L452.9 104.2M446.9 102.0L452.8 101.6M446.6 99.5L452.5 99.0M446.2 97.0L452.1 96.4M445.6 94.5L451.5 93.8M444.9 92.1L450.7 91.2M444.1 89.7L449.9 88.7M443.2 87.3L448.9 86.1M442.1 84.9L447.7 83.6M440.8 82.5L446.4 81.2M439.5 80.2L445.0 78.7M438.0 77.9L443.4 76.3M436.4 75.7L441.8 74.0M434.6 73.5L439.9 71.7M432.8 71.3L438.0 69.4M430.8 69.2L435.9 67.2M428.7 67.1L433.7 65.0M426.5 65.1L431.4 62.9M424.2 63.1L428.9 60.8M421.7 61.2L426.4 58.8M419.2 59.3L423.7 56.8M416.5 57.5L420.9 54.9M413.8 55.8L418.0 53.1M410.9 54.1L415.0 51.3M407.9 52.5L411.9 49.6M404.9 50.9L408.7 48.0M401.8 49.4L405.4 46.4M398.6 48.0L402.0 45.0M395.3 46.7L398.6 43.5M391.9 45.4L395.0 42.2M388.4 44.2L391.4 41.0M384.9 43.1L387.7 39.8M381.3 42.1L384.0 38.7M377.7 41.1L380.1 37.7M374.0 40.2L376.2 36.8M370.2 39.4L372.3 35.9M366.4 38.7L368.3 35.2M362.6 38.1L364.3 34.5M358.7 37.5L360.2 33.9M354.8 37.0L356.1 33.4M350.8 36.7L351.9 33.0M346.9 36.4L347.8 32.7M342.9 36.2L343.6 32.5M338.9 36.0L339.4 32.3M452.9 107.0L458.9 106.9M453.0 104.6L458.9 104.3M452.8 102.1L458.7 101.7M452.6 99.6L458.5 99.2M452.2 97.2L458.1 96.6M451.7 94.7L457.5 94.0M451.1 92.3L456.9 91.5M450.3 89.9L456.1 89.0M449.4 87.5L455.2 86.5M448.4 85.2L454.1 84.0M447.3 82.8L452.9 81.6M446.1 80.5L451.6 79.2M444.7 78.3L450.2 76.8M443.2 76.0L448.7 74.4M441.6 73.8L447.0 72.1M439.9 71.6L445.2 69.8M438.1 69.5L443.3 67.6M436.1 67.4L441.2 65.4M434.1 65.3L439.1 63.2M431.9 63.3L436.8 61.1M429.6 61.4L434.4 59.1M427.3 59.5L431.9 57.1M424.8 57.6L429.3 55.1M422.2 55.8L426.6 53.2M419.5 54.0L423.9 51.4M416.8 52.4L421.0 49.6M413.9 50.7L418.0 47.9M411.0 49.1L414.9 46.3M408.0 47.6L411.7 44.7M404.9 46.2L408.5 43.2M401.7 44.8L405.1 41.7M398.4 43.5L401.7 40.3M395.1 42.2L398.2 39.0M391.7 41.1L394.7 37.8M388.2 39.9L391.1 36.6M384.7 38.9L387.4 35.5M381.1 37.9L383.6 34.5M377.5 37.1L379.8 33.6M373.8 36.2L376.0 32.7M370.1 35.5L372.1 32.0M366.3 34.8L368.1 31.3M362.5 34.2L364.1 30.7M358.7 33.7L360.1 30.1M354.8 33.3L356.0 29.7M350.9 32.9L352.0 29.3M347.0 32.7L347.8 29.0M343.1 32.5L343.7 28.8M339.1 32.3L339.6 28.7M458.8 107.0L464.8 106.9M458.9 104.5L464.8 104.3M458.8 102.0L464.6 101.7M458.5 99.6L464.4 99.1M458.2 97.1L464.0 96.5M457.7 94.6L463.5 94.0M457.1 92.2L462.9 91.4M456.4 89.8L462.2 88.9M455.5 87.4L461.3 86.4M454.6 85.0L460.3 83.9M453.5 82.6L459.1 81.4M452.3 80.3L457.9 79.0M451.0 78.0L456.5 76.5M449.5 75.7L455.0 74.2M448.0 73.5L453.4 71.8M446.3 71.2L451.6 69.5M444.5 69.1L449.8 67.2M442.7 66.9L447.8 65.0M440.7 64.8L445.8 62.8M438.6 62.8L443.6 60.7M436.4 60.8L441.3 58.5M434.1 58.8L438.9 56.5M431.7 56.9L436.4 54.5M429.2 55.0L433.7 52.5M426.6 53.2L431.0 50.6M423.9 51.4L428.2 48.8M421.1 49.7L425.3 47.0M418.3 48.1L422.3 45.3M415.3 46.5L419.2 43.6M412.3 45.0L416.1 42.0M409.2 43.5L412.8 40.5M406.0 42.1L409.5 39.0M402.7 40.7L406.1 37.6M399.4 39.5L402.6 36.3M396.0 38.3L399.1 35.0M392.6 37.1L395.5 33.8M389.1 36.0L391.8 32.7M385.5 35.0L388.0 31.6M381.8 34.1L384.2 30.7M378.2 33.2L380.4 29.8M374.4 32.4L376.5 28.9M370.7 31.7L372.6 28.2M366.9 31.1L368.6 27.5M363.0 30.5L364.6 26.9M359.1 30.0L360.5 26.4M355.2 29.6L356.4 26.0M351.3 29.2L352.3 25.6M347.4 29.0L348.2 25.3M343.4 28.8L344.1 25.1M339.4 28.7L339.9 25.0M464.7 107.0L470.6 106.9M464.8 104.5L470.7 104.3M464.7 102.0L470.6 101.7M464.5 99.5L470.3 99.1M464.1 97.0L470.0 96.5M463.7 94.5L469.5 93.9M463.1 92.1L468.9 91.3M462.4 89.6L468.2 88.8M461.6 87.2L467.3 86.2M460.7 84.8L466.4 83.7M459.6 82.4L465.3 81.2M458.5 80.1L464.1 78.8M457.2 77.7L462.8 76.3M455.8 75.4L461.3 73.9M454.3 73.1L459.8 71.6M452.7 70.9L458.1 69.2M451.0 68.7L456.3 66.9M449.2 66.5L454.4 64.6M447.3 64.4L452.4 62.4M445.2 62.3L450.3 60.2M443.1 60.2L448.1 58.1M440.9 58.2L445.7 56.0M438.5 56.2L443.3 53.9M436.1 54.3L440.8 51.9M433.6 52.4L438.1 50.0M431.0 50.6L435.4 48.0M428.3 48.8L432.6 46.2M425.5 47.1L429.7 44.4M422.6 45.5L426.7 42.7M419.7 43.8L423.6 41.0M416.6 42.3L420.4 39.4M413.5 40.8L417.2 37.8M410.3 39.4L413.9 36.3M407.1 38.0L410.5 34.9M403.7 36.7L407.0 33.5M400.4 35.5L403.5 32.2M396.9 34.3L399.8 31.0M393.4 33.2L396.2 29.9M389.8 32.1L392.5 28.8M386.2 31.2L388.7 27.7M382.5 30.2L384.8 26.8M378.8 29.4L381.0 25.9M375.0 28.6L377.0 25.1M371.2 27.9L373.1 24.4M367.4 27.3L369.0 23.7M363.5 26.8L365.0 23.2M359.6 26.3L360.9 22.7M355.7 25.9L356.8 22.2M351.7 25.5L352.7 21.9M347.7 25.3L348.5 21.6M343.7 25.1L344.4 21.4M339.7 25.0L340.2 21.3M470.6 107.0L476.5 106.9M470.7 104.5L476.6 104.3M470.6 102.0L476.5 101.6M470.4 99.4L476.3 99.0M470.1 96.9L475.9 96.4M469.6 94.5L475.5 93.8M469.1 92.0L474.9 91.2M468.4 89.5L474.2 88.7M467.6 87.1L473.4 86.1M466.7 84.6L472.5 83.6M465.7 82.2L471.4 81.1M464.6 79.9L470.3 78.6M463.4 77.5L469.0 76.2M462.1 75.2L467.6 73.7M460.6 72.9L466.1 71.3M459.1 70.6L464.5 69.0M457.4 68.3L462.8 66.6M455.7 66.1L460.9 64.3M453.8 63.9L459.0 62.0M451.8 61.8L456.9 59.8M449.8 59.7L454.8 57.6M447.6 57.6L452.5 55.5M445.3 55.6L450.2 53.4M443.0 53.7L447.7 51.3M440.5 51.7L445.2 49.3M438.0 49.8L442.5 47.4M435.4 48.0L439.8 45.5M432.6 46.2L437.0 43.6M429.8 44.5L434.0 41.8M427.0 42.8L431.0 40.0M424.0 41.2L428.0 38.4M421.0 39.6L424.8 36.7M417.8 38.1L421.5 35.2M414.7 36.7L418.2 33.6M411.4 35.3L414.8 32.2M408.1 33.9L411.4 30.8M404.7 32.7L407.8 29.5M401.2 31.5L404.2 28.2M397.7 30.3L400.6 27.0M394.2 29.2L396.9 25.9M390.5 28.2L393.1 24.8M386.9 27.3L389.3 23.9M383.2 26.4L385.4 22.9M379.4 25.6L381.5 22.1M375.6 24.8L377.5 21.3M371.8 24.2L373.5 20.6M367.9 23.6L369.5 20.0M364.0 23.0L365.4 19.4M360.0 22.6L361.3 18.9M356.1 22.2L357.2 18.5M352.1 21.9L353.1 18.2M348.1 21.6L348.9 17.9M344.1 21.4L344.7 17.7M340.0 21.3L340.5 17.6M370.3 109.5L370.3 108.1L370.2 106.6L370.0 105.2L369.7 103.8L369.2 102.4L368.6 101.0L367.9 99.7L367.1 98.3L366.1 97.1L365.0 95.8L363.8 94.6L362.5 93.5L361.1 92.4L359.6 91.3L358.0 90.3L356.3 89.4L354.5 88.5L352.7 87.7L350.8 87.0L348.7 86.3L346.7 85.7L344.6 85.2L342.4 84.8L340.2 84.4L337.9 84.1L335.7 83.9L333.4 83.8L331.0 83.8M373.5 109.5L373.5 108.0L373.5 106.6L373.3 105.2L373.0 103.7L372.5 102.3L372.0 100.9L371.3 99.6L370.5 98.2L369.6 96.9L368.6 95.6L367.5 94.4L366.3 93.2L364.9 92.1L363.5 90.9L362.0 89.9L360.4 88.9L358.7 88.0L356.9 87.1L355.1 86.2L353.1 85.5L351.1 84.8L349.1 84.2L347.0 83.6L344.8 83.1L342.6 82.7L340.4 82.4L338.1 82.1L335.8 81.9L333.5 81.8L331.2 81.8M376.7 109.5L376.7 108.0L376.7 106.6L376.5 105.1L376.2 103.7L375.8 102.3L375.3 100.9L374.7 99.5L373.9 98.1L373.1 96.8L372.1 95.5L371.1 94.2L369.9 93.0L368.7 91.8L367.3 90.6L365.9 89.5L364.4 88.5L362.8 87.5L361.1 86.5L359.3 85.6L357.4 84.8L355.5 84.0L353.5 83.3L351.5 82.6L349.4 82.0L347.3 81.5L345.1 81.1L342.9 80.7L340.6 80.4L338.3 80.1L336.0 79.9L333.7 79.8L331.4 79.8M379.9 109.5L379.9 108.0L379.9 106.6L379.7 105.1L379.4 103.7L379.1 102.2L378.6 100.8L378.0 99.4L377.3 98.0L376.5 96.7L375.6 95.4L374.7 94.1L373.6 92.8L372.4 91.6L371.1 90.4L369.7 89.2L368.3 88.1L366.7 87.1L365.1 86.1L363.4 85.1L361.7 84.2L359.8 83.3L357.9 82.5L355.9 81.8L353.9 81.1L351.8 80.5L349.7 79.9L347.5 79.4L345.3 79.0L343.1 78.6L340.8 78.3L338.5 78.1L336.2 77.9L333.9 77.8L331.5 77.8M383.0 109.5L383.1 108.0L383.1 106.6L382.9 105.1L382.7 103.6L382.3 102.2L381.9 100.8L381.4 99.4L380.7 98.0L380.0 96.6L379.1 95.3L378.2 93.9L377.1 92.7L376.0 91.4L374.8 90.2L373.5 89.0L372.1 87.8L370.7 86.7L369.1 85.7L367.5 84.7L365.8 83.7L364.0 82.8L362.2 81.9L360.3 81.1L358.3 80.3L356.3 79.6L354.3 79.0L352.2 78.4L350.0 77.8L347.8 77.4L345.6 77.0L343.3 76.6L341.0 76.3L338.7 76.1L336.4 75.9L334.0 75.8L331.7 75.8M386.2 109.5L386.3 108.0L386.3 106.6L386.2 105.1L385.9 103.6L385.6 102.2L385.2 100.7L384.7 99.3L384.1 97.9L383.4 96.5L382.6 95.2L381.7 93.8L380.7 92.5L379.6 91.2L378.5 90.0L377.2 88.8L375.9 87.6L374.5 86.4L373.0 85.3L371.5 84.3L369.9 83.2L368.2 82.3L366.4 81.3L364.6 80.5L362.7 79.6L360.7 78.8L358.7 78.1L356.7 77.4L354.6 76.8L352.4 76.3L350.3 75.7L348.0 75.3L345.8 74.9L343.5 74.6L341.2 74.3L338.9 74.1L336.6 73.9L334.2 73.8L331.8 73.8M389.4 109.5L389.5 108.0L389.5 106.5L389.4 105.1L389.2 103.6L388.9 102.1L388.5 100.7L388.0 99.3L387.4 97.9L386.7 96.5L386.0 95.1L385.1 93.7L384.2 92.4L383.2 91.1L382.1 89.8L380.9 88.6L379.7 87.4L378.3 86.2L376.9 85.0L375.4 83.9L373.8 82.9L372.2 81.8L370.5 80.8L368.8 79.9L366.9 79.0L365.1 78.2L363.1 77.4L361.1 76.6L359.1 75.9L357.0 75.3L354.9 74.7L352.7 74.1L350.5 73.7L348.3 73.2L346.0 72.9L343.7 72.5L341.4 72.3L339.1 72.1L336.7 71.9L334.4 71.9L332.0 71.8M392.6 109.5L392.7 108.0L392.7 106.5L392.6 105.1L392.4 103.6L392.1 102.1L391.7 100.7L391.3 99.2L390.7 97.8L390.1 96.4L389.4 95.0L388.6 93.6L387.7 92.3L386.7 91.0L385.7 89.7L384.6 88.4L383.3 87.2L382.1 85.9L380.7 84.8L379.3 83.6L377.8 82.5L376.2 81.4L374.6 80.4L372.9 79.4L371.1 78.5L369.3 77.6L367.4 76.7L365.5 75.9L363.5 75.1L361.5 74.4L359.4 73.8L357.3 73.1L355.2 72.6L353.0 72.1L350.8 71.6L348.5 71.2L346.2 70.8L343.9 70.5L341.6 70.3L339.3 70.1L336.9 69.9L334.5 69.9L332.2 69.8M395.8 109.5L395.9 108.0L395.9 106.5L395.8 105.0L395.6 103.6L395.3 102.1L395.0 100.6L394.6 99.2L394.0 97.8L393.4 96.3L392.8 94.9L392.0 93.6L391.2 92.2L390.2 90.9L389.2 89.5L388.2 88.2L387.0 87.0L385.8 85.7L384.5 84.5L383.1 83.4L381.7 82.2L380.2 81.1L378.6 80.0L377.0 79.0L375.3 78.0L373.5 77.1L371.7 76.1L369.8 75.3L367.9 74.5L365.9 73.7L363.9 72.9L361.9 72.2L359.8 71.6L357.6 71.0L355.5 70.5L353.2 70.0L351.0 69.5L348.7 69.1L346.4 68.8L344.1 68.5L341.8 68.3L339.4 68.1L337.1 67.9L334.7 67.9L332.3 67.8M399.0 109.5L399.1 108.0L399.1 106.5L399.0 105.0L398.8 103.6L398.6 102.1L398.3 100.6L397.8 99.2L397.4 97.7L396.8 96.3L396.1 94.9L395.4 93.5L394.6 92.1L393.7 90.8L392.8 89.4L391.7 88.1L390.6 86.8L389.4 85.6L388.2 84.3L386.9 83.1L385.5 82.0L384.1 80.8L382.5 79.7L381.0 78.6L379.3 77.6L377.6 76.6L375.9 75.6L374.1 74.7L372.2 73.8L370.3 73.0L368.3 72.2L366.3 71.4L364.3 70.7L362.2 70.1L360.1 69.5L357.9 68.9L355.7 68.4L353.5 67.9L351.2 67.5L348.9 67.1L346.6 66.8L344.3 66.5L342.0 66.3L339.6 66.1L337.2 65.9L334.9 65.9L332.5 65.8M402.2 109.5L402.3 108.0L402.3 106.5L402.2 105.0L402.1 103.5L401.8 102.1L401.5 100.6L401.1 99.1L400.7 97.7L400.1 96.3L399.5 94.8L398.8 93.4L398.0 92.0L397.2 90.7L396.3 89.3L395.3 88.0L394.2 86.7L393.1 85.4L391.9 84.1L390.6 82.9L389.3 81.7L387.9 80.5L386.4 79.4L384.9 78.3L383.3 77.2L381.7 76.2L380.0 75.2L378.2 74.2L376.4 73.3L374.6 72.4L372.7 71.5L370.7 70.7L368.7 70.0L366.7 69.2L364.6 68.6L362.5 67.9L360.4 67.3L358.2 66.8L356.0 66.3L353.7 65.8L351.4 65.4L349.2 65.0L346.8 64.7L344.5 64.5L342.2 64.2L339.8 64.1L337.4 64.0L335.0 63.9L332.6 63.9M405.4 109.5L405.5 108.0L405.5 106.5L405.4 105.0L405.3 103.5L405.1 102.0L404.8 100.6L404.4 99.1L403.9 97.7L403.4 96.2L402.8 94.8L402.2 93.4L401.4 92.0L400.6 90.6L399.7 89.2L398.8 87.9L397.8 86.6L396.7 85.3L395.5 84.0L394.3 82.7L393.0 81.5L391.7 80.3L390.3 79.1L388.8 78.0L387.3 76.9L385.7 75.8L384.1 74.8L382.4 73.8L380.6 72.8L378.8 71.9L377.0 71.0L375.1 70.1L373.1 69.3L371.1 68.5L369.1 67.8L367.1 67.1L365.0 66.4L362.8 65.8L360.6 65.2L358.4 64.7L356.2 64.2L353.9 63.8L351.7 63.4L349.4 63.0L347.0 62.7L344.7 62.5L342.3 62.2L340.0 62.1L337.6 62.0L335.2 61.9L332.8 61.9M408.6 109.5L408.7 108.0L408.7 106.5L408.6 105.0L408.5 103.5L408.3 102.0L408.0 100.6L407.7 99.1L407.2 97.6L406.7 96.2L406.2 94.7L405.5 93.3L404.8 91.9L404.0 90.5L403.2 89.1L402.3 87.8L401.3 86.4L400.3 85.1L399.2 83.8L398.0 82.6L396.7 81.3L395.4 80.1L394.1 78.9L392.7 77.7L391.2 76.6L389.7 75.5L388.1 74.4L386.4 73.4L384.7 72.4L383.0 71.4L381.2 70.4L379.3 69.5L377.5 68.7L375.5 67.8L373.6 67.0L371.5 66.3L369.5 65.6L367.4 64.9L365.3 64.2L363.1 63.7L360.9 63.1L358.7 62.6L356.4 62.1L354.2 61.7L351.9 61.3L349.6 61.0L347.2 60.7L344.9 60.4L342.5 60.2L340.1 60.1L337.7 60.0L335.3 59.9L332.9 59.9M411.8 109.5L411.9 108.0L411.9 106.5L411.8 105.0L411.7 103.5L411.5 102.0L411.2 100.5L410.9 99.1L410.5 97.6L410.0 96.1L409.5 94.7L408.9 93.3L408.2 91.8L407.5 90.4L406.6 89.1L405.8 87.7L404.8 86.3L403.8 85.0L402.7 83.7L401.6 82.4L400.4 81.1L399.2 79.9L397.9 78.7L396.5 77.5L395.1 76.3L393.6 75.2L392.0 74.1L390.4 73.0L388.8 72.0L387.1 70.9L385.4 70.0L383.6 69.0L381.7 68.1L379.8 67.2L377.9 66.4L376.0 65.6L373.9 64.8L371.9 64.1L369.8 63.4L367.7 62.7L365.6 62.1L363.4 61.5L361.2 61.0L358.9 60.5L356.7 60.1L354.4 59.6L352.1 59.3L349.8 58.9L347.4 58.7L345.1 58.4L342.7 58.2L340.3 58.1L337.9 58.0L335.5 57.9L333.1 57.9M415.0 109.5L415.1 108.0L415.1 106.5L415.0 105.0L414.9 103.5L414.7 102.0L414.5 100.5L414.2 99.0L413.8 97.6L413.3 96.1L412.8 94.7L412.2 93.2L411.6 91.8L410.8 90.4L410.1 89.0L409.2 87.6L408.3 86.2L407.3 84.9L406.3 83.6L405.2 82.3L404.1 81.0L402.9 79.7L401.6 78.5L400.3 77.3L398.9 76.1L397.4 74.9L396.0 73.8L394.4 72.7L392.8 71.6L391.2 70.5L389.5 69.5L387.7 68.5L385.9 67.6L384.1 66.7L382.2 65.8L380.3 64.9L378.4 64.1L376.4 63.3L374.3 62.6L372.2 61.9L370.1 61.2L368.0 60.6L365.8 60.0L363.6 59.4L361.4 58.9L359.2 58.4L356.9 58.0L354.6 57.6L352.3 57.2L350.0 56.9L347.6 56.6L345.2 56.4L342.9 56.2L340.5 56.1L338.1 56.0L335.7 55.9L333.3 55.9M418.2 109.5L418.3 108.0L418.3 106.5L418.2 105.0L418.1 103.5L418.0 102.0L417.7 100.5L417.4 99.0L417.0 97.5L416.6 96.1L416.1 94.6L415.5 93.2L414.9 91.7L414.2 90.3L413.5 88.9L412.7 87.5L411.8 86.2L410.9 84.8L409.9 83.5L408.8 82.1L407.7 80.8L406.5 79.6L405.3 78.3L404.0 77.1L402.7 75.9L401.3 74.7L399.8 73.5L398.3 72.4L396.8 71.3L395.2 70.2L393.5 69.1L391.8 68.1L390.1 67.1L388.3 66.2L386.5 65.2L384.6 64.3L382.7 63.5L380.7 62.7L378.8 61.9L376.7 61.1L374.7 60.4L372.6 59.7L370.5 59.0L368.3 58.4L366.1 57.8L363.9 57.3L361.7 56.8L359.4 56.3L357.1 55.9L354.8 55.5L352.5 55.2L350.1 54.9L347.8 54.6L345.4 54.4L343.0 54.2L340.6 54.1L338.2 54.0L335.8 53.9L333.4 53.9M421.4 109.5L421.5 108.0L421.5 106.5L421.4 105.0L421.3 103.5L421.2 102.0L420.9 100.5L420.7 99.0L420.3 97.5L419.9 96.1L419.4 94.6L418.9 93.1L418.3 91.7L417.6 90.3L416.9 88.9L416.1 87.5L415.2 86.1L414.3 84.7L413.4 83.4L412.4 82.0L411.3 80.7L410.1 79.4L409.0 78.1L407.7 76.9L406.4 75.6L405.1 74.4L403.7 73.3L402.2 72.1L400.7 71.0L399.2 69.9L397.6 68.8L395.9 67.7L394.2 66.7L392.5 65.7L390.7 64.7L388.9 63.8L387.0 62.9L385.1 62.0L383.1 61.2L381.2 60.4L379.1 59.6L377.1 58.9L375.0 58.2L372.9 57.5L370.7 56.9L368.6 56.3L366.4 55.7L364.1 55.2L361.9 54.7L359.6 54.3L357.3 53.9L355.0 53.5L352.7 53.2L350.3 52.9L348.0 52.6L345.6 52.4L343.2 52.2L340.8 52.1L338.4 52.0L336.0 51.9L333.6 51.9M424.6 109.5L424.7 108.0L424.7 106.5L424.6 105.0L424.6 103.5L424.4 102.0L424.2 100.5L423.9 99.0L423.6 97.5L423.2 96.0L422.7 94.6L422.2 93.1L421.6 91.7L421.0 90.2L420.3 88.8L419.5 87.4L418.7 86.0L417.8 84.6L416.9 83.3L415.9 81.9L414.9 80.6L413.8 79.3L412.6 78.0L411.4 76.7L410.1 75.5L408.8 74.2L407.5 73.0L406.1 71.8L404.6 70.7L403.1 69.6L401.5 68.5L399.9 67.4L398.3 66.3L396.6 65.3L394.8 64.3L393.1 63.3L391.2 62.4L389.4 61.5L387.5 60.6L385.5 59.8L383.6 58.9L381.6 58.2L379.5 57.4L377.4 56.7L375.3 56.0L373.2 55.4L371.0 54.7L368.8 54.2L366.6 53.6L364.4 53.1L362.1 52.7L359.8 52.2L357.5 51.8L355.2 51.5L352.9 51.1L350.5 50.9L348.1 50.6L345.8 50.4L343.4 50.2L341.0 50.1L338.6 50.0L336.2 49.9L333.7 49.9M427.8 109.5L427.8 108.0L427.9 106.5L427.9 105.0L427.8 103.5L427.6 102.0L427.4 100.5L427.1 99.0L426.8 97.5L426.4 96.0L426.0 94.5L425.5 93.1L424.9 91.6L424.3 90.2L423.6 88.8L422.9 87.3L422.1 85.9L421.3 84.5L420.4 83.2L419.4 81.8L418.4 80.5L417.3 79.2L416.2 77.8L415.1 76.6L413.8 75.3L412.6 74.0L411.2 72.8L409.9 71.6L408.4 70.4L407.0 69.3L405.5 68.2L403.9 67.0L402.3 66.0L400.6 64.9L398.9 63.9L397.2 62.9L395.4 61.9L393.6 61.0L391.8 60.0L389.9 59.2L387.9 58.3L386.0 57.5L384.0 56.7L381.9 55.9L379.9 55.2L377.8 54.5L375.6 53.8L373.5 53.2L371.3 52.6L369.1 52.1L366.9 51.5L364.6 51.0L362.3 50.6L360.1 50.2L357.7 49.8L355.4 49.4L353.1 49.1L350.7 48.8L348.3 48.6L345.9 48.4L343.5 48.2L341.1 48.1L338.7 48.0L336.3 47.9L333.9 47.9M431.0 109.5L431.0 108.0L431.1 106.6L431.1 105.1L431.0 103.6L430.9 102.2L430.7 100.7L430.4 99.3L430.1 97.8L429.8 96.4L429.4 94.9L428.9 93.5L428.4 92.1L427.9 90.7L427.3 89.3L426.6 87.9L425.9 86.5L425.1 85.2L424.3 83.8L423.4 82.5L422.5 81.2L421.5 79.9L420.5 78.6L419.5 77.3L418.3 76.0L417.2 74.8L416.0 73.6L414.7 72.4L413.4 71.2L412.1 70.0L410.7 68.9L409.2 67.8L407.7 66.7L406.2 65.6L404.7 64.6L403.1 63.5L401.4 62.5L399.7 61.5L398.0 60.6L396.3 59.7L394.5 58.8L392.6 57.9L390.8 57.1L388.9 56.2L387.0 55.5L385.0 54.7L383.0 54.0L381.0 53.3L379.0 52.6L376.9 52.0L374.8 51.4L372.7 50.8L370.5 50.2L368.4 49.7L366.2 49.2L364.0 48.8L361.8 48.4L359.5 48.0L357.3 47.6L355.0 47.3L352.7 47.0L350.4 46.8L348.1 46.5L345.8 46.4L343.4 46.2L341.1 46.1L338.8 46.0L336.4 46.0L334.0 45.9M434.1 109.5L434.2 108.0L434.3 106.6L434.3 105.1L434.2 103.6L434.1 102.2L433.9 100.7L433.7 99.2L433.4 97.8L433.1 96.4L432.7 94.9L432.2 93.5L431.7 92.1L431.2 90.6L430.6 89.2L430.0 87.8L429.3 86.5L428.5 85.1L427.7 83.7L426.9 82.4L426.0 81.1L425.0 79.7L424.1 78.4L423.0 77.1L421.9 75.9L420.8 74.6L419.6 73.4L418.4 72.2L417.1 71.0L415.8 69.8L414.5 68.6L413.1 67.5L411.6 66.4L410.1 65.3L408.6 64.2L407.0 63.1L405.4 62.1L403.8 61.1L402.1 60.1L400.4 59.2L398.6 58.2L396.8 57.3L395.0 56.5L393.2 55.6L391.3 54.8L389.3 54.0L387.4 53.2L385.4 52.5L383.4 51.8L381.4 51.1L379.3 50.4L377.2 49.8L375.1 49.2L373.0 48.7L370.8 48.1L368.6 47.6L366.4 47.2L364.2 46.7L362.0 46.3L359.7 45.9L357.5 45.6L355.2 45.3L352.9 45.0L350.6 44.8L348.3 44.5L345.9 44.4L343.6 44.2L341.3 44.1L338.9 44.0L336.6 44.0L334.2 43.9M437.3 109.5L437.4 108.0L437.5 106.6L437.5 105.1L437.4 103.6L437.3 102.1L437.1 100.7L436.9 99.2L436.6 97.8L436.3 96.3L435.9 94.9L435.5 93.4L435.0 92.0L434.5 90.6L433.9 89.2L433.3 87.8L432.6 86.4L431.9 85.0L431.1 83.7L430.3 82.3L429.5 81.0L428.5 79.6L427.6 78.3L426.6 77.0L425.5 75.7L424.4 74.5L423.3 73.2L422.1 72.0L420.8 70.8L419.5 69.6L418.2 68.4L416.9 67.2L415.4 66.1L414.0 65.0L412.5 63.9L411.0 62.8L409.4 61.7L407.8 60.7L406.1 59.7L404.5 58.7L402.7 57.8L401.0 56.8L399.2 55.9L397.4 55.0L395.5 54.2L393.7 53.3L391.7 52.5L389.8 51.8L387.8 51.0L385.8 50.3L383.8 49.6L381.7 48.9L379.6 48.3L377.5 47.7L375.4 47.1L373.3 46.5L371.1 46.0L368.9 45.5L366.7 45.1L364.5 44.7L362.2 44.3L360.0 43.9L357.7 43.6L355.4 43.3L353.1 43.0L350.8 42.7L348.5 42.5L346.1 42.4L343.8 42.2L341.4 42.1L339.1 42.0L336.7 42.0L334.4 42.0M440.5 109.5L440.6 108.0L440.7 106.5L440.7 105.1L440.6 103.6L440.5 102.1L440.3 100.7L440.1 99.2L439.9 97.7L439.6 96.3L439.2 94.8L438.8 93.4L438.3 92.0L437.8 90.6L437.3 89.1L436.7 87.7L436.0 86.3L435.3 84.9L434.5 83.6L433.8 82.2L432.9 80.9L432.0 79.5L431.1 78.2L430.1 76.9L429.1 75.6L428.0 74.3L426.9 73.0L425.7 71.8L424.5 70.6L423.2 69.3L422.0 68.2L420.6 67.0L419.2 65.8L417.8 64.7L416.4 63.6L414.9 62.5L413.3 61.4L411.8 60.3L410.2 59.3L408.5 58.3L406.8 57.3L405.1 56.3L403.4 55.4L401.6 54.5L399.8 53.6L397.9 52.7L396.0 51.9L394.1 51.1L392.2 50.3L390.2 49.5L388.2 48.8L386.2 48.1L384.1 47.4L382.1 46.8L380.0 46.1L377.9 45.5L375.7 45.0L373.5 44.4L371.4 43.9L369.2 43.5L366.9 43.0L364.7 42.6L362.4 42.2L360.2 41.8L357.9 41.5L355.6 41.2L353.3 41.0L351.0 40.7L348.6 40.5L346.3 40.4L344.0 40.2L341.6 40.1L339.3 40.0L336.9 40.0L334.5 40.0M443.7 109.5L443.8 108.0L443.9 106.5L443.9 105.1L443.8 103.6L443.7 102.1L443.5 100.7L443.3 99.2L443.1 97.7L442.8 96.3L442.5 94.8L442.1 93.4L441.6 91.9L441.1 90.5L440.6 89.1L440.0 87.7L439.4 86.3L438.7 84.9L437.9 83.5L437.2 82.1L436.3 80.8L435.5 79.4L434.6 78.1L433.6 76.8L432.6 75.5L431.6 74.2L430.5 72.9L429.3 71.6L428.2 70.4L426.9 69.1L425.7 67.9L424.4 66.7L423.0 65.6L421.6 64.4L420.2 63.3L418.8 62.2L417.3 61.1L415.7 60.0L414.1 58.9L412.5 57.9L410.9 56.9L409.2 55.9L407.5 54.9L405.7 54.0L404.0 53.1L402.1 52.2L400.3 51.3L398.4 50.4L396.5 49.6L394.6 48.8L392.6 48.1L390.6 47.3L388.6 46.6L386.6 45.9L384.5 45.2L382.4 44.6L380.3 44.0L378.2 43.4L376.0 42.9L373.8 42.3L371.6 41.8L369.4 41.4L367.2 40.9L364.9 40.5L362.7 40.2L360.4 39.8L358.1 39.5L355.8 39.2L353.5 38.9L351.2 38.7L348.8 38.5L346.5 38.4L344.1 38.2L341.8 38.1L339.4 38.0L337.1 38.0L334.7 38.0M446.9 109.5L447.0 108.2L447.1 107.0L447.1 105.7L447.0 104.5L447.0 103.2L446.9 102.0L446.8 100.7L446.6 99.5L446.4 98.2L446.2 97.0L445.9 95.8L445.6 94.5L445.3 93.3L444.9 92.1L444.6 90.9L444.1 89.7L443.7 88.5L443.2 87.3L442.6 86.1L442.1 84.9L441.5 83.7L440.8 82.5L440.2 81.4L439.5 80.2L438.8 79.1L438.0 77.9L437.2 76.8L436.4 75.7L435.5 74.6L434.6 73.5L433.7 72.4L432.8 71.3L431.8 70.2L430.8 69.2L429.8 68.1L428.7 67.1L427.6 66.1L426.5 65.1L425.3 64.1L424.2 63.1L423.0 62.1L421.7 61.2L420.5 60.2L419.2 59.3L417.9 58.4L416.5 57.5L415.1 56.6L413.8 55.8L412.3 54.9L410.9 54.1L409.4 53.3L407.9 52.5L406.4 51.7L404.9 50.9L403.3 50.2L401.8 49.4L400.2 48.7L398.6 48.0L396.9 47.3L395.3 46.7L393.6 46.0L391.9 45.4L390.2 44.8L388.4 44.2L386.7 43.7L384.9 43.1L383.1 42.6L381.3 42.1L379.5 41.6L377.7 41.1L375.8 40.7L374.0 40.2L372.1 39.8L370.2 39.4L368.3 39.1L366.4 38.7L364.5 38.4L362.6 38.1L360.7 37.8L358.7 37.5L356.8 37.3L354.8 37.0L352.8 36.8L350.8 36.7L348.9 36.5L346.9 36.4L344.9 36.2L342.9 36.2L340.9 36.1L338.9 36.0L336.9 36.0L334.8 36.0M452.8 109.5L452.9 108.3L452.9 107.0L453.0 105.8L453.0 104.6L452.9 103.3L452.8 102.1L452.7 100.9L452.6 99.6L452.4 98.4L452.2 97.2L452.0 96.0L451.7 94.7L451.4 93.5L451.1 92.3L450.7 91.1L450.3 89.9L449.9 88.7L449.4 87.5L449.0 86.4L448.4 85.2L447.9 84.0L447.3 82.8L446.7 81.7L446.1 80.5L445.4 79.4L444.7 78.3L444.0 77.1L443.2 76.0L442.4 74.9L441.6 73.8L440.8 72.7L439.9 71.6L439.0 70.5L438.1 69.5L437.1 68.4L436.1 67.4L435.1 66.4L434.1 65.3L433.0 64.3L431.9 63.3L430.8 62.3L429.6 61.4L428.5 60.4L427.3 59.5L426.0 58.5L424.8 57.6L423.5 56.7L422.2 55.8L420.9 54.9L419.5 54.0L418.2 53.2L416.8 52.4L415.4 51.5L413.9 50.7L412.5 49.9L411.0 49.1L409.5 48.4L408.0 47.6L406.4 46.9L404.9 46.2L403.3 45.5L401.7 44.8L400.1 44.1L398.4 43.5L396.8 42.9L395.1 42.2L393.4 41.6L391.7 41.1L390.0 40.5L388.2 39.9L386.5 39.4L384.7 38.9L382.9 38.4L381.1 37.9L379.3 37.5L377.5 37.1L375.7 36.6L373.8 36.2L372.0 35.9L370.1 35.5L368.2 35.2L366.3 34.8L364.4 34.5L362.5 34.2L360.6 34.0L358.7 33.7L356.8 33.5L354.8 33.3L352.9 33.1L350.9 32.9L349.0 32.8L347.0 32.7L345.0 32.6L343.1 32.5L341.1 32.4L339.1 32.3L337.1 32.3L335.1 32.3M458.7 109.5L458.8 108.3L458.8 107.0L458.9 105.8L458.9 104.5L458.8 103.3L458.8 102.0L458.7 100.8L458.5 99.6L458.4 98.3L458.2 97.1L457.9 95.9L457.7 94.6L457.4 93.4L457.1 92.2L456.7 91.0L456.4 89.8L456.0 88.6L455.5 87.4L455.1 86.2L454.6 85.0L454.0 83.8L453.5 82.6L452.9 81.5L452.3 80.3L451.6 79.1L451.0 78.0L450.3 76.8L449.5 75.7L448.8 74.6L448.0 73.5L447.2 72.3L446.3 71.2L445.4 70.1L444.5 69.1L443.6 68.0L442.7 66.9L441.7 65.9L440.7 64.8L439.6 63.8L438.6 62.8L437.5 61.8L436.4 60.8L435.2 59.8L434.1 58.8L432.9 57.8L431.7 56.9L430.4 55.9L429.2 55.0L427.9 54.1L426.6 53.2L425.3 52.3L423.9 51.4L422.5 50.6L421.1 49.7L419.7 48.9L418.3 48.1L416.8 47.3L415.3 46.5L413.8 45.7L412.3 45.0L410.8 44.2L409.2 43.5L407.6 42.8L406.0 42.1L404.4 41.4L402.7 40.7L401.1 40.1L399.4 39.5L397.7 38.8L396.0 38.3L394.3 37.7L392.6 37.1L390.8 36.6L389.1 36.0L387.3 35.5L385.5 35.0L383.7 34.5L381.8 34.1L380.0 33.6L378.2 33.2L376.3 32.8L374.4 32.4L372.6 32.1L370.7 31.7L368.8 31.4L366.9 31.1L365.0 30.8L363.0 30.5L361.1 30.2L359.1 30.0L357.2 29.8L355.2 29.6L353.3 29.4L351.3 29.2L349.3 29.1L347.4 29.0L345.4 28.9L343.4 28.8L341.4 28.7L339.4 28.7L337.4 28.6L335.4 28.6M464.6 109.5L464.7 108.2L464.7 107.0L464.8 105.7L464.8 104.5L464.7 103.2L464.7 102.0L464.6 100.7L464.5 99.5L464.3 98.3L464.1 97.0L463.9 95.8L463.7 94.5L463.4 93.3L463.1 92.1L462.8 90.9L462.4 89.6L462.0 88.4L461.6 87.2L461.1 86.0L460.7 84.8L460.2 83.6L459.6 82.4L459.1 81.2L458.5 80.1L457.8 78.9L457.2 77.7L456.5 76.6L455.8 75.4L455.1 74.3L454.3 73.1L453.5 72.0L452.7 70.9L451.9 69.8L451.0 68.7L450.1 67.6L449.2 66.5L448.2 65.4L447.3 64.4L446.3 63.3L445.2 62.3L444.2 61.2L443.1 60.2L442.0 59.2L440.9 58.2L439.7 57.2L438.5 56.2L437.3 55.3L436.1 54.3L434.9 53.4L433.6 52.4L432.3 51.5L431.0 50.6L429.6 49.7L428.3 48.8L426.9 48.0L425.5 47.1L424.1 46.3L422.6 45.5L421.1 44.6L419.7 43.8L418.2 43.1L416.6 42.3L415.1 41.5L413.5 40.8L411.9 40.1L410.3 39.4L408.7 38.7L407.1 38.0L405.4 37.3L403.7 36.7L402.1 36.1L400.4 35.5L398.6 34.9L396.9 34.3L395.1 33.7L393.4 33.2L391.6 32.6L389.8 32.1L388.0 31.6L386.2 31.2L384.4 30.7L382.5 30.2L380.7 29.8L378.8 29.4L376.9 29.0L375.0 28.6L373.1 28.3L371.2 27.9L369.3 27.6L367.4 27.3L365.4 27.0L363.5 26.8L361.6 26.5L359.6 26.3L357.6 26.1L355.7 25.9L353.7 25.7L351.7 25.5L349.7 25.4L347.7 25.3L345.7 25.2L343.7 25.1L341.7 25.0L339.7 25.0L337.7 25.0L335.7 25.0M470.5 109.5L470.6 108.2L470.6 107.0L470.7 105.7L470.7 104.5L470.6 103.2L470.6 102.0L470.5 100.7L470.4 99.4L470.2 98.2L470.1 96.9L469.9 95.7L469.6 94.5L469.4 93.2L469.1 92.0L468.8 90.7L468.4 89.5L468.0 88.3L467.6 87.1L467.2 85.9L466.7 84.6L466.3 83.4L465.7 82.2L465.2 81.0L464.6 79.9L464.0 78.7L463.4 77.5L462.8 76.3L462.1 75.2L461.4 74.0L460.6 72.9L459.9 71.7L459.1 70.6L458.3 69.4L457.4 68.3L456.6 67.2L455.7 66.1L454.7 65.0L453.8 63.9L452.8 62.9L451.8 61.8L450.8 60.7L449.8 59.7L448.7 58.7L447.6 57.6L446.5 56.6L445.3 55.6L444.2 54.6L443.0 53.7L441.8 52.7L440.5 51.7L439.3 50.8L438.0 49.8L436.7 48.9L435.4 48.0L434.0 47.1L432.6 46.2L431.3 45.4L429.8 44.5L428.4 43.7L427.0 42.8L425.5 42.0L424.0 41.2L422.5 40.4L421.0 39.6L419.4 38.9L417.8 38.1L416.3 37.4L414.7 36.7L413.0 36.0L411.4 35.3L409.7 34.6L408.1 33.9L406.4 33.3L404.7 32.7L403.0 32.1L401.2 31.5L399.5 30.9L397.7 30.3L395.9 29.8L394.2 29.2L392.4 28.7L390.5 28.2L388.7 27.8L386.9 27.3L385.0 26.8L383.2 26.4L381.3 26.0L379.4 25.6L377.5 25.2L375.6 24.8L373.7 24.5L371.8 24.2L369.8 23.9L367.9 23.6L365.9 23.3L364.0 23.0L362.0 22.8L360.0 22.6L358.1 22.4L356.1 22.2L354.1 22.0L352.1 21.9L350.1 21.7L348.1 21.6L346.1 21.5L344.1 21.4L342.1 21.4L340.0 21.3L338.0 21.3L336.0 21.3M476.4 109.5L476.5 108.2L476.5 106.9L476.6 105.6L476.6 104.3L476.5 102.9L476.5 101.6L476.4 100.3L476.3 99.0L476.1 97.7L475.9 96.4L475.7 95.1L475.5 93.8L475.2 92.5L474.9 91.2L474.6 90.0L474.2 88.7L473.8 87.4L473.4 86.1L473.0 84.9L472.5 83.6L472.0 82.4L471.4 81.1L470.9 79.9L470.3 78.6L469.7 77.4L469.0 76.2L468.3 74.9L467.6 73.7L466.9 72.5L466.1 71.3L465.3 70.1L464.5 69.0L463.6 67.8L462.8 66.6L461.9 65.5L460.9 64.3L460.0 63.2L459.0 62.0L458.0 60.9L456.9 59.8L455.9 58.7L454.8 57.6L453.7 56.5L452.5 55.5L451.4 54.4L450.2 53.4L449.0 52.3L447.7 51.3L446.5 50.3L445.2 49.3L443.9 48.3L442.5 47.4L441.2 46.4L439.8 45.5L438.4 44.5L437.0 43.6L435.5 42.7L434.0 41.8L432.6 40.9L431.0 40.0L429.5 39.2L428.0 38.4L426.4 37.5L424.8 36.7L423.2 35.9L421.5 35.2L419.9 34.4L418.2 33.6L416.5 32.9L414.8 32.2L413.1 31.5L411.4 30.8L409.6 30.1L407.8 29.5L406.0 28.8L404.2 28.2L402.4 27.6L400.6 27.0L398.7 26.5L396.9 25.9L395.0 25.4L393.1 24.8L391.2 24.3L389.3 23.9L387.4 23.4L385.4 22.9L383.5 22.5L381.5 22.1L379.5 21.7L377.5 21.3L375.5 21.0L373.5 20.6L371.5 20.3L369.5 20.0L367.5 19.7L365.4 19.4L363.4 19.2L361.3 18.9L359.3 18.7L357.2 18.5L355.1 18.4L353.1 18.2L351.0 18.1L348.9 17.9L346.8 17.8L344.7 17.7L342.6 17.7L340.5 17.6L338.4 17.6L336.3 17.6"/><path fill="none" stroke="#000" stroke-opacity="0.25" stroke-width="0.55" d="M329.0 109.5L333.9 108.3M329.0 109.5L332.8 107.2M329.0 109.5L331.2 106.5M333.9 108.3L338.7 107.0M332.8 107.2L336.7 105.0M331.2 106.5L333.4 103.6M338.7 107.0L343.6 105.8M336.7 105.0L340.5 102.7M333.4 103.6L335.6 100.6M344.1 107.0L349.2 106.2M342.8 104.7L347.4 103.1M340.5 102.7L344.3 100.4M337.4 101.1L340.2 98.4M333.7 100.2L335.3 97.1M349.4 107.0L354.5 106.4M348.5 104.6L353.3 103.3M346.7 102.4L351.2 100.6M344.3 100.4L348.1 98.1M341.3 98.8L344.4 96.1M337.8 97.6L340.1 94.6M334.0 96.9L335.3 93.7M354.6 106.7L359.7 106.1M353.7 104.0L358.6 102.9M352.0 101.5L356.6 99.9M349.6 99.2L353.7 97.1M346.6 97.2L350.1 94.7M343.0 95.6L345.8 92.8M339.0 94.4L341.0 91.4M334.7 93.7L335.9 90.5M359.9 106.8L365.0 106.3M359.1 104.1L364.2 103.2M357.8 101.5L362.6 100.1M355.9 99.1L360.3 97.3M353.4 96.9L357.5 94.8M350.4 94.9L354.0 92.5M347.0 93.3L350.0 90.6M343.3 91.9L345.6 89.0M339.2 91.0L340.9 87.9M334.9 90.4L335.9 87.2M365.1 106.8L370.2 106.4M364.5 104.1L369.6 103.3M363.4 101.5L368.3 100.4M361.8 99.0L366.5 97.5M359.7 96.7L364.1 94.9M357.2 94.6L361.2 92.4M354.3 92.6L357.9 90.2M351.0 91.0L354.1 88.3M347.4 89.6L350.0 86.7M343.5 88.4L345.5 85.4M339.4 87.6L340.9 84.5M335.1 87.1L336.0 84.0M334.2 109.5L334.1 108.9L333.9 108.3L333.4 107.7L332.8 107.2L332.1 106.8L331.2 106.5L330.3 106.3L329.3 106.3M339.3 109.5L339.2 108.2L338.7 107.0L337.9 105.9L336.7 105.0L335.2 104.2L333.4 103.6L331.5 103.2L329.5 103.1M344.5 109.5L344.4 108.2L344.1 107.0L343.6 105.8L342.8 104.7L341.7 103.6L340.5 102.7L339.0 101.8L337.4 101.1L335.6 100.6L333.7 100.2L331.8 99.9L329.8 99.9M349.6 109.5L349.6 108.2L349.4 107.0L349.0 105.8L348.5 104.6L347.7 103.4L346.7 102.4L345.6 101.3L344.3 100.4L342.9 99.6L341.3 98.8L339.6 98.2L337.8 97.6L336.0 97.2L334.0 96.9L332.0 96.7L330.0 96.6M354.8 109.5L354.8 108.1L354.6 106.7L354.2 105.3L353.7 104.0L352.9 102.7L352.0 101.5L350.9 100.3L349.6 99.2L348.1 98.1L346.6 97.2L344.8 96.3L343.0 95.6L341.1 94.9L339.0 94.4L336.9 94.0L334.7 93.7L332.5 93.5L330.3 93.4M360.0 109.5L360.0 108.1L359.9 106.8L359.6 105.4L359.1 104.1L358.5 102.8L357.8 101.5L356.9 100.3L355.9 99.1L354.7 97.9L353.4 96.9L352.0 95.9L350.4 94.9L348.8 94.1L347.0 93.3L345.2 92.6L343.3 91.9L341.3 91.4L339.2 91.0L337.1 90.6L334.9 90.4L332.7 90.3L330.5 90.2M365.1 109.5L365.2 108.1L365.1 106.8L364.8 105.4L364.5 104.1L364.0 102.8L363.4 101.5L362.7 100.3L361.8 99.0L360.8 97.9L359.7 96.7L358.5 95.6L357.2 94.6L355.8 93.6L354.3 92.6L352.7 91.8L351.0 91.0L349.2 90.2L347.4 89.6L345.5 89.0L343.5 88.4L341.5 88.0L339.4 87.6L337.3 87.4L335.1 87.1L333.0 87.0L330.8 87.0"/></g></g>
<text class="hd2" x="478" y="20.6">S, Mises</text>
<text class="hd2" x="478" y="27.7">SNEG, (fraction = -1.0)</text>
<text class="hd2" x="478" y="35.0">(Avg: 75%)</text>
<rect x="477.90" y="39.40" width="8.35" height="5.83" fill="#FF0000"/><rect x="477.90" y="45.18" width="8.35" height="5.83" fill="#FF5D00"/><rect x="477.90" y="50.96" width="8.35" height="5.83" fill="#FFB900"/><rect x="477.90" y="56.74" width="8.35" height="5.83" fill="#E8FF00"/><rect x="477.90" y="62.52" width="8.35" height="5.83" fill="#8BFF00"/><rect x="477.90" y="68.30" width="8.35" height="5.83" fill="#2EFF00"/><rect x="477.90" y="74.08" width="8.35" height="5.83" fill="#00FF2E"/><rect x="477.90" y="79.86" width="8.35" height="5.83" fill="#00FF8B"/><rect x="477.90" y="85.64" width="8.35" height="5.83" fill="#00FFE8"/><rect x="477.90" y="91.42" width="8.35" height="5.83" fill="#00B9FF"/><rect x="477.90" y="97.20" width="8.35" height="5.83" fill="#005DFF"/><rect x="477.90" y="102.98" width="8.35" height="5.83" fill="#0000FF"/><line x1="477.90" y1="39.40" x2="488.75" y2="39.40" stroke="#222" stroke-opacity="0.5" stroke-width="0.6"/><text x="507.60" y="41.00" class="lg" text-anchor="end">160.0</text><line x1="477.90" y1="45.18" x2="488.75" y2="45.18" stroke="#222" stroke-opacity="0.5" stroke-width="0.6"/><text x="507.60" y="46.78" class="lg" text-anchor="end">146.7</text><line x1="477.90" y1="50.96" x2="488.75" y2="50.96" stroke="#222" stroke-opacity="0.5" stroke-width="0.6"/><text x="507.60" y="52.56" class="lg" text-anchor="end">133.3</text><line x1="477.90" y1="56.74" x2="488.75" y2="56.74" stroke="#222" stroke-opacity="0.5" stroke-width="0.6"/><text x="507.60" y="58.34" class="lg" text-anchor="end">120.0</text><line x1="477.90" y1="62.52" x2="488.75" y2="62.52" stroke="#222" stroke-opacity="0.5" stroke-width="0.6"/><text x="507.60" y="64.12" class="lg" text-anchor="end">106.7</text><line x1="477.90" y1="68.30" x2="488.75" y2="68.30" stroke="#222" stroke-opacity="0.5" stroke-width="0.6"/><text x="507.60" y="69.90" class="lg" text-anchor="end">93.3</text><line x1="477.90" y1="74.08" x2="488.75" y2="74.08" stroke="#222" stroke-opacity="0.5" stroke-width="0.6"/><text x="507.60" y="75.68" class="lg" text-anchor="end">80.0</text><line x1="477.90" y1="79.86" x2="488.75" y2="79.86" stroke="#222" stroke-opacity="0.5" stroke-width="0.6"/><text x="507.60" y="81.46" class="lg" text-anchor="end">66.7</text><line x1="477.90" y1="85.64" x2="488.75" y2="85.64" stroke="#222" stroke-opacity="0.5" stroke-width="0.6"/><text x="507.60" y="87.24" class="lg" text-anchor="end">53.3</text><line x1="477.90" y1="91.42" x2="488.75" y2="91.42" stroke="#222" stroke-opacity="0.5" stroke-width="0.6"/><text x="507.60" y="93.02" class="lg" text-anchor="end">40.0</text><line x1="477.90" y1="97.20" x2="488.75" y2="97.20" stroke="#222" stroke-opacity="0.5" stroke-width="0.6"/><text x="507.60" y="98.80" class="lg" text-anchor="end">26.7</text><line x1="477.90" y1="102.98" x2="488.75" y2="102.98" stroke="#222" stroke-opacity="0.5" stroke-width="0.6"/><text x="507.60" y="104.58" class="lg" text-anchor="end">13.3</text><line x1="477.90" y1="108.76" x2="488.75" y2="108.76" stroke="#222" stroke-opacity="0.5" stroke-width="0.6"/><text x="507.60" y="110.36" class="lg" text-anchor="end">0.0</text>
<text class="rd" x="298" y="96.5">RD=X</text>
<text class="rd" x="335.6" y="122.5">TD=Z</text>
<path d="M324.9 112.8L327.1 94" stroke="#222" stroke-width="1.1" fill="none"/>
<path d="M327.5 90.1L329.6 96L325.1 95.6Z" fill="#222"/>
<path d="M325 112.8L344.5 112.8" stroke="#222" stroke-width="1.1" fill="none"/>
<path d="M348.5 112.8L343 115.1L343 110.5Z" fill="#222"/>
<text class="cap" x="398.7" y="145.3">(b)</text>
<rect x="38.50" y="164.60" width="222.20" height="169.50" fill="none" stroke="#666" stroke-width="1"/><line x1="38.50" y1="164.60" x2="40.70" y2="164.60" stroke="#666" stroke-width="0.8"/><line x1="258.50" y1="164.60" x2="260.70" y2="164.60" stroke="#666" stroke-width="0.8"/><text class="ax" x="35.80" y="169.10" text-anchor="end">0</text><line x1="38.50" y1="192.85" x2="40.70" y2="192.85" stroke="#666" stroke-width="0.8"/><line x1="258.50" y1="192.85" x2="260.70" y2="192.85" stroke="#666" stroke-width="0.8"/><text class="ax" x="35.80" y="197.35" text-anchor="end">-2</text><line x1="38.50" y1="221.10" x2="40.70" y2="221.10" stroke="#666" stroke-width="0.8"/><line x1="258.50" y1="221.10" x2="260.70" y2="221.10" stroke="#666" stroke-width="0.8"/><text class="ax" x="35.80" y="225.60" text-anchor="end">-4</text><line x1="38.50" y1="249.35" x2="40.70" y2="249.35" stroke="#666" stroke-width="0.8"/><line x1="258.50" y1="249.35" x2="260.70" y2="249.35" stroke="#666" stroke-width="0.8"/><text class="ax" x="35.80" y="253.85" text-anchor="end">-6</text><line x1="38.50" y1="277.60" x2="40.70" y2="277.60" stroke="#666" stroke-width="0.8"/><line x1="258.50" y1="277.60" x2="260.70" y2="277.60" stroke="#666" stroke-width="0.8"/><text class="ax" x="35.80" y="282.10" text-anchor="end">-8</text><line x1="38.50" y1="305.85" x2="40.70" y2="305.85" stroke="#666" stroke-width="0.8"/><line x1="258.50" y1="305.85" x2="260.70" y2="305.85" stroke="#666" stroke-width="0.8"/><text class="ax" x="35.80" y="310.35" text-anchor="end">-10</text><line x1="38.50" y1="334.10" x2="40.70" y2="334.10" stroke="#666" stroke-width="0.8"/><line x1="258.50" y1="334.10" x2="260.70" y2="334.10" stroke="#666" stroke-width="0.8"/><text class="ax" x="35.80" y="338.60" text-anchor="end">-12</text><line x1="38.50" y1="334.10" x2="38.50" y2="331.90" stroke="#666" stroke-width="0.8"/><line x1="38.50" y1="164.60" x2="38.50" y2="166.80" stroke="#666" stroke-width="0.8"/><text class="ax" x="38.50" y="348.60" text-anchor="middle">0</text><line x1="85.70" y1="334.10" x2="85.70" y2="331.90" stroke="#666" stroke-width="0.8"/><line x1="85.70" y1="164.60" x2="85.70" y2="166.80" stroke="#666" stroke-width="0.8"/><text class="ax" x="85.70" y="348.60" text-anchor="middle">10</text><line x1="132.90" y1="334.10" x2="132.90" y2="331.90" stroke="#666" stroke-width="0.8"/><line x1="132.90" y1="164.60" x2="132.90" y2="166.80" stroke="#666" stroke-width="0.8"/><text class="ax" x="132.90" y="348.60" text-anchor="middle">20</text><line x1="180.10" y1="334.10" x2="180.10" y2="331.90" stroke="#666" stroke-width="0.8"/><line x1="180.10" y1="164.60" x2="180.10" y2="166.80" stroke="#666" stroke-width="0.8"/><text class="ax" x="180.10" y="348.60" text-anchor="middle">30</text><line x1="227.30" y1="334.10" x2="227.30" y2="331.90" stroke="#666" stroke-width="0.8"/><line x1="227.30" y1="164.60" x2="227.30" y2="166.80" stroke="#666" stroke-width="0.8"/><text class="ax" x="227.30" y="348.60" text-anchor="middle">40</text><text class="al" x="149.50" y="365.30" text-anchor="middle">z [mm]</text><text class="al" transform="translate(15.50,249.5) rotate(-90)" x="0" y="0" text-anchor="middle">y [mm]</text><text class="cap" x="127.00" y="385" >(c)</text><path d="M38.50 333.50C50.42 333.50 95.58 333.53 110.00 333.50C124.42 333.47 120.98 333.48 125.00 333.30C129.02 333.12 131.57 333.18 134.10 332.40C136.63 331.62 138.17 330.50 140.20 328.60C142.23 326.70 144.52 324.02 146.30 321.00C148.08 317.98 149.62 314.03 150.90 310.50C152.18 306.97 153.12 303.37 154.00 299.80C154.88 296.23 155.57 292.73 156.20 289.10C156.83 285.47 157.33 284.52 157.80 278.00C158.27 271.48 158.57 259.33 159.00 250.00C159.43 240.67 159.65 229.83 160.40 222.00C161.15 214.17 162.45 208.25 163.50 203.00C164.55 197.75 165.42 194.57 166.70 190.50C167.98 186.43 169.67 181.78 171.20 178.60C172.73 175.42 174.35 173.33 175.90 171.40C177.45 169.47 178.72 168.03 180.50 167.00C182.28 165.97 184.18 165.53 186.60 165.20C189.02 164.87 182.68 165.03 195.00 165.00C207.32 164.97 249.58 165.00 260.50 165.00" fill="none" stroke="#ff1a1a" stroke-width="1.45"/><path d="M38.75 333.70C50.67 333.67 95.83 333.60 110.25 333.50C124.67 333.40 121.23 333.30 125.25 333.10C129.27 332.90 131.75 333.07 134.35 332.30C136.95 331.53 138.73 330.43 140.85 328.50C142.97 326.57 145.25 323.75 147.05 320.70C148.85 317.65 150.37 313.73 151.65 310.20C152.93 306.67 153.87 303.07 154.75 299.50C155.63 295.93 156.32 292.43 156.95 288.80C157.58 285.17 158.07 284.22 158.55 277.70C159.03 271.18 159.30 259.03 159.85 249.70C160.40 240.37 160.95 229.53 161.85 221.70C162.75 213.87 164.13 207.90 165.25 202.70C166.37 197.50 167.23 194.28 168.55 190.50C169.87 186.72 171.63 182.97 173.15 180.00C174.67 177.03 176.00 174.53 177.65 172.70C179.30 170.87 181.31 169.97 183.05 169.00C184.79 168.03 186.11 167.28 188.10 166.90C190.09 166.52 182.93 166.73 195.00 166.70C207.07 166.67 249.58 166.70 260.50 166.70" fill="none" stroke="#1a1aff" stroke-width="1.45" stroke-dasharray="4 2.5"/><path d="M38.50 334.00C50.42 333.97 95.58 333.90 110.00 333.80C124.42 333.70 120.98 333.60 125.00 333.40C129.02 333.20 131.50 333.37 134.10 332.60C136.70 331.83 138.48 330.73 140.60 328.80C142.72 326.87 145.00 324.05 146.80 321.00C148.60 317.95 150.12 314.03 151.40 310.50C152.68 306.97 153.62 303.37 154.50 299.80C155.38 296.23 156.07 292.73 156.70 289.10C157.33 285.47 157.82 284.52 158.30 278.00C158.78 271.48 159.05 259.33 159.60 250.00C160.15 240.67 160.70 229.83 161.60 222.00C162.50 214.17 163.88 208.20 165.00 203.00C166.12 197.80 166.98 194.58 168.30 190.80C169.62 187.02 171.38 183.27 172.90 180.30C174.42 177.33 175.75 174.83 177.40 173.00C179.05 171.17 181.02 170.07 182.80 169.30C184.58 168.53 186.07 168.58 188.10 168.40C190.13 168.22 182.93 168.23 195.00 168.20C207.07 168.17 249.58 168.20 260.50 168.20" fill="none" stroke="#22ee22" stroke-width="1.45"/><line x1="45.7" y1="180" x2="66.5" y2="180" stroke="#ff1a1a" stroke-width="1.7"/><line x1="45.7" y1="192.3" x2="66.5" y2="192.3" stroke="#1a1aff" stroke-width="1.7" stroke-dasharray="4.7 3.3"/><line x1="45.7" y1="204.5" x2="66.5" y2="204.5" stroke="#22ee22" stroke-width="1.7"/><text class="le" x="68.3" y="184.1">After forming</text><text class="le" x="68.3" y="196.4">After springback</text><text class="le" x="68.3" y="208.5"><tspan textLength="80.2" lengthAdjust="spacing">After relieving residual</tspan> <tspan font-weight="bold" font-size="9.4">f</tspan><tspan font-size="7.4" dy="3.6">v</tspan></text>
<rect x="317.00" y="165.00" width="218.50" height="168.80" fill="none" stroke="#666" stroke-width="1"/><line x1="317.00" y1="165.00" x2="319.20" y2="165.00" stroke="#666" stroke-width="0.8"/><line x1="533.30" y1="165.00" x2="535.50" y2="165.00" stroke="#666" stroke-width="0.8"/><text class="ax" x="314.30" y="169.50" text-anchor="end">0</text><line x1="317.00" y1="198.76" x2="319.20" y2="198.76" stroke="#666" stroke-width="0.8"/><line x1="533.30" y1="198.76" x2="535.50" y2="198.76" stroke="#666" stroke-width="0.8"/><text class="ax" x="314.30" y="203.26" text-anchor="end">-0.05</text><line x1="317.00" y1="232.52" x2="319.20" y2="232.52" stroke="#666" stroke-width="0.8"/><line x1="533.30" y1="232.52" x2="535.50" y2="232.52" stroke="#666" stroke-width="0.8"/><text class="ax" x="314.30" y="237.02" text-anchor="end">-0.1</text><line x1="317.00" y1="266.28" x2="319.20" y2="266.28" stroke="#666" stroke-width="0.8"/><line x1="533.30" y1="266.28" x2="535.50" y2="266.28" stroke="#666" stroke-width="0.8"/><text class="ax" x="314.30" y="270.78" text-anchor="end">-0.15</text><line x1="317.00" y1="300.04" x2="319.20" y2="300.04" stroke="#666" stroke-width="0.8"/><line x1="533.30" y1="300.04" x2="535.50" y2="300.04" stroke="#666" stroke-width="0.8"/><text class="ax" x="314.30" y="304.54" text-anchor="end">-0.2</text><line x1="317.00" y1="333.80" x2="319.20" y2="333.80" stroke="#666" stroke-width="0.8"/><line x1="533.30" y1="333.80" x2="535.50" y2="333.80" stroke="#666" stroke-width="0.8"/><text class="ax" x="314.30" y="338.30" text-anchor="end">-0.25</text><line x1="317.00" y1="333.80" x2="317.00" y2="331.60" stroke="#666" stroke-width="0.8"/><line x1="317.00" y1="165.00" x2="317.00" y2="167.20" stroke="#666" stroke-width="0.8"/><text class="ax" x="317.00" y="348.30" text-anchor="middle">0</text><line x1="372.80" y1="333.80" x2="372.80" y2="331.60" stroke="#666" stroke-width="0.8"/><line x1="372.80" y1="165.00" x2="372.80" y2="167.20" stroke="#666" stroke-width="0.8"/><text class="ax" x="372.80" y="348.30" text-anchor="middle">20</text><line x1="428.60" y1="333.80" x2="428.60" y2="331.60" stroke="#666" stroke-width="0.8"/><line x1="428.60" y1="165.00" x2="428.60" y2="167.20" stroke="#666" stroke-width="0.8"/><text class="ax" x="428.60" y="348.30" text-anchor="middle">40</text><line x1="484.40" y1="333.80" x2="484.40" y2="331.60" stroke="#666" stroke-width="0.8"/><line x1="484.40" y1="165.00" x2="484.40" y2="167.20" stroke="#666" stroke-width="0.8"/><text class="ax" x="484.40" y="348.30" text-anchor="middle">60</text><text class="al" x="425.30" y="365.30" text-anchor="middle">Distance [mm]</text><text class="al" transform="translate(283.80,249.5) rotate(-90)" x="0" y="0" text-anchor="middle">y [mm]</text><text class="cap" x="398.00" y="385" >(d)</text><line x1="317" y1="165.1" x2="535.5" y2="165.1" stroke="#ff1a1a" stroke-width="1.6"/><path d="M317.00 295.51L320.64 295.22L324.28 294.81L327.92 294.28L331.56 293.63L335.20 292.88L338.85 292.03L342.49 291.09L346.13 290.07L349.77 288.98L353.41 287.83L357.05 286.64L360.69 285.41L364.33 284.17L367.97 282.91L371.61 281.66L375.26 280.43L378.90 279.22L382.54 278.06L386.18 276.96L389.82 275.92L393.46 274.95L397.10 274.07L400.74 273.29L404.38 272.62L408.02 272.05L411.66 271.60L415.31 271.28L418.95 271.08L422.59 271.01L426.23 271.08L429.87 271.27L433.51 271.60L437.15 272.05L440.79 272.63L444.43 273.33L448.07 274.14L451.72 275.07L455.36 276.09L459.00 277.20L462.64 278.40L466.28 279.66L469.92 280.99L473.56 282.36L477.20 283.77L480.84 285.20L484.48 286.64L488.12 288.08L491.77 289.51L495.41 290.91L499.05 292.26L502.69 293.57L506.33 294.81L509.97 295.98L513.61 297.06L517.25 298.05L520.89 298.93L524.53 299.71L528.18 300.36L531.82 300.90L535.46 301.31" fill="none" stroke="#1a1aff" stroke-width="1.6" stroke-dasharray="4.6 3.0"/><path d="M317.00 320.53L320.64 320.21L324.28 319.77L327.92 319.20L331.56 318.51L335.20 317.72L338.85 316.82L342.49 315.83L346.13 314.76L349.77 313.61L353.41 312.41L357.05 311.15L360.69 309.87L364.33 308.56L367.97 307.24L371.61 305.93L375.26 304.63L378.90 303.37L382.54 302.15L386.18 300.99L389.82 299.89L393.46 298.88L397.10 297.95L400.74 297.13L404.38 296.41L408.02 295.81L411.66 295.33L415.31 294.98L418.95 294.76L422.59 294.67L426.23 294.72L429.87 294.91L433.51 295.23L437.15 295.69L440.79 296.27L444.43 296.98L448.07 297.81L451.72 298.76L455.36 299.80L459.00 300.94L462.64 302.16L466.28 303.46L469.92 304.82L473.56 306.23L477.20 307.68L480.84 309.15L484.48 310.63L488.12 312.11L491.77 313.57L495.41 315.01L499.05 316.40L502.69 317.74L506.33 319.01L509.97 320.21L513.61 321.32L517.25 322.33L520.89 323.23L524.53 324.02L528.18 324.69L531.82 325.23L535.46 325.64" fill="none" stroke="#22ee22" stroke-width="1.6"/><line x1="414.3" y1="179" x2="434.8" y2="179" stroke="#ff1a1a" stroke-width="1.25"/><line x1="414.3" y1="190.8" x2="434.8" y2="190.8" stroke="#1a1aff" stroke-width="1.4" stroke-dasharray="4.7 3.3"/><line x1="414.3" y1="202.6" x2="434.8" y2="202.6" stroke="#22ee22" stroke-width="1.25"/><text class="le" x="436.4" y="183.0">After forming</text><text class="le" x="436.4" y="194.9">After springback</text><text class="le" x="436.4" y="206.6"><tspan textLength="80.2" lengthAdjust="spacing">After relieving residual</tspan> <tspan font-weight="bold" font-size="9.4">f</tspan><tspan font-size="7.4" dy="3.6">v</tspan></text>
</g>
</svg>
</body></html>
